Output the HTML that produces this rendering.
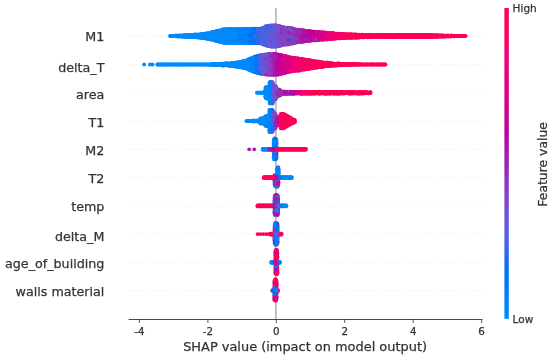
<!DOCTYPE html>
<html lang="en"><head><meta charset="utf-8"><title>SHAP summary plot</title>
<style>html,body{margin:0;padding:0;background:#fff}svg{display:block}text{font-family:"DejaVu Sans","Liberation Sans",sans-serif;fill:#333;stroke:#333;stroke-width:0.25px}.yl{font-size:12.7px;text-anchor:end}.xt{font-size:10.3px;text-anchor:middle}.xl{font-size:12.93px;text-anchor:middle}.cb{font-size:10.5px}.fv{font-size:12.4px;text-anchor:middle}
.k0{fill:#008bfb}
.k1{fill:#0087fa}
.k2{fill:#0083f8}
.k3{fill:#0080f7}
.k4{fill:#007cf5}
.k5{fill:#0078f3}
.k6{fill:#0074f0}
.k7{fill:#0070ed}
.k8{fill:#296bea}
.k9{fill:#3f67e6}
.k10{fill:#4e62e2}
.k11{fill:#5b5dde}
.k12{fill:#6658d9}
.k13{fill:#6f52d4}
.k14{fill:#784dcf}
.k15{fill:#8047c9}
.k16{fill:#8740c3}
.k17{fill:#8d39bd}
.k18{fill:#9331b7}
.k19{fill:#9828b0}
.k20{fill:#9f20ab}
.k21{fill:#a819a8}
.k22{fill:#b010a5}
.k23{fill:#b803a1}
.k24{fill:#bf009d}
.k25{fill:#c60099}
.k26{fill:#cd0095}
.k27{fill:#d30090}
.k28{fill:#d9008c}
.k29{fill:#de0087}
.k30{fill:#e30082}
.k31{fill:#e8007d}
.k32{fill:#ed0078}
.k33{fill:#f10072}
.k34{fill:#f5006d}
.k35{fill:#f80068}
.k36{fill:#fb0062}
.k37{fill:#fe005d}
.k38{fill:#ff0057}
.k39{fill:#ff0051}
</style></head><body>
<svg width="550" height="358" viewBox="0 0 550 358">
<rect width="550" height="358" fill="#fff"/>
<defs><linearGradient id="g" x1="0" y1="1" x2="0" y2="0">
<stop offset="0" stop-color="#008bfb"/>
<stop offset="0.05" stop-color="#0084f9"/>
<stop offset="0.1" stop-color="#007cf5"/>
<stop offset="0.15" stop-color="#0074f0"/>
<stop offset="0.2" stop-color="#236cea"/>
<stop offset="0.25" stop-color="#4b63e3"/>
<stop offset="0.3" stop-color="#6359da"/>
<stop offset="0.35" stop-color="#754fd1"/>
<stop offset="0.4" stop-color="#8443c6"/>
<stop offset="0.45" stop-color="#9135ba"/>
<stop offset="0.5" stop-color="#9b23ad"/>
<stop offset="0.55" stop-color="#ab15a7"/>
<stop offset="0.6" stop-color="#bb00a0"/>
<stop offset="0.65" stop-color="#c80098"/>
<stop offset="0.7" stop-color="#d5008f"/>
<stop offset="0.75" stop-color="#e00086"/>
<stop offset="0.8" stop-color="#e9007c"/>
<stop offset="0.85" stop-color="#f20072"/>
<stop offset="0.9" stop-color="#f90067"/>
<stop offset="0.95" stop-color="#fe005c"/>
<stop offset="1" stop-color="#ff0051"/>
</linearGradient></defs>
<line x1="275.9" y1="8" x2="275.9" y2="319.5" stroke="#999" stroke-width="1.2"/>
<line x1="128.6" y1="36.20" x2="482.4" y2="36.20" stroke="#ccc" stroke-width="0.6" stroke-dasharray="0.6 2.34"/>
<line x1="128.6" y1="64.47" x2="482.4" y2="64.47" stroke="#ccc" stroke-width="0.6" stroke-dasharray="0.6 2.34"/>
<line x1="128.6" y1="92.74" x2="482.4" y2="92.74" stroke="#ccc" stroke-width="0.6" stroke-dasharray="0.6 2.34"/>
<line x1="128.6" y1="121.01" x2="482.4" y2="121.01" stroke="#ccc" stroke-width="0.6" stroke-dasharray="0.6 2.34"/>
<line x1="128.6" y1="149.28" x2="482.4" y2="149.28" stroke="#ccc" stroke-width="0.6" stroke-dasharray="0.6 2.34"/>
<line x1="128.6" y1="177.55" x2="482.4" y2="177.55" stroke="#ccc" stroke-width="0.6" stroke-dasharray="0.6 2.34"/>
<line x1="128.6" y1="205.82" x2="482.4" y2="205.82" stroke="#ccc" stroke-width="0.6" stroke-dasharray="0.6 2.34"/>
<line x1="128.6" y1="234.09" x2="482.4" y2="234.09" stroke="#ccc" stroke-width="0.6" stroke-dasharray="0.6 2.34"/>
<line x1="128.6" y1="262.36" x2="482.4" y2="262.36" stroke="#ccc" stroke-width="0.6" stroke-dasharray="0.6 2.34"/>
<line x1="128.6" y1="290.63" x2="482.4" y2="290.63" stroke="#ccc" stroke-width="0.6" stroke-dasharray="0.6 2.34"/>
<g>
<circle class="k19" cx="293.9" cy="29.9" r="1.9"/>
<circle class="k1" cx="246.1" cy="37.6" r="1.9"/>
<circle class="k21" cx="304.8" cy="36.0" r="1.9"/>
<circle class="k5" cx="247.8" cy="30.2" r="1.9"/>
<circle class="k38" cx="423.1" cy="37.1" r="1.9"/>
<circle class="k6" cx="255.7" cy="42.2" r="1.9"/>
<circle class="k34" cx="331.8" cy="35.6" r="1.9"/>
<circle class="k0" cx="229.5" cy="40.7" r="1.9"/>
<circle class="k14" cx="283.9" cy="41.9" r="1.9"/>
<circle class="k11" cx="274.8" cy="42.0" r="1.9"/>
<circle class="k19" cx="296.3" cy="35.7" r="1.9"/>
<circle class="k5" cx="254.1" cy="33.0" r="1.9"/>
<circle class="k0" cx="216.7" cy="39.7" r="1.9"/>
<circle class="k26" cx="313.3" cy="39.3" r="1.9"/>
<circle class="k21" cx="304.7" cy="30.7" r="1.9"/>
<circle class="k39" cx="462.0" cy="36.0" r="1.9"/>
<circle class="k0" cx="225.0" cy="36.0" r="1.9"/>
<circle class="k31" cx="324.4" cy="32.7" r="1.9"/>
<circle class="k9" cx="270.3" cy="33.1" r="1.9"/>
<circle class="k39" cx="439.5" cy="35.6" r="1.9"/>
<circle class="k0" cx="218.6" cy="36.9" r="1.9"/>
<circle class="k11" cx="279.1" cy="42.4" r="1.9"/>
<circle class="k11" cx="258.9" cy="40.8" r="1.9"/>
<circle class="k0" cx="214.3" cy="40.1" r="1.9"/>
<circle class="k1" cx="212.4" cy="32.0" r="1.9"/>
<circle class="k21" cx="305.1" cy="30.9" r="1.9"/>
<circle class="k0" cx="198.6" cy="34.5" r="1.9"/>
<circle class="k26" cx="315.9" cy="35.3" r="1.9"/>
<circle class="k1" cx="237.4" cy="39.9" r="1.9"/>
<circle class="k0" cx="224.6" cy="39.2" r="1.9"/>
<circle class="k17" cx="292.3" cy="30.7" r="1.9"/>
<circle class="k0" cx="216.4" cy="34.1" r="1.9"/>
<circle class="k9" cx="258.3" cy="40.9" r="1.9"/>
<circle class="k0" cx="179.7" cy="36.5" r="1.9"/>
<circle class="k18" cx="291.4" cy="37.1" r="1.9"/>
<circle class="k12" cx="279.5" cy="35.9" r="1.9"/>
<circle class="k0" cx="219.0" cy="36.1" r="1.9"/>
<circle class="k12" cx="277.5" cy="45.1" r="1.9"/>
<circle class="k16" cx="290.0" cy="34.0" r="1.9"/>
<circle class="k15" cx="281.5" cy="27.0" r="1.9"/>
<circle class="k12" cx="276.3" cy="28.6" r="1.9"/>
<circle class="k3" cx="243.1" cy="36.7" r="1.9"/>
<circle class="k38" cx="366.9" cy="36.1" r="1.9"/>
<circle class="k17" cx="291.9" cy="33.7" r="1.9"/>
<circle class="k39" cx="441.4" cy="35.4" r="1.9"/>
<circle class="k9" cx="263.7" cy="27.8" r="1.9"/>
<circle class="k11" cx="259.5" cy="42.4" r="1.9"/>
<circle class="k16" cx="288.4" cy="36.3" r="1.9"/>
<circle class="k10" cx="271.5" cy="41.2" r="1.9"/>
<circle class="k3" cx="242.1" cy="29.9" r="1.9"/>
<circle class="k36" cx="351.7" cy="35.2" r="1.9"/>
<circle class="k0" cx="193.4" cy="37.3" r="1.9"/>
<circle class="k14" cx="282.7" cy="39.0" r="1.9"/>
<circle class="k27" cx="310.7" cy="37.1" r="1.9"/>
<circle class="k16" cx="286.3" cy="41.9" r="1.9"/>
<circle class="k27" cx="312.6" cy="33.8" r="1.9"/>
<circle class="k0" cx="207.7" cy="38.8" r="1.9"/>
<circle class="k16" cx="290.4" cy="37.4" r="1.9"/>
<circle class="k0" cx="225.4" cy="31.7" r="1.9"/>
<circle class="k37" cx="357.5" cy="36.4" r="1.9"/>
<circle class="k0" cx="227.4" cy="34.6" r="1.9"/>
<circle class="k36" cx="356.3" cy="34.7" r="1.9"/>
<circle class="k13" cx="274.1" cy="43.3" r="1.9"/>
<circle class="k5" cx="249.9" cy="39.9" r="1.9"/>
<circle class="k25" cx="310.3" cy="38.4" r="1.9"/>
<circle class="k0" cx="181.3" cy="36.4" r="1.9"/>
<circle class="k0" cx="221.6" cy="37.5" r="1.9"/>
<circle class="k0" cx="193.8" cy="35.0" r="1.9"/>
<circle class="k4" cx="252.4" cy="40.6" r="1.9"/>
<circle class="k7" cx="271.1" cy="34.1" r="1.9"/>
<circle class="k9" cx="256.8" cy="28.9" r="1.9"/>
<circle class="k0" cx="217.8" cy="36.8" r="1.9"/>
<circle class="k0" cx="214.1" cy="35.8" r="1.9"/>
<circle class="k0" cx="218.1" cy="39.0" r="1.9"/>
<circle class="k10" cx="274.4" cy="33.4" r="1.9"/>
<circle class="k38" cx="342.9" cy="38.2" r="1.9"/>
<circle class="k29" cx="323.6" cy="39.5" r="1.9"/>
<circle class="k22" cx="309.2" cy="39.4" r="1.9"/>
<circle class="k10" cx="269.9" cy="30.8" r="1.9"/>
<circle class="k0" cx="216.6" cy="38.8" r="1.9"/>
<circle class="k12" cx="266.9" cy="37.9" r="1.9"/>
<circle class="k22" cx="302.2" cy="41.4" r="1.9"/>
<circle class="k21" cx="296.6" cy="29.7" r="1.9"/>
<circle class="k11" cx="266.9" cy="35.1" r="1.9"/>
<circle class="k39" cx="388.6" cy="37.0" r="1.9"/>
<circle class="k11" cx="272.0" cy="37.4" r="1.9"/>
<circle class="k33" cx="331.7" cy="33.2" r="1.9"/>
<circle class="k23" cx="309.9" cy="37.0" r="1.9"/>
<circle class="k32" cx="330.8" cy="34.1" r="1.9"/>
<circle class="k1" cx="194.3" cy="37.2" r="1.9"/>
<circle class="k0" cx="210.8" cy="34.7" r="1.9"/>
<circle class="k37" cx="332.3" cy="33.1" r="1.9"/>
<circle class="k17" cx="292.0" cy="42.8" r="1.9"/>
<circle class="k13" cx="276.7" cy="46.4" r="1.9"/>
<circle class="k1" cx="228.5" cy="32.9" r="1.9"/>
<circle class="k8" cx="269.3" cy="39.9" r="1.9"/>
<circle class="k5" cx="251.6" cy="41.7" r="1.9"/>
<circle class="k12" cx="270.0" cy="44.6" r="1.9"/>
<circle class="k25" cx="309.4" cy="32.7" r="1.9"/>
<circle class="k1" cx="229.6" cy="32.8" r="1.9"/>
<circle class="k18" cx="296.4" cy="34.6" r="1.9"/>
<circle class="k13" cx="264.2" cy="31.8" r="1.9"/>
<circle class="k2" cx="234.2" cy="36.0" r="1.9"/>
<circle class="k0" cx="219.8" cy="30.5" r="1.9"/>
<circle class="k26" cx="314.8" cy="40.4" r="1.9"/>
<circle class="k25" cx="311.5" cy="35.0" r="1.9"/>
<circle class="k18" cx="293.2" cy="32.2" r="1.9"/>
<circle class="k17" cx="283.2" cy="37.0" r="1.9"/>
<circle class="k6" cx="256.4" cy="34.3" r="1.9"/>
<circle class="k5" cx="248.8" cy="30.4" r="1.9"/>
<circle class="k38" cx="402.7" cy="36.1" r="1.9"/>
<circle class="k0" cx="230.8" cy="30.5" r="1.9"/>
<circle class="k8" cx="265.4" cy="35.7" r="1.9"/>
<circle class="k6" cx="255.7" cy="36.2" r="1.9"/>
<circle class="k13" cx="269.1" cy="38.9" r="1.9"/>
<circle class="k8" cx="266.2" cy="40.9" r="1.9"/>
<circle class="k0" cx="231.8" cy="33.7" r="1.9"/>
<circle class="k19" cx="297.2" cy="37.5" r="1.9"/>
<circle class="k39" cx="451.1" cy="35.5" r="1.9"/>
<circle class="k15" cx="282.2" cy="39.6" r="1.9"/>
<circle class="k10" cx="258.1" cy="41.9" r="1.9"/>
<circle class="k39" cx="385.9" cy="35.2" r="1.9"/>
<circle class="k17" cx="292.7" cy="36.8" r="1.9"/>
<circle class="k36" cx="337.5" cy="33.9" r="1.9"/>
<circle class="k39" cx="421.0" cy="36.1" r="1.9"/>
<circle class="k0" cx="214.7" cy="36.8" r="1.9"/>
<circle class="k7" cx="263.6" cy="30.7" r="1.9"/>
<circle class="k37" cx="355.2" cy="36.8" r="1.9"/>
<circle class="k1" cx="230.7" cy="37.0" r="1.9"/>
<circle class="k0" cx="217.4" cy="31.8" r="1.9"/>
<circle class="k33" cx="335.7" cy="37.2" r="1.9"/>
<circle class="k5" cx="249.4" cy="39.6" r="1.9"/>
<circle class="k39" cx="382.4" cy="35.2" r="1.9"/>
<circle class="k39" cx="434.7" cy="36.6" r="1.9"/>
<circle class="k19" cx="328.6" cy="36.7" r="1.9"/>
<circle class="k38" cx="362.4" cy="36.0" r="1.9"/>
<circle class="k21" cx="299.8" cy="29.9" r="1.9"/>
<circle class="k0" cx="227.1" cy="29.3" r="1.9"/>
<circle class="k4" cx="241.1" cy="28.9" r="1.9"/>
<circle class="k13" cx="278.3" cy="41.4" r="1.9"/>
<circle class="k39" cx="375.6" cy="34.8" r="1.9"/>
<circle class="k10" cx="273.5" cy="35.4" r="1.9"/>
<circle class="k13" cx="277.8" cy="33.5" r="1.9"/>
<circle class="k17" cx="280.3" cy="37.9" r="1.9"/>
<circle class="k1" cx="239.8" cy="40.5" r="1.9"/>
<circle class="k32" cx="328.6" cy="39.2" r="1.9"/>
<circle class="k39" cx="371.4" cy="35.3" r="1.9"/>
<circle class="k11" cx="278.0" cy="45.0" r="1.9"/>
<circle class="k0" cx="232.8" cy="42.8" r="1.9"/>
<circle class="k39" cx="411.7" cy="36.8" r="1.9"/>
<circle class="k0" cx="207.6" cy="37.8" r="1.9"/>
<circle class="k23" cx="307.9" cy="34.5" r="1.9"/>
<circle class="k10" cx="270.3" cy="36.3" r="1.9"/>
<circle class="k27" cx="317.4" cy="39.0" r="1.9"/>
<circle class="k3" cx="244.3" cy="39.9" r="1.9"/>
<circle class="k5" cx="251.5" cy="38.8" r="1.9"/>
<circle class="k10" cx="266.0" cy="37.4" r="1.9"/>
<circle class="k13" cx="286.4" cy="39.6" r="1.9"/>
<circle class="k39" cx="346.8" cy="35.6" r="1.9"/>
<circle class="k0" cx="170.7" cy="36.0" r="1.9"/>
<circle class="k10" cx="275.0" cy="38.6" r="1.9"/>
<circle class="k23" cx="306.1" cy="36.8" r="1.9"/>
<circle class="k0" cx="215.0" cy="38.0" r="1.9"/>
<circle class="k13" cx="277.4" cy="36.5" r="1.9"/>
<circle class="k26" cx="312.7" cy="37.2" r="1.9"/>
<circle class="k11" cx="264.4" cy="35.8" r="1.9"/>
<circle class="k0" cx="225.0" cy="40.4" r="1.9"/>
<circle class="k13" cx="284.2" cy="36.3" r="1.9"/>
<circle class="k39" cx="359.1" cy="37.6" r="1.9"/>
<circle class="k38" cx="367.6" cy="36.0" r="1.9"/>
<circle class="k39" cx="429.9" cy="35.2" r="1.9"/>
<circle class="k39" cx="395.0" cy="37.0" r="1.9"/>
<circle class="k10" cx="261.3" cy="42.4" r="1.9"/>
<circle class="k0" cx="221.5" cy="36.4" r="1.9"/>
<circle class="k21" cx="301.6" cy="40.5" r="1.9"/>
<circle class="k0" cx="218.8" cy="38.3" r="1.9"/>
<circle class="k23" cx="303.9" cy="31.8" r="1.9"/>
<circle class="k39" cx="388.0" cy="35.0" r="1.9"/>
<circle class="k33" cx="334.0" cy="35.7" r="1.9"/>
<circle class="k1" cx="236.0" cy="32.4" r="1.9"/>
<circle class="k0" cx="220.7" cy="39.4" r="1.9"/>
<circle class="k13" cx="278.1" cy="39.5" r="1.9"/>
<circle class="k0" cx="192.5" cy="34.9" r="1.9"/>
<circle class="k13" cx="289.0" cy="28.9" r="1.9"/>
<circle class="k0" cx="221.6" cy="41.1" r="1.9"/>
<circle class="k39" cx="366.0" cy="36.0" r="1.9"/>
<circle class="k11" cx="275.5" cy="36.8" r="1.9"/>
<circle class="k39" cx="412.8" cy="35.2" r="1.9"/>
<circle class="k0" cx="219.2" cy="32.8" r="1.9"/>
<circle class="k8" cx="271.0" cy="27.8" r="1.9"/>
<circle class="k27" cx="314.8" cy="36.9" r="1.9"/>
<circle class="k38" cx="383.1" cy="35.1" r="1.9"/>
<circle class="k17" cx="286.3" cy="30.2" r="1.9"/>
<circle class="k15" cx="275.1" cy="35.2" r="1.9"/>
<circle class="k12" cx="266.1" cy="27.3" r="1.9"/>
<circle class="k0" cx="220.0" cy="35.7" r="1.9"/>
<circle class="k14" cx="270.2" cy="40.8" r="1.9"/>
<circle class="k1" cx="232.7" cy="33.5" r="1.9"/>
<circle class="k1" cx="234.1" cy="41.5" r="1.9"/>
<circle class="k16" cx="286.0" cy="32.2" r="1.9"/>
<circle class="k15" cx="284.6" cy="35.5" r="1.9"/>
<circle class="k0" cx="190.1" cy="37.0" r="1.9"/>
<circle class="k38" cx="357.0" cy="37.6" r="1.9"/>
<circle class="k24" cx="317.1" cy="33.4" r="1.9"/>
<circle class="k0" cx="225.9" cy="30.6" r="1.9"/>
<circle class="k0" cx="225.3" cy="32.4" r="1.9"/>
<circle class="k11" cx="280.2" cy="27.8" r="1.9"/>
<circle class="k1" cx="216.3" cy="36.6" r="1.9"/>
<circle class="k5" cx="248.2" cy="37.8" r="1.9"/>
<circle class="k19" cx="295.0" cy="32.5" r="1.9"/>
<circle class="k0" cx="227.4" cy="36.3" r="1.9"/>
<circle class="k3" cx="245.3" cy="35.5" r="1.9"/>
<circle class="k0" cx="184.7" cy="36.4" r="1.9"/>
<circle class="k23" cx="306.0" cy="41.0" r="1.9"/>
<circle class="k0" cx="229.4" cy="39.6" r="1.9"/>
<circle class="k2" cx="242.9" cy="40.9" r="1.9"/>
<circle class="k19" cx="298.4" cy="32.1" r="1.9"/>
<circle class="k0" cx="191.1" cy="35.1" r="1.9"/>
<circle class="k31" cx="334.8" cy="35.6" r="1.9"/>
<circle class="k20" cx="299.7" cy="38.6" r="1.9"/>
<circle class="k32" cx="334.9" cy="36.6" r="1.9"/>
<circle class="k15" cx="281.4" cy="31.3" r="1.9"/>
<circle class="k9" cx="262.1" cy="29.3" r="1.9"/>
<circle class="k0" cx="190.8" cy="37.0" r="1.9"/>
<circle class="k39" cx="451.7" cy="36.2" r="1.9"/>
<circle class="k37" cx="351.9" cy="36.4" r="1.9"/>
<circle class="k39" cx="408.7" cy="36.9" r="1.9"/>
<circle class="k19" cx="295.5" cy="34.0" r="1.9"/>
<circle class="k37" cx="344.6" cy="35.6" r="1.9"/>
<circle class="k4" cx="242.8" cy="30.3" r="1.9"/>
<circle class="k3" cx="244.5" cy="29.2" r="1.9"/>
<circle class="k7" cx="257.4" cy="34.2" r="1.9"/>
<circle class="k14" cx="284.7" cy="44.5" r="1.9"/>
<circle class="k12" cx="274.2" cy="31.0" r="1.9"/>
<circle class="k3" cx="239.1" cy="30.3" r="1.9"/>
<circle class="k21" cx="301.9" cy="40.3" r="1.9"/>
<circle class="k0" cx="215.7" cy="33.5" r="1.9"/>
<circle class="k29" cx="315.9" cy="34.2" r="1.9"/>
<circle class="k10" cx="269.0" cy="31.0" r="1.9"/>
<circle class="k5" cx="247.4" cy="41.6" r="1.9"/>
<circle class="k1" cx="239.8" cy="38.7" r="1.9"/>
<circle class="k11" cx="263.6" cy="44.3" r="1.9"/>
<circle class="k16" cx="291.0" cy="31.7" r="1.9"/>
<circle class="k39" cx="371.1" cy="35.1" r="1.9"/>
<circle class="k0" cx="242.0" cy="33.3" r="1.9"/>
<circle class="k5" cx="249.9" cy="34.4" r="1.9"/>
<circle class="k13" cx="272.8" cy="33.2" r="1.9"/>
<circle class="k39" cx="441.2" cy="36.3" r="1.9"/>
<circle class="k3" cx="242.3" cy="32.4" r="1.9"/>
<circle class="k10" cx="259.5" cy="35.2" r="1.9"/>
<circle class="k39" cx="400.6" cy="37.1" r="1.9"/>
<circle class="k7" cx="253.8" cy="42.1" r="1.9"/>
<circle class="k38" cx="383.7" cy="36.2" r="1.9"/>
<circle class="k22" cx="305.1" cy="37.9" r="1.9"/>
<circle class="k35" cx="351.1" cy="36.8" r="1.9"/>
<circle class="k0" cx="227.8" cy="40.4" r="1.9"/>
<circle class="k39" cx="385.1" cy="37.0" r="1.9"/>
<circle class="k32" cx="328.5" cy="37.6" r="1.9"/>
<circle class="k9" cx="264.7" cy="37.4" r="1.9"/>
<circle class="k7" cx="255.6" cy="40.9" r="1.9"/>
<circle class="k29" cx="322.7" cy="37.0" r="1.9"/>
<circle class="k0" cx="178.0" cy="35.9" r="1.9"/>
<circle class="k16" cx="288.5" cy="37.4" r="1.9"/>
<circle class="k1" cx="242.8" cy="33.2" r="1.9"/>
<circle class="k21" cx="301.9" cy="34.7" r="1.9"/>
<circle class="k28" cx="320.4" cy="32.4" r="1.9"/>
<circle class="k0" cx="213.9" cy="32.8" r="1.9"/>
<circle class="k0" cx="218.0" cy="40.9" r="1.9"/>
<circle class="k16" cx="287.0" cy="42.1" r="1.9"/>
<circle class="k12" cx="271.8" cy="33.5" r="1.9"/>
<circle class="k13" cx="270.1" cy="34.4" r="1.9"/>
<circle class="k9" cx="270.0" cy="40.1" r="1.9"/>
<circle class="k13" cx="283.4" cy="37.5" r="1.9"/>
<circle class="k39" cx="370.8" cy="37.2" r="1.9"/>
<circle class="k0" cx="220.0" cy="40.3" r="1.9"/>
<circle class="k0" cx="224.5" cy="41.6" r="1.9"/>
<circle class="k25" cx="316.6" cy="32.1" r="1.9"/>
<circle class="k4" cx="254.7" cy="32.4" r="1.9"/>
<circle class="k10" cx="259.0" cy="42.1" r="1.9"/>
<circle class="k1" cx="237.3" cy="36.3" r="1.9"/>
<circle class="k12" cx="275.8" cy="40.8" r="1.9"/>
<circle class="k0" cx="228.2" cy="42.6" r="1.9"/>
<circle class="k38" cx="443.6" cy="36.7" r="1.9"/>
<circle class="k0" cx="223.4" cy="39.2" r="1.9"/>
<circle class="k1" cx="222.7" cy="29.4" r="1.9"/>
<circle class="k7" cx="258.7" cy="39.7" r="1.9"/>
<circle class="k10" cx="266.9" cy="40.2" r="1.9"/>
<circle class="k3" cx="251.9" cy="35.7" r="1.9"/>
<circle class="k0" cx="188.8" cy="35.3" r="1.9"/>
<circle class="k26" cx="319.5" cy="37.7" r="1.9"/>
<circle class="k3" cx="247.1" cy="30.9" r="1.9"/>
<circle class="k10" cx="267.6" cy="42.5" r="1.9"/>
<circle class="k39" cx="393.3" cy="36.1" r="1.9"/>
<circle class="k0" cx="221.0" cy="35.2" r="1.9"/>
<circle class="k18" cx="287.5" cy="39.8" r="1.9"/>
<circle class="k15" cx="288.3" cy="40.9" r="1.9"/>
<circle class="k0" cx="222.7" cy="34.8" r="1.9"/>
<circle class="k25" cx="318.0" cy="40.1" r="1.9"/>
<circle class="k36" cx="347.8" cy="35.3" r="1.9"/>
<circle class="k0" cx="224.3" cy="29.2" r="1.9"/>
<circle class="k8" cx="265.0" cy="27.9" r="1.9"/>
<circle class="k0" cx="220.3" cy="31.5" r="1.9"/>
<circle class="k8" cx="256.2" cy="41.8" r="1.9"/>
<circle class="k16" cx="293.2" cy="29.9" r="1.9"/>
<circle class="k20" cx="303.0" cy="30.2" r="1.9"/>
<circle class="k39" cx="416.6" cy="34.9" r="1.9"/>
<circle class="k1" cx="219.5" cy="34.0" r="1.9"/>
<circle class="k15" cx="284.4" cy="42.9" r="1.9"/>
<circle class="k5" cx="246.3" cy="38.4" r="1.9"/>
<circle class="k12" cx="271.0" cy="37.9" r="1.9"/>
<circle class="k39" cx="368.6" cy="35.0" r="1.9"/>
<circle class="k5" cx="251.8" cy="31.5" r="1.9"/>
<circle class="k5" cx="252.6" cy="34.4" r="1.9"/>
<circle class="k17" cx="288.7" cy="29.8" r="1.9"/>
<circle class="k14" cx="275.7" cy="33.4" r="1.9"/>
<circle class="k12" cx="279.0" cy="36.2" r="1.9"/>
<circle class="k30" cx="321.1" cy="34.6" r="1.9"/>
<circle class="k28" cx="318.8" cy="37.6" r="1.9"/>
<circle class="k39" cx="410.2" cy="35.3" r="1.9"/>
<circle class="k23" cx="309.2" cy="34.9" r="1.9"/>
<circle class="k39" cx="440.3" cy="36.7" r="1.9"/>
<circle class="k4" cx="246.3" cy="32.1" r="1.9"/>
<circle class="k0" cx="222.7" cy="32.0" r="1.9"/>
<circle class="k12" cx="278.3" cy="28.3" r="1.9"/>
<circle class="k39" cx="428.3" cy="35.1" r="1.9"/>
<circle class="k27" cx="316.5" cy="36.5" r="1.9"/>
<circle class="k39" cx="369.5" cy="34.7" r="1.9"/>
<circle class="k21" cx="306.8" cy="35.2" r="1.9"/>
<circle class="k13" cx="274.3" cy="44.2" r="1.9"/>
<circle class="k39" cx="364.4" cy="36.9" r="1.9"/>
<circle class="k3" cx="235.2" cy="39.7" r="1.9"/>
<circle class="k9" cx="270.0" cy="42.0" r="1.9"/>
<circle class="k39" cx="450.9" cy="36.6" r="1.9"/>
<circle class="k12" cx="271.8" cy="27.6" r="1.9"/>
<circle class="k16" cx="286.2" cy="41.0" r="1.9"/>
<circle class="k0" cx="232.0" cy="35.9" r="1.9"/>
<circle class="k16" cx="285.9" cy="37.5" r="1.9"/>
<circle class="k13" cx="271.6" cy="43.3" r="1.9"/>
<circle class="k14" cx="298.1" cy="36.8" r="1.9"/>
<circle class="k15" cx="286.1" cy="30.8" r="1.9"/>
<circle class="k38" cx="424.3" cy="37.2" r="1.9"/>
<circle class="k0" cx="226.1" cy="37.2" r="1.9"/>
<circle class="k1" cx="243.8" cy="38.8" r="1.9"/>
<circle class="k0" cx="212.5" cy="36.3" r="1.9"/>
<circle class="k13" cx="277.1" cy="27.7" r="1.9"/>
<circle class="k17" cx="287.5" cy="41.8" r="1.9"/>
<circle class="k18" cx="301.3" cy="39.7" r="1.9"/>
<circle class="k15" cx="293.1" cy="39.1" r="1.9"/>
<circle class="k19" cx="295.8" cy="29.6" r="1.9"/>
<circle class="k1" cx="236.3" cy="41.9" r="1.9"/>
<circle class="k8" cx="258.1" cy="35.2" r="1.9"/>
<circle class="k29" cx="321.0" cy="35.7" r="1.9"/>
<circle class="k0" cx="229.9" cy="36.2" r="1.9"/>
<circle class="k13" cx="273.2" cy="34.3" r="1.9"/>
<circle class="k38" cx="351.1" cy="34.5" r="1.9"/>
<circle class="k18" cx="290.1" cy="31.4" r="1.9"/>
<circle class="k23" cx="303.5" cy="41.3" r="1.9"/>
<circle class="k9" cx="263.5" cy="37.8" r="1.9"/>
<circle class="k14" cx="279.7" cy="43.6" r="1.9"/>
<circle class="k39" cx="427.0" cy="36.8" r="1.9"/>
<circle class="k25" cx="312.3" cy="31.6" r="1.9"/>
<circle class="k0" cx="259.9" cy="39.8" r="1.9"/>
<circle class="k6" cx="246.8" cy="39.6" r="1.9"/>
<circle class="k39" cx="358.8" cy="35.9" r="1.9"/>
<circle class="k1" cx="215.0" cy="34.8" r="1.9"/>
<circle class="k34" cx="334.6" cy="34.7" r="1.9"/>
<circle class="k30" cx="326.3" cy="32.8" r="1.9"/>
<circle class="k33" cx="335.0" cy="37.3" r="1.9"/>
<circle class="k14" cx="279.1" cy="30.5" r="1.9"/>
<circle class="k39" cx="366.7" cy="35.1" r="1.9"/>
<circle class="k39" cx="413.2" cy="35.0" r="1.9"/>
<circle class="k32" cx="328.5" cy="32.8" r="1.9"/>
<circle class="k0" cx="237.4" cy="34.5" r="1.9"/>
<circle class="k30" cx="333.1" cy="38.8" r="1.9"/>
<circle class="k1" cx="220.0" cy="38.2" r="1.9"/>
<circle class="k39" cx="370.2" cy="35.9" r="1.9"/>
<circle class="k14" cx="279.5" cy="37.0" r="1.9"/>
<circle class="k39" cx="374.7" cy="35.1" r="1.9"/>
<circle class="k36" cx="346.1" cy="37.9" r="1.9"/>
<circle class="k0" cx="238.0" cy="29.2" r="1.9"/>
<circle class="k0" cx="213.1" cy="35.4" r="1.9"/>
<circle class="k4" cx="242.8" cy="32.3" r="1.9"/>
<circle class="k17" cx="294.0" cy="41.1" r="1.9"/>
<circle class="k15" cx="273.0" cy="42.2" r="1.9"/>
<circle class="k39" cx="442.3" cy="36.4" r="1.9"/>
<circle class="k21" cx="290.9" cy="32.8" r="1.9"/>
<circle class="k3" cx="249.2" cy="29.2" r="1.9"/>
<circle class="k19" cx="299.0" cy="30.9" r="1.9"/>
<circle class="k39" cx="452.8" cy="35.9" r="1.9"/>
<circle class="k8" cx="254.3" cy="29.1" r="1.9"/>
<circle class="k38" cx="345.8" cy="35.4" r="1.9"/>
<circle class="k0" cx="232.3" cy="31.1" r="1.9"/>
<circle class="k7" cx="253.2" cy="31.5" r="1.9"/>
<circle class="k1" cx="225.4" cy="37.1" r="1.9"/>
<circle class="k0" cx="225.8" cy="41.4" r="1.9"/>
<circle class="k2" cx="243.7" cy="29.2" r="1.9"/>
<circle class="k39" cx="436.8" cy="36.9" r="1.9"/>
<circle class="k39" cx="396.6" cy="36.7" r="1.9"/>
<circle class="k17" cx="287.2" cy="32.3" r="1.9"/>
<circle class="k7" cx="254.6" cy="33.4" r="1.9"/>
<circle class="k9" cx="265.6" cy="44.2" r="1.9"/>
<circle class="k0" cx="232.5" cy="39.6" r="1.9"/>
<circle class="k37" cx="346.2" cy="36.9" r="1.9"/>
<circle class="k34" cx="340.3" cy="34.9" r="1.9"/>
<circle class="k11" cx="274.8" cy="25.3" r="1.9"/>
<circle class="k0" cx="229.1" cy="41.9" r="1.9"/>
<circle class="k12" cx="274.9" cy="30.0" r="1.9"/>
<circle class="k0" cx="193.3" cy="35.1" r="1.9"/>
<circle class="k12" cx="266.7" cy="37.1" r="1.9"/>
<circle class="k19" cx="298.9" cy="32.0" r="1.9"/>
<circle class="k5" cx="243.7" cy="40.0" r="1.9"/>
<circle class="k0" cx="231.5" cy="32.4" r="1.9"/>
<circle class="k4" cx="244.6" cy="43.1" r="1.9"/>
<circle class="k12" cx="280.4" cy="41.0" r="1.9"/>
<circle class="k16" cx="283.4" cy="40.8" r="1.9"/>
<circle class="k33" cx="329.4" cy="33.1" r="1.9"/>
<circle class="k0" cx="227.6" cy="39.7" r="1.9"/>
<circle class="k3" cx="247.2" cy="30.1" r="1.9"/>
<circle class="k16" cx="291.1" cy="39.1" r="1.9"/>
<circle class="k30" cx="323.0" cy="32.5" r="1.9"/>
<circle class="k0" cx="231.6" cy="34.7" r="1.9"/>
<circle class="k3" cx="242.7" cy="31.0" r="1.9"/>
<circle class="k21" cx="299.2" cy="36.3" r="1.9"/>
<circle class="k39" cx="371.1" cy="36.3" r="1.9"/>
<circle class="k12" cx="266.1" cy="31.8" r="1.9"/>
<circle class="k11" cx="265.4" cy="43.0" r="1.9"/>
<circle class="k12" cx="267.7" cy="40.6" r="1.9"/>
<circle class="k39" cx="428.8" cy="35.8" r="1.9"/>
<circle class="k12" cx="270.3" cy="38.5" r="1.9"/>
<circle class="k8" cx="262.9" cy="40.6" r="1.9"/>
<circle class="k13" cx="275.6" cy="39.9" r="1.9"/>
<circle class="k39" cx="393.5" cy="36.8" r="1.9"/>
<circle class="k10" cx="271.6" cy="39.7" r="1.9"/>
<circle class="k21" cx="298.4" cy="37.7" r="1.9"/>
<circle class="k39" cx="387.5" cy="37.0" r="1.9"/>
<circle class="k10" cx="260.0" cy="34.4" r="1.9"/>
<circle class="k1" cx="213.9" cy="38.3" r="1.9"/>
<circle class="k23" cx="307.9" cy="39.8" r="1.9"/>
<circle class="k0" cx="196.7" cy="35.6" r="1.9"/>
<circle class="k12" cx="271.9" cy="41.8" r="1.9"/>
<circle class="k21" cx="302.0" cy="38.1" r="1.9"/>
<circle class="k0" cx="186.0" cy="36.9" r="1.9"/>
<circle class="k37" cx="340.0" cy="38.3" r="1.9"/>
<circle class="k0" cx="209.5" cy="33.3" r="1.9"/>
<circle class="k33" cx="337.8" cy="37.4" r="1.9"/>
<circle class="k39" cx="395.7" cy="36.7" r="1.9"/>
<circle class="k39" cx="425.0" cy="36.3" r="1.9"/>
<circle class="k28" cx="327.8" cy="39.1" r="1.9"/>
<circle class="k1" cx="230.9" cy="31.3" r="1.9"/>
<circle class="k5" cx="245.8" cy="36.5" r="1.9"/>
<circle class="k6" cx="249.2" cy="31.2" r="1.9"/>
<circle class="k9" cx="264.7" cy="38.4" r="1.9"/>
<circle class="k26" cx="311.0" cy="31.3" r="1.9"/>
<circle class="k11" cx="267.4" cy="29.2" r="1.9"/>
<circle class="k3" cx="239.9" cy="41.6" r="1.9"/>
<circle class="k25" cx="310.2" cy="34.8" r="1.9"/>
<circle class="k1" cx="188.0" cy="35.1" r="1.9"/>
<circle class="k14" cx="282.8" cy="38.4" r="1.9"/>
<circle class="k5" cx="250.3" cy="38.9" r="1.9"/>
<circle class="k18" cx="292.2" cy="29.3" r="1.9"/>
<circle class="k38" cx="351.1" cy="35.7" r="1.9"/>
<circle class="k12" cx="269.2" cy="45.3" r="1.9"/>
<circle class="k39" cx="445.8" cy="36.6" r="1.9"/>
<circle class="k0" cx="228.3" cy="37.3" r="1.9"/>
<circle class="k12" cx="271.8" cy="46.8" r="1.9"/>
<circle class="k14" cx="270.7" cy="40.9" r="1.9"/>
<circle class="k38" cx="357.9" cy="37.5" r="1.9"/>
<circle class="k16" cx="289.9" cy="27.9" r="1.9"/>
<circle class="k33" cx="330.1" cy="35.4" r="1.9"/>
<circle class="k18" cx="294.1" cy="32.4" r="1.9"/>
<circle class="k39" cx="445.9" cy="35.9" r="1.9"/>
<circle class="k15" cx="282.2" cy="27.2" r="1.9"/>
<circle class="k20" cx="300.4" cy="31.3" r="1.9"/>
<circle class="k13" cx="272.6" cy="29.8" r="1.9"/>
<circle class="k0" cx="216.5" cy="31.0" r="1.9"/>
<circle class="k12" cx="267.0" cy="33.0" r="1.9"/>
<circle class="k18" cx="292.7" cy="39.0" r="1.9"/>
<circle class="k18" cx="294.7" cy="29.3" r="1.9"/>
<circle class="k34" cx="336.4" cy="38.3" r="1.9"/>
<circle class="k0" cx="205.0" cy="33.9" r="1.9"/>
<circle class="k38" cx="386.3" cy="36.7" r="1.9"/>
<circle class="k1" cx="247.0" cy="40.9" r="1.9"/>
<circle class="k4" cx="251.2" cy="43.2" r="1.9"/>
<circle class="k13" cx="277.9" cy="38.1" r="1.9"/>
<circle class="k1" cx="170.0" cy="36.0" r="1.9"/>
<circle class="k39" cx="388.7" cy="36.2" r="1.9"/>
<circle class="k0" cx="215.8" cy="31.3" r="1.9"/>
<circle class="k0" cx="226.2" cy="29.2" r="1.9"/>
<circle class="k36" cx="353.0" cy="34.6" r="1.9"/>
<circle class="k0" cx="207.7" cy="34.4" r="1.9"/>
<circle class="k16" cx="287.5" cy="40.7" r="1.9"/>
<circle class="k16" cx="283.1" cy="44.7" r="1.9"/>
<circle class="k14" cx="282.4" cy="31.3" r="1.9"/>
<circle class="k5" cx="252.3" cy="29.8" r="1.9"/>
<circle class="k17" cx="286.8" cy="39.5" r="1.9"/>
<circle class="k0" cx="227.9" cy="33.9" r="1.9"/>
<circle class="k39" cx="419.2" cy="37.0" r="1.9"/>
<circle class="k12" cx="272.6" cy="27.8" r="1.9"/>
<circle class="k9" cx="269.4" cy="41.8" r="1.9"/>
<circle class="k32" cx="326.8" cy="37.9" r="1.9"/>
<circle class="k13" cx="276.3" cy="34.2" r="1.9"/>
<circle class="k0" cx="212.0" cy="33.8" r="1.9"/>
<circle class="k14" cx="274.1" cy="42.0" r="1.9"/>
<circle class="k1" cx="225.2" cy="38.4" r="1.9"/>
<circle class="k39" cx="405.3" cy="35.9" r="1.9"/>
<circle class="k8" cx="241.3" cy="40.8" r="1.9"/>
<circle class="k6" cx="251.6" cy="32.2" r="1.9"/>
<circle class="k14" cx="269.9" cy="43.3" r="1.9"/>
<circle class="k7" cx="254.0" cy="32.4" r="1.9"/>
<circle class="k0" cx="224.5" cy="33.5" r="1.9"/>
<circle class="k12" cx="277.4" cy="34.2" r="1.9"/>
<circle class="k38" cx="367.5" cy="37.3" r="1.9"/>
<circle class="k14" cx="282.3" cy="30.7" r="1.9"/>
<circle class="k1" cx="234.1" cy="30.4" r="1.9"/>
<circle class="k12" cx="266.8" cy="41.2" r="1.9"/>
<circle class="k11" cx="273.4" cy="38.7" r="1.9"/>
<circle class="k8" cx="260.2" cy="28.8" r="1.9"/>
<circle class="k10" cx="258.0" cy="42.9" r="1.9"/>
<circle class="k7" cx="258.4" cy="37.4" r="1.9"/>
<circle class="k2" cx="238.3" cy="35.2" r="1.9"/>
<circle class="k20" cx="297.3" cy="36.8" r="1.9"/>
<circle class="k39" cx="403.0" cy="37.0" r="1.9"/>
<circle class="k9" cx="266.0" cy="45.3" r="1.9"/>
<circle class="k15" cx="275.1" cy="33.2" r="1.9"/>
<circle class="k9" cx="258.8" cy="34.4" r="1.9"/>
<circle class="k9" cx="276.8" cy="36.5" r="1.9"/>
<circle class="k0" cx="230.3" cy="32.6" r="1.9"/>
<circle class="k2" cx="241.5" cy="37.3" r="1.9"/>
<circle class="k19" cx="295.6" cy="31.5" r="1.9"/>
<circle class="k1" cx="248.3" cy="35.2" r="1.9"/>
<circle class="k5" cx="247.0" cy="29.3" r="1.9"/>
<circle class="k29" cx="321.9" cy="38.6" r="1.9"/>
<circle class="k10" cx="259.5" cy="36.3" r="1.9"/>
<circle class="k8" cx="263.0" cy="44.3" r="1.9"/>
<circle class="k39" cx="431.1" cy="36.5" r="1.9"/>
<circle class="k39" cx="374.2" cy="35.2" r="1.9"/>
<circle class="k38" cx="353.9" cy="34.7" r="1.9"/>
<circle class="k35" cx="352.7" cy="34.3" r="1.9"/>
<circle class="k2" cx="244.3" cy="31.3" r="1.9"/>
<circle class="k21" cx="298.6" cy="29.9" r="1.9"/>
<circle class="k16" cx="281.3" cy="45.2" r="1.9"/>
<circle class="k24" cx="309.1" cy="38.1" r="1.9"/>
<circle class="k13" cx="274.2" cy="32.1" r="1.9"/>
<circle class="k0" cx="223.8" cy="30.7" r="1.9"/>
<circle class="k38" cx="422.8" cy="36.2" r="1.9"/>
<circle class="k0" cx="233.2" cy="30.5" r="1.9"/>
<circle class="k32" cx="343.6" cy="37.7" r="1.9"/>
<circle class="k2" cx="234.6" cy="32.6" r="1.9"/>
<circle class="k19" cx="308.4" cy="33.6" r="1.9"/>
<circle class="k39" cx="461.1" cy="36.0" r="1.9"/>
<circle class="k10" cx="269.5" cy="43.2" r="1.9"/>
<circle class="k7" cx="257.3" cy="42.2" r="1.9"/>
<circle class="k0" cx="229.2" cy="42.9" r="1.9"/>
<circle class="k12" cx="278.8" cy="29.1" r="1.9"/>
<circle class="k24" cx="311.7" cy="33.0" r="1.9"/>
<circle class="k11" cx="267.6" cy="28.5" r="1.9"/>
<circle class="k9" cx="269.4" cy="41.0" r="1.9"/>
<circle class="k5" cx="252.3" cy="31.4" r="1.9"/>
<circle class="k13" cx="280.6" cy="42.2" r="1.9"/>
<circle class="k29" cx="288.6" cy="38.7" r="1.9"/>
<circle class="k9" cx="267.7" cy="46.1" r="1.9"/>
<circle class="k15" cx="281.0" cy="37.6" r="1.9"/>
<circle class="k22" cx="306.8" cy="39.0" r="1.9"/>
<circle class="k3" cx="239.6" cy="31.5" r="1.9"/>
<circle class="k14" cx="283.8" cy="35.6" r="1.9"/>
<circle class="k10" cx="270.4" cy="26.4" r="1.9"/>
<circle class="k39" cx="456.8" cy="36.0" r="1.9"/>
<circle class="k27" cx="318.2" cy="37.7" r="1.9"/>
<circle class="k14" cx="275.7" cy="27.7" r="1.9"/>
<circle class="k20" cx="297.4" cy="41.4" r="1.9"/>
<circle class="k0" cx="174.0" cy="36.0" r="1.9"/>
<circle class="k1" cx="232.8" cy="38.0" r="1.9"/>
<circle class="k39" cx="446.9" cy="35.6" r="1.9"/>
<circle class="k1" cx="236.4" cy="32.6" r="1.9"/>
<circle class="k3" cx="242.0" cy="28.9" r="1.9"/>
<circle class="k8" cx="259.6" cy="43.3" r="1.9"/>
<circle class="k39" cx="367.8" cy="35.1" r="1.9"/>
<circle class="k38" cx="363.4" cy="37.3" r="1.9"/>
<circle class="k13" cx="285.1" cy="31.2" r="1.9"/>
<circle class="k15" cx="284.7" cy="39.8" r="1.9"/>
<circle class="k0" cx="215.7" cy="37.0" r="1.9"/>
<circle class="k2" cx="247.5" cy="35.2" r="1.9"/>
<circle class="k0" cx="225.3" cy="30.6" r="1.9"/>
<circle class="k39" cx="437.3" cy="36.8" r="1.9"/>
<circle class="k39" cx="459.7" cy="36.0" r="1.9"/>
<circle class="k1" cx="228.7" cy="29.4" r="1.9"/>
<circle class="k38" cx="352.7" cy="36.3" r="1.9"/>
<circle class="k38" cx="381.4" cy="36.9" r="1.9"/>
<circle class="k7" cx="253.1" cy="40.6" r="1.9"/>
<circle class="k16" cx="289.3" cy="29.9" r="1.9"/>
<circle class="k19" cx="292.5" cy="43.5" r="1.9"/>
<circle class="k0" cx="222.0" cy="41.1" r="1.9"/>
<circle class="k12" cx="273.1" cy="27.8" r="1.9"/>
<circle class="k1" cx="230.9" cy="29.4" r="1.9"/>
<circle class="k32" cx="326.8" cy="33.6" r="1.9"/>
<circle class="k2" cx="240.6" cy="34.3" r="1.9"/>
<circle class="k0" cx="206.9" cy="34.4" r="1.9"/>
<circle class="k38" cx="341.3" cy="38.2" r="1.9"/>
<circle class="k33" cx="333.9" cy="33.2" r="1.9"/>
<circle class="k0" cx="206.2" cy="34.3" r="1.9"/>
<circle class="k1" cx="190.3" cy="35.7" r="1.9"/>
<circle class="k1" cx="233.5" cy="40.3" r="1.9"/>
<circle class="k29" cx="319.7" cy="36.5" r="1.9"/>
<circle class="k28" cx="319.8" cy="39.5" r="1.9"/>
<circle class="k1" cx="204.3" cy="34.0" r="1.9"/>
<circle class="k7" cx="255.9" cy="32.0" r="1.9"/>
<circle class="k39" cx="392.2" cy="36.1" r="1.9"/>
<circle class="k11" cx="268.7" cy="38.2" r="1.9"/>
<circle class="k0" cx="189.3" cy="34.9" r="1.9"/>
<circle class="k23" cx="307.4" cy="31.9" r="1.9"/>
<circle class="k11" cx="275.1" cy="37.9" r="1.9"/>
<circle class="k29" cx="323.9" cy="37.0" r="1.9"/>
<circle class="k0" cx="200.2" cy="37.4" r="1.9"/>
<circle class="k0" cx="224.4" cy="38.3" r="1.9"/>
<circle class="k5" cx="250.1" cy="29.1" r="1.9"/>
<circle class="k8" cx="256.6" cy="29.9" r="1.9"/>
<circle class="k15" cx="278.1" cy="46.4" r="1.9"/>
<circle class="k3" cx="238.9" cy="39.6" r="1.9"/>
<circle class="k0" cx="233.3" cy="41.9" r="1.9"/>
<circle class="k0" cx="219.7" cy="32.6" r="1.9"/>
<circle class="k3" cx="241.3" cy="35.6" r="1.9"/>
<circle class="k17" cx="287.5" cy="27.6" r="1.9"/>
<circle class="k16" cx="279.5" cy="40.6" r="1.9"/>
<circle class="k39" cx="379.6" cy="36.8" r="1.9"/>
<circle class="k11" cx="269.1" cy="37.4" r="1.9"/>
<circle class="k39" cx="424.5" cy="35.2" r="1.9"/>
<circle class="k17" cx="289.4" cy="39.5" r="1.9"/>
<circle class="k0" cx="222.7" cy="35.8" r="1.9"/>
<circle class="k39" cx="372.7" cy="36.9" r="1.9"/>
<circle class="k1" cx="224.0" cy="40.6" r="1.9"/>
<circle class="k3" cx="244.4" cy="36.4" r="1.9"/>
<circle class="k27" cx="322.3" cy="37.3" r="1.9"/>
<circle class="k5" cx="255.9" cy="28.9" r="1.9"/>
<circle class="k12" cx="272.3" cy="35.6" r="1.9"/>
<circle class="k2" cx="245.4" cy="39.4" r="1.9"/>
<circle class="k13" cx="278.1" cy="34.9" r="1.9"/>
<circle class="k7" cx="250.9" cy="30.1" r="1.9"/>
<circle class="k6" cx="251.5" cy="42.8" r="1.9"/>
<circle class="k0" cx="213.2" cy="40.1" r="1.9"/>
<circle class="k13" cx="275.7" cy="32.4" r="1.9"/>
<circle class="k39" cx="339.0" cy="38.4" r="1.9"/>
<circle class="k11" cx="275.8" cy="44.3" r="1.9"/>
<circle class="k3" cx="263.1" cy="31.3" r="1.9"/>
<circle class="k11" cx="271.0" cy="39.6" r="1.9"/>
<circle class="k12" cx="271.8" cy="34.3" r="1.9"/>
<circle class="k0" cx="207.7" cy="33.1" r="1.9"/>
<circle class="k22" cx="303.8" cy="34.7" r="1.9"/>
<circle class="k38" cx="372.7" cy="36.0" r="1.9"/>
<circle class="k1" cx="228.4" cy="41.9" r="1.9"/>
<circle class="k0" cx="241.5" cy="42.8" r="1.9"/>
<circle class="k3" cx="249.5" cy="30.1" r="1.9"/>
<circle class="k7" cx="252.7" cy="35.5" r="1.9"/>
<circle class="k39" cx="399.1" cy="36.0" r="1.9"/>
<circle class="k31" cx="331.8" cy="37.4" r="1.9"/>
<circle class="k23" cx="307.7" cy="37.9" r="1.9"/>
<circle class="k11" cx="263.7" cy="33.1" r="1.9"/>
<circle class="k33" cx="334.4" cy="36.7" r="1.9"/>
<circle class="k14" cx="285.4" cy="36.8" r="1.9"/>
<circle class="k21" cx="306.2" cy="35.6" r="1.9"/>
<circle class="k38" cx="446.9" cy="36.4" r="1.9"/>
<circle class="k38" cx="344.7" cy="34.2" r="1.9"/>
<circle class="k12" cx="275.0" cy="40.7" r="1.9"/>
<circle class="k0" cx="213.1" cy="37.4" r="1.9"/>
<circle class="k0" cx="206.0" cy="33.3" r="1.9"/>
<circle class="k28" cx="320.5" cy="38.9" r="1.9"/>
<circle class="k39" cx="459.0" cy="36.0" r="1.9"/>
<circle class="k0" cx="223.5" cy="29.4" r="1.9"/>
<circle class="k18" cx="293.3" cy="41.1" r="1.9"/>
<circle class="k6" cx="253.6" cy="32.0" r="1.9"/>
<circle class="k27" cx="314.2" cy="32.0" r="1.9"/>
<circle class="k39" cx="449.9" cy="36.4" r="1.9"/>
<circle class="k18" cx="290.1" cy="29.5" r="1.9"/>
<circle class="k2" cx="237.1" cy="38.4" r="1.9"/>
<circle class="k26" cx="318.1" cy="33.5" r="1.9"/>
<circle class="k19" cx="292.8" cy="33.9" r="1.9"/>
<circle class="k2" cx="239.9" cy="37.6" r="1.9"/>
<circle class="k37" cx="344.7" cy="36.4" r="1.9"/>
<circle class="k17" cx="284.6" cy="40.8" r="1.9"/>
<circle class="k37" cx="355.6" cy="34.3" r="1.9"/>
<circle class="k35" cx="349.3" cy="37.5" r="1.9"/>
<circle class="k0" cx="220.7" cy="34.4" r="1.9"/>
<circle class="k39" cx="392.8" cy="35.3" r="1.9"/>
<circle class="k9" cx="266.1" cy="43.5" r="1.9"/>
<circle class="k1" cx="205.6" cy="36.0" r="1.9"/>
<circle class="k17" cx="281.9" cy="45.0" r="1.9"/>
<circle class="k1" cx="238.9" cy="32.1" r="1.9"/>
<circle class="k0" cx="177.8" cy="36.6" r="1.9"/>
<circle class="k37" cx="344.0" cy="34.3" r="1.9"/>
<circle class="k1" cx="271.8" cy="45.6" r="1.9"/>
<circle class="k15" cx="287.1" cy="40.7" r="1.9"/>
<circle class="k8" cx="263.5" cy="35.5" r="1.9"/>
<circle class="k0" cx="207.7" cy="36.4" r="1.9"/>
<circle class="k0" cx="213.5" cy="32.0" r="1.9"/>
<circle class="k18" cx="290.3" cy="41.9" r="1.9"/>
<circle class="k0" cx="231.7" cy="31.5" r="1.9"/>
<circle class="k19" cx="295.5" cy="36.3" r="1.9"/>
<circle class="k1" cx="247.9" cy="37.8" r="1.9"/>
<circle class="k14" cx="282.0" cy="28.2" r="1.9"/>
<circle class="k1" cx="225.4" cy="34.8" r="1.9"/>
<circle class="k39" cx="409.5" cy="36.7" r="1.9"/>
<circle class="k1" cx="239.4" cy="42.7" r="1.9"/>
<circle class="k13" cx="282.6" cy="42.7" r="1.9"/>
<circle class="k10" cx="262.7" cy="43.2" r="1.9"/>
<circle class="k0" cx="197.1" cy="37.3" r="1.9"/>
<circle class="k6" cx="256.3" cy="35.5" r="1.9"/>
<circle class="k0" cx="223.7" cy="38.2" r="1.9"/>
<circle class="k0" cx="214.1" cy="39.1" r="1.9"/>
<circle class="k4" cx="246.3" cy="30.2" r="1.9"/>
<circle class="k17" cx="283.5" cy="38.7" r="1.9"/>
<circle class="k16" cx="291.0" cy="33.6" r="1.9"/>
<circle class="k1" cx="218.6" cy="40.1" r="1.9"/>
<circle class="k27" cx="317.3" cy="39.9" r="1.9"/>
<circle class="k15" cx="280.3" cy="39.8" r="1.9"/>
<circle class="k16" cx="287.0" cy="28.8" r="1.9"/>
<circle class="k5" cx="250.8" cy="39.5" r="1.9"/>
<circle class="k17" cx="289.8" cy="35.1" r="1.9"/>
<circle class="k28" cx="314.2" cy="40.3" r="1.9"/>
<circle class="k5" cx="251.1" cy="37.6" r="1.9"/>
<circle class="k33" cx="329.1" cy="39.1" r="1.9"/>
<circle class="k3" cx="246.1" cy="33.5" r="1.9"/>
<circle class="k7" cx="257.5" cy="36.7" r="1.9"/>
<circle class="k32" cx="333.5" cy="33.1" r="1.9"/>
<circle class="k37" cx="354.9" cy="37.7" r="1.9"/>
<circle class="k0" cx="232.7" cy="30.3" r="1.9"/>
<circle class="k9" cx="260.7" cy="42.3" r="1.9"/>
<circle class="k37" cx="361.2" cy="37.1" r="1.9"/>
<circle class="k0" cx="230.7" cy="41.6" r="1.9"/>
<circle class="k39" cx="394.0" cy="35.7" r="1.9"/>
<circle class="k31" cx="319.8" cy="34.1" r="1.9"/>
<circle class="k17" cx="286.7" cy="42.9" r="1.9"/>
<circle class="k7" cx="261.6" cy="34.9" r="1.9"/>
<circle class="k19" cx="292.0" cy="41.2" r="1.9"/>
<circle class="k14" cx="283.9" cy="40.0" r="1.9"/>
<circle class="k0" cx="186.1" cy="35.5" r="1.9"/>
<circle class="k18" cx="296.0" cy="37.2" r="1.9"/>
<circle class="k1" cx="232.6" cy="34.8" r="1.9"/>
<circle class="k3" cx="251.1" cy="33.1" r="1.9"/>
<circle class="k30" cx="325.3" cy="33.6" r="1.9"/>
<circle class="k7" cx="252.3" cy="36.4" r="1.9"/>
<circle class="k16" cx="289.3" cy="34.7" r="1.9"/>
<circle class="k9" cx="260.3" cy="38.0" r="1.9"/>
<circle class="k11" cx="276.7" cy="38.6" r="1.9"/>
<circle class="k8" cx="263.6" cy="34.2" r="1.9"/>
<circle class="k1" cx="231.7" cy="28.9" r="1.9"/>
<circle class="k0" cx="222.0" cy="42.0" r="1.9"/>
<circle class="k7" cx="257.2" cy="35.6" r="1.9"/>
<circle class="k17" cx="290.6" cy="42.7" r="1.9"/>
<circle class="k11" cx="272.5" cy="34.5" r="1.9"/>
<circle class="k5" cx="256.6" cy="36.6" r="1.9"/>
<circle class="k10" cx="261.5" cy="41.3" r="1.9"/>
<circle class="k6" cx="256.0" cy="33.6" r="1.9"/>
<circle class="k5" cx="243.9" cy="31.3" r="1.9"/>
<circle class="k6" cx="253.1" cy="37.6" r="1.9"/>
<circle class="k0" cx="197.9" cy="35.2" r="1.9"/>
<circle class="k23" cx="307.8" cy="36.2" r="1.9"/>
<circle class="k13" cx="271.6" cy="30.7" r="1.9"/>
<circle class="k38" cx="401.4" cy="35.8" r="1.9"/>
<circle class="k39" cx="407.7" cy="35.9" r="1.9"/>
<circle class="k21" cx="296.5" cy="40.5" r="1.9"/>
<circle class="k21" cx="298.3" cy="34.5" r="1.9"/>
<circle class="k15" cx="277.6" cy="43.9" r="1.9"/>
<circle class="k23" cx="310.7" cy="38.3" r="1.9"/>
<circle class="k0" cx="237.2" cy="41.5" r="1.9"/>
<circle class="k20" cx="302.2" cy="36.3" r="1.9"/>
<circle class="k2" cx="236.7" cy="34.4" r="1.9"/>
<circle class="k0" cx="235.2" cy="41.5" r="1.9"/>
<circle class="k26" cx="308.0" cy="35.8" r="1.9"/>
<circle class="k11" cx="277.4" cy="28.7" r="1.9"/>
<circle class="k11" cx="267.6" cy="38.3" r="1.9"/>
<circle class="k39" cx="378.0" cy="36.3" r="1.9"/>
<circle class="k4" cx="249.4" cy="32.0" r="1.9"/>
<circle class="k31" cx="326.8" cy="34.8" r="1.9"/>
<circle class="k18" cx="292.3" cy="38.3" r="1.9"/>
<circle class="k8" cx="262.8" cy="37.4" r="1.9"/>
<circle class="k0" cx="228.6" cy="38.5" r="1.9"/>
<circle class="k34" cx="338.0" cy="38.0" r="1.9"/>
<circle class="k39" cx="427.6" cy="34.8" r="1.9"/>
<circle class="k31" cx="324.7" cy="37.0" r="1.9"/>
<circle class="k35" cx="341.1" cy="35.1" r="1.9"/>
<circle class="k38" cx="358.3" cy="36.0" r="1.9"/>
<circle class="k17" cx="288.5" cy="31.0" r="1.9"/>
<circle class="k9" cx="266.7" cy="26.1" r="1.9"/>
<circle class="k0" cx="196.3" cy="36.3" r="1.9"/>
<circle class="k31" cx="327.9" cy="37.0" r="1.9"/>
<circle class="k1" cx="229.5" cy="29.0" r="1.9"/>
<circle class="k9" cx="261.9" cy="42.5" r="1.9"/>
<circle class="k36" cx="351.8" cy="37.4" r="1.9"/>
<circle class="k39" cx="360.5" cy="35.0" r="1.9"/>
<circle class="k32" cx="336.0" cy="38.7" r="1.9"/>
<circle class="k24" cx="304.3" cy="32.8" r="1.9"/>
<circle class="k1" cx="234.7" cy="40.8" r="1.9"/>
<circle class="k9" cx="256.3" cy="33.1" r="1.9"/>
<circle class="k39" cx="375.6" cy="36.1" r="1.9"/>
<circle class="k24" cx="313.3" cy="34.8" r="1.9"/>
<circle class="k2" cx="243.1" cy="28.9" r="1.9"/>
<circle class="k2" cx="238.9" cy="31.4" r="1.9"/>
<circle class="k20" cx="306.7" cy="36.4" r="1.9"/>
<circle class="k39" cx="419.9" cy="36.9" r="1.9"/>
<circle class="k4" cx="250.7" cy="30.9" r="1.9"/>
<circle class="k4" cx="245.2" cy="36.8" r="1.9"/>
<circle class="k29" cx="325.8" cy="37.2" r="1.9"/>
<circle class="k19" cx="292.3" cy="41.4" r="1.9"/>
<circle class="k1" cx="236.3" cy="35.6" r="1.9"/>
<circle class="k10" cx="264.4" cy="33.6" r="1.9"/>
<circle class="k15" cx="283.4" cy="33.2" r="1.9"/>
<circle class="k7" cx="254.1" cy="38.5" r="1.9"/>
<circle class="k12" cx="279.2" cy="31.8" r="1.9"/>
<circle class="k39" cx="423.5" cy="35.7" r="1.9"/>
<circle class="k39" cx="428.3" cy="37.0" r="1.9"/>
<circle class="k15" cx="276.4" cy="25.6" r="1.9"/>
<circle class="k8" cx="253.9" cy="35.7" r="1.9"/>
<circle class="k1" cx="220.4" cy="37.4" r="1.9"/>
<circle class="k4" cx="249.2" cy="33.4" r="1.9"/>
<circle class="k0" cx="172.2" cy="36.0" r="1.9"/>
<circle class="k27" cx="317.9" cy="32.0" r="1.9"/>
<circle class="k18" cx="286.8" cy="34.3" r="1.9"/>
<circle class="k28" cx="320.0" cy="35.6" r="1.9"/>
<circle class="k0" cx="233.1" cy="33.7" r="1.9"/>
<circle class="k38" cx="371.6" cy="37.1" r="1.9"/>
<circle class="k37" cx="343.6" cy="36.1" r="1.9"/>
<circle class="k38" cx="409.5" cy="36.2" r="1.9"/>
<circle class="k1" cx="234.6" cy="29.2" r="1.9"/>
<circle class="k7" cx="258.9" cy="29.7" r="1.9"/>
<circle class="k3" cx="247.2" cy="38.8" r="1.9"/>
<circle class="k39" cx="378.8" cy="34.9" r="1.9"/>
<circle class="k12" cx="272.0" cy="38.6" r="1.9"/>
<circle class="k1" cx="211.1" cy="32.5" r="1.9"/>
<circle class="k0" cx="235.7" cy="40.7" r="1.9"/>
<circle class="k7" cx="256.3" cy="43.0" r="1.9"/>
<circle class="k5" cx="252.0" cy="30.0" r="1.9"/>
<circle class="k13" cx="271.6" cy="36.5" r="1.9"/>
<circle class="k2" cx="238.7" cy="33.2" r="1.9"/>
<circle class="k27" cx="322.9" cy="33.5" r="1.9"/>
<circle class="k3" cx="236.8" cy="30.3" r="1.9"/>
<circle class="k38" cx="414.8" cy="35.7" r="1.9"/>
<circle class="k39" cx="378.4" cy="36.7" r="1.9"/>
<circle class="k22" cx="268.3" cy="41.5" r="1.9"/>
<circle class="k0" cx="199.0" cy="36.4" r="1.9"/>
<circle class="k23" cx="314.0" cy="33.8" r="1.9"/>
<circle class="k39" cx="378.7" cy="36.0" r="1.9"/>
<circle class="k15" cx="293.8" cy="37.8" r="1.9"/>
<circle class="k8" cx="254.1" cy="43.0" r="1.9"/>
<circle class="k2" cx="242.7" cy="38.6" r="1.9"/>
<circle class="k12" cx="273.1" cy="31.0" r="1.9"/>
<circle class="k39" cx="373.0" cy="35.2" r="1.9"/>
<circle class="k39" cx="444.4" cy="36.3" r="1.9"/>
<circle class="k7" cx="253.8" cy="30.2" r="1.9"/>
<circle class="k28" cx="319.0" cy="39.9" r="1.9"/>
<circle class="k9" cx="268.2" cy="39.4" r="1.9"/>
<circle class="k18" cx="295.9" cy="38.1" r="1.9"/>
<circle class="k0" cx="220.5" cy="30.5" r="1.9"/>
<circle class="k4" cx="240.6" cy="32.4" r="1.9"/>
<circle class="k39" cx="375.0" cy="36.1" r="1.9"/>
<circle class="k3" cx="240.2" cy="41.0" r="1.9"/>
<circle class="k14" cx="279.5" cy="38.0" r="1.9"/>
<circle class="k5" cx="247.1" cy="34.2" r="1.9"/>
<circle class="k0" cx="217.8" cy="40.2" r="1.9"/>
<circle class="k3" cx="242.8" cy="39.9" r="1.9"/>
<circle class="k0" cx="226.3" cy="33.6" r="1.9"/>
<circle class="k19" cx="293.4" cy="31.2" r="1.9"/>
<circle class="k28" cx="318.1" cy="34.2" r="1.9"/>
<circle class="k0" cx="226.0" cy="43.0" r="1.9"/>
<circle class="k32" cx="326.8" cy="36.2" r="1.9"/>
<circle class="k0" cx="227.2" cy="30.6" r="1.9"/>
<circle class="k34" cx="331.5" cy="38.7" r="1.9"/>
<circle class="k1" cx="239.8" cy="34.5" r="1.9"/>
<circle class="k1" cx="226.8" cy="38.5" r="1.9"/>
<circle class="k30" cx="326.2" cy="34.8" r="1.9"/>
<circle class="k0" cx="195.5" cy="37.1" r="1.9"/>
<circle class="k0" cx="224.6" cy="31.6" r="1.9"/>
<circle class="k9" cx="264.5" cy="30.3" r="1.9"/>
<circle class="k4" cx="241.9" cy="34.6" r="1.9"/>
<circle class="k23" cx="305.5" cy="41.0" r="1.9"/>
<circle class="k22" cx="302.4" cy="37.1" r="1.9"/>
<circle class="k39" cx="379.1" cy="36.7" r="1.9"/>
<circle class="k0" cx="216.4" cy="41.1" r="1.9"/>
<circle class="k17" cx="292.5" cy="28.5" r="1.9"/>
<circle class="k15" cx="284.3" cy="42.4" r="1.9"/>
<circle class="k15" cx="276.3" cy="31.0" r="1.9"/>
<circle class="k11" cx="276.0" cy="38.9" r="1.9"/>
<circle class="k38" cx="439.1" cy="35.3" r="1.9"/>
<circle class="k22" cx="300.4" cy="41.8" r="1.9"/>
<circle class="k4" cx="245.2" cy="32.2" r="1.9"/>
<circle class="k2" cx="239.0" cy="41.1" r="1.9"/>
<circle class="k39" cx="437.6" cy="35.5" r="1.9"/>
<circle class="k18" cx="295.6" cy="41.8" r="1.9"/>
<circle class="k38" cx="448.6" cy="36.6" r="1.9"/>
<circle class="k14" cx="273.8" cy="25.5" r="1.9"/>
<circle class="k1" cx="197.1" cy="34.8" r="1.9"/>
<circle class="k10" cx="274.3" cy="26.7" r="1.9"/>
<circle class="k39" cx="373.0" cy="36.8" r="1.9"/>
<circle class="k6" cx="251.4" cy="36.7" r="1.9"/>
<circle class="k38" cx="463.9" cy="36.0" r="1.9"/>
<circle class="k0" cx="204.7" cy="36.3" r="1.9"/>
<circle class="k38" cx="361.6" cy="34.8" r="1.9"/>
<circle class="k39" cx="389.1" cy="36.2" r="1.9"/>
<circle class="k39" cx="364.8" cy="36.2" r="1.9"/>
<circle class="k39" cx="431.6" cy="35.0" r="1.9"/>
<circle class="k23" cx="313.3" cy="35.9" r="1.9"/>
<circle class="k38" cx="375.7" cy="36.8" r="1.9"/>
<circle class="k10" cx="268.5" cy="31.5" r="1.9"/>
<circle class="k0" cx="223.7" cy="34.1" r="1.9"/>
<circle class="k0" cx="226.4" cy="40.3" r="1.9"/>
<circle class="k14" cx="283.8" cy="44.7" r="1.9"/>
<circle class="k35" cx="356.5" cy="37.7" r="1.9"/>
<circle class="k21" cx="301.8" cy="32.4" r="1.9"/>
<circle class="k38" cx="359.8" cy="34.6" r="1.9"/>
<circle class="k33" cx="329.2" cy="37.8" r="1.9"/>
<circle class="k3" cx="249.9" cy="36.6" r="1.9"/>
<circle class="k1" cx="214.9" cy="31.7" r="1.9"/>
<circle class="k1" cx="210.8" cy="39.4" r="1.9"/>
<circle class="k0" cx="192.5" cy="37.1" r="1.9"/>
<circle class="k18" cx="289.4" cy="31.2" r="1.9"/>
<circle class="k18" cx="293.5" cy="35.3" r="1.9"/>
<circle class="k16" cx="285.2" cy="27.6" r="1.9"/>
<circle class="k8" cx="266.3" cy="44.2" r="1.9"/>
<circle class="k25" cx="314.2" cy="35.1" r="1.9"/>
<circle class="k39" cx="404.6" cy="35.0" r="1.9"/>
<circle class="k39" cx="397.9" cy="35.3" r="1.9"/>
<circle class="k22" cx="308.8" cy="38.7" r="1.9"/>
<circle class="k17" cx="290.2" cy="39.4" r="1.9"/>
<circle class="k27" cx="310.1" cy="31.4" r="1.9"/>
<circle class="k2" cx="242.7" cy="41.9" r="1.9"/>
<circle class="k9" cx="248.2" cy="33.4" r="1.9"/>
<circle class="k6" cx="256.0" cy="37.8" r="1.9"/>
<circle class="k39" cx="438.8" cy="36.6" r="1.9"/>
<circle class="k39" cx="455.7" cy="36.0" r="1.9"/>
<circle class="k37" cx="339.7" cy="34.1" r="1.9"/>
<circle class="k39" cx="435.6" cy="36.9" r="1.9"/>
<circle class="k28" cx="324.6" cy="36.1" r="1.9"/>
<circle class="k7" cx="254.7" cy="41.0" r="1.9"/>
<circle class="k20" cx="298.4" cy="35.3" r="1.9"/>
<circle class="k0" cx="211.9" cy="39.7" r="1.9"/>
<circle class="k11" cx="277.9" cy="40.6" r="1.9"/>
<circle class="k2" cx="245.0" cy="33.5" r="1.9"/>
<circle class="k13" cx="273.9" cy="28.5" r="1.9"/>
<circle class="k0" cx="237.2" cy="33.2" r="1.9"/>
<circle class="k13" cx="278.2" cy="27.1" r="1.9"/>
<circle class="k0" cx="233.0" cy="43.1" r="1.9"/>
<circle class="k0" cx="220.5" cy="32.5" r="1.9"/>
<circle class="k39" cx="384.8" cy="36.8" r="1.9"/>
<circle class="k39" cx="373.1" cy="36.0" r="1.9"/>
<circle class="k17" cx="292.6" cy="40.3" r="1.9"/>
<circle class="k31" cx="324.4" cy="35.1" r="1.9"/>
<circle class="k0" cx="221.3" cy="34.2" r="1.9"/>
<circle class="k38" cx="402.7" cy="34.9" r="1.9"/>
<circle class="k15" cx="282.2" cy="41.3" r="1.9"/>
<circle class="k29" cx="327.7" cy="36.0" r="1.9"/>
<circle class="k16" cx="295.9" cy="42.4" r="1.9"/>
<circle class="k8" cx="258.8" cy="29.1" r="1.9"/>
<circle class="k3" cx="239.0" cy="35.6" r="1.9"/>
<circle class="k10" cx="262.9" cy="39.0" r="1.9"/>
<circle class="k18" cx="291.9" cy="31.7" r="1.9"/>
<circle class="k5" cx="250.8" cy="34.4" r="1.9"/>
<circle class="k12" cx="273.6" cy="37.8" r="1.9"/>
<circle class="k39" cx="382.7" cy="36.3" r="1.9"/>
<circle class="k1" cx="187.8" cy="35.7" r="1.9"/>
<circle class="k0" cx="230.4" cy="34.9" r="1.9"/>
<circle class="k3" cx="237.2" cy="32.1" r="1.9"/>
<circle class="k15" cx="289.9" cy="40.6" r="1.9"/>
<circle class="k39" cx="410.9" cy="37.2" r="1.9"/>
<circle class="k39" cx="353.9" cy="36.4" r="1.9"/>
<circle class="k20" cx="300.8" cy="40.9" r="1.9"/>
<circle class="k32" cx="329.0" cy="34.2" r="1.9"/>
<circle class="k12" cx="267.9" cy="41.6" r="1.9"/>
<circle class="k25" cx="309.5" cy="37.0" r="1.9"/>
<circle class="k34" cx="337.1" cy="35.9" r="1.9"/>
<circle class="k12" cx="272.5" cy="44.5" r="1.9"/>
<circle class="k17" cx="298.1" cy="42.1" r="1.9"/>
<circle class="k3" cx="241.1" cy="41.8" r="1.9"/>
<circle class="k10" cx="268.6" cy="44.1" r="1.9"/>
<circle class="k37" cx="345.3" cy="35.3" r="1.9"/>
<circle class="k38" cx="464.4" cy="36.0" r="1.9"/>
<circle class="k2" cx="242.1" cy="36.5" r="1.9"/>
<circle class="k39" cx="384.6" cy="34.9" r="1.9"/>
<circle class="k33" cx="330.4" cy="32.8" r="1.9"/>
<circle class="k0" cx="238.2" cy="39.9" r="1.9"/>
<circle class="k2" cx="222.8" cy="42.7" r="1.9"/>
<circle class="k13" cx="280.4" cy="29.0" r="1.9"/>
<circle class="k0" cx="237.9" cy="37.4" r="1.9"/>
<circle class="k5" cx="253.5" cy="33.1" r="1.9"/>
<circle class="k17" cx="288.4" cy="33.5" r="1.9"/>
<circle class="k3" cx="241.6" cy="33.3" r="1.9"/>
<circle class="k39" cx="391.1" cy="35.9" r="1.9"/>
<circle class="k28" cx="321.0" cy="39.4" r="1.9"/>
<circle class="k0" cx="236.2" cy="36.7" r="1.9"/>
<circle class="k24" cx="308.3" cy="39.8" r="1.9"/>
<circle class="k0" cx="204.6" cy="37.0" r="1.9"/>
<circle class="k38" cx="433.1" cy="35.4" r="1.9"/>
<circle class="k4" cx="241.0" cy="31.1" r="1.9"/>
<circle class="k8" cx="254.8" cy="37.4" r="1.9"/>
<circle class="k0" cx="218.3" cy="33.1" r="1.9"/>
<circle class="k25" cx="304.3" cy="40.3" r="1.9"/>
<circle class="k12" cx="276.0" cy="30.1" r="1.9"/>
<circle class="k37" cx="357.1" cy="35.8" r="1.9"/>
<circle class="k19" cx="298.1" cy="38.6" r="1.9"/>
<circle class="k39" cx="368.4" cy="36.8" r="1.9"/>
<circle class="k2" cx="245.1" cy="30.3" r="1.9"/>
<circle class="k39" cx="370.2" cy="36.9" r="1.9"/>
<circle class="k0" cx="224.6" cy="30.6" r="1.9"/>
<circle class="k38" cx="390.4" cy="36.9" r="1.9"/>
<circle class="k9" cx="259.7" cy="37.9" r="1.9"/>
<circle class="k0" cx="220.7" cy="40.9" r="1.9"/>
<circle class="k19" cx="300.3" cy="36.3" r="1.9"/>
<circle class="k13" cx="272.6" cy="28.8" r="1.9"/>
<circle class="k14" cx="282.7" cy="33.9" r="1.9"/>
<circle class="k15" cx="280.3" cy="29.6" r="1.9"/>
<circle class="k14" cx="275.6" cy="30.9" r="1.9"/>
<circle class="k9" cx="255.9" cy="39.5" r="1.9"/>
<circle class="k13" cx="273.3" cy="33.1" r="1.9"/>
<circle class="k0" cx="210.4" cy="36.9" r="1.9"/>
<circle class="k21" cx="315.6" cy="40.2" r="1.9"/>
<circle class="k0" cx="215.7" cy="34.7" r="1.9"/>
<circle class="k19" cx="287.0" cy="27.9" r="1.9"/>
<circle class="k31" cx="326.6" cy="32.7" r="1.9"/>
<circle class="k22" cx="306.1" cy="33.4" r="1.9"/>
<circle class="k17" cx="291.4" cy="29.6" r="1.9"/>
<circle class="k11" cx="267.4" cy="35.8" r="1.9"/>
<circle class="k11" cx="261.9" cy="34.8" r="1.9"/>
<circle class="k17" cx="281.0" cy="44.3" r="1.9"/>
<circle class="k0" cx="237.9" cy="34.1" r="1.9"/>
<circle class="k19" cx="289.8" cy="35.9" r="1.9"/>
<circle class="k16" cx="287.9" cy="33.2" r="1.9"/>
<circle class="k36" cx="357.6" cy="34.6" r="1.9"/>
<circle class="k10" cx="268.2" cy="30.6" r="1.9"/>
<circle class="k22" cx="304.7" cy="38.1" r="1.9"/>
<circle class="k32" cx="326.7" cy="36.9" r="1.9"/>
<circle class="k15" cx="281.4" cy="33.6" r="1.9"/>
<circle class="k8" cx="261.3" cy="31.9" r="1.9"/>
<circle class="k23" cx="306.4" cy="32.2" r="1.9"/>
<circle class="k16" cx="317.9" cy="35.2" r="1.9"/>
<circle class="k18" cx="293.3" cy="39.8" r="1.9"/>
<circle class="k39" cx="406.6" cy="37.2" r="1.9"/>
<circle class="k34" cx="332.3" cy="35.7" r="1.9"/>
<circle class="k17" cx="278.6" cy="32.8" r="1.9"/>
<circle class="k4" cx="251.9" cy="40.6" r="1.9"/>
<circle class="k10" cx="263.5" cy="42.4" r="1.9"/>
<circle class="k3" cx="241.1" cy="38.4" r="1.9"/>
<circle class="k7" cx="254.8" cy="31.4" r="1.9"/>
<circle class="k7" cx="258.8" cy="31.1" r="1.9"/>
<circle class="k39" cx="362.7" cy="34.7" r="1.9"/>
<circle class="k5" cx="245.0" cy="37.8" r="1.9"/>
<circle class="k0" cx="229.9" cy="31.2" r="1.9"/>
<circle class="k14" cx="277.1" cy="46.1" r="1.9"/>
<circle class="k10" cx="261.1" cy="29.6" r="1.9"/>
<circle class="k1" cx="222.2" cy="34.2" r="1.9"/>
<circle class="k7" cx="262.2" cy="36.1" r="1.9"/>
<circle class="k26" cx="316.4" cy="40.0" r="1.9"/>
<circle class="k15" cx="282.8" cy="27.0" r="1.9"/>
<circle class="k3" cx="248.3" cy="36.7" r="1.9"/>
<circle class="k15" cx="286.6" cy="37.8" r="1.9"/>
<circle class="k15" cx="271.1" cy="25.4" r="1.9"/>
<circle class="k10" cx="275.5" cy="46.6" r="1.9"/>
<circle class="k39" cx="386.7" cy="35.2" r="1.9"/>
<circle class="k19" cx="300.6" cy="34.5" r="1.9"/>
<circle class="k7" cx="284.6" cy="38.5" r="1.9"/>
<circle class="k19" cx="301.4" cy="41.9" r="1.9"/>
<circle class="k8" cx="258.0" cy="32.4" r="1.9"/>
<circle class="k20" cx="298.9" cy="37.4" r="1.9"/>
<circle class="k15" cx="279.0" cy="34.8" r="1.9"/>
<circle class="k31" cx="325.3" cy="37.1" r="1.9"/>
<circle class="k0" cx="227.7" cy="29.1" r="1.9"/>
<circle class="k39" cx="431.8" cy="37.0" r="1.9"/>
<circle class="k8" cx="255.1" cy="35.6" r="1.9"/>
<circle class="k0" cx="217.1" cy="31.1" r="1.9"/>
<circle class="k39" cx="460.7" cy="36.0" r="1.9"/>
<circle class="k16" cx="286.1" cy="34.4" r="1.9"/>
<circle class="k0" cx="191.9" cy="35.2" r="1.9"/>
<circle class="k39" cx="342.1" cy="35.9" r="1.9"/>
<circle class="k5" cx="250.0" cy="32.5" r="1.9"/>
<circle class="k10" cx="269.1" cy="26.8" r="1.9"/>
<circle class="k39" cx="404.3" cy="36.9" r="1.9"/>
<circle class="k32" cx="321.0" cy="32.6" r="1.9"/>
<circle class="k35" cx="333.3" cy="36.4" r="1.9"/>
<circle class="k31" cx="325.1" cy="36.0" r="1.9"/>
<circle class="k31" cx="331.1" cy="33.1" r="1.9"/>
<circle class="k39" cx="350.3" cy="35.3" r="1.9"/>
<circle class="k37" cx="353.4" cy="35.2" r="1.9"/>
<circle class="k39" cx="359.7" cy="37.4" r="1.9"/>
<circle class="k0" cx="183.9" cy="35.5" r="1.9"/>
<circle class="k7" cx="270.3" cy="35.4" r="1.9"/>
<circle class="k10" cx="268.4" cy="26.9" r="1.9"/>
<circle class="k6" cx="256.4" cy="39.6" r="1.9"/>
<circle class="k12" cx="273.9" cy="34.2" r="1.9"/>
<circle class="k6" cx="252.3" cy="33.6" r="1.9"/>
<circle class="k7" cx="259.2" cy="43.2" r="1.9"/>
<circle class="k11" cx="262.6" cy="32.4" r="1.9"/>
<circle class="k1" cx="185.3" cy="35.0" r="1.9"/>
<circle class="k10" cx="266.7" cy="39.4" r="1.9"/>
<circle class="k14" cx="289.2" cy="38.6" r="1.9"/>
<circle class="k12" cx="275.9" cy="28.5" r="1.9"/>
<circle class="k26" cx="314.3" cy="38.2" r="1.9"/>
<circle class="k0" cx="206.3" cy="38.5" r="1.9"/>
<circle class="k18" cx="295.2" cy="36.3" r="1.9"/>
<circle class="k0" cx="236.6" cy="39.6" r="1.9"/>
<circle class="k18" cx="295.6" cy="39.5" r="1.9"/>
<circle class="k12" cx="278.3" cy="37.2" r="1.9"/>
<circle class="k25" cx="317.5" cy="31.8" r="1.9"/>
<circle class="k7" cx="252.6" cy="37.6" r="1.9"/>
<circle class="k0" cx="200.0" cy="37.8" r="1.9"/>
<circle class="k23" cx="310.7" cy="40.4" r="1.9"/>
<circle class="k2" cx="240.8" cy="38.4" r="1.9"/>
<circle class="k6" cx="255.6" cy="43.0" r="1.9"/>
<circle class="k10" cx="268.5" cy="28.0" r="1.9"/>
<circle class="k13" cx="273.3" cy="44.6" r="1.9"/>
<circle class="k6" cx="251.8" cy="37.9" r="1.9"/>
<circle class="k0" cx="225.1" cy="43.0" r="1.9"/>
<circle class="k39" cx="419.1" cy="35.0" r="1.9"/>
<circle class="k1" cx="199.9" cy="35.4" r="1.9"/>
<circle class="k1" cx="231.5" cy="30.2" r="1.9"/>
<circle class="k33" cx="329.4" cy="36.5" r="1.9"/>
<circle class="k25" cx="315.0" cy="38.3" r="1.9"/>
<circle class="k15" cx="284.2" cy="29.0" r="1.9"/>
<circle class="k19" cx="295.7" cy="40.3" r="1.9"/>
<circle class="k22" cx="305.9" cy="34.6" r="1.9"/>
<circle class="k0" cx="211.6" cy="35.7" r="1.9"/>
<circle class="k14" cx="272.5" cy="41.9" r="1.9"/>
<circle class="k1" cx="230.7" cy="33.8" r="1.9"/>
<circle class="k0" cx="199.9" cy="34.4" r="1.9"/>
<circle class="k13" cx="281.9" cy="32.6" r="1.9"/>
<circle class="k32" cx="328.7" cy="35.7" r="1.9"/>
<circle class="k0" cx="182.9" cy="36.6" r="1.9"/>
<circle class="k1" cx="226.4" cy="34.9" r="1.9"/>
<circle class="k39" cx="457.0" cy="36.0" r="1.9"/>
<circle class="k39" cx="382.1" cy="36.0" r="1.9"/>
<circle class="k27" cx="320.4" cy="34.5" r="1.9"/>
<circle class="k19" cx="297.5" cy="31.0" r="1.9"/>
<circle class="k14" cx="287.7" cy="44.4" r="1.9"/>
<circle class="k0" cx="189.1" cy="35.7" r="1.9"/>
<circle class="k13" cx="279.1" cy="38.3" r="1.9"/>
<circle class="k0" cx="187.0" cy="35.2" r="1.9"/>
<circle class="k9" cx="264.4" cy="40.4" r="1.9"/>
<circle class="k0" cx="224.7" cy="32.6" r="1.9"/>
<circle class="k19" cx="298.8" cy="41.1" r="1.9"/>
<circle class="k0" cx="195.4" cy="35.7" r="1.9"/>
<circle class="k14" cx="279.5" cy="31.7" r="1.9"/>
<circle class="k33" cx="333.2" cy="37.4" r="1.9"/>
<circle class="k11" cx="268.6" cy="45.9" r="1.9"/>
<circle class="k39" cx="376.7" cy="35.8" r="1.9"/>
<circle class="k17" cx="286.4" cy="35.4" r="1.9"/>
<circle class="k0" cx="228.0" cy="30.1" r="1.9"/>
<circle class="k23" cx="310.1" cy="36.3" r="1.9"/>
<circle class="k0" cx="200.6" cy="35.3" r="1.9"/>
<circle class="k33" cx="334.2" cy="38.4" r="1.9"/>
<circle class="k6" cx="251.8" cy="29.0" r="1.9"/>
<circle class="k13" cx="275.6" cy="35.7" r="1.9"/>
<circle class="k10" cx="268.3" cy="42.7" r="1.9"/>
<circle class="k26" cx="315.1" cy="36.1" r="1.9"/>
<circle class="k16" cx="285.5" cy="29.7" r="1.9"/>
<circle class="k0" cx="197.3" cy="36.2" r="1.9"/>
<circle class="k24" cx="313.6" cy="31.6" r="1.9"/>
<circle class="k15" cx="289.6" cy="35.5" r="1.9"/>
<circle class="k4" cx="243.6" cy="33.4" r="1.9"/>
<circle class="k13" cx="283.7" cy="31.8" r="1.9"/>
<circle class="k14" cx="279.6" cy="39.5" r="1.9"/>
<circle class="k0" cx="217.5" cy="35.2" r="1.9"/>
<circle class="k39" cx="428.0" cy="35.7" r="1.9"/>
<circle class="k11" cx="263.5" cy="39.8" r="1.9"/>
<circle class="k16" cx="281.1" cy="39.6" r="1.9"/>
<circle class="k39" cx="352.4" cy="37.8" r="1.9"/>
<circle class="k16" cx="282.7" cy="34.8" r="1.9"/>
<circle class="k0" cx="195.0" cy="35.7" r="1.9"/>
<circle class="k20" cx="306.4" cy="37.5" r="1.9"/>
<circle class="k17" cx="290.9" cy="43.7" r="1.9"/>
<circle class="k35" cx="334.4" cy="37.4" r="1.9"/>
<circle class="k0" cx="201.9" cy="35.2" r="1.9"/>
<circle class="k37" cx="351.0" cy="37.7" r="1.9"/>
<circle class="k15" cx="285.2" cy="44.1" r="1.9"/>
<circle class="k9" cx="265.3" cy="37.5" r="1.9"/>
<circle class="k0" cx="226.7" cy="40.5" r="1.9"/>
<circle class="k6" cx="250.1" cy="37.4" r="1.9"/>
<circle class="k0" cx="229.3" cy="38.3" r="1.9"/>
<circle class="k9" cx="266.0" cy="42.0" r="1.9"/>
<circle class="k10" cx="263.1" cy="34.2" r="1.9"/>
<circle class="k18" cx="287.2" cy="36.5" r="1.9"/>
<circle class="k0" cx="210.6" cy="37.1" r="1.9"/>
<circle class="k0" cx="204.5" cy="38.1" r="1.9"/>
<circle class="k19" cx="296.3" cy="42.5" r="1.9"/>
<circle class="k14" cx="281.1" cy="32.0" r="1.9"/>
<circle class="k23" cx="307.2" cy="34.3" r="1.9"/>
<circle class="k39" cx="403.8" cy="37.0" r="1.9"/>
<circle class="k13" cx="278.4" cy="42.7" r="1.9"/>
<circle class="k0" cx="198.8" cy="37.3" r="1.9"/>
<circle class="k26" cx="312.5" cy="32.9" r="1.9"/>
<circle class="k14" cx="278.3" cy="32.3" r="1.9"/>
<circle class="k0" cx="240.7" cy="36.3" r="1.9"/>
<circle class="k12" cx="271.1" cy="29.8" r="1.9"/>
<circle class="k17" cx="288.4" cy="35.3" r="1.9"/>
<circle class="k35" cx="339.5" cy="36.1" r="1.9"/>
<circle class="k0" cx="218.8" cy="33.8" r="1.9"/>
<circle class="k0" cx="229.3" cy="36.1" r="1.9"/>
<circle class="k1" cx="238.2" cy="38.7" r="1.9"/>
<circle class="k22" cx="307.5" cy="33.3" r="1.9"/>
<circle class="k14" cx="268.6" cy="35.7" r="1.9"/>
<circle class="k39" cx="419.6" cy="35.8" r="1.9"/>
<circle class="k13" cx="278.3" cy="43.9" r="1.9"/>
<circle class="k36" cx="342.0" cy="37.2" r="1.9"/>
<circle class="k0" cx="221.2" cy="32.5" r="1.9"/>
<circle class="k11" cx="257.1" cy="33.1" r="1.9"/>
<circle class="k1" cx="243.0" cy="34.2" r="1.9"/>
<circle class="k15" cx="287.5" cy="38.4" r="1.9"/>
<circle class="k3" cx="240.0" cy="35.5" r="1.9"/>
<circle class="k39" cx="417.5" cy="34.8" r="1.9"/>
<circle class="k0" cx="227.8" cy="41.6" r="1.9"/>
<circle class="k22" cx="299.5" cy="30.9" r="1.9"/>
<circle class="k20" cx="292.3" cy="35.0" r="1.9"/>
<circle class="k18" cx="288.4" cy="44.4" r="1.9"/>
<circle class="k1" cx="224.2" cy="40.5" r="1.9"/>
<circle class="k9" cx="259.9" cy="31.0" r="1.9"/>
<circle class="k4" cx="250.2" cy="33.6" r="1.9"/>
<circle class="k0" cx="233.9" cy="29.2" r="1.9"/>
<circle class="k39" cx="412.4" cy="37.0" r="1.9"/>
<circle class="k0" cx="207.1" cy="37.4" r="1.9"/>
<circle class="k39" cx="374.2" cy="37.1" r="1.9"/>
<circle class="k22" cx="307.4" cy="40.7" r="1.9"/>
<circle class="k0" cx="188.6" cy="36.6" r="1.9"/>
<circle class="k39" cx="447.7" cy="35.4" r="1.9"/>
<circle class="k8" cx="265.1" cy="38.6" r="1.9"/>
<circle class="k5" cx="249.4" cy="42.1" r="1.9"/>
<circle class="k0" cx="242.1" cy="42.7" r="1.9"/>
<circle class="k21" cx="294.1" cy="38.5" r="1.9"/>
<circle class="k1" cx="207.2" cy="33.4" r="1.9"/>
<circle class="k29" cx="320.6" cy="39.4" r="1.9"/>
<circle class="k0" cx="212.7" cy="39.5" r="1.9"/>
<circle class="k0" cx="209.1" cy="38.7" r="1.9"/>
<circle class="k14" cx="291.7" cy="28.2" r="1.9"/>
<circle class="k23" cx="307.1" cy="32.0" r="1.9"/>
<circle class="k19" cx="289.4" cy="41.8" r="1.9"/>
<circle class="k12" cx="274.8" cy="26.7" r="1.9"/>
<circle class="k0" cx="213.1" cy="38.7" r="1.9"/>
<circle class="k8" cx="258.2" cy="28.9" r="1.9"/>
<circle class="k11" cx="268.5" cy="25.8" r="1.9"/>
<circle class="k16" cx="283.8" cy="34.4" r="1.9"/>
<circle class="k31" cx="322.3" cy="35.9" r="1.9"/>
<circle class="k39" cx="371.4" cy="36.0" r="1.9"/>
<circle class="k0" cx="211.5" cy="38.3" r="1.9"/>
<circle class="k3" cx="235.5" cy="31.4" r="1.9"/>
<circle class="k15" cx="276.2" cy="39.8" r="1.9"/>
<circle class="k31" cx="327.4" cy="33.1" r="1.9"/>
<circle class="k12" cx="274.7" cy="45.6" r="1.9"/>
<circle class="k39" cx="463.0" cy="36.0" r="1.9"/>
<circle class="k0" cx="234.8" cy="34.0" r="1.9"/>
<circle class="k0" cx="233.1" cy="35.8" r="1.9"/>
<circle class="k1" cx="233.5" cy="35.1" r="1.9"/>
<circle class="k13" cx="280.0" cy="45.8" r="1.9"/>
<circle class="k0" cx="226.8" cy="35.8" r="1.9"/>
<circle class="k0" cx="226.6" cy="37.0" r="1.9"/>
<circle class="k2" cx="246.9" cy="37.5" r="1.9"/>
<circle class="k25" cx="313.3" cy="37.1" r="1.9"/>
<circle class="k11" cx="262.3" cy="40.6" r="1.9"/>
<circle class="k0" cx="217.4" cy="34.5" r="1.9"/>
<circle class="k0" cx="240.3" cy="39.5" r="1.9"/>
<circle class="k39" cx="400.5" cy="36.2" r="1.9"/>
<circle class="k13" cx="275.8" cy="25.2" r="1.9"/>
<circle class="k8" cx="256.5" cy="32.3" r="1.9"/>
<circle class="k6" cx="247.8" cy="33.2" r="1.9"/>
<circle class="k15" cx="279.1" cy="25.8" r="1.9"/>
<circle class="k15" cx="283.6" cy="28.5" r="1.9"/>
<circle class="k10" cx="259.6" cy="33.3" r="1.9"/>
<circle class="k39" cx="406.8" cy="35.8" r="1.9"/>
<circle class="k2" cx="240.2" cy="31.3" r="1.9"/>
<circle class="k2" cx="244.6" cy="40.8" r="1.9"/>
<circle class="k17" cx="287.8" cy="36.5" r="1.9"/>
<circle class="k29" cx="329.4" cy="35.3" r="1.9"/>
<circle class="k1" cx="238.8" cy="37.6" r="1.9"/>
<circle class="k31" cx="327.6" cy="38.3" r="1.9"/>
<circle class="k7" cx="266.7" cy="44.7" r="1.9"/>
<circle class="k10" cx="267.9" cy="30.5" r="1.9"/>
<circle class="k29" cx="317.4" cy="34.2" r="1.9"/>
<circle class="k20" cx="299.7" cy="34.6" r="1.9"/>
<circle class="k31" cx="328.7" cy="33.9" r="1.9"/>
<circle class="k18" cx="292.4" cy="31.9" r="1.9"/>
<circle class="k16" cx="294.9" cy="38.9" r="1.9"/>
<circle class="k2" cx="248.8" cy="40.7" r="1.9"/>
<circle class="k5" cx="247.0" cy="32.2" r="1.9"/>
<circle class="k16" cx="282.4" cy="40.7" r="1.9"/>
<circle class="k7" cx="246.8" cy="33.3" r="1.9"/>
<circle class="k39" cx="395.5" cy="35.0" r="1.9"/>
<circle class="k39" cx="408.4" cy="36.1" r="1.9"/>
<circle class="k10" cx="268.5" cy="37.4" r="1.9"/>
<circle class="k29" cx="321.5" cy="37.4" r="1.9"/>
<circle class="k39" cx="414.0" cy="36.1" r="1.9"/>
<circle class="k39" cx="418.0" cy="37.1" r="1.9"/>
<circle class="k0" cx="206.3" cy="36.4" r="1.9"/>
<circle class="k0" cx="239.1" cy="36.7" r="1.9"/>
<circle class="k20" cx="302.6" cy="37.3" r="1.9"/>
<circle class="k4" cx="253.2" cy="34.7" r="1.9"/>
<circle class="k1" cx="244.4" cy="33.1" r="1.9"/>
<circle class="k6" cx="254.7" cy="38.7" r="1.9"/>
<circle class="k39" cx="412.3" cy="35.8" r="1.9"/>
<circle class="k37" cx="341.1" cy="35.8" r="1.9"/>
<circle class="k0" cx="216.5" cy="37.8" r="1.9"/>
<circle class="k8" cx="255.9" cy="31.4" r="1.9"/>
<circle class="k8" cx="264.2" cy="35.1" r="1.9"/>
<circle class="k0" cx="236.4" cy="37.7" r="1.9"/>
<circle class="k19" cx="295.0" cy="40.7" r="1.9"/>
<circle class="k39" cx="410.2" cy="36.0" r="1.9"/>
<circle class="k0" cx="200.5" cy="36.5" r="1.9"/>
<circle class="k39" cx="376.6" cy="34.8" r="1.9"/>
<circle class="k6" cx="254.2" cy="30.9" r="1.9"/>
<circle class="k0" cx="205.5" cy="37.4" r="1.9"/>
<circle class="k36" cx="352.4" cy="35.6" r="1.9"/>
<circle class="k7" cx="256.5" cy="38.8" r="1.9"/>
<circle class="k4" cx="253.4" cy="41.9" r="1.9"/>
<circle class="k0" cx="212.8" cy="33.4" r="1.9"/>
<circle class="k9" cx="264.7" cy="43.9" r="1.9"/>
<circle class="k11" cx="267.2" cy="36.1" r="1.9"/>
<circle class="k27" cx="315.1" cy="39.1" r="1.9"/>
<circle class="k0" cx="230.0" cy="29.3" r="1.9"/>
<circle class="k24" cx="308.7" cy="31.0" r="1.9"/>
<circle class="k11" cx="262.3" cy="34.0" r="1.9"/>
<circle class="k10" cx="266.9" cy="27.5" r="1.9"/>
<circle class="k2" cx="239.0" cy="28.8" r="1.9"/>
<circle class="k12" cx="269.5" cy="25.6" r="1.9"/>
<circle class="k19" cx="296.4" cy="39.3" r="1.9"/>
<circle class="k19" cx="289.3" cy="43.1" r="1.9"/>
<circle class="k39" cx="424.6" cy="36.0" r="1.9"/>
<circle class="k12" cx="274.8" cy="46.3" r="1.9"/>
<circle class="k31" cx="325.5" cy="34.8" r="1.9"/>
<circle class="k13" cx="267.2" cy="43.3" r="1.9"/>
<circle class="k14" cx="285.5" cy="35.6" r="1.9"/>
<circle class="k2" cx="248.6" cy="43.1" r="1.9"/>
<circle class="k19" cx="302.9" cy="37.9" r="1.9"/>
<circle class="k3" cx="247.7" cy="43.2" r="1.9"/>
<circle class="k36" cx="350.1" cy="34.1" r="1.9"/>
<circle class="k11" cx="270.6" cy="38.6" r="1.9"/>
<circle class="k19" cx="299.1" cy="33.1" r="1.9"/>
<circle class="k13" cx="286.9" cy="35.6" r="1.9"/>
<circle class="k8" cx="260.7" cy="31.6" r="1.9"/>
<circle class="k14" cx="278.4" cy="29.4" r="1.9"/>
<circle class="k12" cx="279.0" cy="44.9" r="1.9"/>
<circle class="k12" cx="284.7" cy="30.8" r="1.9"/>
<circle class="k11" cx="267.4" cy="34.9" r="1.9"/>
<circle class="k30" cx="324.0" cy="36.0" r="1.9"/>
<circle class="k39" cx="444.7" cy="35.6" r="1.9"/>
<circle class="k0" cx="229.0" cy="30.0" r="1.9"/>
<circle class="k11" cx="262.2" cy="39.1" r="1.9"/>
<circle class="k34" cx="333.4" cy="34.5" r="1.9"/>
<circle class="k30" cx="323.6" cy="33.9" r="1.9"/>
<circle class="k3" cx="245.5" cy="42.8" r="1.9"/>
<circle class="k18" cx="297.3" cy="29.7" r="1.9"/>
<circle class="k11" cx="269.4" cy="36.4" r="1.9"/>
<circle class="k14" cx="274.8" cy="43.3" r="1.9"/>
<circle class="k16" cx="294.4" cy="35.7" r="1.9"/>
<circle class="k24" cx="315.9" cy="36.5" r="1.9"/>
<circle class="k32" cx="330.1" cy="36.5" r="1.9"/>
<circle class="k22" cx="300.8" cy="30.1" r="1.9"/>
<circle class="k39" cx="430.9" cy="34.9" r="1.9"/>
<circle class="k39" cx="354.3" cy="35.5" r="1.9"/>
<circle class="k16" cx="294.1" cy="28.8" r="1.9"/>
<circle class="k0" cx="223.9" cy="35.1" r="1.9"/>
<circle class="k10" cx="265.9" cy="30.7" r="1.9"/>
<circle class="k10" cx="265.6" cy="41.2" r="1.9"/>
<circle class="k9" cx="269.5" cy="44.5" r="1.9"/>
<circle class="k3" cx="243.5" cy="30.3" r="1.9"/>
<circle class="k21" cx="301.4" cy="38.5" r="1.9"/>
<circle class="k14" cx="283.8" cy="31.0" r="1.9"/>
<circle class="k12" cx="275.7" cy="34.1" r="1.9"/>
<circle class="k12" cx="270.7" cy="35.2" r="1.9"/>
<circle class="k39" cx="435.7" cy="35.4" r="1.9"/>
<circle class="k1" cx="183.6" cy="36.9" r="1.9"/>
<circle class="k19" cx="299.6" cy="39.6" r="1.9"/>
<circle class="k16" cx="288.8" cy="43.2" r="1.9"/>
<circle class="k20" cx="292.4" cy="32.8" r="1.9"/>
<circle class="k0" cx="227.4" cy="32.5" r="1.9"/>
<circle class="k20" cx="303.0" cy="40.4" r="1.9"/>
<circle class="k12" cx="283.2" cy="31.9" r="1.9"/>
<circle class="k15" cx="279.5" cy="32.9" r="1.9"/>
<circle class="k10" cx="271.0" cy="45.2" r="1.9"/>
<circle class="k12" cx="277.5" cy="35.6" r="1.9"/>
<circle class="k14" cx="276.4" cy="41.2" r="1.9"/>
<circle class="k11" cx="269.0" cy="34.6" r="1.9"/>
<circle class="k39" cx="364.6" cy="34.8" r="1.9"/>
<circle class="k0" cx="230.0" cy="41.5" r="1.9"/>
<circle class="k15" cx="285.2" cy="39.8" r="1.9"/>
<circle class="k30" cx="324.5" cy="33.5" r="1.9"/>
<circle class="k18" cx="291.6" cy="37.9" r="1.9"/>
<circle class="k39" cx="398.9" cy="37.2" r="1.9"/>
<circle class="k31" cx="332.0" cy="36.3" r="1.9"/>
<circle class="k17" cx="297.9" cy="33.4" r="1.9"/>
<circle class="k1" cx="241.9" cy="41.8" r="1.9"/>
<circle class="k6" cx="255.8" cy="38.9" r="1.9"/>
<circle class="k5" cx="251.4" cy="34.2" r="1.9"/>
<circle class="k1" cx="231.1" cy="32.8" r="1.9"/>
<circle class="k16" cx="285.8" cy="43.2" r="1.9"/>
<circle class="k0" cx="208.7" cy="33.4" r="1.9"/>
<circle class="k0" cx="235.1" cy="31.4" r="1.9"/>
<circle class="k12" cx="272.3" cy="45.5" r="1.9"/>
<circle class="k19" cx="294.8" cy="37.4" r="1.9"/>
<circle class="k2" cx="238.0" cy="41.6" r="1.9"/>
<circle class="k4" cx="248.6" cy="39.9" r="1.9"/>
<circle class="k2" cx="233.9" cy="40.4" r="1.9"/>
<circle class="k15" cx="286.6" cy="29.7" r="1.9"/>
<circle class="k0" cx="219.0" cy="35.1" r="1.9"/>
<circle class="k39" cx="409.2" cy="34.9" r="1.9"/>
<circle class="k22" cx="307.1" cy="31.1" r="1.9"/>
<circle class="k0" cx="210.2" cy="33.0" r="1.9"/>
<circle class="k0" cx="240.8" cy="29.0" r="1.9"/>
<circle class="k21" cx="299.8" cy="41.9" r="1.9"/>
<circle class="k38" cx="415.7" cy="36.8" r="1.9"/>
<circle class="k0" cx="216.0" cy="38.2" r="1.9"/>
<circle class="k39" cx="391.7" cy="34.8" r="1.9"/>
<circle class="k11" cx="265.5" cy="41.7" r="1.9"/>
<circle class="k13" cx="273.1" cy="30.0" r="1.9"/>
<circle class="k3" cx="238.3" cy="43.1" r="1.9"/>
<circle class="k39" cx="438.0" cy="36.4" r="1.9"/>
<circle class="k39" cx="377.3" cy="34.9" r="1.9"/>
<circle class="k0" cx="189.9" cy="34.9" r="1.9"/>
<circle class="k3" cx="246.3" cy="34.4" r="1.9"/>
<circle class="k0" cx="206.1" cy="35.3" r="1.9"/>
<circle class="k15" cx="278.6" cy="27.0" r="1.9"/>
<circle class="k14" cx="281.5" cy="38.4" r="1.9"/>
<circle class="k1" cx="236.5" cy="33.3" r="1.9"/>
<circle class="k14" cx="278.9" cy="28.4" r="1.9"/>
<circle class="k24" cx="311.7" cy="38.0" r="1.9"/>
<circle class="k0" cx="206.1" cy="37.6" r="1.9"/>
<circle class="k12" cx="267.7" cy="26.9" r="1.9"/>
<circle class="k0" cx="222.0" cy="37.6" r="1.9"/>
<circle class="k14" cx="279.6" cy="42.3" r="1.9"/>
<circle class="k0" cx="209.6" cy="35.6" r="1.9"/>
<circle class="k26" cx="314.7" cy="34.9" r="1.9"/>
<circle class="k1" cx="203.9" cy="35.2" r="1.9"/>
<circle class="k0" cx="208.5" cy="35.4" r="1.9"/>
<circle class="k7" cx="259.1" cy="32.4" r="1.9"/>
<circle class="k11" cx="265.2" cy="33.4" r="1.9"/>
<circle class="k17" cx="288.2" cy="27.7" r="1.9"/>
<circle class="k6" cx="257.5" cy="31.1" r="1.9"/>
<circle class="k27" cx="317.0" cy="37.6" r="1.9"/>
<circle class="k24" cx="311.7" cy="31.4" r="1.9"/>
<circle class="k15" cx="279.9" cy="41.5" r="1.9"/>
<circle class="k11" cx="270.1" cy="45.2" r="1.9"/>
<circle class="k0" cx="210.4" cy="38.0" r="1.9"/>
<circle class="k12" cx="269.2" cy="30.1" r="1.9"/>
<circle class="k3" cx="248.8" cy="34.1" r="1.9"/>
<circle class="k15" cx="281.9" cy="34.8" r="1.9"/>
<circle class="k32" cx="339.0" cy="33.9" r="1.9"/>
<circle class="k1" cx="182.2" cy="35.5" r="1.9"/>
<circle class="k3" cx="235.9" cy="39.2" r="1.9"/>
<circle class="k2" cx="232.0" cy="39.3" r="1.9"/>
<circle class="k12" cx="286.2" cy="36.8" r="1.9"/>
<circle class="k0" cx="240.7" cy="37.8" r="1.9"/>
<circle class="k39" cx="422.8" cy="34.9" r="1.9"/>
<circle class="k15" cx="277.5" cy="33.5" r="1.9"/>
<circle class="k30" cx="322.3" cy="35.1" r="1.9"/>
<circle class="k15" cx="282.2" cy="33.7" r="1.9"/>
<circle class="k20" cx="277.6" cy="26.7" r="1.9"/>
<circle class="k18" cx="297.4" cy="32.9" r="1.9"/>
<circle class="k9" cx="257.3" cy="38.9" r="1.9"/>
<circle class="k39" cx="368.6" cy="35.8" r="1.9"/>
<circle class="k2" cx="233.9" cy="39.4" r="1.9"/>
<circle class="k16" cx="291.1" cy="34.7" r="1.9"/>
<circle class="k0" cx="223.8" cy="37.3" r="1.9"/>
<circle class="k4" cx="249.2" cy="36.3" r="1.9"/>
<circle class="k36" cx="340.8" cy="36.1" r="1.9"/>
<circle class="k0" cx="209.2" cy="34.2" r="1.9"/>
<circle class="k17" cx="289.1" cy="43.8" r="1.9"/>
<circle class="k17" cx="290.7" cy="41.5" r="1.9"/>
<circle class="k0" cx="198.4" cy="36.5" r="1.9"/>
<circle class="k0" cx="250.6" cy="35.8" r="1.9"/>
<circle class="k39" cx="432.3" cy="35.1" r="1.9"/>
<circle class="k15" cx="278.9" cy="39.5" r="1.9"/>
<circle class="k0" cx="189.5" cy="36.7" r="1.9"/>
<circle class="k12" cx="277.6" cy="37.7" r="1.9"/>
<circle class="k13" cx="268.3" cy="45.2" r="1.9"/>
<circle class="k6" cx="251.1" cy="38.9" r="1.9"/>
<circle class="k27" cx="318.7" cy="34.6" r="1.9"/>
<circle class="k17" cx="285.4" cy="42.3" r="1.9"/>
<circle class="k8" cx="260.3" cy="35.9" r="1.9"/>
<circle class="k14" cx="282.1" cy="36.9" r="1.9"/>
<circle class="k39" cx="402.0" cy="36.2" r="1.9"/>
<circle class="k10" cx="269.8" cy="37.7" r="1.9"/>
<circle class="k39" cx="406.2" cy="36.9" r="1.9"/>
<circle class="k39" cx="405.9" cy="35.7" r="1.9"/>
<circle class="k1" cx="242.3" cy="40.9" r="1.9"/>
<circle class="k13" cx="278.0" cy="31.6" r="1.9"/>
<circle class="k0" cx="219.7" cy="37.3" r="1.9"/>
<circle class="k8" cx="261.1" cy="32.7" r="1.9"/>
<circle class="k10" cx="280.5" cy="43.1" r="1.9"/>
<circle class="k37" cx="349.0" cy="35.3" r="1.9"/>
<circle class="k0" cx="226.8" cy="34.8" r="1.9"/>
<circle class="k11" cx="271.6" cy="28.5" r="1.9"/>
<circle class="k7" cx="266.3" cy="38.9" r="1.9"/>
<circle class="k38" cx="423.5" cy="36.8" r="1.9"/>
<circle class="k13" cx="278.0" cy="35.8" r="1.9"/>
<circle class="k8" cx="261.8" cy="41.3" r="1.9"/>
<circle class="k8" cx="256.8" cy="31.2" r="1.9"/>
<circle class="k11" cx="274.1" cy="46.5" r="1.9"/>
<circle class="k16" cx="281.2" cy="40.8" r="1.9"/>
<circle class="k0" cx="202.0" cy="33.9" r="1.9"/>
<circle class="k29" cx="322.2" cy="39.8" r="1.9"/>
<circle class="k39" cx="388.0" cy="36.2" r="1.9"/>
<circle class="k9" cx="262.6" cy="33.1" r="1.9"/>
<circle class="k21" cx="304.3" cy="34.0" r="1.9"/>
<circle class="k0" cx="212.6" cy="34.1" r="1.9"/>
<circle class="k39" cx="396.0" cy="35.7" r="1.9"/>
<circle class="k1" cx="241.8" cy="31.4" r="1.9"/>
<circle class="k20" cx="300.7" cy="39.6" r="1.9"/>
<circle class="k34" cx="337.8" cy="34.8" r="1.9"/>
<circle class="k0" cx="205.1" cy="38.2" r="1.9"/>
<circle class="k35" cx="347.5" cy="37.8" r="1.9"/>
<circle class="k2" cx="238.2" cy="31.1" r="1.9"/>
<circle class="k39" cx="432.7" cy="36.9" r="1.9"/>
<circle class="k5" cx="250.2" cy="42.8" r="1.9"/>
<circle class="k11" cx="277.5" cy="42.1" r="1.9"/>
<circle class="k7" cx="248.7" cy="38.8" r="1.9"/>
<circle class="k9" cx="263.0" cy="28.8" r="1.9"/>
<circle class="k4" cx="240.7" cy="41.9" r="1.9"/>
<circle class="k0" cx="223.4" cy="35.7" r="1.9"/>
<circle class="k32" cx="331.7" cy="34.6" r="1.9"/>
<circle class="k0" cx="232.4" cy="37.2" r="1.9"/>
<circle class="k15" cx="285.8" cy="27.6" r="1.9"/>
<circle class="k13" cx="282.8" cy="28.6" r="1.9"/>
<circle class="k2" cx="241.9" cy="35.3" r="1.9"/>
<circle class="k5" cx="254.9" cy="42.9" r="1.9"/>
<circle class="k27" cx="316.5" cy="38.6" r="1.9"/>
<circle class="k12" cx="269.9" cy="27.4" r="1.9"/>
<circle class="k17" cx="291.8" cy="33.0" r="1.9"/>
<circle class="k0" cx="231.7" cy="37.1" r="1.9"/>
<circle class="k16" cx="281.9" cy="36.1" r="1.9"/>
<circle class="k2" cx="241.4" cy="32.2" r="1.9"/>
<circle class="k39" cx="380.4" cy="37.0" r="1.9"/>
<circle class="k29" cx="314.8" cy="31.6" r="1.9"/>
<circle class="k1" cx="244.7" cy="32.0" r="1.9"/>
<circle class="k9" cx="268.0" cy="39.6" r="1.9"/>
<circle class="k27" cx="313.9" cy="33.1" r="1.9"/>
<circle class="k0" cx="222.1" cy="31.1" r="1.9"/>
<circle class="k12" cx="284.8" cy="27.6" r="1.9"/>
<circle class="k39" cx="414.4" cy="35.3" r="1.9"/>
<circle class="k0" cx="225.3" cy="41.8" r="1.9"/>
<circle class="k16" cx="281.1" cy="42.2" r="1.9"/>
<circle class="k5" cx="243.8" cy="35.3" r="1.9"/>
<circle class="k0" cx="211.7" cy="32.2" r="1.9"/>
<circle class="k10" cx="263.7" cy="28.5" r="1.9"/>
<circle class="k4" cx="248.4" cy="31.0" r="1.9"/>
<circle class="k17" cx="296.7" cy="33.0" r="1.9"/>
<circle class="k12" cx="267.6" cy="45.0" r="1.9"/>
<circle class="k12" cx="270.9" cy="46.3" r="1.9"/>
<circle class="k1" cx="210.2" cy="35.1" r="1.9"/>
<circle class="k16" cx="287.1" cy="38.9" r="1.9"/>
<circle class="k39" cx="380.3" cy="35.0" r="1.9"/>
<circle class="k20" cx="299.7" cy="33.3" r="1.9"/>
<circle class="k19" cx="296.4" cy="33.7" r="1.9"/>
<circle class="k13" cx="277.1" cy="38.9" r="1.9"/>
<circle class="k39" cx="426.0" cy="36.2" r="1.9"/>
<circle class="k12" cx="281.9" cy="38.1" r="1.9"/>
<circle class="k24" cx="314.0" cy="36.9" r="1.9"/>
<circle class="k28" cx="321.2" cy="38.3" r="1.9"/>
<circle class="k2" cx="245.3" cy="28.9" r="1.9"/>
<circle class="k14" cx="286.0" cy="44.5" r="1.9"/>
<circle class="k0" cx="227.2" cy="32.7" r="1.9"/>
<circle class="k3" cx="244.5" cy="35.6" r="1.9"/>
<circle class="k11" cx="270.7" cy="33.5" r="1.9"/>
<circle class="k39" cx="355.0" cy="35.5" r="1.9"/>
<circle class="k0" cx="215.6" cy="40.6" r="1.9"/>
<circle class="k5" cx="257.3" cy="43.2" r="1.9"/>
<circle class="k13" cx="274.3" cy="40.1" r="1.9"/>
<circle class="k11" cx="269.6" cy="35.2" r="1.9"/>
<circle class="k0" cx="206.6" cy="35.4" r="1.9"/>
<circle class="k19" cx="299.5" cy="35.5" r="1.9"/>
<circle class="k0" cx="178.8" cy="35.4" r="1.9"/>
<circle class="k3" cx="248.2" cy="29.0" r="1.9"/>
<circle class="k17" cx="281.5" cy="43.3" r="1.9"/>
<circle class="k10" cx="271.1" cy="43.0" r="1.9"/>
<circle class="k39" cx="351.7" cy="34.3" r="1.9"/>
<circle class="k0" cx="221.8" cy="32.2" r="1.9"/>
<circle class="k12" cx="278.8" cy="37.4" r="1.9"/>
<circle class="k4" cx="245.9" cy="35.3" r="1.9"/>
<circle class="k35" cx="349.1" cy="36.4" r="1.9"/>
<circle class="k38" cx="363.7" cy="35.7" r="1.9"/>
<circle class="k2" cx="237.5" cy="40.7" r="1.9"/>
<circle class="k0" cx="212.7" cy="38.4" r="1.9"/>
<circle class="k39" cx="434.0" cy="36.5" r="1.9"/>
<circle class="k39" cx="429.4" cy="35.1" r="1.9"/>
<circle class="k0" cx="227.6" cy="42.5" r="1.9"/>
<circle class="k39" cx="358.0" cy="34.8" r="1.9"/>
<circle class="k11" cx="268.3" cy="29.1" r="1.9"/>
<circle class="k39" cx="436.3" cy="35.2" r="1.9"/>
<circle class="k21" cx="302.2" cy="31.8" r="1.9"/>
<circle class="k20" cx="300.4" cy="33.6" r="1.9"/>
<circle class="k4" cx="246.2" cy="42.7" r="1.9"/>
<circle class="k0" cx="200.7" cy="34.5" r="1.9"/>
<circle class="k39" cx="390.2" cy="35.0" r="1.9"/>
<circle class="k14" cx="273.2" cy="25.4" r="1.9"/>
<circle class="k16" cx="290.8" cy="28.1" r="1.9"/>
<circle class="k35" cx="335.0" cy="33.7" r="1.9"/>
<circle class="k8" cx="259.1" cy="37.8" r="1.9"/>
<circle class="k6" cx="250.9" cy="36.6" r="1.9"/>
<circle class="k29" cx="318.7" cy="35.5" r="1.9"/>
<circle class="k1" cx="199.5" cy="36.7" r="1.9"/>
<circle class="k10" cx="264.5" cy="29.1" r="1.9"/>
<circle class="k10" cx="274.1" cy="45.2" r="1.9"/>
<circle class="k20" cx="303.2" cy="41.8" r="1.9"/>
<circle class="k0" cx="215.5" cy="32.4" r="1.9"/>
<circle class="k14" cx="272.6" cy="36.8" r="1.9"/>
<circle class="k15" cx="294.9" cy="42.6" r="1.9"/>
<circle class="k14" cx="281.5" cy="35.4" r="1.9"/>
<circle class="k3" cx="250.3" cy="29.8" r="1.9"/>
<circle class="k39" cx="442.3" cy="35.5" r="1.9"/>
<circle class="k36" cx="336.3" cy="35.0" r="1.9"/>
<circle class="k0" cx="212.8" cy="37.7" r="1.9"/>
<circle class="k29" cx="291.5" cy="40.2" r="1.9"/>
<circle class="k15" cx="287.6" cy="30.2" r="1.9"/>
<circle class="k0" cx="234.8" cy="43.0" r="1.9"/>
<circle class="k5" cx="248.0" cy="40.5" r="1.9"/>
<circle class="k9" cx="261.1" cy="43.4" r="1.9"/>
<circle class="k39" cx="443.0" cy="36.7" r="1.9"/>
<circle class="k25" cx="309.9" cy="39.1" r="1.9"/>
<circle class="k0" cx="187.8" cy="36.9" r="1.9"/>
<circle class="k11" cx="275.1" cy="30.7" r="1.9"/>
<circle class="k21" cx="301.0" cy="37.0" r="1.9"/>
<circle class="k0" cx="228.4" cy="40.4" r="1.9"/>
<circle class="k3" cx="247.8" cy="32.4" r="1.9"/>
<circle class="k20" cx="295.0" cy="35.2" r="1.9"/>
<circle class="k0" cx="173.3" cy="36.0" r="1.9"/>
<circle class="k5" cx="252.6" cy="28.7" r="1.9"/>
<circle class="k39" cx="420.3" cy="36.9" r="1.9"/>
<circle class="k36" cx="330.0" cy="37.7" r="1.9"/>
<circle class="k10" cx="260.8" cy="33.9" r="1.9"/>
<circle class="k18" cx="290.7" cy="40.3" r="1.9"/>
<circle class="k2" cx="238.9" cy="38.8" r="1.9"/>
<circle class="k27" cx="322.8" cy="35.0" r="1.9"/>
<circle class="k19" cx="297.4" cy="35.4" r="1.9"/>
<circle class="k0" cx="186.9" cy="37.0" r="1.9"/>
<circle class="k28" cx="315.5" cy="31.8" r="1.9"/>
<circle class="k19" cx="297.5" cy="38.7" r="1.9"/>
<circle class="k10" cx="281.4" cy="36.3" r="1.9"/>
<circle class="k12" cx="269.2" cy="29.1" r="1.9"/>
<circle class="k36" cx="341.8" cy="35.0" r="1.9"/>
<circle class="k20" cx="299.5" cy="36.3" r="1.9"/>
<circle class="k39" cx="442.8" cy="35.5" r="1.9"/>
<circle class="k12" cx="276.5" cy="37.8" r="1.9"/>
<circle class="k38" cx="400.2" cy="35.3" r="1.9"/>
<circle class="k2" cx="241.5" cy="40.0" r="1.9"/>
<circle class="k0" cx="194.8" cy="34.5" r="1.9"/>
<circle class="k25" cx="308.6" cy="37.9" r="1.9"/>
<circle class="k24" cx="316.4" cy="37.8" r="1.9"/>
<circle class="k1" cx="230.8" cy="40.7" r="1.9"/>
<circle class="k0" cx="218.2" cy="34.3" r="1.9"/>
<circle class="k0" cx="216.0" cy="36.3" r="1.9"/>
<circle class="k22" cx="305.3" cy="32.9" r="1.9"/>
<circle class="k11" cx="271.8" cy="32.1" r="1.9"/>
<circle class="k23" cx="308.8" cy="35.2" r="1.9"/>
<circle class="k39" cx="366.2" cy="35.0" r="1.9"/>
<circle class="k0" cx="213.2" cy="33.2" r="1.9"/>
<circle class="k34" cx="331.2" cy="39.1" r="1.9"/>
<circle class="k1" cx="232.8" cy="40.4" r="1.9"/>
<circle class="k7" cx="248.6" cy="41.6" r="1.9"/>
<circle class="k5" cx="249.9" cy="40.9" r="1.9"/>
<circle class="k36" cx="347.0" cy="34.5" r="1.9"/>
<circle class="k2" cx="241.1" cy="30.0" r="1.9"/>
<circle class="k38" cx="356.5" cy="36.3" r="1.9"/>
<circle class="k0" cx="236.5" cy="42.9" r="1.9"/>
<circle class="k10" cx="258.1" cy="30.2" r="1.9"/>
<circle class="k39" cx="452.6" cy="36.2" r="1.9"/>
<circle class="k9" cx="245.6" cy="40.9" r="1.9"/>
<circle class="k30" cx="332.2" cy="37.8" r="1.9"/>
<circle class="k35" cx="347.1" cy="37.6" r="1.9"/>
<circle class="k0" cx="191.5" cy="35.8" r="1.9"/>
<circle class="k1" cx="191.1" cy="35.9" r="1.9"/>
<circle class="k14" cx="275.0" cy="27.6" r="1.9"/>
<circle class="k39" cx="393.9" cy="37.2" r="1.9"/>
<circle class="k13" cx="271.7" cy="35.7" r="1.9"/>
<circle class="k27" cx="319.0" cy="33.3" r="1.9"/>
<circle class="k3" cx="242.0" cy="39.6" r="1.9"/>
<circle class="k1" cx="235.2" cy="38.3" r="1.9"/>
<circle class="k3" cx="249.5" cy="40.7" r="1.9"/>
<circle class="k15" cx="279.9" cy="27.4" r="1.9"/>
<circle class="k1" cx="241.4" cy="36.6" r="1.9"/>
<circle class="k0" cx="220.3" cy="42.0" r="1.9"/>
<circle class="k1" cx="236.0" cy="37.3" r="1.9"/>
<circle class="k1" cx="244.7" cy="38.6" r="1.9"/>
<circle class="k2" cx="247.9" cy="36.6" r="1.9"/>
<circle class="k0" cx="234.2" cy="33.7" r="1.9"/>
<circle class="k12" cx="264.3" cy="28.4" r="1.9"/>
<circle class="k17" cx="292.6" cy="42.3" r="1.9"/>
<circle class="k39" cx="419.2" cy="35.9" r="1.9"/>
<circle class="k39" cx="403.7" cy="36.3" r="1.9"/>
<circle class="k20" cx="303.9" cy="39.3" r="1.9"/>
<circle class="k13" cx="266.9" cy="42.6" r="1.9"/>
<circle class="k1" cx="193.4" cy="36.0" r="1.9"/>
<circle class="k9" cx="265.5" cy="32.4" r="1.9"/>
<circle class="k36" cx="342.6" cy="36.7" r="1.9"/>
<circle class="k38" cx="355.9" cy="35.3" r="1.9"/>
<circle class="k0" cx="217.5" cy="40.0" r="1.9"/>
<circle class="k18" cx="296.6" cy="36.9" r="1.9"/>
<circle class="k1" cx="214.0" cy="31.8" r="1.9"/>
<circle class="k13" cx="275.1" cy="44.2" r="1.9"/>
<circle class="k10" cx="260.3" cy="40.3" r="1.9"/>
<circle class="k29" cx="321.9" cy="32.2" r="1.9"/>
<circle class="k10" cx="263.5" cy="43.3" r="1.9"/>
<circle class="k20" cx="300.0" cy="37.6" r="1.9"/>
<circle class="k10" cx="267.1" cy="45.5" r="1.9"/>
<circle class="k34" cx="338.0" cy="33.6" r="1.9"/>
<circle class="k1" cx="236.8" cy="38.7" r="1.9"/>
<circle class="k8" cx="265.1" cy="26.6" r="1.9"/>
<circle class="k0" cx="188.4" cy="35.9" r="1.9"/>
<circle class="k26" cx="322.7" cy="36.1" r="1.9"/>
<circle class="k15" cx="282.2" cy="43.7" r="1.9"/>
<circle class="k39" cx="391.9" cy="36.1" r="1.9"/>
<circle class="k39" cx="383.6" cy="36.9" r="1.9"/>
<circle class="k22" cx="308.4" cy="36.3" r="1.9"/>
<circle class="k0" cx="243.7" cy="36.6" r="1.9"/>
<circle class="k29" cx="317.9" cy="38.8" r="1.9"/>
<circle class="k21" cx="301.2" cy="31.3" r="1.9"/>
<circle class="k18" cx="297.9" cy="29.9" r="1.9"/>
<circle class="k6" cx="255.7" cy="34.5" r="1.9"/>
<circle class="k32" cx="330.9" cy="36.7" r="1.9"/>
<circle class="k26" cx="311.9" cy="35.9" r="1.9"/>
<circle class="k4" cx="250.8" cy="32.0" r="1.9"/>
<circle class="k10" cx="270.7" cy="36.5" r="1.9"/>
<circle class="k39" cx="412.0" cy="35.1" r="1.9"/>
<circle class="k7" cx="257.2" cy="29.3" r="1.9"/>
<circle class="k16" cx="279.1" cy="45.8" r="1.9"/>
<circle class="k24" cx="313.6" cy="34.0" r="1.9"/>
<circle class="k0" cx="205.4" cy="34.8" r="1.9"/>
<circle class="k8" cx="259.1" cy="36.6" r="1.9"/>
<circle class="k12" cx="270.4" cy="31.9" r="1.9"/>
<circle class="k0" cx="208.6" cy="36.5" r="1.9"/>
<circle class="k0" cx="234.0" cy="31.4" r="1.9"/>
<circle class="k11" cx="270.7" cy="44.3" r="1.9"/>
<circle class="k34" cx="336.8" cy="36.2" r="1.9"/>
<circle class="k9" cx="262.0" cy="28.4" r="1.9"/>
<circle class="k5" cx="247.6" cy="38.6" r="1.9"/>
<circle class="k7" cx="252.4" cy="42.1" r="1.9"/>
<circle class="k11" cx="268.3" cy="32.4" r="1.9"/>
<circle class="k25" cx="312.4" cy="39.4" r="1.9"/>
<circle class="k31" cx="326.2" cy="35.9" r="1.9"/>
<circle class="k15" cx="284.3" cy="32.3" r="1.9"/>
<circle class="k0" cx="235.6" cy="30.5" r="1.9"/>
<circle class="k3" cx="239.6" cy="39.5" r="1.9"/>
<circle class="k0" cx="216.4" cy="33.1" r="1.9"/>
<circle class="k21" cx="303.5" cy="38.3" r="1.9"/>
<circle class="k1" cx="210.8" cy="36.1" r="1.9"/>
<circle class="k0" cx="202.3" cy="38.1" r="1.9"/>
<circle class="k13" cx="277.2" cy="31.4" r="1.9"/>
<circle class="k0" cx="226.0" cy="39.2" r="1.9"/>
<circle class="k32" cx="325.1" cy="32.5" r="1.9"/>
<circle class="k0" cx="215.1" cy="40.6" r="1.9"/>
<circle class="k0" cx="217.5" cy="38.8" r="1.9"/>
<circle class="k34" cx="325.9" cy="34.0" r="1.9"/>
<circle class="k7" cx="266.0" cy="28.7" r="1.9"/>
<circle class="k39" cx="422.0" cy="34.9" r="1.9"/>
<circle class="k17" cx="288.7" cy="32.0" r="1.9"/>
<circle class="k4" cx="255.6" cy="30.0" r="1.9"/>
<circle class="k10" cx="274.1" cy="29.6" r="1.9"/>
<circle class="k0" cx="228.4" cy="34.8" r="1.9"/>
<circle class="k13" cx="273.3" cy="36.8" r="1.9"/>
<circle class="k19" cx="305.1" cy="32.1" r="1.9"/>
<circle class="k36" cx="325.6" cy="39.1" r="1.9"/>
<circle class="k39" cx="430.2" cy="37.1" r="1.9"/>
<circle class="k13" cx="273.3" cy="41.2" r="1.9"/>
<circle class="k11" cx="269.1" cy="46.0" r="1.9"/>
<circle class="k1" cx="234.1" cy="32.5" r="1.9"/>
<circle class="k2" cx="245.5" cy="38.4" r="1.9"/>
<circle class="k16" cx="290.9" cy="29.4" r="1.9"/>
<circle class="k1" cx="213.8" cy="35.1" r="1.9"/>
<circle class="k0" cx="217.5" cy="33.5" r="1.9"/>
<circle class="k0" cx="230.2" cy="37.4" r="1.9"/>
<circle class="k1" cx="237.0" cy="30.9" r="1.9"/>
<circle class="k24" cx="311.8" cy="39.3" r="1.9"/>
<circle class="k36" cx="343.7" cy="34.7" r="1.9"/>
<circle class="k34" cx="330.9" cy="35.7" r="1.9"/>
<circle class="k1" cx="210.1" cy="39.4" r="1.9"/>
<circle class="k1" cx="180.2" cy="36.2" r="1.9"/>
<circle class="k32" cx="337.1" cy="37.3" r="1.9"/>
<circle class="k26" cx="315.0" cy="34.2" r="1.9"/>
<circle class="k22" cx="298.3" cy="39.9" r="1.9"/>
<circle class="k13" cx="287.5" cy="42.8" r="1.9"/>
<circle class="k10" cx="274.7" cy="32.4" r="1.9"/>
<circle class="k0" cx="220.5" cy="36.5" r="1.9"/>
<circle class="k39" cx="427.2" cy="36.1" r="1.9"/>
<circle class="k0" cx="176.3" cy="35.7" r="1.9"/>
<circle class="k0" cx="219.6" cy="39.2" r="1.9"/>
<circle class="k13" cx="280.8" cy="35.6" r="1.9"/>
<circle class="k2" cx="231.0" cy="38.4" r="1.9"/>
<circle class="k0" cx="231.0" cy="34.7" r="1.9"/>
<circle class="k39" cx="451.8" cy="35.6" r="1.9"/>
<circle class="k8" cx="263.0" cy="40.0" r="1.9"/>
<circle class="k13" cx="272.4" cy="41.2" r="1.9"/>
<circle class="k0" cx="234.1" cy="42.9" r="1.9"/>
<circle class="k9" cx="261.2" cy="37.3" r="1.9"/>
<circle class="k19" cx="294.2" cy="34.2" r="1.9"/>
<circle class="k5" cx="287.9" cy="28.7" r="1.9"/>
<circle class="k18" cx="291.9" cy="36.1" r="1.9"/>
<circle class="k15" cx="290.1" cy="43.7" r="1.9"/>
<circle class="k14" cx="274.7" cy="36.3" r="1.9"/>
<circle class="k0" cx="218.8" cy="39.3" r="1.9"/>
<circle class="k2" cx="247.9" cy="31.3" r="1.9"/>
<circle class="k20" cx="298.7" cy="41.8" r="1.9"/>
<circle class="k5" cx="245.5" cy="31.1" r="1.9"/>
<circle class="k1" cx="201.3" cy="36.9" r="1.9"/>
<circle class="k34" cx="332.8" cy="38.6" r="1.9"/>
<circle class="k15" cx="309.0" cy="36.0" r="1.9"/>
<circle class="k11" cx="272.5" cy="31.9" r="1.9"/>
<circle class="k39" cx="448.3" cy="35.7" r="1.9"/>
<circle class="k26" cx="318.8" cy="38.7" r="1.9"/>
<circle class="k0" cx="203.9" cy="33.7" r="1.9"/>
<circle class="k2" cx="245.1" cy="41.6" r="1.9"/>
<circle class="k23" cx="309.8" cy="33.6" r="1.9"/>
<circle class="k5" cx="253.4" cy="28.9" r="1.9"/>
<circle class="k39" cx="401.3" cy="37.0" r="1.9"/>
<circle class="k21" cx="303.6" cy="30.5" r="1.9"/>
<circle class="k39" cx="381.3" cy="34.9" r="1.9"/>
<circle class="k23" cx="301.9" cy="30.6" r="1.9"/>
<circle class="k23" cx="312.4" cy="35.2" r="1.9"/>
<circle class="k0" cx="213.8" cy="33.8" r="1.9"/>
<circle class="k38" cx="339.9" cy="37.1" r="1.9"/>
<circle class="k28" cx="319.6" cy="32.1" r="1.9"/>
<circle class="k39" cx="396.8" cy="34.8" r="1.9"/>
<circle class="k39" cx="423.9" cy="35.1" r="1.9"/>
<circle class="k12" cx="270.6" cy="42.4" r="1.9"/>
<circle class="k9" cx="261.1" cy="39.5" r="1.9"/>
<circle class="k39" cx="455.1" cy="36.0" r="1.9"/>
<circle class="k9" cx="265.3" cy="29.2" r="1.9"/>
<circle class="k11" cx="267.6" cy="37.0" r="1.9"/>
<circle class="k0" cx="218.8" cy="41.5" r="1.9"/>
<circle class="k39" cx="422.0" cy="36.8" r="1.9"/>
<circle class="k19" cx="293.4" cy="42.2" r="1.9"/>
<circle class="k1" cx="196.4" cy="34.3" r="1.9"/>
<circle class="k13" cx="281.5" cy="27.9" r="1.9"/>
<circle class="k16" cx="282.9" cy="32.9" r="1.9"/>
<circle class="k0" cx="215.1" cy="33.9" r="1.9"/>
<circle class="k4" cx="247.7" cy="34.6" r="1.9"/>
<circle class="k12" cx="266.1" cy="36.6" r="1.9"/>
<circle class="k22" cx="306.9" cy="37.9" r="1.9"/>
<circle class="k36" cx="353.4" cy="36.7" r="1.9"/>
<circle class="k1" cx="209.9" cy="36.2" r="1.9"/>
<circle class="k13" cx="277.1" cy="29.9" r="1.9"/>
<circle class="k39" cx="433.5" cy="36.7" r="1.9"/>
<circle class="k3" cx="243.7" cy="40.6" r="1.9"/>
<circle class="k0" cx="201.6" cy="38.1" r="1.9"/>
<circle class="k1" cx="233.2" cy="38.1" r="1.9"/>
<circle class="k1" cx="232.5" cy="35.8" r="1.9"/>
<circle class="k23" cx="305.1" cy="40.3" r="1.9"/>
<circle class="k18" cx="301.3" cy="32.4" r="1.9"/>
<circle class="k15" cx="285.4" cy="33.3" r="1.9"/>
<circle class="k38" cx="363.7" cy="34.9" r="1.9"/>
<circle class="k35" cx="338.7" cy="37.3" r="1.9"/>
<circle class="k6" cx="255.7" cy="35.2" r="1.9"/>
<circle class="k0" cx="211.9" cy="37.0" r="1.9"/>
<circle class="k15" cx="285.8" cy="38.6" r="1.9"/>
<circle class="k0" cx="206.9" cy="38.8" r="1.9"/>
<circle class="k0" cx="214.1" cy="37.3" r="1.9"/>
<circle class="k39" cx="404.7" cy="36.0" r="1.9"/>
<circle class="k13" cx="273.4" cy="46.7" r="1.9"/>
<circle class="k17" cx="288.6" cy="34.1" r="1.9"/>
<circle class="k0" cx="182.0" cy="36.7" r="1.9"/>
<circle class="k6" cx="253.5" cy="35.4" r="1.9"/>
<circle class="k2" cx="238.6" cy="34.3" r="1.9"/>
<circle class="k0" cx="222.8" cy="39.1" r="1.9"/>
<circle class="k0" cx="226.9" cy="42.5" r="1.9"/>
<circle class="k0" cx="226.8" cy="31.3" r="1.9"/>
<circle class="k15" cx="289.9" cy="30.2" r="1.9"/>
<circle class="k6" cx="250.3" cy="41.9" r="1.9"/>
<circle class="k39" cx="421.3" cy="36.7" r="1.9"/>
<circle class="k2" cx="244.0" cy="41.9" r="1.9"/>
<circle class="k10" cx="259.5" cy="32.1" r="1.9"/>
<circle class="k2" cx="242.7" cy="35.4" r="1.9"/>
<circle class="k0" cx="215.6" cy="39.1" r="1.9"/>
<circle class="k0" cx="224.3" cy="42.8" r="1.9"/>
<circle class="k8" cx="258.7" cy="35.3" r="1.9"/>
<circle class="k39" cx="356.0" cy="36.5" r="1.9"/>
<circle class="k39" cx="453.5" cy="36.2" r="1.9"/>
<circle class="k0" cx="230.7" cy="39.1" r="1.9"/>
<circle class="k39" cx="377.5" cy="36.3" r="1.9"/>
<circle class="k38" cx="350.3" cy="37.9" r="1.9"/>
<circle class="k0" cx="221.4" cy="33.2" r="1.9"/>
<circle class="k1" cx="217.5" cy="37.8" r="1.9"/>
<circle class="k22" cx="305.5" cy="34.0" r="1.9"/>
<circle class="k39" cx="382.0" cy="36.7" r="1.9"/>
<circle class="k16" cx="285.1" cy="40.9" r="1.9"/>
<circle class="k10" cx="289.6" cy="33.2" r="1.9"/>
<circle class="k38" cx="389.1" cy="35.3" r="1.9"/>
<circle class="k39" cx="411.5" cy="36.1" r="1.9"/>
<circle class="k8" cx="258.9" cy="33.3" r="1.9"/>
<circle class="k0" cx="235.9" cy="38.1" r="1.9"/>
<circle class="k5" cx="252.0" cy="33.6" r="1.9"/>
<circle class="k1" cx="232.3" cy="42.0" r="1.9"/>
<circle class="k0" cx="208.5" cy="34.3" r="1.9"/>
<circle class="k11" cx="260.7" cy="32.7" r="1.9"/>
<circle class="k4" cx="243.0" cy="43.2" r="1.9"/>
<circle class="k0" cx="203.1" cy="37.2" r="1.9"/>
<circle class="k20" cx="294.9" cy="42.0" r="1.9"/>
<circle class="k3" cx="239.6" cy="32.1" r="1.9"/>
<circle class="k2" cx="242.3" cy="38.8" r="1.9"/>
<circle class="k5" cx="246.4" cy="41.6" r="1.9"/>
<circle class="k10" cx="267.7" cy="32.6" r="1.9"/>
<circle class="k16" cx="290.2" cy="32.8" r="1.9"/>
<circle class="k13" cx="283.1" cy="36.1" r="1.9"/>
<circle class="k0" cx="229.9" cy="38.3" r="1.9"/>
<circle class="k0" cx="221.2" cy="38.7" r="1.9"/>
<circle class="k0" cx="180.4" cy="35.6" r="1.9"/>
<circle class="k10" cx="261.2" cy="30.8" r="1.9"/>
<circle class="k0" cx="220.2" cy="35.2" r="1.9"/>
<circle class="k39" cx="434.7" cy="35.2" r="1.9"/>
<circle class="k12" cx="271.5" cy="26.9" r="1.9"/>
<circle class="k37" cx="348.8" cy="37.5" r="1.9"/>
<circle class="k10" cx="265.1" cy="36.4" r="1.9"/>
<circle class="k12" cx="273.8" cy="35.7" r="1.9"/>
<circle class="k0" cx="221.4" cy="30.3" r="1.9"/>
<circle class="k12" cx="276.3" cy="33.2" r="1.9"/>
<circle class="k2" cx="234.1" cy="34.6" r="1.9"/>
<circle class="k24" cx="306.1" cy="38.8" r="1.9"/>
<circle class="k0" cx="224.4" cy="36.9" r="1.9"/>
<circle class="k15" cx="275.8" cy="38.0" r="1.9"/>
<circle class="k19" cx="300.6" cy="32.6" r="1.9"/>
<circle class="k36" cx="349.2" cy="34.3" r="1.9"/>
<circle class="k0" cx="203.1" cy="34.7" r="1.9"/>
<circle class="k20" cx="297.2" cy="42.2" r="1.9"/>
<circle class="k27" cx="319.7" cy="33.5" r="1.9"/>
<circle class="k2" cx="240.3" cy="29.9" r="1.9"/>
<circle class="k0" cx="216.5" cy="32.0" r="1.9"/>
<circle class="k20" cx="299.0" cy="34.5" r="1.9"/>
<circle class="k39" cx="426.7" cy="35.3" r="1.9"/>
<circle class="k12" cx="273.3" cy="43.4" r="1.9"/>
<circle class="k20" cx="297.2" cy="31.9" r="1.9"/>
<circle class="k39" cx="416.4" cy="36.9" r="1.9"/>
<circle class="k32" cx="337.5" cy="38.2" r="1.9"/>
<circle class="k15" cx="283.5" cy="29.7" r="1.9"/>
<circle class="k14" cx="283.5" cy="36.8" r="1.9"/>
<circle class="k24" cx="307.7" cy="38.4" r="1.9"/>
<circle class="k18" cx="283.5" cy="27.4" r="1.9"/>
<circle class="k1" cx="237.5" cy="28.9" r="1.9"/>
<circle class="k5" cx="252.7" cy="38.5" r="1.9"/>
<circle class="k0" cx="216.2" cy="35.3" r="1.9"/>
<circle class="k0" cx="177.6" cy="36.4" r="1.9"/>
<circle class="k10" cx="260.3" cy="43.3" r="1.9"/>
<circle class="k2" cx="237.1" cy="35.5" r="1.9"/>
<circle class="k9" cx="262.0" cy="37.2" r="1.9"/>
<circle class="k25" cx="313.3" cy="40.1" r="1.9"/>
<circle class="k12" cx="312.2" cy="40.2" r="1.9"/>
<circle class="k8" cx="273.1" cy="26.6" r="1.9"/>
<circle class="k38" cx="399.5" cy="34.8" r="1.9"/>
<circle class="k9" cx="263.5" cy="40.8" r="1.9"/>
<circle class="k13" cx="270.9" cy="29.0" r="1.9"/>
<circle class="k0" cx="229.6" cy="33.6" r="1.9"/>
<circle class="k18" cx="300.5" cy="38.6" r="1.9"/>
<circle class="k39" cx="391.1" cy="35.0" r="1.9"/>
<circle class="k0" cx="224.7" cy="34.7" r="1.9"/>
<circle class="k18" cx="294.8" cy="34.4" r="1.9"/>
<circle class="k0" cx="202.9" cy="34.1" r="1.9"/>
<circle class="k39" cx="425.2" cy="37.2" r="1.9"/>
<circle class="k10" cx="263.7" cy="39.0" r="1.9"/>
<circle class="k21" cx="305.9" cy="39.9" r="1.9"/>
<circle class="k39" cx="449.0" cy="36.1" r="1.9"/>
<circle class="k19" cx="297.6" cy="39.9" r="1.9"/>
<circle class="k0" cx="236.4" cy="31.4" r="1.9"/>
<circle class="k39" cx="354.8" cy="34.4" r="1.9"/>
<circle class="k12" cx="261.9" cy="31.3" r="1.9"/>
<circle class="k39" cx="369.5" cy="37.1" r="1.9"/>
<circle class="k39" cx="419.8" cy="35.0" r="1.9"/>
<circle class="k0" cx="210.9" cy="33.8" r="1.9"/>
<circle class="k9" cx="261.2" cy="34.1" r="1.9"/>
<circle class="k1" cx="231.9" cy="42.8" r="1.9"/>
<circle class="k19" cx="293.0" cy="28.8" r="1.9"/>
<circle class="k11" cx="263.6" cy="29.7" r="1.9"/>
<circle class="k39" cx="411.0" cy="34.8" r="1.9"/>
<circle class="k0" cx="214.7" cy="39.0" r="1.9"/>
<circle class="k23" cx="302.7" cy="35.9" r="1.9"/>
<circle class="k17" cx="287.4" cy="37.7" r="1.9"/>
<circle class="k38" cx="415.5" cy="34.9" r="1.9"/>
<circle class="k0" cx="208.8" cy="39.0" r="1.9"/>
<circle class="k18" cx="291.0" cy="30.5" r="1.9"/>
<circle class="k0" cx="235.6" cy="42.0" r="1.9"/>
<circle class="k39" cx="369.3" cy="36.2" r="1.9"/>
<circle class="k25" cx="318.8" cy="36.4" r="1.9"/>
<circle class="k39" cx="356.8" cy="35.6" r="1.9"/>
<circle class="k10" cx="264.4" cy="41.8" r="1.9"/>
<circle class="k7" cx="254.7" cy="29.9" r="1.9"/>
<circle class="k0" cx="210.3" cy="33.7" r="1.9"/>
<circle class="k18" cx="299.6" cy="32.2" r="1.9"/>
<circle class="k17" cx="291.2" cy="35.8" r="1.9"/>
<circle class="k39" cx="385.2" cy="35.8" r="1.9"/>
<circle class="k31" cx="330.0" cy="34.1" r="1.9"/>
<circle class="k26" cx="312.2" cy="35.8" r="1.9"/>
<circle class="k1" cx="217.8" cy="30.6" r="1.9"/>
<circle class="k11" cx="268.8" cy="34.8" r="1.9"/>
<circle class="k14" cx="285.3" cy="38.9" r="1.9"/>
<circle class="k11" cx="263.0" cy="35.2" r="1.9"/>
<circle class="k0" cx="226.4" cy="38.1" r="1.9"/>
<circle class="k0" cx="238.1" cy="30.4" r="1.9"/>
<circle class="k8" cx="263.0" cy="29.9" r="1.9"/>
<circle class="k38" cx="430.1" cy="36.0" r="1.9"/>
<circle class="k1" cx="233.1" cy="32.7" r="1.9"/>
<circle class="k23" cx="303.9" cy="33.1" r="1.9"/>
<circle class="k11" cx="265.8" cy="26.2" r="1.9"/>
<circle class="k5" cx="237.9" cy="40.7" r="1.9"/>
<circle class="k0" cx="229.1" cy="34.6" r="1.9"/>
<circle class="k29" cx="325.9" cy="39.4" r="1.9"/>
<circle class="k8" cx="264.4" cy="39.1" r="1.9"/>
<circle class="k21" cx="308.0" cy="31.0" r="1.9"/>
<circle class="k39" cx="376.3" cy="36.8" r="1.9"/>
<circle class="k1" cx="238.6" cy="42.7" r="1.9"/>
<circle class="k9" cx="262.9" cy="42.0" r="1.9"/>
<circle class="k15" cx="276.3" cy="29.9" r="1.9"/>
<circle class="k6" cx="254.9" cy="34.5" r="1.9"/>
<circle class="k3" cx="250.3" cy="31.4" r="1.9"/>
<circle class="k4" cx="241.9" cy="37.6" r="1.9"/>
<circle class="k39" cx="384.6" cy="36.0" r="1.9"/>
<circle class="k19" cx="304.4" cy="35.2" r="1.9"/>
<circle class="k0" cx="207.9" cy="35.2" r="1.9"/>
<circle class="k12" cx="269.9" cy="30.2" r="1.9"/>
<circle class="k12" cx="271.7" cy="25.7" r="1.9"/>
<circle class="k39" cx="366.8" cy="37.2" r="1.9"/>
<circle class="k39" cx="378.2" cy="35.1" r="1.9"/>
<circle class="k25" cx="313.9" cy="39.3" r="1.9"/>
<circle class="k16" cx="283.1" cy="41.6" r="1.9"/>
<circle class="k32" cx="330.4" cy="38.8" r="1.9"/>
<circle class="k14" cx="280.7" cy="31.1" r="1.9"/>
<circle class="k0" cx="245.1" cy="34.3" r="1.9"/>
<circle class="k39" cx="408.7" cy="34.9" r="1.9"/>
<circle class="k19" cx="294.8" cy="30.0" r="1.9"/>
<circle class="k18" cx="295.6" cy="32.6" r="1.9"/>
<circle class="k33" cx="336.8" cy="33.6" r="1.9"/>
<circle class="k13" cx="272.6" cy="26.5" r="1.9"/>
<circle class="k11" cx="276.7" cy="27.9" r="1.9"/>
<circle class="k0" cx="199.2" cy="35.7" r="1.9"/>
<circle class="k36" cx="345.5" cy="34.4" r="1.9"/>
<circle class="k10" cx="266.0" cy="32.9" r="1.9"/>
<circle class="k39" cx="453.4" cy="35.7" r="1.9"/>
<circle class="k12" cx="271.7" cy="29.8" r="1.9"/>
<circle class="k9" cx="257.5" cy="39.5" r="1.9"/>
<circle class="k12" cx="269.8" cy="28.8" r="1.9"/>
<circle class="k24" cx="315.8" cy="37.6" r="1.9"/>
<circle class="k39" cx="406.9" cy="35.1" r="1.9"/>
<circle class="k39" cx="374.2" cy="36.0" r="1.9"/>
<circle class="k37" cx="358.7" cy="35.0" r="1.9"/>
<circle class="k3" cx="252.8" cy="42.7" r="1.9"/>
<circle class="k39" cx="427.8" cy="36.8" r="1.9"/>
<circle class="k39" cx="391.7" cy="37.2" r="1.9"/>
<circle class="k24" cx="305.3" cy="35.6" r="1.9"/>
<circle class="k0" cx="229.9" cy="30.2" r="1.9"/>
<circle class="k14" cx="315.6" cy="38.8" r="1.9"/>
<circle class="k1" cx="220.6" cy="33.2" r="1.9"/>
<circle class="k0" cx="223.1" cy="30.7" r="1.9"/>
<circle class="k36" cx="341.9" cy="34.3" r="1.9"/>
<circle class="k18" cx="293.1" cy="43.1" r="1.9"/>
<circle class="k14" cx="291.2" cy="37.3" r="1.9"/>
<circle class="k37" cx="345.3" cy="38.1" r="1.9"/>
<circle class="k11" cx="263.8" cy="31.9" r="1.9"/>
<circle class="k6" cx="254.2" cy="40.8" r="1.9"/>
<circle class="k15" cx="285.5" cy="37.5" r="1.9"/>
<circle class="k34" cx="343.2" cy="35.8" r="1.9"/>
<circle class="k39" cx="385.4" cy="34.8" r="1.9"/>
<circle class="k38" cx="362.1" cy="34.7" r="1.9"/>
<circle class="k39" cx="426.0" cy="36.7" r="1.9"/>
<circle class="k30" cx="324.5" cy="39.5" r="1.9"/>
<circle class="k11" cx="270.2" cy="25.7" r="1.9"/>
<circle class="k14" cx="284.5" cy="34.5" r="1.9"/>
<circle class="k0" cx="225.6" cy="39.2" r="1.9"/>
<circle class="k39" cx="399.5" cy="36.9" r="1.9"/>
<circle class="k39" cx="413.9" cy="36.9" r="1.9"/>
<circle class="k1" cx="237.6" cy="37.4" r="1.9"/>
<circle class="k15" cx="289.1" cy="28.0" r="1.9"/>
<circle class="k39" cx="413.4" cy="36.8" r="1.9"/>
<circle class="k13" cx="269.4" cy="28.1" r="1.9"/>
<circle class="k32" cx="322.8" cy="38.3" r="1.9"/>
<circle class="k24" cx="314.2" cy="35.8" r="1.9"/>
<circle class="k12" cx="280.7" cy="44.6" r="1.9"/>
<circle class="k26" cx="303.1" cy="31.6" r="1.9"/>
<circle class="k38" cx="406.0" cy="35.3" r="1.9"/>
<circle class="k32" cx="335.8" cy="36.1" r="1.9"/>
<circle class="k0" cx="221.1" cy="39.7" r="1.9"/>
<circle class="k39" cx="397.3" cy="35.8" r="1.9"/>
<circle class="k29" cx="316.4" cy="34.1" r="1.9"/>
<circle class="k31" cx="327.1" cy="39.5" r="1.9"/>
<circle class="k1" cx="230.3" cy="40.3" r="1.9"/>
<circle class="k12" cx="272.7" cy="37.4" r="1.9"/>
<circle class="k14" cx="274.0" cy="36.4" r="1.9"/>
<circle class="k3" cx="244.4" cy="34.1" r="1.9"/>
<circle class="k24" cx="310.8" cy="39.2" r="1.9"/>
<circle class="k1" cx="202.9" cy="37.8" r="1.9"/>
<circle class="k39" cx="372.4" cy="34.9" r="1.9"/>
<circle class="k14" cx="282.9" cy="29.2" r="1.9"/>
<circle class="k31" cx="322.0" cy="33.9" r="1.9"/>
<circle class="k20" cx="303.6" cy="34.0" r="1.9"/>
<circle class="k1" cx="212.2" cy="35.6" r="1.9"/>
<circle class="k29" cx="321.4" cy="33.3" r="1.9"/>
<circle class="k39" cx="420.5" cy="35.8" r="1.9"/>
<circle class="k20" cx="300.7" cy="37.3" r="1.9"/>
<circle class="k35" cx="344.6" cy="37.8" r="1.9"/>
<circle class="k12" cx="267.5" cy="31.5" r="1.9"/>
<circle class="k17" cx="293.9" cy="40.1" r="1.9"/>
<circle class="k18" cx="298.2" cy="30.8" r="1.9"/>
<circle class="k26" cx="319.1" cy="32.1" r="1.9"/>
<circle class="k1" cx="222.1" cy="33.3" r="1.9"/>
<circle class="k9" cx="258.0" cy="31.2" r="1.9"/>
<circle class="k24" cx="310.7" cy="36.2" r="1.9"/>
<circle class="k39" cx="449.9" cy="35.8" r="1.9"/>
<circle class="k9" cx="260.3" cy="30.4" r="1.9"/>
<circle class="k20" cx="301.5" cy="35.8" r="1.9"/>
<circle class="k14" cx="291.0" cy="38.1" r="1.9"/>
<circle class="k3" cx="244.8" cy="37.6" r="1.9"/>
<circle class="k6" cx="256.5" cy="40.8" r="1.9"/>
<circle class="k6" cx="254.1" cy="34.6" r="1.9"/>
<circle class="k14" cx="272.3" cy="39.7" r="1.9"/>
<circle class="k1" cx="213.6" cy="34.2" r="1.9"/>
<circle class="k39" cx="393.8" cy="35.3" r="1.9"/>
<circle class="k39" cx="386.8" cy="36.9" r="1.9"/>
<circle class="k37" cx="360.4" cy="35.9" r="1.9"/>
<circle class="k15" cx="286.1" cy="33.5" r="1.9"/>
<circle class="k15" cx="280.0" cy="28.5" r="1.9"/>
<circle class="k38" cx="370.0" cy="34.9" r="1.9"/>
<circle class="k39" cx="389.4" cy="36.8" r="1.9"/>
<circle class="k17" cx="285.3" cy="32.1" r="1.9"/>
<circle class="k39" cx="390.3" cy="35.7" r="1.9"/>
<circle class="k0" cx="223.5" cy="42.3" r="1.9"/>
<circle class="k0" cx="227.6" cy="31.7" r="1.9"/>
<circle class="k0" cx="203.6" cy="35.9" r="1.9"/>
<circle class="k38" cx="365.1" cy="35.7" r="1.9"/>
<circle class="k0" cx="219.5" cy="35.2" r="1.9"/>
<circle class="k7" cx="257.4" cy="37.8" r="1.9"/>
<circle class="k0" cx="225.9" cy="32.4" r="1.9"/>
<circle class="k13" cx="275.6" cy="41.9" r="1.9"/>
<circle class="k15" cx="281.2" cy="34.5" r="1.9"/>
<circle class="k24" cx="311.0" cy="33.8" r="1.9"/>
<circle class="k0" cx="222.8" cy="41.1" r="1.9"/>
<circle class="k15" cx="289.3" cy="37.4" r="1.9"/>
<circle class="k39" cx="361.3" cy="36.0" r="1.9"/>
<circle class="k5" cx="249.4" cy="37.8" r="1.9"/>
<circle class="k9" cx="262.7" cy="28.1" r="1.9"/>
<circle class="k6" cx="254.9" cy="28.7" r="1.9"/>
<circle class="k2" cx="246.3" cy="29.2" r="1.9"/>
<circle class="k39" cx="465.6" cy="36.0" r="1.9"/>
<circle class="k8" cx="254.8" cy="41.9" r="1.9"/>
<circle class="k1" cx="239.5" cy="29.2" r="1.9"/>
<circle class="k1" cx="241.4" cy="34.1" r="1.9"/>
<circle class="k11" cx="269.4" cy="32.1" r="1.9"/>
<circle class="k0" cx="238.1" cy="33.3" r="1.9"/>
<circle class="k3" cx="244.5" cy="30.1" r="1.9"/>
<circle class="k35" cx="337.1" cy="34.6" r="1.9"/>
<circle class="k20" cx="297.0" cy="34.3" r="1.9"/>
<circle class="k1" cx="229.3" cy="31.3" r="1.9"/>
<circle class="k17" cx="294.2" cy="31.2" r="1.9"/>
<circle class="k21" cx="287.7" cy="32.0" r="1.9"/>
<circle class="k8" cx="264.2" cy="42.7" r="1.9"/>
<circle class="k10" cx="260.4" cy="41.1" r="1.9"/>
<circle class="k39" cx="417.1" cy="36.8" r="1.9"/>
<circle class="k34" cx="335.0" cy="38.6" r="1.9"/>
<circle class="k17" cx="292.6" cy="35.8" r="1.9"/>
<circle class="k10" cx="265.9" cy="35.5" r="1.9"/>
<circle class="k6" cx="252.7" cy="32.0" r="1.9"/>
<circle class="k11" cx="269.4" cy="33.1" r="1.9"/>
<circle class="k17" cx="287.9" cy="31.0" r="1.9"/>
<circle class="k6" cx="253.2" cy="30.0" r="1.9"/>
<circle class="k1" cx="233.4" cy="31.6" r="1.9"/>
<circle class="k39" cx="418.0" cy="35.2" r="1.9"/>
<circle class="k20" cx="303.1" cy="32.8" r="1.9"/>
<circle class="k4" cx="246.1" cy="39.8" r="1.9"/>
<circle class="k1" cx="233.0" cy="29.4" r="1.9"/>
<circle class="k0" cx="222.8" cy="37.1" r="1.9"/>
<circle class="k13" cx="272.5" cy="31.1" r="1.9"/>
<circle class="k5" cx="251.8" cy="39.6" r="1.9"/>
<circle class="k39" cx="416.7" cy="35.8" r="1.9"/>
<circle class="k0" cx="221.2" cy="31.0" r="1.9"/>
<circle class="k17" cx="287.1" cy="33.1" r="1.9"/>
<circle class="k4" cx="250.7" cy="29.2" r="1.9"/>
<circle class="k4" cx="249.3" cy="34.3" r="1.9"/>
<circle class="k14" cx="275.5" cy="43.3" r="1.9"/>
<circle class="k39" cx="401.5" cy="34.9" r="1.9"/>
<circle class="k1" cx="233.2" cy="37.2" r="1.9"/>
<circle class="k19" cx="305.1" cy="38.9" r="1.9"/>
<circle class="k29" cx="323.6" cy="34.9" r="1.9"/>
<circle class="k3" cx="234.6" cy="30.4" r="1.9"/>
<circle class="k2" cx="238.3" cy="32.0" r="1.9"/>
<circle class="k26" cx="316.7" cy="35.3" r="1.9"/>
<circle class="k4" cx="253.8" cy="37.6" r="1.9"/>
<circle class="k37" cx="347.1" cy="36.3" r="1.9"/>
<circle class="k27" cx="311.9" cy="37.1" r="1.9"/>
<circle class="k0" cx="223.9" cy="41.8" r="1.9"/>
<circle class="k10" cx="260.8" cy="39.1" r="1.9"/>
<circle class="k39" cx="403.9" cy="35.1" r="1.9"/>
<circle class="k28" cx="319.6" cy="38.8" r="1.9"/>
<circle class="k14" cx="274.1" cy="38.5" r="1.9"/>
<circle class="k31" cx="325.3" cy="38.4" r="1.9"/>
<circle class="k0" cx="198.0" cy="34.7" r="1.9"/>
<circle class="k0" cx="240.7" cy="35.7" r="1.9"/>
<circle class="k39" cx="392.6" cy="37.0" r="1.9"/>
<circle class="k14" cx="277.5" cy="32.2" r="1.9"/>
<circle class="k15" cx="283.0" cy="40.3" r="1.9"/>
<circle class="k10" cx="267.1" cy="29.3" r="1.9"/>
<circle class="k19" cx="295.2" cy="31.0" r="1.9"/>
<circle class="k1" cx="237.4" cy="42.9" r="1.9"/>
<circle class="k38" cx="397.9" cy="36.9" r="1.9"/>
<circle class="k8" cx="262.8" cy="36.7" r="1.9"/>
<circle class="k9" cx="266.0" cy="34.3" r="1.9"/>
<circle class="k0" cx="176.7" cy="36.1" r="1.9"/>
<circle class="k28" cx="316.2" cy="33.2" r="1.9"/>
<circle class="k9" cx="253.9" cy="36.5" r="1.9"/>
<circle class="k16" cx="287.9" cy="34.2" r="1.9"/>
<circle class="k16" cx="284.8" cy="30.1" r="1.9"/>
<circle class="k12" cx="266.1" cy="29.8" r="1.9"/>
<circle class="k39" cx="429.1" cy="36.7" r="1.9"/>
<circle class="k2" cx="243.7" cy="34.6" r="1.9"/>
<circle class="k27" cx="320.3" cy="36.5" r="1.9"/>
<circle class="k1" cx="243.8" cy="37.9" r="1.9"/>
<circle class="k39" cx="365.9" cy="36.9" r="1.9"/>
<circle class="k3" cx="236.2" cy="40.5" r="1.9"/>
<circle class="k6" cx="258.0" cy="36.7" r="1.9"/>
<circle class="k0" cx="231.5" cy="41.4" r="1.9"/>
<circle class="k0" cx="222.0" cy="40.0" r="1.9"/>
<circle class="k0" cx="235.5" cy="35.8" r="1.9"/>
<circle class="k0" cx="171.8" cy="36.0" r="1.9"/>
<circle class="k15" cx="284.7" cy="32.9" r="1.9"/>
<circle class="k15" cx="273.2" cy="28.6" r="1.9"/>
<circle class="k28" cx="315.9" cy="33.0" r="1.9"/>
<circle class="k39" cx="425.5" cy="35.0" r="1.9"/>
<circle class="k6" cx="257.2" cy="32.2" r="1.9"/>
<circle class="k12" cx="273.4" cy="32.0" r="1.9"/>
<circle class="k1" cx="218.2" cy="37.7" r="1.9"/>
<circle class="k23" cx="310.2" cy="32.4" r="1.9"/>
<circle class="k30" cx="328.0" cy="33.9" r="1.9"/>
<circle class="k12" cx="266.6" cy="33.9" r="1.9"/>
<circle class="k22" cx="304.0" cy="40.1" r="1.9"/>
<circle class="k3" cx="246.3" cy="40.7" r="1.9"/>
<circle class="k22" cx="307.2" cy="33.0" r="1.9"/>
<circle class="k16" cx="279.7" cy="26.5" r="1.9"/>
<circle class="k1" cx="240.7" cy="43.0" r="1.9"/>
<circle class="k18" cx="280.7" cy="31.8" r="1.9"/>
<circle class="k39" cx="361.9" cy="37.0" r="1.9"/>
<circle class="k11" cx="262.0" cy="32.6" r="1.9"/>
<circle class="k18" cx="290.1" cy="38.5" r="1.9"/>
<circle class="k17" cx="296.2" cy="30.9" r="1.9"/>
<circle class="k7" cx="259.6" cy="28.9" r="1.9"/>
<circle class="k38" cx="415.0" cy="35.1" r="1.9"/>
<circle class="k0" cx="235.5" cy="29.4" r="1.9"/>
<circle class="k0" cx="209.3" cy="37.5" r="1.9"/>
<circle class="k34" cx="353.3" cy="37.2" r="1.9"/>
<circle class="k0" cx="206.7" cy="36.2" r="1.9"/>
<circle class="k0" cx="226.0" cy="31.7" r="1.9"/>
<circle class="k0" cx="215.2" cy="32.6" r="1.9"/>
<circle class="k25" cx="317.5" cy="35.6" r="1.9"/>
<circle class="k2" cx="235.2" cy="36.1" r="1.9"/>
<circle class="k35" cx="347.5" cy="34.4" r="1.9"/>
<circle class="k10" cx="274.9" cy="29.0" r="1.9"/>
<circle class="k39" cx="398.1" cy="35.9" r="1.9"/>
<circle class="k0" cx="228.2" cy="31.3" r="1.9"/>
<circle class="k39" cx="454.3" cy="35.8" r="1.9"/>
<circle class="k0" cx="222.9" cy="40.2" r="1.9"/>
<circle class="k14" cx="288.5" cy="29.2" r="1.9"/>
<circle class="k19" cx="293.1" cy="33.0" r="1.9"/>
<circle class="k38" cx="397.4" cy="35.0" r="1.9"/>
<circle class="k17" cx="288.6" cy="41.7" r="1.9"/>
<circle class="k15" cx="278.9" cy="43.5" r="1.9"/>
<circle class="k0" cx="212.0" cy="34.6" r="1.9"/>
<circle class="k14" cx="274.0" cy="40.8" r="1.9"/>
<circle class="k10" cx="260.3" cy="34.9" r="1.9"/>
<circle class="k21" cx="304.7" cy="37.2" r="1.9"/>
<circle class="k9" cx="254.3" cy="40.0" r="1.9"/>
<circle class="k39" cx="449.4" cy="35.9" r="1.9"/>
<circle class="k13" cx="279.2" cy="33.7" r="1.9"/>
<circle class="k6" cx="253.1" cy="39.9" r="1.9"/>
<circle class="k0" cx="184.3" cy="35.3" r="1.9"/>
<circle class="k33" cx="333.2" cy="35.5" r="1.9"/>
<circle class="k12" cx="273.5" cy="39.8" r="1.9"/>
<circle class="k39" cx="407.4" cy="37.2" r="1.9"/>
<circle class="k39" cx="386.9" cy="36.3" r="1.9"/>
<circle class="k29" cx="322.6" cy="39.6" r="1.9"/>
<circle class="k39" cx="402.3" cy="37.2" r="1.9"/>
<circle class="k39" cx="395.0" cy="34.9" r="1.9"/>
<circle class="k12" cx="280.6" cy="34.5" r="1.9"/>
<circle class="k0" cx="218.7" cy="31.8" r="1.9"/>
<circle class="k39" cx="383.1" cy="36.7" r="1.9"/>
<circle class="k14" cx="279.6" cy="35.2" r="1.9"/>
<circle class="k14" cx="276.3" cy="44.3" r="1.9"/>
<circle class="k5" cx="246.9" cy="35.5" r="1.9"/>
<circle class="k8" cx="259.2" cy="39.0" r="1.9"/>
<circle class="k38" cx="458.3" cy="36.0" r="1.9"/>
<circle class="k4" cx="247.4" cy="28.9" r="1.9"/>
<circle class="k0" cx="224.8" cy="36.1" r="1.9"/>
<circle class="k0" cx="185.4" cy="36.9" r="1.9"/>
<circle class="k35" cx="338.8" cy="36.3" r="1.9"/>
<circle class="k3" cx="244.3" cy="42.1" r="1.9"/>
<circle class="k18" cx="294.9" cy="33.6" r="1.9"/>
<circle class="k33" cx="332.4" cy="36.4" r="1.9"/>
<circle class="k0" cx="175.7" cy="35.5" r="1.9"/>
<circle class="k15" cx="276.2" cy="45.5" r="1.9"/>
<circle class="k0" cx="233.9" cy="37.3" r="1.9"/>
<circle class="k38" cx="445.2" cy="36.2" r="1.9"/>
<circle class="k16" cx="289.9" cy="42.5" r="1.9"/>
<circle class="k7" cx="261.0" cy="28.5" r="1.9"/>
<circle class="k29" cx="330.7" cy="37.7" r="1.9"/>
<circle class="k36" cx="340.4" cy="34.2" r="1.9"/>
<circle class="k1" cx="227.1" cy="41.9" r="1.9"/>
<circle class="k38" cx="439.9" cy="36.7" r="1.9"/>
<circle class="k0" cx="191.5" cy="36.9" r="1.9"/>
<circle class="k12" cx="267.4" cy="33.8" r="1.9"/>
<circle class="k0" cx="234.3" cy="38.3" r="1.9"/>
<circle class="k1" cx="226.6" cy="33.8" r="1.9"/>
<circle class="k26" cx="314.6" cy="33.2" r="1.9"/>
<circle class="k0" cx="231.5" cy="40.7" r="1.9"/>
<circle class="k19" cx="295.6" cy="30.7" r="1.9"/>
<circle class="k32" cx="335.7" cy="34.7" r="1.9"/>
<circle class="k0" cx="179.9" cy="35.4" r="1.9"/>
<circle class="k20" cx="302.2" cy="33.8" r="1.9"/>
<circle class="k0" cx="221.8" cy="35.7" r="1.9"/>
<circle class="k0" cx="220.4" cy="38.5" r="1.9"/>
<circle class="k1" cx="196.4" cy="37.3" r="1.9"/>
<circle class="k15" cx="281.1" cy="29.1" r="1.9"/>
<circle class="k17" cx="279.9" cy="30.7" r="1.9"/>
<circle class="k9" cx="271.1" cy="30.8" r="1.9"/>
<circle class="k0" cx="197.9" cy="37.5" r="1.9"/>
<circle class="k24" cx="310.3" cy="40.6" r="1.9"/>
<circle class="k32" cx="340.8" cy="37.2" r="1.9"/>
<circle class="k6" cx="267.9" cy="26.1" r="1.9"/>
<circle class="k13" cx="275.0" cy="34.2" r="1.9"/>
<circle class="k23" cx="309.3" cy="33.7" r="1.9"/>
<circle class="k39" cx="393.0" cy="35.3" r="1.9"/>
<circle class="k0" cx="208.5" cy="37.7" r="1.9"/>
<circle class="k0" cx="238.7" cy="42.1" r="1.9"/>
<circle class="k25" cx="304.8" cy="41.3" r="1.9"/>
<circle class="k0" cx="195.5" cy="34.6" r="1.9"/>
<circle class="k14" cx="281.8" cy="42.9" r="1.9"/>
<circle class="k20" cx="301.5" cy="30.1" r="1.9"/>
<circle class="k19" cx="296.5" cy="31.6" r="1.9"/>
<circle class="k33" cx="335.5" cy="33.8" r="1.9"/>
<circle class="k16" cx="289.5" cy="36.4" r="1.9"/>
<circle class="k39" cx="408.0" cy="34.9" r="1.9"/>
<circle class="k1" cx="230.7" cy="43.0" r="1.9"/>
<circle class="k0" cx="192.4" cy="35.7" r="1.9"/>
<circle class="k10" cx="272.7" cy="39.0" r="1.9"/>
<circle class="k39" cx="377.2" cy="37.1" r="1.9"/>
<circle class="k0" cx="218.0" cy="31.7" r="1.9"/>
<circle class="k28" cx="323.9" cy="32.5" r="1.9"/>
<circle class="k12" cx="276.3" cy="26.9" r="1.9"/>
<circle class="k12" cx="264.2" cy="27.4" r="1.9"/>
<circle class="k0" cx="178.7" cy="36.3" r="1.9"/>
<circle class="k6" cx="253.0" cy="36.7" r="1.9"/>
<circle class="k10" cx="267.1" cy="28.4" r="1.9"/>
<circle class="k34" cx="348.0" cy="36.8" r="1.9"/>
<circle class="k5" cx="250.9" cy="42.1" r="1.9"/>
<circle class="k15" cx="282.7" cy="30.7" r="1.9"/>
<circle class="k39" cx="397.3" cy="37.1" r="1.9"/>
<circle class="k13" cx="277.3" cy="25.9" r="1.9"/>
<circle class="k17" cx="294.1" cy="43.3" r="1.9"/>
<circle class="k16" cx="280.6" cy="26.3" r="1.9"/>
<circle class="k5" cx="253.1" cy="38.7" r="1.9"/>
<circle class="k0" cx="235.6" cy="34.6" r="1.9"/>
<circle class="k33" cx="336.4" cy="37.4" r="1.9"/>
<circle class="k0" cx="204.0" cy="37.2" r="1.9"/>
<circle class="k5" cx="249.9" cy="35.6" r="1.9"/>
<circle class="k18" cx="298.9" cy="39.9" r="1.9"/>
<circle class="k34" cx="334.1" cy="34.6" r="1.9"/>
<circle class="k0" cx="209.1" cy="36.4" r="1.9"/>
<circle class="k39" cx="413.5" cy="35.8" r="1.9"/>
<circle class="k18" cx="291.6" cy="43.6" r="1.9"/>
<circle class="k0" cx="174.6" cy="36.0" r="1.9"/>
<circle class="k24" cx="310.8" cy="32.4" r="1.9"/>
<circle class="k23" cx="308.6" cy="34.2" r="1.9"/>
<circle class="k5" cx="248.3" cy="32.1" r="1.9"/>
<circle class="k26" cx="313.2" cy="38.1" r="1.9"/>
<circle class="k1" cx="233.1" cy="39.6" r="1.9"/>
<circle class="k12" cx="273.9" cy="27.4" r="1.9"/>
<circle class="k0" cx="221.5" cy="42.1" r="1.9"/>
<circle class="k0" cx="219.7" cy="41.4" r="1.9"/>
<circle class="k39" cx="422.3" cy="36.0" r="1.9"/>
<circle class="k39" cx="448.0" cy="36.2" r="1.9"/>
<circle class="k8" cx="259.8" cy="29.5" r="1.9"/>
<circle class="k6" cx="253.1" cy="43.0" r="1.9"/>
<circle class="k2" cx="239.9" cy="33.4" r="1.9"/>
<circle class="k39" cx="454.1" cy="36.3" r="1.9"/>
<circle class="k22" cx="300.8" cy="35.5" r="1.9"/>
<circle class="k27" cx="320.5" cy="37.7" r="1.9"/>
<circle class="k30" cx="324.7" cy="38.3" r="1.9"/>
<circle class="k17" cx="289.1" cy="41.0" r="1.9"/>
<circle class="k19" cx="302.8" cy="39.4" r="1.9"/>
<circle class="k10" cx="263.9" cy="36.6" r="1.9"/>
<circle class="k39" cx="414.7" cy="37.0" r="1.9"/>
<circle class="k8" cx="258.3" cy="38.4" r="1.9"/>
<circle class="k16" cx="285.5" cy="43.4" r="1.9"/>
<circle class="k14" cx="277.5" cy="39.9" r="1.9"/>
<circle class="k3" cx="243.8" cy="32.4" r="1.9"/>
<circle class="k36" cx="360.5" cy="37.1" r="1.9"/>
<circle class="k0" cx="227.9" cy="38.2" r="1.9"/>
<circle class="k37" cx="354.0" cy="37.6" r="1.9"/>
<circle class="k13" cx="271.2" cy="32.0" r="1.9"/>
<circle class="k22" cx="308.4" cy="41.0" r="1.9"/>
<circle class="k38" cx="433.9" cy="35.4" r="1.9"/>
<circle class="k30" cx="321.5" cy="36.6" r="1.9"/>
<circle class="k19" cx="296.4" cy="41.6" r="1.9"/>
<circle class="k3" cx="238.1" cy="36.8" r="1.9"/>
<circle class="k18" cx="286.7" cy="30.9" r="1.9"/>
<circle class="k38" cx="415.8" cy="36.2" r="1.9"/>
<circle class="k23" cx="311.4" cy="40.5" r="1.9"/>
<circle class="k17" cx="294.1" cy="36.6" r="1.9"/>
<circle class="k0" cx="225.0" cy="29.1" r="1.9"/>
<circle class="k3" cx="236.7" cy="28.9" r="1.9"/>
<circle class="k16" cx="285.4" cy="34.5" r="1.9"/>
<circle class="k39" cx="445.5" cy="35.7" r="1.9"/>
<circle class="k0" cx="222.2" cy="39.1" r="1.9"/>
<circle class="k0" cx="230.3" cy="39.6" r="1.9"/>
<circle class="k24" cx="320.6" cy="35.6" r="1.9"/>
<circle class="k39" cx="440.7" cy="35.3" r="1.9"/>
<circle class="k23" cx="305.2" cy="36.8" r="1.9"/>
<circle class="k0" cx="228.6" cy="30.6" r="1.9"/>
<circle class="k1" cx="229.3" cy="37.0" r="1.9"/>
<circle class="k36" cx="342.9" cy="34.9" r="1.9"/>
<circle class="k7" cx="249.6" cy="35.6" r="1.9"/>
<circle class="k23" cx="303.4" cy="37.3" r="1.9"/>
<circle class="k16" cx="286.8" cy="44.3" r="1.9"/>
<circle class="k14" cx="276.5" cy="41.9" r="1.9"/>
<circle class="k3" cx="242.7" cy="37.7" r="1.9"/>
<circle class="k38" cx="438.1" cy="35.2" r="1.9"/>
<circle class="k6" cx="291.5" cy="39.4" r="1.9"/>
<circle class="k1" cx="243.7" cy="42.9" r="1.9"/>
<circle class="k24" cx="313.5" cy="33.0" r="1.9"/>
<circle class="k13" cx="275.5" cy="26.5" r="1.9"/>
<circle class="k21" cx="299.7" cy="40.6" r="1.9"/>
<circle class="k14" cx="276.7" cy="43.3" r="1.9"/>
<circle class="k0" cx="232.5" cy="32.7" r="1.9"/>
<circle class="k39" cx="390.9" cy="36.7" r="1.9"/>
<circle class="k19" cx="301.5" cy="33.5" r="1.9"/>
<circle class="k0" cx="228.7" cy="39.5" r="1.9"/>
<circle class="k8" cx="258.1" cy="39.8" r="1.9"/>
<circle class="k8" cx="259.6" cy="40.9" r="1.9"/>
<circle class="k0" cx="230.8" cy="35.8" r="1.9"/>
<circle class="k9" cx="259.9" cy="38.5" r="1.9"/>
<circle class="k39" cx="421.4" cy="35.1" r="1.9"/>
<circle class="k7" cx="254.7" cy="39.8" r="1.9"/>
<circle class="k19" cx="304.5" cy="39.0" r="1.9"/>
<circle class="k1" cx="229.9" cy="43.1" r="1.9"/>
<circle class="k39" cx="394.7" cy="36.2" r="1.9"/>
<circle class="k10" cx="261.8" cy="43.6" r="1.9"/>
<circle class="k10" cx="261.3" cy="40.4" r="1.9"/>
<circle class="k8" cx="266.8" cy="30.7" r="1.9"/>
<circle class="k19" cx="299.1" cy="38.9" r="1.9"/>
<circle class="k1" cx="218.8" cy="30.7" r="1.9"/>
<circle class="k39" cx="418.0" cy="36.0" r="1.9"/>
<circle class="k13" cx="275.7" cy="45.2" r="1.9"/>
<circle class="k15" cx="283.5" cy="43.5" r="1.9"/>
<circle class="k0" cx="203.5" cy="37.9" r="1.9"/>
<circle class="k0" cx="181.1" cy="35.6" r="1.9"/>
<circle class="k3" cx="246.8" cy="36.7" r="1.9"/>
<circle class="k39" cx="399.6" cy="35.9" r="1.9"/>
<circle class="k22" cx="302.4" cy="39.5" r="1.9"/>
<circle class="k11" cx="265.3" cy="34.3" r="1.9"/>
<circle class="k1" cx="235.7" cy="42.9" r="1.9"/>
<circle class="k1" cx="237.1" cy="30.3" r="1.9"/>
<circle class="k37" cx="350.3" cy="36.4" r="1.9"/>
<circle class="k0" cx="226.7" cy="39.7" r="1.9"/>
<circle class="k0" cx="177.1" cy="35.7" r="1.9"/>
<circle class="k4" cx="250.7" cy="40.6" r="1.9"/>
<circle class="k20" cx="298.0" cy="40.9" r="1.9"/>
<circle class="k12" cx="272.6" cy="25.6" r="1.9"/>
<circle class="k39" cx="399.0" cy="35.1" r="1.9"/>
<circle class="k17" cx="294.2" cy="33.0" r="1.9"/>
<circle class="k17" cx="293.5" cy="34.4" r="1.9"/>
<circle class="k5" cx="249.4" cy="39.0" r="1.9"/>
<circle class="k17" cx="279.9" cy="44.5" r="1.9"/>
<circle class="k19" cx="301.0" cy="34.7" r="1.9"/>
<circle class="k1" cx="240.6" cy="33.1" r="1.9"/>
<circle class="k1" cx="217.4" cy="40.8" r="1.9"/>
<circle class="k38" cx="380.3" cy="35.8" r="1.9"/>
<circle class="k38" cx="343.7" cy="36.9" r="1.9"/>
<circle class="k34" cx="348.5" cy="35.6" r="1.9"/>
<circle class="k39" cx="417.1" cy="35.8" r="1.9"/>
<circle class="k0" cx="225.1" cy="34.0" r="1.9"/>
<circle class="k5" cx="252.3" cy="39.6" r="1.9"/>
<circle class="k38" cx="379.4" cy="36.2" r="1.9"/>
<circle class="k38" cx="362.7" cy="37.4" r="1.9"/>
<circle class="k19" cx="293.4" cy="36.3" r="1.9"/>
<circle class="k11" cx="264.6" cy="32.9" r="1.9"/>
<circle class="k28" cx="312.7" cy="38.3" r="1.9"/>
<circle class="k12" cx="279.6" cy="29.3" r="1.9"/>
<circle class="k33" cx="332.3" cy="34.2" r="1.9"/>
<circle class="k12" cx="268.4" cy="40.4" r="1.9"/>
<circle class="k32" cx="341.1" cy="34.0" r="1.9"/>
<circle class="k3" cx="247.6" cy="39.7" r="1.9"/>
<circle class="k9" cx="261.3" cy="35.8" r="1.9"/>
<circle class="k24" cx="304.4" cy="31.9" r="1.9"/>
<circle class="k22" cx="306.8" cy="41.0" r="1.9"/>
<circle class="k0" cx="223.5" cy="31.5" r="1.9"/>
<circle class="k4" cx="239.9" cy="36.6" r="1.9"/>
<circle class="k0" cx="228.5" cy="36.3" r="1.9"/>
<circle class="k15" cx="280.6" cy="45.7" r="1.9"/>
<circle class="k11" cx="265.4" cy="30.8" r="1.9"/>
<circle class="k35" cx="340.5" cy="38.2" r="1.9"/>
<circle class="k1" cx="222.3" cy="30.1" r="1.9"/>
<circle class="k14" cx="278.8" cy="41.3" r="1.9"/>
<circle class="k39" cx="402.3" cy="34.9" r="1.9"/>
<circle class="k0" cx="227.6" cy="37.3" r="1.9"/>
<circle class="k20" cx="306.9" cy="40.1" r="1.9"/>
<circle class="k32" cx="338.7" cy="34.8" r="1.9"/>
<circle class="k36" cx="355.9" cy="37.7" r="1.9"/>
<circle class="k8" cx="261.2" cy="38.0" r="1.9"/>
<circle class="k0" cx="218.2" cy="35.4" r="1.9"/>
<circle class="k38" cx="429.1" cy="36.2" r="1.9"/>
<circle class="k0" cx="214.8" cy="35.7" r="1.9"/>
<circle class="k16" cx="284.4" cy="37.6" r="1.9"/>
<circle class="k0" cx="194.6" cy="37.1" r="1.9"/>
<circle class="k8" cx="265.0" cy="30.0" r="1.9"/>
<circle class="k13" cx="271.6" cy="44.6" r="1.9"/>
<circle class="k0" cx="201.9" cy="36.7" r="1.9"/>
<circle class="k19" cx="295.1" cy="39.6" r="1.9"/>
<circle class="k14" cx="280.4" cy="36.7" r="1.9"/>
<circle class="k0" cx="197.6" cy="35.5" r="1.9"/>
<circle class="k10" cx="265.6" cy="40.1" r="1.9"/>
<circle class="k38" cx="381.3" cy="36.2" r="1.9"/>
<circle class="k16" cx="287.5" cy="35.4" r="1.9"/>
<circle class="k37" cx="359.5" cy="35.7" r="1.9"/>
<circle class="k39" cx="383.8" cy="34.9" r="1.9"/>
<circle class="k1" cx="221.9" cy="36.5" r="1.9"/>
<circle class="k16" cx="282.6" cy="43.5" r="1.9"/>
<circle class="k39" cx="365.3" cy="35.0" r="1.9"/>
<circle class="k10" cx="267.1" cy="31.4" r="1.9"/>
<circle class="k35" cx="341.2" cy="37.3" r="1.9"/>
<circle class="k1" cx="223.2" cy="32.8" r="1.9"/>
<circle class="k0" cx="203.0" cy="36.2" r="1.9"/>
<circle class="k38" cx="342.9" cy="34.0" r="1.9"/>
<circle class="k10" cx="264.8" cy="44.9" r="1.9"/>
<circle class="k12" cx="277.9" cy="30.5" r="1.9"/>
<circle class="k9" cx="265.2" cy="45.2" r="1.9"/>
<circle class="k37" cx="342.2" cy="37.9" r="1.9"/>
<circle class="k14" cx="293.1" cy="37.4" r="1.9"/>
<circle class="k8" cx="256.3" cy="37.7" r="1.9"/>
<circle class="k17" cx="286.4" cy="28.8" r="1.9"/>
<circle class="k1" cx="175.7" cy="36.0" r="1.9"/>
<circle class="k0" cx="230.0" cy="33.7" r="1.9"/>
<circle class="k28" cx="323.6" cy="38.5" r="1.9"/>
<circle class="k8" cx="257.0" cy="41.0" r="1.9"/>
<circle class="k15" cx="275.0" cy="39.7" r="1.9"/>
<circle class="k35" cx="348.2" cy="36.4" r="1.9"/>
<circle class="k25" cx="308.4" cy="32.5" r="1.9"/>
<circle class="k0" cx="219.6" cy="31.5" r="1.9"/>
<circle class="k38" cx="396.8" cy="36.2" r="1.9"/>
<circle class="k0" cx="201.2" cy="34.1" r="1.9"/>
<circle class="k1" cx="246.9" cy="42.7" r="1.9"/>
<circle class="k4" cx="240.0" cy="30.3" r="1.9"/>
<circle class="k11" cx="273.3" cy="45.5" r="1.9"/>
<circle class="k12" cx="277.2" cy="43.3" r="1.9"/>
<circle class="k14" cx="277.9" cy="25.9" r="1.9"/>
<circle class="k14" cx="279.0" cy="40.6" r="1.9"/>
<circle class="k1" cx="232.7" cy="29.1" r="1.9"/>
<circle class="k39" cx="405.2" cy="36.9" r="1.9"/>
<circle class="k20" cx="288.5" cy="39.9" r="1.9"/>
<circle class="k17" cx="281.4" cy="29.9" r="1.9"/>
<circle class="k18" cx="281.9" cy="29.5" r="1.9"/>
<circle class="k39" cx="388.8" cy="34.8" r="1.9"/>
<circle class="k0" cx="183.0" cy="35.3" r="1.9"/>
<circle class="k13" cx="277.5" cy="40.9" r="1.9"/>
<circle class="k1" cx="231.6" cy="38.5" r="1.9"/>
<circle class="k39" cx="409.9" cy="36.7" r="1.9"/>
<circle class="k39" cx="420.6" cy="35.0" r="1.9"/>
<circle class="k15" cx="285.1" cy="28.9" r="1.9"/>
<circle class="k12" cx="267.9" cy="44.0" r="1.9"/>
<circle class="k10" cx="260.8" cy="29.6" r="1.9"/>
<circle class="k3" cx="246.6" cy="42.0" r="1.9"/>
<circle class="k29" cx="318.1" cy="36.6" r="1.9"/>
<circle class="k0" cx="204.7" cy="34.7" r="1.9"/>
<circle class="k28" cx="325.9" cy="38.2" r="1.9"/>
<circle class="k7" cx="249.2" cy="42.7" r="1.9"/>
<circle class="k15" cx="276.5" cy="35.7" r="1.9"/>
<circle class="k39" cx="425.9" cy="35.1" r="1.9"/>
<circle class="k22" cx="309.1" cy="40.8" r="1.9"/>
<circle class="k1" cx="228.8" cy="33.7" r="1.9"/>
<circle class="k0" cx="210.9" cy="37.9" r="1.9"/>
<circle class="k39" cx="443.6" cy="35.6" r="1.9"/>
<circle class="k12" cx="270.3" cy="46.4" r="1.9"/>
<circle class="k23" cx="309.1" cy="31.1" r="1.9"/>
<circle class="k22" cx="305.9" cy="31.2" r="1.9"/>
<circle class="k26" cx="311.5" cy="33.8" r="1.9"/>
<circle class="k1" cx="246.2" cy="31.4" r="1.9"/>
<circle class="k39" cx="379.9" cy="34.9" r="1.9"/>
<circle class="k12" cx="272.8" cy="43.3" r="1.9"/>
<circle class="k39" cx="405.3" cy="35.0" r="1.9"/>
<circle class="k20" cx="289.2" cy="32.4" r="1.9"/>
<circle class="k39" cx="365.3" cy="36.8" r="1.9"/>
<circle class="k11" cx="272.5" cy="46.4" r="1.9"/>
<circle class="k20" cx="295.8" cy="35.1" r="1.9"/>
<circle class="k32" cx="337.8" cy="36.2" r="1.9"/>
<circle class="k0" cx="194.3" cy="36.2" r="1.9"/>
<circle class="k0" cx="217.3" cy="36.6" r="1.9"/>
<circle class="k13" cx="270.9" cy="26.8" r="1.9"/>
<circle class="k11" cx="268.4" cy="33.9" r="1.9"/>
<circle class="k18" cx="291.9" cy="35.0" r="1.9"/>
<circle class="k0" cx="201.4" cy="35.7" r="1.9"/>
<circle class="k13" cx="279.6" cy="33.6" r="1.9"/>
<circle class="k7" cx="258.0" cy="34.2" r="1.9"/>
<circle class="k9" cx="261.9" cy="38.4" r="1.9"/>
<circle class="k9" cx="258.1" cy="33.3" r="1.9"/>
<circle class="k10" cx="262.0" cy="30.2" r="1.9"/>
<circle class="k9" cx="254.7" cy="36.5" r="1.9"/>
<circle class="k17" cx="296.4" cy="38.3" r="1.9"/>
<circle class="k37" cx="348.4" cy="34.4" r="1.9"/>
<circle class="k0" cx="235.6" cy="33.7" r="1.9"/>
<circle class="k18" cx="280.6" cy="33.5" r="1.9"/>
<circle class="k33" cx="327.4" cy="35.2" r="1.9"/>
<circle class="k0" cx="235.1" cy="37.0" r="1.9"/>
<circle class="k17" cx="293.9" cy="41.7" r="1.9"/>
<circle class="k0" cx="222.7" cy="33.7" r="1.9"/>
<circle class="k20" cx="299.0" cy="35.3" r="1.9"/>
<circle class="k9" cx="257.5" cy="29.9" r="1.9"/>
<circle class="k25" cx="317.5" cy="36.6" r="1.9"/>
<circle class="k16" cx="280.5" cy="38.9" r="1.9"/>
<circle class="k36" cx="346.3" cy="34.2" r="1.9"/>
<circle class="k39" cx="411.1" cy="36.1" r="1.9"/>
<circle class="k36" cx="339.7" cy="34.8" r="1.9"/>
<circle class="k11" cx="274.3" cy="37.7" r="1.9"/>
<circle class="k38" cx="385.9" cy="36.1" r="1.9"/>
<circle class="k20" cx="302.8" cy="34.1" r="1.9"/>
<circle class="k38" cx="363.1" cy="36.2" r="1.9"/>
<circle class="k34" cx="345.5" cy="36.7" r="1.9"/>
<circle class="k22" cx="303.1" cy="34.9" r="1.9"/>
<circle class="k0" cx="223.5" cy="32.7" r="1.9"/>
<circle class="k23" cx="303.7" cy="35.9" r="1.9"/>
<circle class="k11" cx="266.3" cy="39.7" r="1.9"/>
<circle class="k9" cx="260.5" cy="37.2" r="1.9"/>
<circle class="k15" cx="276.5" cy="32.1" r="1.9"/>
<circle class="k15" cx="291.6" cy="30.8" r="1.9"/>
<circle class="k39" cx="374.7" cy="36.8" r="1.9"/>
<circle class="k0" cx="225.9" cy="35.8" r="1.9"/>
<circle class="k1" cx="223.1" cy="38.3" r="1.9"/>
<circle class="k24" cx="311.0" cy="34.8" r="1.9"/>
<circle class="k0" cx="234.7" cy="35.1" r="1.9"/>
<circle class="k0" cx="213.1" cy="36.3" r="1.9"/>
<circle class="k28" cx="320.5" cy="33.4" r="1.9"/>
<circle class="k0" cx="144.1" cy="64.5" r="1.9"/>
<circle class="k0" cx="150.0" cy="64.5" r="1.9"/>
<circle class="k0" cx="152.5" cy="64.5" r="1.9"/>
<circle class="k17" cx="269.7" cy="71.6" r="1.9"/>
<circle class="k0" cx="172.8" cy="64.5" r="1.9"/>
<circle class="k22" cx="278.4" cy="57.0" r="1.9"/>
<circle class="k20" cx="273.8" cy="61.6" r="1.9"/>
<circle class="k38" cx="326.3" cy="62.9" r="1.9"/>
<circle class="k24" cx="281.5" cy="57.7" r="1.9"/>
<circle class="k14" cx="268.2" cy="58.8" r="1.9"/>
<circle class="k39" cx="359.0" cy="64.6" r="1.9"/>
<circle class="k13" cx="261.6" cy="59.2" r="1.9"/>
<circle class="k19" cx="275.6" cy="67.6" r="1.9"/>
<circle class="k28" cx="286.5" cy="59.0" r="1.9"/>
<circle class="k10" cx="263.4" cy="64.9" r="1.9"/>
<circle class="k23" cx="274.3" cy="71.3" r="1.9"/>
<circle class="k30" cx="292.8" cy="60.3" r="1.9"/>
<circle class="k0" cx="196.1" cy="64.5" r="1.9"/>
<circle class="k16" cx="266.8" cy="73.3" r="1.9"/>
<circle class="k31" cx="298.2" cy="66.1" r="1.9"/>
<circle class="k23" cx="278.7" cy="69.2" r="1.9"/>
<circle class="k4" cx="255.4" cy="63.6" r="1.9"/>
<circle class="k14" cx="268.4" cy="54.0" r="1.9"/>
<circle class="k35" cx="305.7" cy="69.0" r="1.9"/>
<circle class="k13" cx="261.8" cy="57.3" r="1.9"/>
<circle class="k9" cx="258.4" cy="69.0" r="1.9"/>
<circle class="k0" cx="248.1" cy="60.5" r="1.9"/>
<circle class="k30" cx="291.1" cy="58.7" r="1.9"/>
<circle class="k32" cx="299.9" cy="68.9" r="1.9"/>
<circle class="k19" cx="271.4" cy="56.3" r="1.9"/>
<circle class="k29" cx="282.4" cy="72.1" r="1.9"/>
<circle class="k37" cx="307.2" cy="68.0" r="1.9"/>
<circle class="k23" cx="283.1" cy="57.7" r="1.9"/>
<circle class="k36" cx="314.7" cy="66.8" r="1.9"/>
<circle class="k35" cx="300.2" cy="65.3" r="1.9"/>
<circle class="k0" cx="165.8" cy="64.5" r="1.9"/>
<circle class="k0" cx="187.6" cy="64.5" r="1.9"/>
<circle class="k14" cx="267.4" cy="57.9" r="1.9"/>
<circle class="k32" cx="291.2" cy="61.8" r="1.9"/>
<circle class="k31" cx="296.1" cy="69.4" r="1.9"/>
<circle class="k21" cx="273.8" cy="54.0" r="1.9"/>
<circle class="k39" cx="381.0" cy="64.5" r="1.9"/>
<circle class="k23" cx="276.4" cy="68.0" r="1.9"/>
<circle class="k0" cx="241.9" cy="63.8" r="1.9"/>
<circle class="k17" cx="273.1" cy="54.4" r="1.9"/>
<circle class="k17" cx="269.9" cy="69.2" r="1.9"/>
<circle class="k16" cx="269.7" cy="65.0" r="1.9"/>
<circle class="k26" cx="284.1" cy="73.2" r="1.9"/>
<circle class="k16" cx="271.3" cy="59.5" r="1.9"/>
<circle class="k4" cx="253.8" cy="59.8" r="1.9"/>
<circle class="k30" cx="287.0" cy="56.7" r="1.9"/>
<circle class="k38" cx="308.6" cy="61.4" r="1.9"/>
<circle class="k32" cx="288.9" cy="69.4" r="1.9"/>
<circle class="k13" cx="260.7" cy="71.4" r="1.9"/>
<circle class="k22" cx="274.2" cy="61.6" r="1.9"/>
<circle class="k0" cx="218.2" cy="63.8" r="1.9"/>
<circle class="k26" cx="281.9" cy="64.9" r="1.9"/>
<circle class="k0" cx="250.4" cy="63.7" r="1.9"/>
<circle class="k28" cx="287.5" cy="70.1" r="1.9"/>
<circle class="k20" cx="272.9" cy="64.7" r="1.9"/>
<circle class="k36" cx="310.4" cy="65.3" r="1.9"/>
<circle class="k38" cx="328.8" cy="65.9" r="1.9"/>
<circle class="k30" cx="290.7" cy="61.6" r="1.9"/>
<circle class="k0" cx="243.9" cy="66.7" r="1.9"/>
<circle class="k39" cx="299.3" cy="63.2" r="1.9"/>
<circle class="k24" cx="277.1" cy="74.7" r="1.9"/>
<circle class="k36" cx="314.3" cy="65.8" r="1.9"/>
<circle class="k39" cx="328.8" cy="62.8" r="1.9"/>
<circle class="k28" cx="287.4" cy="67.0" r="1.9"/>
<circle class="k0" cx="251.6" cy="67.2" r="1.9"/>
<circle class="k27" cx="286.7" cy="72.1" r="1.9"/>
<circle class="k38" cx="349.5" cy="65.1" r="1.9"/>
<circle class="k0" cx="205.7" cy="64.5" r="1.9"/>
<circle class="k14" cx="266.4" cy="62.1" r="1.9"/>
<circle class="k18" cx="272.0" cy="61.6" r="1.9"/>
<circle class="k14" cx="265.6" cy="70.2" r="1.9"/>
<circle class="k16" cx="268.0" cy="60.5" r="1.9"/>
<circle class="k39" cx="379.5" cy="64.5" r="1.9"/>
<circle class="k0" cx="225.5" cy="65.3" r="1.9"/>
<circle class="k36" cx="299.6" cy="67.7" r="1.9"/>
<circle class="k14" cx="265.2" cy="67.7" r="1.9"/>
<circle class="k0" cx="218.0" cy="63.9" r="1.9"/>
<circle class="k22" cx="277.6" cy="54.5" r="1.9"/>
<circle class="k31" cx="291.5" cy="59.5" r="1.9"/>
<circle class="k36" cx="299.4" cy="65.6" r="1.9"/>
<circle class="k9" cx="258.0" cy="70.3" r="1.9"/>
<circle class="k19" cx="271.4" cy="74.6" r="1.9"/>
<circle class="k4" cx="254.4" cy="68.6" r="1.9"/>
<circle class="k19" cx="277.0" cy="55.7" r="1.9"/>
<circle class="k0" cx="159.1" cy="64.5" r="1.9"/>
<circle class="k35" cx="314.3" cy="61.2" r="1.9"/>
<circle class="k19" cx="269.9" cy="54.4" r="1.9"/>
<circle class="k24" cx="277.5" cy="72.5" r="1.9"/>
<circle class="k12" cx="264.3" cy="60.1" r="1.9"/>
<circle class="k18" cx="270.7" cy="55.4" r="1.9"/>
<circle class="k31" cx="289.6" cy="71.4" r="1.9"/>
<circle class="k0" cx="249.9" cy="59.0" r="1.9"/>
<circle class="k39" cx="373.8" cy="64.5" r="1.9"/>
<circle class="k4" cx="252.2" cy="61.3" r="1.9"/>
<circle class="k36" cx="313.5" cy="66.5" r="1.9"/>
<circle class="k32" cx="293.8" cy="71.1" r="1.9"/>
<circle class="k34" cx="308.3" cy="68.9" r="1.9"/>
<circle class="k33" cx="292.9" cy="71.0" r="1.9"/>
<circle class="k32" cx="289.6" cy="61.9" r="1.9"/>
<circle class="k38" cx="314.3" cy="63.6" r="1.9"/>
<circle class="k12" cx="259.4" cy="55.6" r="1.9"/>
<circle class="k39" cx="317.0" cy="61.5" r="1.9"/>
<circle class="k34" cx="302.3" cy="59.0" r="1.9"/>
<circle class="k39" cx="369.1" cy="64.5" r="1.9"/>
<circle class="k1" cx="249.1" cy="66.3" r="1.9"/>
<circle class="k33" cx="293.4" cy="65.3" r="1.9"/>
<circle class="k38" cx="336.8" cy="63.7" r="1.9"/>
<circle class="k16" cx="270.7" cy="71.5" r="1.9"/>
<circle class="k0" cx="237.1" cy="63.3" r="1.9"/>
<circle class="k36" cx="304.8" cy="59.5" r="1.9"/>
<circle class="k39" cx="348.3" cy="64.3" r="1.9"/>
<circle class="k32" cx="291.9" cy="71.3" r="1.9"/>
<circle class="k19" cx="272.7" cy="70.1" r="1.9"/>
<circle class="k0" cx="218.5" cy="64.9" r="1.9"/>
<circle class="k33" cx="304.2" cy="64.8" r="1.9"/>
<circle class="k11" cx="262.3" cy="74.1" r="1.9"/>
<circle class="k0" cx="206.3" cy="64.5" r="1.9"/>
<circle class="k18" cx="269.9" cy="68.4" r="1.9"/>
<circle class="k33" cx="296.6" cy="69.5" r="1.9"/>
<circle class="k39" cx="377.8" cy="64.5" r="1.9"/>
<circle class="k18" cx="270.4" cy="66.0" r="1.9"/>
<circle class="k1" cx="230.8" cy="65.7" r="1.9"/>
<circle class="k39" cx="357.6" cy="64.5" r="1.9"/>
<circle class="k26" cx="279.4" cy="56.0" r="1.9"/>
<circle class="k0" cx="245.0" cy="66.8" r="1.9"/>
<circle class="k36" cx="313.6" cy="62.2" r="1.9"/>
<circle class="k33" cx="296.2" cy="59.4" r="1.9"/>
<circle class="k27" cx="285.0" cy="59.5" r="1.9"/>
<circle class="k2" cx="253.1" cy="62.3" r="1.9"/>
<circle class="k35" cx="304.1" cy="62.0" r="1.9"/>
<circle class="k20" cx="271.5" cy="73.6" r="1.9"/>
<circle class="k11" cx="263.4" cy="55.8" r="1.9"/>
<circle class="k22" cx="280.4" cy="72.9" r="1.9"/>
<circle class="k16" cx="268.8" cy="56.4" r="1.9"/>
<circle class="k17" cx="267.9" cy="57.2" r="1.9"/>
<circle class="k35" cx="303.0" cy="63.9" r="1.9"/>
<circle class="k10" cx="260.0" cy="72.6" r="1.9"/>
<circle class="k5" cx="254.7" cy="60.4" r="1.9"/>
<circle class="k19" cx="271.2" cy="62.6" r="1.9"/>
<circle class="k1" cx="225.0" cy="63.3" r="1.9"/>
<circle class="k38" cx="332.3" cy="65.7" r="1.9"/>
<circle class="k38" cx="328.6" cy="63.8" r="1.9"/>
<circle class="k32" cx="292.8" cy="58.7" r="1.9"/>
<circle class="k8" cx="259.1" cy="68.6" r="1.9"/>
<circle class="k12" cx="263.2" cy="67.2" r="1.9"/>
<circle class="k23" cx="280.3" cy="60.3" r="1.9"/>
<circle class="k0" cx="223.2" cy="63.8" r="1.9"/>
<circle class="k34" cx="308.7" cy="63.5" r="1.9"/>
<circle class="k35" cx="302.7" cy="66.7" r="1.9"/>
<circle class="k0" cx="211.6" cy="64.3" r="1.9"/>
<circle class="k0" cx="249.9" cy="63.1" r="1.9"/>
<circle class="k10" cx="259.4" cy="58.9" r="1.9"/>
<circle class="k15" cx="263.9" cy="72.2" r="1.9"/>
<circle class="k37" cx="319.3" cy="65.1" r="1.9"/>
<circle class="k23" cx="277.6" cy="69.8" r="1.9"/>
<circle class="k10" cx="260.7" cy="56.1" r="1.9"/>
<circle class="k25" cx="280.9" cy="73.8" r="1.9"/>
<circle class="k29" cx="286.2" cy="68.2" r="1.9"/>
<circle class="k36" cx="308.8" cy="67.4" r="1.9"/>
<circle class="k19" cx="273.4" cy="60.9" r="1.9"/>
<circle class="k33" cx="291.3" cy="69.1" r="1.9"/>
<circle class="k16" cx="267.6" cy="63.4" r="1.9"/>
<circle class="k37" cx="310.2" cy="67.5" r="1.9"/>
<circle class="k26" cx="283.9" cy="65.8" r="1.9"/>
<circle class="k34" cx="302.5" cy="62.2" r="1.9"/>
<circle class="k1" cx="251.2" cy="66.0" r="1.9"/>
<circle class="k13" cx="265.5" cy="65.5" r="1.9"/>
<circle class="k16" cx="265.6" cy="59.9" r="1.9"/>
<circle class="k0" cx="229.0" cy="63.6" r="1.9"/>
<circle class="k35" cx="305.9" cy="61.6" r="1.9"/>
<circle class="k27" cx="283.8" cy="63.1" r="1.9"/>
<circle class="k39" cx="369.9" cy="64.5" r="1.9"/>
<circle class="k18" cx="269.1" cy="60.6" r="1.9"/>
<circle class="k27" cx="281.7" cy="67.3" r="1.9"/>
<circle class="k0" cx="226.3" cy="63.4" r="1.9"/>
<circle class="k1" cx="213.9" cy="63.8" r="1.9"/>
<circle class="k0" cx="249.4" cy="66.4" r="1.9"/>
<circle class="k35" cx="297.2" cy="58.5" r="1.9"/>
<circle class="k37" cx="308.2" cy="66.8" r="1.9"/>
<circle class="k39" cx="337.8" cy="63.5" r="1.9"/>
<circle class="k12" cx="262.4" cy="68.4" r="1.9"/>
<circle class="k37" cx="327.3" cy="65.9" r="1.9"/>
<circle class="k19" cx="271.1" cy="57.3" r="1.9"/>
<circle class="k0" cx="246.4" cy="60.5" r="1.9"/>
<circle class="k6" cx="256.9" cy="60.4" r="1.9"/>
<circle class="k38" cx="383.1" cy="64.5" r="1.9"/>
<circle class="k32" cx="298.7" cy="67.4" r="1.9"/>
<circle class="k0" cx="239.1" cy="63.1" r="1.9"/>
<circle class="k22" cx="277.5" cy="61.0" r="1.9"/>
<circle class="k0" cx="241.1" cy="62.7" r="1.9"/>
<circle class="k0" cx="178.5" cy="64.5" r="1.9"/>
<circle class="k34" cx="299.0" cy="59.7" r="1.9"/>
<circle class="k13" cx="268.0" cy="63.9" r="1.9"/>
<circle class="k39" cx="357.0" cy="63.9" r="1.9"/>
<circle class="k28" cx="285.0" cy="69.7" r="1.9"/>
<circle class="k36" cx="306.0" cy="62.7" r="1.9"/>
<circle class="k7" cx="258.8" cy="69.9" r="1.9"/>
<circle class="k10" cx="261.2" cy="67.3" r="1.9"/>
<circle class="k37" cx="311.1" cy="64.0" r="1.9"/>
<circle class="k8" cx="259.5" cy="60.2" r="1.9"/>
<circle class="k38" cx="316.2" cy="66.4" r="1.9"/>
<circle class="k5" cx="256.8" cy="71.6" r="1.9"/>
<circle class="k16" cx="268.8" cy="63.1" r="1.9"/>
<circle class="k0" cx="234.0" cy="63.9" r="1.9"/>
<circle class="k15" cx="269.7" cy="64.1" r="1.9"/>
<circle class="k27" cx="291.4" cy="70.3" r="1.9"/>
<circle class="k37" cx="308.4" cy="62.3" r="1.9"/>
<circle class="k12" cx="265.5" cy="72.1" r="1.9"/>
<circle class="k1" cx="251.9" cy="63.1" r="1.9"/>
<circle class="k33" cx="291.5" cy="57.6" r="1.9"/>
<circle class="k33" cx="294.6" cy="59.1" r="1.9"/>
<circle class="k32" cx="295.0" cy="63.5" r="1.9"/>
<circle class="k29" cx="287.1" cy="63.4" r="1.9"/>
<circle class="k0" cx="238.3" cy="63.3" r="1.9"/>
<circle class="k24" cx="280.7" cy="66.0" r="1.9"/>
<circle class="k4" cx="253.7" cy="68.4" r="1.9"/>
<circle class="k17" cx="270.5" cy="68.2" r="1.9"/>
<circle class="k28" cx="285.9" cy="67.3" r="1.9"/>
<circle class="k2" cx="252.6" cy="71.1" r="1.9"/>
<circle class="k38" cx="332.8" cy="65.4" r="1.9"/>
<circle class="k26" cx="284.0" cy="55.8" r="1.9"/>
<circle class="k20" cx="273.8" cy="68.0" r="1.9"/>
<circle class="k0" cx="248.3" cy="59.6" r="1.9"/>
<circle class="k36" cx="301.1" cy="69.8" r="1.9"/>
<circle class="k24" cx="275.9" cy="57.9" r="1.9"/>
<circle class="k0" cx="247.1" cy="66.7" r="1.9"/>
<circle class="k28" cx="286.7" cy="63.1" r="1.9"/>
<circle class="k37" cx="309.7" cy="67.4" r="1.9"/>
<circle class="k39" cx="355.5" cy="64.5" r="1.9"/>
<circle class="k7" cx="256.7" cy="65.0" r="1.9"/>
<circle class="k0" cx="241.8" cy="67.4" r="1.9"/>
<circle class="k25" cx="282.5" cy="71.5" r="1.9"/>
<circle class="k27" cx="287.4" cy="60.3" r="1.9"/>
<circle class="k13" cx="260.8" cy="73.7" r="1.9"/>
<circle class="k0" cx="236.8" cy="64.4" r="1.9"/>
<circle class="k18" cx="270.5" cy="57.6" r="1.9"/>
<circle class="k38" cx="327.9" cy="64.0" r="1.9"/>
<circle class="k39" cx="343.6" cy="64.0" r="1.9"/>
<circle class="k35" cx="314.7" cy="67.7" r="1.9"/>
<circle class="k33" cx="306.7" cy="60.8" r="1.9"/>
<circle class="k12" cx="265.0" cy="56.7" r="1.9"/>
<circle class="k39" cx="376.9" cy="64.5" r="1.9"/>
<circle class="k0" cx="241.6" cy="62.8" r="1.9"/>
<circle class="k39" cx="322.6" cy="65.7" r="1.9"/>
<circle class="k4" cx="254.5" cy="56.7" r="1.9"/>
<circle class="k18" cx="267.1" cy="66.5" r="1.9"/>
<circle class="k29" cx="290.3" cy="60.6" r="1.9"/>
<circle class="k24" cx="280.1" cy="54.8" r="1.9"/>
<circle class="k25" cx="281.5" cy="55.4" r="1.9"/>
<circle class="k24" cx="280.3" cy="69.5" r="1.9"/>
<circle class="k1" cx="251.0" cy="69.7" r="1.9"/>
<circle class="k17" cx="268.2" cy="65.1" r="1.9"/>
<circle class="k29" cx="285.6" cy="58.7" r="1.9"/>
<circle class="k0" cx="215.5" cy="64.9" r="1.9"/>
<circle class="k0" cx="223.0" cy="65.5" r="1.9"/>
<circle class="k0" cx="243.8" cy="61.1" r="1.9"/>
<circle class="k17" cx="270.7" cy="54.2" r="1.9"/>
<circle class="k25" cx="281.9" cy="70.4" r="1.9"/>
<circle class="k35" cx="322.8" cy="66.7" r="1.9"/>
<circle class="k19" cx="274.4" cy="64.8" r="1.9"/>
<circle class="k35" cx="325.7" cy="62.8" r="1.9"/>
<circle class="k23" cx="277.1" cy="66.7" r="1.9"/>
<circle class="k0" cx="219.3" cy="64.9" r="1.9"/>
<circle class="k39" cx="345.8" cy="64.8" r="1.9"/>
<circle class="k20" cx="276.0" cy="73.6" r="1.9"/>
<circle class="k0" cx="183.8" cy="64.5" r="1.9"/>
<circle class="k37" cx="309.6" cy="60.6" r="1.9"/>
<circle class="k39" cx="320.9" cy="62.2" r="1.9"/>
<circle class="k0" cx="244.3" cy="64.4" r="1.9"/>
<circle class="k2" cx="256.2" cy="68.1" r="1.9"/>
<circle class="k29" cx="290.3" cy="58.3" r="1.9"/>
<circle class="k20" cx="271.1" cy="68.2" r="1.9"/>
<circle class="k32" cx="287.1" cy="71.3" r="1.9"/>
<circle class="k33" cx="296.2" cy="58.5" r="1.9"/>
<circle class="k29" cx="284.4" cy="62.5" r="1.9"/>
<circle class="k31" cx="296.2" cy="66.2" r="1.9"/>
<circle class="k14" cx="264.7" cy="74.3" r="1.9"/>
<circle class="k32" cx="297.2" cy="61.7" r="1.9"/>
<circle class="k35" cx="296.7" cy="70.7" r="1.9"/>
<circle class="k0" cx="224.8" cy="65.3" r="1.9"/>
<circle class="k36" cx="310.4" cy="63.8" r="1.9"/>
<circle class="k0" cx="245.9" cy="68.2" r="1.9"/>
<circle class="k26" cx="280.0" cy="59.2" r="1.9"/>
<circle class="k0" cx="165.0" cy="64.5" r="1.9"/>
<circle class="k36" cx="305.1" cy="68.3" r="1.9"/>
<circle class="k0" cx="210.5" cy="64.2" r="1.9"/>
<circle class="k22" cx="275.1" cy="73.4" r="1.9"/>
<circle class="k27" cx="282.4" cy="55.5" r="1.9"/>
<circle class="k15" cx="270.6" cy="69.6" r="1.9"/>
<circle class="k39" cx="347.3" cy="64.8" r="1.9"/>
<circle class="k39" cx="345.9" cy="64.0" r="1.9"/>
<circle class="k21" cx="276.1" cy="70.3" r="1.9"/>
<circle class="k0" cx="248.2" cy="61.8" r="1.9"/>
<circle class="k13" cx="262.5" cy="60.6" r="1.9"/>
<circle class="k3" cx="252.9" cy="64.2" r="1.9"/>
<circle class="k0" cx="221.7" cy="63.8" r="1.9"/>
<circle class="k3" cx="252.8" cy="66.7" r="1.9"/>
<circle class="k0" cx="236.1" cy="62.5" r="1.9"/>
<circle class="k1" cx="244.7" cy="63.7" r="1.9"/>
<circle class="k10" cx="259.0" cy="69.9" r="1.9"/>
<circle class="k25" cx="281.1" cy="60.7" r="1.9"/>
<circle class="k38" cx="321.4" cy="63.3" r="1.9"/>
<circle class="k31" cx="292.8" cy="70.3" r="1.9"/>
<circle class="k19" cx="272.3" cy="62.7" r="1.9"/>
<circle class="k37" cx="304.2" cy="60.6" r="1.9"/>
<circle class="k24" cx="281.6" cy="73.6" r="1.9"/>
<circle class="k24" cx="280.7" cy="72.8" r="1.9"/>
<circle class="k33" cx="295.9" cy="68.3" r="1.9"/>
<circle class="k12" cx="262.3" cy="72.9" r="1.9"/>
<circle class="k35" cx="304.2" cy="67.2" r="1.9"/>
<circle class="k35" cx="297.9" cy="63.8" r="1.9"/>
<circle class="k24" cx="278.3" cy="68.0" r="1.9"/>
<circle class="k35" cx="313.1" cy="64.4" r="1.9"/>
<circle class="k19" cx="274.5" cy="68.5" r="1.9"/>
<circle class="k38" cx="326.3" cy="63.8" r="1.9"/>
<circle class="k13" cx="264.9" cy="58.7" r="1.9"/>
<circle class="k7" cx="258.6" cy="55.8" r="1.9"/>
<circle class="k18" cx="272.1" cy="72.4" r="1.9"/>
<circle class="k39" cx="344.2" cy="65.0" r="1.9"/>
<circle class="k16" cx="270.4" cy="73.8" r="1.9"/>
<circle class="k0" cx="192.3" cy="64.5" r="1.9"/>
<circle class="k39" cx="376.3" cy="64.5" r="1.9"/>
<circle class="k32" cx="297.6" cy="68.5" r="1.9"/>
<circle class="k37" cx="316.2" cy="67.5" r="1.9"/>
<circle class="k13" cx="265.1" cy="64.5" r="1.9"/>
<circle class="k0" cx="247.5" cy="64.6" r="1.9"/>
<circle class="k32" cx="304.8" cy="65.2" r="1.9"/>
<circle class="k1" cx="269.5" cy="72.7" r="1.9"/>
<circle class="k6" cx="255.8" cy="69.2" r="1.9"/>
<circle class="k23" cx="277.4" cy="58.7" r="1.9"/>
<circle class="k7" cx="255.4" cy="62.5" r="1.9"/>
<circle class="k27" cx="285.1" cy="67.2" r="1.9"/>
<circle class="k34" cx="299.3" cy="70.5" r="1.9"/>
<circle class="k13" cx="264.0" cy="58.9" r="1.9"/>
<circle class="k35" cx="304.4" cy="59.7" r="1.9"/>
<circle class="k2" cx="251.0" cy="70.8" r="1.9"/>
<circle class="k28" cx="285.7" cy="64.0" r="1.9"/>
<circle class="k33" cx="299.6" cy="67.0" r="1.9"/>
<circle class="k30" cx="289.9" cy="58.2" r="1.9"/>
<circle class="k0" cx="243.2" cy="66.9" r="1.9"/>
<circle class="k0" cx="249.8" cy="65.4" r="1.9"/>
<circle class="k36" cx="306.3" cy="59.8" r="1.9"/>
<circle class="k36" cx="315.4" cy="63.5" r="1.9"/>
<circle class="k31" cx="293.2" cy="66.7" r="1.9"/>
<circle class="k21" cx="276.0" cy="64.2" r="1.9"/>
<circle class="k21" cx="275.9" cy="68.8" r="1.9"/>
<circle class="k0" cx="215.2" cy="64.1" r="1.9"/>
<circle class="k21" cx="281.8" cy="62.8" r="1.9"/>
<circle class="k28" cx="285.1" cy="58.6" r="1.9"/>
<circle class="k22" cx="278.2" cy="60.3" r="1.9"/>
<circle class="k27" cx="279.4" cy="63.6" r="1.9"/>
<circle class="k32" cx="292.3" cy="66.6" r="1.9"/>
<circle class="k39" cx="384.1" cy="64.5" r="1.9"/>
<circle class="k21" cx="273.7" cy="56.3" r="1.9"/>
<circle class="k26" cx="282.2" cy="67.6" r="1.9"/>
<circle class="k8" cx="259.5" cy="58.0" r="1.9"/>
<circle class="k37" cx="320.2" cy="65.8" r="1.9"/>
<circle class="k39" cx="331.2" cy="65.8" r="1.9"/>
<circle class="k0" cx="203.1" cy="64.5" r="1.9"/>
<circle class="k14" cx="265.6" cy="66.9" r="1.9"/>
<circle class="k0" cx="163.4" cy="64.5" r="1.9"/>
<circle class="k1" cx="176.9" cy="64.5" r="1.9"/>
<circle class="k39" cx="336.2" cy="63.8" r="1.9"/>
<circle class="k0" cx="237.1" cy="62.6" r="1.9"/>
<circle class="k6" cx="254.5" cy="71.1" r="1.9"/>
<circle class="k7" cx="255.9" cy="58.9" r="1.9"/>
<circle class="k0" cx="249.5" cy="67.8" r="1.9"/>
<circle class="k24" cx="283.1" cy="55.8" r="1.9"/>
<circle class="k7" cx="256.9" cy="70.7" r="1.9"/>
<circle class="k3" cx="251.8" cy="68.9" r="1.9"/>
<circle class="k36" cx="301.8" cy="68.6" r="1.9"/>
<circle class="k38" cx="332.9" cy="64.5" r="1.9"/>
<circle class="k37" cx="315.5" cy="66.7" r="1.9"/>
<circle class="k23" cx="277.9" cy="59.8" r="1.9"/>
<circle class="k31" cx="288.0" cy="58.9" r="1.9"/>
<circle class="k28" cx="285.1" cy="61.8" r="1.9"/>
<circle class="k32" cx="295.4" cy="66.6" r="1.9"/>
<circle class="k0" cx="249.0" cy="69.3" r="1.9"/>
<circle class="k38" cx="314.6" cy="62.0" r="1.9"/>
<circle class="k17" cx="271.9" cy="68.4" r="1.9"/>
<circle class="k1" cx="250.7" cy="70.2" r="1.9"/>
<circle class="k26" cx="283.2" cy="66.6" r="1.9"/>
<circle class="k37" cx="300.1" cy="64.8" r="1.9"/>
<circle class="k30" cx="295.3" cy="57.8" r="1.9"/>
<circle class="k0" cx="240.1" cy="61.9" r="1.9"/>
<circle class="k19" cx="272.3" cy="65.9" r="1.9"/>
<circle class="k0" cx="250.5" cy="61.6" r="1.9"/>
<circle class="k37" cx="303.5" cy="64.9" r="1.9"/>
<circle class="k6" cx="256.8" cy="69.2" r="1.9"/>
<circle class="k1" cx="245.4" cy="61.5" r="1.9"/>
<circle class="k26" cx="283.1" cy="57.1" r="1.9"/>
<circle class="k9" cx="257.7" cy="67.1" r="1.9"/>
<circle class="k37" cx="312.0" cy="60.9" r="1.9"/>
<circle class="k31" cx="284.7" cy="60.5" r="1.9"/>
<circle class="k11" cx="261.7" cy="61.9" r="1.9"/>
<circle class="k20" cx="274.7" cy="62.7" r="1.9"/>
<circle class="k0" cx="216.1" cy="63.9" r="1.9"/>
<circle class="k19" cx="271.3" cy="66.0" r="1.9"/>
<circle class="k25" cx="283.4" cy="72.3" r="1.9"/>
<circle class="k29" cx="290.4" cy="65.0" r="1.9"/>
<circle class="k25" cx="280.9" cy="71.8" r="1.9"/>
<circle class="k28" cx="282.0" cy="71.3" r="1.9"/>
<circle class="k16" cx="266.0" cy="69.0" r="1.9"/>
<circle class="k6" cx="256.8" cy="66.2" r="1.9"/>
<circle class="k31" cx="294.5" cy="70.1" r="1.9"/>
<circle class="k32" cx="296.0" cy="64.1" r="1.9"/>
<circle class="k29" cx="286.6" cy="66.9" r="1.9"/>
<circle class="k38" cx="328.0" cy="64.8" r="1.9"/>
<circle class="k16" cx="269.2" cy="58.6" r="1.9"/>
<circle class="k0" cx="249.4" cy="70.0" r="1.9"/>
<circle class="k36" cx="307.1" cy="63.2" r="1.9"/>
<circle class="k38" cx="333.5" cy="65.5" r="1.9"/>
<circle class="k11" cx="262.6" cy="70.6" r="1.9"/>
<circle class="k18" cx="272.2" cy="60.6" r="1.9"/>
<circle class="k10" cx="259.8" cy="66.8" r="1.9"/>
<circle class="k29" cx="291.4" cy="67.2" r="1.9"/>
<circle class="k38" cx="319.0" cy="66.1" r="1.9"/>
<circle class="k13" cx="265.0" cy="61.3" r="1.9"/>
<circle class="k33" cx="300.8" cy="59.0" r="1.9"/>
<circle class="k21" cx="275.3" cy="56.7" r="1.9"/>
<circle class="k13" cx="264.0" cy="73.9" r="1.9"/>
<circle class="k28" cx="285.4" cy="63.0" r="1.9"/>
<circle class="k24" cx="277.9" cy="63.1" r="1.9"/>
<circle class="k35" cx="315.0" cy="64.3" r="1.9"/>
<circle class="k23" cx="278.6" cy="72.1" r="1.9"/>
<circle class="k0" cx="226.0" cy="64.8" r="1.9"/>
<circle class="k21" cx="275.1" cy="59.0" r="1.9"/>
<circle class="k29" cx="288.1" cy="70.8" r="1.9"/>
<circle class="k24" cx="279.4" cy="57.8" r="1.9"/>
<circle class="k16" cx="268.0" cy="59.9" r="1.9"/>
<circle class="k26" cx="285.6" cy="71.8" r="1.9"/>
<circle class="k0" cx="191.1" cy="64.5" r="1.9"/>
<circle class="k0" cx="240.8" cy="65.0" r="1.9"/>
<circle class="k36" cx="317.6" cy="62.6" r="1.9"/>
<circle class="k30" cx="289.0" cy="70.8" r="1.9"/>
<circle class="k33" cx="300.1" cy="59.9" r="1.9"/>
<circle class="k35" cx="298.3" cy="60.5" r="1.9"/>
<circle class="k1" cx="253.0" cy="69.9" r="1.9"/>
<circle class="k30" cx="287.3" cy="67.9" r="1.9"/>
<circle class="k19" cx="271.5" cy="70.3" r="1.9"/>
<circle class="k39" cx="372.2" cy="64.5" r="1.9"/>
<circle class="k16" cx="267.3" cy="60.9" r="1.9"/>
<circle class="k0" cx="233.6" cy="64.7" r="1.9"/>
<circle class="k7" cx="257.1" cy="63.7" r="1.9"/>
<circle class="k0" cx="232.4" cy="63.1" r="1.9"/>
<circle class="k34" cx="302.5" cy="64.4" r="1.9"/>
<circle class="k13" cx="264.7" cy="73.5" r="1.9"/>
<circle class="k32" cx="295.3" cy="70.7" r="1.9"/>
<circle class="k28" cx="288.8" cy="72.1" r="1.9"/>
<circle class="k25" cx="279.9" cy="67.1" r="1.9"/>
<circle class="k38" cx="329.9" cy="63.1" r="1.9"/>
<circle class="k0" cx="249.1" cy="61.6" r="1.9"/>
<circle class="k3" cx="251.3" cy="58.5" r="1.9"/>
<circle class="k0" cx="240.1" cy="65.1" r="1.9"/>
<circle class="k30" cx="295.9" cy="70.5" r="1.9"/>
<circle class="k22" cx="280.7" cy="61.4" r="1.9"/>
<circle class="k11" cx="265.4" cy="55.7" r="1.9"/>
<circle class="k31" cx="289.8" cy="62.6" r="1.9"/>
<circle class="k18" cx="271.4" cy="69.2" r="1.9"/>
<circle class="k16" cx="269.6" cy="55.3" r="1.9"/>
<circle class="k36" cx="316.4" cy="65.4" r="1.9"/>
<circle class="k11" cx="261.7" cy="68.5" r="1.9"/>
<circle class="k39" cx="323.4" cy="62.3" r="1.9"/>
<circle class="k22" cx="277.5" cy="69.2" r="1.9"/>
<circle class="k0" cx="226.7" cy="65.2" r="1.9"/>
<circle class="k25" cx="285.7" cy="66.0" r="1.9"/>
<circle class="k35" cx="313.7" cy="65.8" r="1.9"/>
<circle class="k38" cx="330.3" cy="65.6" r="1.9"/>
<circle class="k17" cx="270.0" cy="57.7" r="1.9"/>
<circle class="k35" cx="300.6" cy="62.5" r="1.9"/>
<circle class="k35" cx="305.5" cy="65.2" r="1.9"/>
<circle class="k33" cx="296.3" cy="65.0" r="1.9"/>
<circle class="k0" cx="236.1" cy="63.6" r="1.9"/>
<circle class="k34" cx="284.7" cy="62.6" r="1.9"/>
<circle class="k39" cx="328.9" cy="65.1" r="1.9"/>
<circle class="k28" cx="285.7" cy="57.4" r="1.9"/>
<circle class="k12" cx="261.6" cy="70.4" r="1.9"/>
<circle class="k2" cx="253.1" cy="68.0" r="1.9"/>
<circle class="k34" cx="299.3" cy="69.0" r="1.9"/>
<circle class="k13" cx="264.0" cy="66.9" r="1.9"/>
<circle class="k15" cx="266.8" cy="58.9" r="1.9"/>
<circle class="k29" cx="288.2" cy="61.2" r="1.9"/>
<circle class="k18" cx="277.0" cy="57.9" r="1.9"/>
<circle class="k36" cx="298.8" cy="59.4" r="1.9"/>
<circle class="k25" cx="281.8" cy="68.5" r="1.9"/>
<circle class="k8" cx="259.4" cy="65.8" r="1.9"/>
<circle class="k28" cx="290.6" cy="59.5" r="1.9"/>
<circle class="k7" cx="257.6" cy="57.1" r="1.9"/>
<circle class="k16" cx="268.6" cy="55.2" r="1.9"/>
<circle class="k33" cx="294.0" cy="70.0" r="1.9"/>
<circle class="k38" cx="320.1" cy="64.2" r="1.9"/>
<circle class="k26" cx="283.6" cy="58.8" r="1.9"/>
<circle class="k34" cx="309.0" cy="60.0" r="1.9"/>
<circle class="k27" cx="284.4" cy="71.0" r="1.9"/>
<circle class="k1" cx="213.2" cy="64.2" r="1.9"/>
<circle class="k32" cx="295.1" cy="59.1" r="1.9"/>
<circle class="k38" cx="328.3" cy="65.8" r="1.9"/>
<circle class="k3" cx="253.5" cy="57.4" r="1.9"/>
<circle class="k7" cx="259.2" cy="64.5" r="1.9"/>
<circle class="k4" cx="253.4" cy="71.6" r="1.9"/>
<circle class="k34" cx="293.7" cy="61.0" r="1.9"/>
<circle class="k34" cx="298.5" cy="70.6" r="1.9"/>
<circle class="k0" cx="181.1" cy="64.5" r="1.9"/>
<circle class="k31" cx="291.0" cy="68.2" r="1.9"/>
<circle class="k27" cx="285.9" cy="60.4" r="1.9"/>
<circle class="k1" cx="235.5" cy="65.1" r="1.9"/>
<circle class="k32" cx="295.3" cy="61.0" r="1.9"/>
<circle class="k37" cx="322.2" cy="62.3" r="1.9"/>
<circle class="k12" cx="264.3" cy="56.0" r="1.9"/>
<circle class="k0" cx="246.3" cy="68.6" r="1.9"/>
<circle class="k37" cx="298.0" cy="61.7" r="1.9"/>
<circle class="k23" cx="276.7" cy="61.2" r="1.9"/>
<circle class="k34" cx="307.4" cy="62.0" r="1.9"/>
<circle class="k13" cx="265.9" cy="64.7" r="1.9"/>
<circle class="k29" cx="289.6" cy="64.2" r="1.9"/>
<circle class="k27" cx="281.5" cy="60.8" r="1.9"/>
<circle class="k18" cx="272.6" cy="62.9" r="1.9"/>
<circle class="k32" cx="295.2" cy="69.8" r="1.9"/>
<circle class="k39" cx="278.3" cy="66.4" r="1.9"/>
<circle class="k31" cx="292.1" cy="61.0" r="1.9"/>
<circle class="k4" cx="255.5" cy="66.6" r="1.9"/>
<circle class="k30" cx="294.5" cy="58.3" r="1.9"/>
<circle class="k19" cx="271.3" cy="64.2" r="1.9"/>
<circle class="k28" cx="287.8" cy="68.8" r="1.9"/>
<circle class="k30" cx="294.3" cy="63.6" r="1.9"/>
<circle class="k7" cx="256.4" cy="62.4" r="1.9"/>
<circle class="k24" cx="285.6" cy="65.1" r="1.9"/>
<circle class="k11" cx="263.3" cy="72.9" r="1.9"/>
<circle class="k0" cx="210.7" cy="64.8" r="1.9"/>
<circle class="k10" cx="259.4" cy="72.4" r="1.9"/>
<circle class="k0" cx="244.0" cy="65.4" r="1.9"/>
<circle class="k38" cx="357.5" cy="64.5" r="1.9"/>
<circle class="k23" cx="277.7" cy="58.0" r="1.9"/>
<circle class="k39" cx="353.5" cy="64.1" r="1.9"/>
<circle class="k0" cx="244.1" cy="68.2" r="1.9"/>
<circle class="k37" cx="308.9" cy="64.7" r="1.9"/>
<circle class="k23" cx="277.5" cy="62.3" r="1.9"/>
<circle class="k25" cx="280.0" cy="58.3" r="1.9"/>
<circle class="k0" cx="219.6" cy="63.9" r="1.9"/>
<circle class="k9" cx="260.3" cy="69.9" r="1.9"/>
<circle class="k37" cx="325.9" cy="63.8" r="1.9"/>
<circle class="k23" cx="278.7" cy="61.0" r="1.9"/>
<circle class="k0" cx="167.8" cy="64.5" r="1.9"/>
<circle class="k11" cx="261.1" cy="55.1" r="1.9"/>
<circle class="k39" cx="348.1" cy="64.8" r="1.9"/>
<circle class="k19" cx="272.1" cy="70.7" r="1.9"/>
<circle class="k27" cx="285.0" cy="65.1" r="1.9"/>
<circle class="k11" cx="261.7" cy="72.8" r="1.9"/>
<circle class="k12" cx="262.5" cy="62.6" r="1.9"/>
<circle class="k0" cx="162.0" cy="64.5" r="1.9"/>
<circle class="k7" cx="260.3" cy="58.9" r="1.9"/>
<circle class="k5" cx="255.4" cy="58.9" r="1.9"/>
<circle class="k26" cx="283.9" cy="57.2" r="1.9"/>
<circle class="k38" cx="321.6" cy="65.4" r="1.9"/>
<circle class="k36" cx="321.0" cy="66.5" r="1.9"/>
<circle class="k20" cx="274.6" cy="65.9" r="1.9"/>
<circle class="k19" cx="272.6" cy="72.4" r="1.9"/>
<circle class="k0" cx="244.8" cy="61.9" r="1.9"/>
<circle class="k0" cx="242.2" cy="62.3" r="1.9"/>
<circle class="k16" cx="270.4" cy="70.3" r="1.9"/>
<circle class="k11" cx="263.1" cy="61.5" r="1.9"/>
<circle class="k26" cx="284.1" cy="64.7" r="1.9"/>
<circle class="k37" cx="322.5" cy="63.5" r="1.9"/>
<circle class="k0" cx="242.4" cy="65.7" r="1.9"/>
<circle class="k22" cx="274.2" cy="74.9" r="1.9"/>
<circle class="k1" cx="244.0" cy="62.2" r="1.9"/>
<circle class="k21" cx="273.2" cy="65.9" r="1.9"/>
<circle class="k3" cx="253.8" cy="61.5" r="1.9"/>
<circle class="k0" cx="246.7" cy="64.9" r="1.9"/>
<circle class="k0" cx="214.6" cy="65.1" r="1.9"/>
<circle class="k7" cx="255.0" cy="56.9" r="1.9"/>
<circle class="k34" cx="297.2" cy="66.2" r="1.9"/>
<circle class="k11" cx="265.8" cy="63.1" r="1.9"/>
<circle class="k23" cx="278.4" cy="57.8" r="1.9"/>
<circle class="k35" cx="301.9" cy="60.0" r="1.9"/>
<circle class="k1" cx="250.2" cy="59.5" r="1.9"/>
<circle class="k30" cx="286.3" cy="70.1" r="1.9"/>
<circle class="k36" cx="302.0" cy="63.2" r="1.9"/>
<circle class="k34" cx="297.5" cy="65.2" r="1.9"/>
<circle class="k17" cx="268.0" cy="66.2" r="1.9"/>
<circle class="k16" cx="269.0" cy="70.2" r="1.9"/>
<circle class="k31" cx="289.2" cy="62.5" r="1.9"/>
<circle class="k24" cx="277.9" cy="55.6" r="1.9"/>
<circle class="k0" cx="248.9" cy="68.5" r="1.9"/>
<circle class="k39" cx="361.4" cy="64.5" r="1.9"/>
<circle class="k35" cx="303.2" cy="59.5" r="1.9"/>
<circle class="k0" cx="232.8" cy="63.9" r="1.9"/>
<circle class="k39" cx="339.1" cy="63.7" r="1.9"/>
<circle class="k26" cx="282.0" cy="59.6" r="1.9"/>
<circle class="k21" cx="278.4" cy="73.3" r="1.9"/>
<circle class="k0" cx="241.7" cy="61.6" r="1.9"/>
<circle class="k11" cx="263.9" cy="65.4" r="1.9"/>
<circle class="k7" cx="258.6" cy="67.5" r="1.9"/>
<circle class="k35" cx="306.6" cy="66.6" r="1.9"/>
<circle class="k37" cx="317.1" cy="66.4" r="1.9"/>
<circle class="k28" cx="284.9" cy="56.2" r="1.9"/>
<circle class="k39" cx="351.5" cy="64.0" r="1.9"/>
<circle class="k36" cx="299.5" cy="62.0" r="1.9"/>
<circle class="k10" cx="260.9" cy="69.4" r="1.9"/>
<circle class="k26" cx="283.1" cy="59.9" r="1.9"/>
<circle class="k1" cx="237.0" cy="65.2" r="1.9"/>
<circle class="k37" cx="312.7" cy="62.0" r="1.9"/>
<circle class="k0" cx="188.2" cy="64.5" r="1.9"/>
<circle class="k9" cx="257.9" cy="63.9" r="1.9"/>
<circle class="k39" cx="320.1" cy="67.1" r="1.9"/>
<circle class="k35" cx="315.0" cy="61.4" r="1.9"/>
<circle class="k0" cx="243.6" cy="65.6" r="1.9"/>
<circle class="k0" cx="169.0" cy="64.5" r="1.9"/>
<circle class="k37" cx="318.0" cy="61.5" r="1.9"/>
<circle class="k16" cx="265.0" cy="56.0" r="1.9"/>
<circle class="k39" cx="341.7" cy="64.9" r="1.9"/>
<circle class="k36" cx="303.8" cy="69.6" r="1.9"/>
<circle class="k11" cx="262.6" cy="66.3" r="1.9"/>
<circle class="k24" cx="277.1" cy="62.2" r="1.9"/>
<circle class="k22" cx="276.8" cy="63.1" r="1.9"/>
<circle class="k19" cx="268.1" cy="74.4" r="1.9"/>
<circle class="k39" cx="354.3" cy="64.5" r="1.9"/>
<circle class="k32" cx="295.9" cy="67.0" r="1.9"/>
<circle class="k20" cx="273.5" cy="73.9" r="1.9"/>
<circle class="k11" cx="263.2" cy="68.5" r="1.9"/>
<circle class="k25" cx="280.6" cy="68.6" r="1.9"/>
<circle class="k27" cx="286.4" cy="59.8" r="1.9"/>
<circle class="k37" cx="324.8" cy="62.7" r="1.9"/>
<circle class="k14" cx="268.2" cy="69.4" r="1.9"/>
<circle class="k4" cx="253.8" cy="67.0" r="1.9"/>
<circle class="k1" cx="250.3" cy="68.3" r="1.9"/>
<circle class="k39" cx="323.2" cy="63.4" r="1.9"/>
<circle class="k39" cx="351.9" cy="64.5" r="1.9"/>
<circle class="k12" cx="264.3" cy="68.7" r="1.9"/>
<circle class="k35" cx="303.4" cy="68.3" r="1.9"/>
<circle class="k0" cx="181.6" cy="64.5" r="1.9"/>
<circle class="k39" cx="355.8" cy="64.6" r="1.9"/>
<circle class="k39" cx="329.5" cy="66.1" r="1.9"/>
<circle class="k33" cx="297.6" cy="59.3" r="1.9"/>
<circle class="k33" cx="293.2" cy="67.6" r="1.9"/>
<circle class="k0" cx="233.7" cy="66.0" r="1.9"/>
<circle class="k17" cx="268.8" cy="73.7" r="1.9"/>
<circle class="k27" cx="282.7" cy="70.1" r="1.9"/>
<circle class="k17" cx="269.8" cy="67.0" r="1.9"/>
<circle class="k1" cx="222.6" cy="63.6" r="1.9"/>
<circle class="k1" cx="224.8" cy="64.7" r="1.9"/>
<circle class="k12" cx="262.4" cy="57.2" r="1.9"/>
<circle class="k39" cx="362.3" cy="64.5" r="1.9"/>
<circle class="k0" cx="252.2" cy="62.5" r="1.9"/>
<circle class="k39" cx="330.4" cy="63.1" r="1.9"/>
<circle class="k36" cx="309.9" cy="61.6" r="1.9"/>
<circle class="k39" cx="316.9" cy="65.0" r="1.9"/>
<circle class="k0" cx="179.2" cy="64.5" r="1.9"/>
<circle class="k0" cx="221.8" cy="65.0" r="1.9"/>
<circle class="k27" cx="288.2" cy="63.3" r="1.9"/>
<circle class="k34" cx="293.2" cy="57.6" r="1.9"/>
<circle class="k22" cx="274.7" cy="54.0" r="1.9"/>
<circle class="k38" cx="302.3" cy="69.7" r="1.9"/>
<circle class="k25" cx="281.8" cy="56.5" r="1.9"/>
<circle class="k32" cx="294.6" cy="68.8" r="1.9"/>
<circle class="k14" cx="261.6" cy="71.4" r="1.9"/>
<circle class="k35" cx="306.6" cy="64.2" r="1.9"/>
<circle class="k39" cx="311.2" cy="60.5" r="1.9"/>
<circle class="k39" cx="333.5" cy="63.7" r="1.9"/>
<circle class="k13" cx="265.6" cy="56.7" r="1.9"/>
<circle class="k24" cx="278.3" cy="69.9" r="1.9"/>
<circle class="k0" cx="233.9" cy="63.1" r="1.9"/>
<circle class="k0" cx="195.3" cy="64.5" r="1.9"/>
<circle class="k14" cx="265.6" cy="59.2" r="1.9"/>
<circle class="k17" cx="272.1" cy="63.7" r="1.9"/>
<circle class="k25" cx="289.5" cy="57.4" r="1.9"/>
<circle class="k11" cx="263.2" cy="69.8" r="1.9"/>
<circle class="k0" cx="238.5" cy="64.4" r="1.9"/>
<circle class="k30" cx="290.8" cy="69.5" r="1.9"/>
<circle class="k29" cx="283.1" cy="70.0" r="1.9"/>
<circle class="k29" cx="284.8" cy="66.1" r="1.9"/>
<circle class="k34" cx="298.6" cy="63.7" r="1.9"/>
<circle class="k17" cx="269.6" cy="60.8" r="1.9"/>
<circle class="k0" cx="248.8" cy="63.9" r="1.9"/>
<circle class="k13" cx="264.1" cy="56.7" r="1.9"/>
<circle class="k27" cx="282.5" cy="56.9" r="1.9"/>
<circle class="k27" cx="280.6" cy="62.7" r="1.9"/>
<circle class="k36" cx="308.8" cy="68.6" r="1.9"/>
<circle class="k36" cx="325.0" cy="65.1" r="1.9"/>
<circle class="k19" cx="271.0" cy="71.3" r="1.9"/>
<circle class="k13" cx="263.5" cy="70.9" r="1.9"/>
<circle class="k5" cx="252.7" cy="58.9" r="1.9"/>
<circle class="k11" cx="261.9" cy="63.9" r="1.9"/>
<circle class="k31" cx="296.8" cy="65.2" r="1.9"/>
<circle class="k37" cx="309.6" cy="68.8" r="1.9"/>
<circle class="k35" cx="302.0" cy="65.7" r="1.9"/>
<circle class="k13" cx="262.0" cy="66.0" r="1.9"/>
<circle class="k39" cx="323.9" cy="66.4" r="1.9"/>
<circle class="k36" cx="308.3" cy="65.6" r="1.9"/>
<circle class="k24" cx="279.3" cy="56.6" r="1.9"/>
<circle class="k13" cx="263.8" cy="69.9" r="1.9"/>
<circle class="k0" cx="182.6" cy="64.5" r="1.9"/>
<circle class="k37" cx="314.4" cy="64.2" r="1.9"/>
<circle class="k16" cx="264.1" cy="72.9" r="1.9"/>
<circle class="k19" cx="272.9" cy="58.8" r="1.9"/>
<circle class="k0" cx="229.4" cy="64.5" r="1.9"/>
<circle class="k32" cx="289.6" cy="65.3" r="1.9"/>
<circle class="k5" cx="259.5" cy="63.1" r="1.9"/>
<circle class="k35" cx="307.1" cy="61.3" r="1.9"/>
<circle class="k0" cx="189.9" cy="64.5" r="1.9"/>
<circle class="k38" cx="320.6" cy="63.2" r="1.9"/>
<circle class="k12" cx="263.6" cy="54.9" r="1.9"/>
<circle class="k10" cx="263.5" cy="58.4" r="1.9"/>
<circle class="k18" cx="268.8" cy="59.4" r="1.9"/>
<circle class="k15" cx="268.1" cy="63.1" r="1.9"/>
<circle class="k31" cx="290.5" cy="71.2" r="1.9"/>
<circle class="k33" cx="291.1" cy="71.5" r="1.9"/>
<circle class="k38" cx="325.1" cy="66.1" r="1.9"/>
<circle class="k36" cx="300.6" cy="67.9" r="1.9"/>
<circle class="k27" cx="286.0" cy="61.8" r="1.9"/>
<circle class="k33" cx="306.6" cy="65.9" r="1.9"/>
<circle class="k29" cx="289.0" cy="57.9" r="1.9"/>
<circle class="k37" cx="301.1" cy="68.9" r="1.9"/>
<circle class="k15" cx="267.2" cy="59.8" r="1.9"/>
<circle class="k39" cx="344.7" cy="64.6" r="1.9"/>
<circle class="k29" cx="288.8" cy="63.9" r="1.9"/>
<circle class="k12" cx="264.2" cy="57.9" r="1.9"/>
<circle class="k0" cx="228.2" cy="63.7" r="1.9"/>
<circle class="k5" cx="254.4" cy="72.0" r="1.9"/>
<circle class="k35" cx="298.3" cy="62.0" r="1.9"/>
<circle class="k17" cx="272.8" cy="68.3" r="1.9"/>
<circle class="k39" cx="372.6" cy="64.5" r="1.9"/>
<circle class="k8" cx="256.9" cy="61.6" r="1.9"/>
<circle class="k30" cx="287.3" cy="65.4" r="1.9"/>
<circle class="k29" cx="291.3" cy="60.7" r="1.9"/>
<circle class="k31" cx="294.6" cy="67.6" r="1.9"/>
<circle class="k38" cx="332.9" cy="63.5" r="1.9"/>
<circle class="k8" cx="259.3" cy="56.7" r="1.9"/>
<circle class="k25" cx="279.5" cy="67.6" r="1.9"/>
<circle class="k1" cx="227.0" cy="63.2" r="1.9"/>
<circle class="k39" cx="371.1" cy="64.5" r="1.9"/>
<circle class="k4" cx="253.2" cy="63.6" r="1.9"/>
<circle class="k35" cx="299.5" cy="64.5" r="1.9"/>
<circle class="k20" cx="272.6" cy="57.4" r="1.9"/>
<circle class="k24" cx="277.8" cy="67.0" r="1.9"/>
<circle class="k37" cx="317.0" cy="62.8" r="1.9"/>
<circle class="k9" cx="258.6" cy="61.0" r="1.9"/>
<circle class="k31" cx="290.6" cy="70.3" r="1.9"/>
<circle class="k1" cx="167.1" cy="64.5" r="1.9"/>
<circle class="k28" cx="284.3" cy="58.2" r="1.9"/>
<circle class="k23" cx="276.2" cy="54.1" r="1.9"/>
<circle class="k39" cx="375.5" cy="64.5" r="1.9"/>
<circle class="k0" cx="236.3" cy="65.4" r="1.9"/>
<circle class="k7" cx="257.6" cy="71.6" r="1.9"/>
<circle class="k25" cx="279.9" cy="70.9" r="1.9"/>
<circle class="k28" cx="287.2" cy="58.1" r="1.9"/>
<circle class="k0" cx="248.1" cy="69.4" r="1.9"/>
<circle class="k25" cx="279.5" cy="68.6" r="1.9"/>
<circle class="k9" cx="260.2" cy="65.6" r="1.9"/>
<circle class="k5" cx="255.0" cy="71.1" r="1.9"/>
<circle class="k5" cx="253.7" cy="60.8" r="1.9"/>
<circle class="k17" cx="269.8" cy="58.8" r="1.9"/>
<circle class="k39" cx="350.0" cy="64.2" r="1.9"/>
<circle class="k0" cx="250.5" cy="67.3" r="1.9"/>
<circle class="k28" cx="287.5" cy="61.0" r="1.9"/>
<circle class="k0" cx="199.4" cy="64.5" r="1.9"/>
<circle class="k22" cx="275.4" cy="69.9" r="1.9"/>
<circle class="k0" cx="202.2" cy="64.5" r="1.9"/>
<circle class="k33" cx="301.0" cy="60.2" r="1.9"/>
<circle class="k39" cx="357.2" cy="64.6" r="1.9"/>
<circle class="k22" cx="277.1" cy="68.1" r="1.9"/>
<circle class="k0" cx="252.4" cy="60.1" r="1.9"/>
<circle class="k36" cx="301.5" cy="61.5" r="1.9"/>
<circle class="k24" cx="278.7" cy="59.1" r="1.9"/>
<circle class="k3" cx="254.3" cy="65.8" r="1.9"/>
<circle class="k29" cx="285.6" cy="56.1" r="1.9"/>
<circle class="k8" cx="258.4" cy="63.4" r="1.9"/>
<circle class="k26" cx="285.1" cy="63.8" r="1.9"/>
<circle class="k27" cx="282.7" cy="61.1" r="1.9"/>
<circle class="k39" cx="353.7" cy="64.6" r="1.9"/>
<circle class="k0" cx="249.1" cy="67.2" r="1.9"/>
<circle class="k35" cx="311.3" cy="68.0" r="1.9"/>
<circle class="k15" cx="266.7" cy="55.6" r="1.9"/>
<circle class="k31" cx="291.3" cy="66.1" r="1.9"/>
<circle class="k24" cx="280.7" cy="59.5" r="1.9"/>
<circle class="k12" cx="261.2" cy="61.9" r="1.9"/>
<circle class="k36" cx="305.8" cy="64.2" r="1.9"/>
<circle class="k38" cx="302.5" cy="65.3" r="1.9"/>
<circle class="k15" cx="270.8" cy="56.1" r="1.9"/>
<circle class="k6" cx="254.0" cy="65.9" r="1.9"/>
<circle class="k18" cx="267.9" cy="61.9" r="1.9"/>
<circle class="k35" cx="307.6" cy="65.6" r="1.9"/>
<circle class="k14" cx="265.1" cy="66.9" r="1.9"/>
<circle class="k4" cx="255.1" cy="69.7" r="1.9"/>
<circle class="k23" cx="276.0" cy="71.0" r="1.9"/>
<circle class="k7" cx="257.7" cy="68.2" r="1.9"/>
<circle class="k29" cx="284.7" cy="70.5" r="1.9"/>
<circle class="k10" cx="259.3" cy="60.9" r="1.9"/>
<circle class="k7" cx="255.8" cy="71.2" r="1.9"/>
<circle class="k33" cx="295.4" cy="68.8" r="1.9"/>
<circle class="k34" cx="300.2" cy="70.4" r="1.9"/>
<circle class="k39" cx="374.3" cy="64.5" r="1.9"/>
<circle class="k0" cx="234.2" cy="63.0" r="1.9"/>
<circle class="k32" cx="293.0" cy="64.3" r="1.9"/>
<circle class="k9" cx="260.6" cy="64.0" r="1.9"/>
<circle class="k21" cx="272.7" cy="71.2" r="1.9"/>
<circle class="k18" cx="267.2" cy="62.1" r="1.9"/>
<circle class="k0" cx="235.1" cy="64.0" r="1.9"/>
<circle class="k17" cx="269.7" cy="73.7" r="1.9"/>
<circle class="k38" cx="318.3" cy="64.8" r="1.9"/>
<circle class="k16" cx="264.9" cy="54.5" r="1.9"/>
<circle class="k29" cx="288.1" cy="65.8" r="1.9"/>
<circle class="k17" cx="266.4" cy="60.9" r="1.9"/>
<circle class="k12" cx="264.4" cy="67.5" r="1.9"/>
<circle class="k35" cx="302.7" cy="60.4" r="1.9"/>
<circle class="k6" cx="256.2" cy="65.5" r="1.9"/>
<circle class="k9" cx="258.6" cy="59.9" r="1.9"/>
<circle class="k19" cx="273.8" cy="69.5" r="1.9"/>
<circle class="k34" cx="300.7" cy="65.7" r="1.9"/>
<circle class="k0" cx="185.9" cy="64.5" r="1.9"/>
<circle class="k0" cx="245.2" cy="68.2" r="1.9"/>
<circle class="k18" cx="273.4" cy="63.7" r="1.9"/>
<circle class="k0" cx="247.1" cy="62.1" r="1.9"/>
<circle class="k34" cx="302.8" cy="61.1" r="1.9"/>
<circle class="k0" cx="249.5" cy="60.3" r="1.9"/>
<circle class="k0" cx="245.9" cy="64.1" r="1.9"/>
<circle class="k38" cx="339.3" cy="65.3" r="1.9"/>
<circle class="k31" cx="287.4" cy="59.0" r="1.9"/>
<circle class="k38" cx="335.4" cy="63.9" r="1.9"/>
<circle class="k39" cx="352.3" cy="64.2" r="1.9"/>
<circle class="k0" cx="193.6" cy="64.5" r="1.9"/>
<circle class="k10" cx="260.7" cy="72.8" r="1.9"/>
<circle class="k2" cx="252.4" cy="65.7" r="1.9"/>
<circle class="k35" cx="302.6" cy="68.9" r="1.9"/>
<circle class="k33" cx="302.0" cy="67.9" r="1.9"/>
<circle class="k24" cx="277.1" cy="71.4" r="1.9"/>
<circle class="k39" cx="323.3" cy="66.8" r="1.9"/>
<circle class="k3" cx="254.5" cy="58.9" r="1.9"/>
<circle class="k0" cx="235.4" cy="62.6" r="1.9"/>
<circle class="k7" cx="256.2" cy="56.3" r="1.9"/>
<circle class="k2" cx="253.8" cy="62.7" r="1.9"/>
<circle class="k0" cx="245.8" cy="65.1" r="1.9"/>
<circle class="k37" cx="313.6" cy="64.6" r="1.9"/>
<circle class="k21" cx="276.2" cy="59.0" r="1.9"/>
<circle class="k38" cx="354.3" cy="64.2" r="1.9"/>
<circle class="k0" cx="171.3" cy="64.5" r="1.9"/>
<circle class="k4" cx="254.2" cy="64.3" r="1.9"/>
<circle class="k10" cx="259.9" cy="69.3" r="1.9"/>
<circle class="k28" cx="281.9" cy="66.2" r="1.9"/>
<circle class="k27" cx="284.0" cy="69.7" r="1.9"/>
<circle class="k12" cx="263.9" cy="62.3" r="1.9"/>
<circle class="k1" cx="252.4" cy="59.1" r="1.9"/>
<circle class="k1" cx="201.9" cy="64.5" r="1.9"/>
<circle class="k32" cx="296.4" cy="62.9" r="1.9"/>
<circle class="k35" cx="295.3" cy="62.3" r="1.9"/>
<circle class="k0" cx="227.3" cy="65.4" r="1.9"/>
<circle class="k36" cx="307.3" cy="69.0" r="1.9"/>
<circle class="k17" cx="268.1" cy="73.4" r="1.9"/>
<circle class="k0" cx="240.3" cy="66.3" r="1.9"/>
<circle class="k0" cx="246.5" cy="67.6" r="1.9"/>
<circle class="k35" cx="308.9" cy="62.4" r="1.9"/>
<circle class="k24" cx="279.1" cy="60.2" r="1.9"/>
<circle class="k4" cx="252.0" cy="58.2" r="1.9"/>
<circle class="k7" cx="257.8" cy="69.5" r="1.9"/>
<circle class="k33" cx="297.1" cy="63.7" r="1.9"/>
<circle class="k39" cx="355.1" cy="64.5" r="1.9"/>
<circle class="k25" cx="279.0" cy="72.9" r="1.9"/>
<circle class="k0" cx="243.5" cy="64.2" r="1.9"/>
<circle class="k28" cx="285.8" cy="59.5" r="1.9"/>
<circle class="k39" cx="344.2" cy="64.0" r="1.9"/>
<circle class="k39" cx="312.4" cy="63.1" r="1.9"/>
<circle class="k25" cx="279.1" cy="69.6" r="1.9"/>
<circle class="k6" cx="256.9" cy="62.8" r="1.9"/>
<circle class="k36" cx="324.7" cy="63.7" r="1.9"/>
<circle class="k34" cx="309.0" cy="65.3" r="1.9"/>
<circle class="k12" cx="263.0" cy="71.6" r="1.9"/>
<circle class="k29" cx="288.0" cy="66.6" r="1.9"/>
<circle class="k16" cx="269.9" cy="63.1" r="1.9"/>
<circle class="k32" cx="296.8" cy="67.1" r="1.9"/>
<circle class="k19" cx="272.1" cy="55.1" r="1.9"/>
<circle class="k11" cx="261.8" cy="69.5" r="1.9"/>
<circle class="k4" cx="253.5" cy="70.4" r="1.9"/>
<circle class="k0" cx="230.7" cy="63.2" r="1.9"/>
<circle class="k39" cx="353.0" cy="63.9" r="1.9"/>
<circle class="k38" cx="327.2" cy="62.5" r="1.9"/>
<circle class="k34" cx="296.8" cy="68.2" r="1.9"/>
<circle class="k16" cx="266.4" cy="71.3" r="1.9"/>
<circle class="k16" cx="271.3" cy="58.7" r="1.9"/>
<circle class="k0" cx="249.7" cy="61.3" r="1.9"/>
<circle class="k31" cx="292.7" cy="61.0" r="1.9"/>
<circle class="k26" cx="284.2" cy="60.4" r="1.9"/>
<circle class="k23" cx="278.6" cy="64.6" r="1.9"/>
<circle class="k14" cx="266.4" cy="64.2" r="1.9"/>
<circle class="k12" cx="262.8" cy="62.0" r="1.9"/>
<circle class="k18" cx="271.5" cy="72.3" r="1.9"/>
<circle class="k27" cx="282.5" cy="68.7" r="1.9"/>
<circle class="k25" cx="279.1" cy="70.7" r="1.9"/>
<circle class="k11" cx="262.2" cy="55.2" r="1.9"/>
<circle class="k32" cx="288.7" cy="65.0" r="1.9"/>
<circle class="k24" cx="280.0" cy="63.9" r="1.9"/>
<circle class="k4" cx="254.7" cy="69.9" r="1.9"/>
<circle class="k0" cx="251.0" cy="60.4" r="1.9"/>
<circle class="k39" cx="367.0" cy="64.5" r="1.9"/>
<circle class="k34" cx="298.0" cy="70.5" r="1.9"/>
<circle class="k2" cx="197.4" cy="64.5" r="1.9"/>
<circle class="k12" cx="261.5" cy="55.9" r="1.9"/>
<circle class="k23" cx="276.3" cy="65.6" r="1.9"/>
<circle class="k0" cx="196.8" cy="64.5" r="1.9"/>
<circle class="k19" cx="272.1" cy="65.3" r="1.9"/>
<circle class="k0" cx="204.9" cy="64.5" r="1.9"/>
<circle class="k36" cx="303.4" cy="60.5" r="1.9"/>
<circle class="k2" cx="252.9" cy="69.3" r="1.9"/>
<circle class="k0" cx="244.9" cy="65.1" r="1.9"/>
<circle class="k27" cx="283.3" cy="65.8" r="1.9"/>
<circle class="k37" cx="312.1" cy="64.0" r="1.9"/>
<circle class="k29" cx="287.1" cy="72.0" r="1.9"/>
<circle class="k0" cx="247.8" cy="66.3" r="1.9"/>
<circle class="k1" cx="231.2" cy="63.1" r="1.9"/>
<circle class="k12" cx="263.9" cy="54.9" r="1.9"/>
<circle class="k24" cx="280.8" cy="57.1" r="1.9"/>
<circle class="k23" cx="279.5" cy="62.4" r="1.9"/>
<circle class="k0" cx="249.7" cy="68.8" r="1.9"/>
<circle class="k21" cx="273.8" cy="70.1" r="1.9"/>
<circle class="k4" cx="255.5" cy="64.4" r="1.9"/>
<circle class="k23" cx="280.4" cy="62.9" r="1.9"/>
<circle class="k34" cx="310.7" cy="65.9" r="1.9"/>
<circle class="k14" cx="266.8" cy="69.1" r="1.9"/>
<circle class="k29" cx="284.1" cy="61.5" r="1.9"/>
<circle class="k36" cx="320.1" cy="62.0" r="1.9"/>
<circle class="k23" cx="281.5" cy="64.1" r="1.9"/>
<circle class="k26" cx="282.4" cy="65.8" r="1.9"/>
<circle class="k22" cx="273.5" cy="55.4" r="1.9"/>
<circle class="k32" cx="293.6" cy="60.2" r="1.9"/>
<circle class="k18" cx="269.6" cy="74.5" r="1.9"/>
<circle class="k0" cx="242.4" cy="66.7" r="1.9"/>
<circle class="k16" cx="264.3" cy="61.0" r="1.9"/>
<circle class="k34" cx="304.8" cy="65.9" r="1.9"/>
<circle class="k25" cx="281.2" cy="64.9" r="1.9"/>
<circle class="k36" cx="296.0" cy="61.7" r="1.9"/>
<circle class="k16" cx="269.5" cy="66.0" r="1.9"/>
<circle class="k0" cx="212.3" cy="64.0" r="1.9"/>
<circle class="k32" cx="298.4" cy="62.7" r="1.9"/>
<circle class="k36" cx="301.7" cy="64.7" r="1.9"/>
<circle class="k36" cx="304.9" cy="61.9" r="1.9"/>
<circle class="k28" cx="286.3" cy="64.2" r="1.9"/>
<circle class="k0" cx="239.6" cy="62.2" r="1.9"/>
<circle class="k38" cx="358.4" cy="64.8" r="1.9"/>
<circle class="k24" cx="278.0" cy="73.3" r="1.9"/>
<circle class="k6" cx="255.8" cy="72.1" r="1.9"/>
<circle class="k0" cx="213.7" cy="64.9" r="1.9"/>
<circle class="k33" cx="309.7" cy="62.9" r="1.9"/>
<circle class="k21" cx="274.6" cy="67.1" r="1.9"/>
<circle class="k12" cx="261.9" cy="60.5" r="1.9"/>
<circle class="k38" cx="318.7" cy="67.0" r="1.9"/>
<circle class="k27" cx="283.1" cy="62.1" r="1.9"/>
<circle class="k1" cx="246.8" cy="61.4" r="1.9"/>
<circle class="k0" cx="225.7" cy="63.4" r="1.9"/>
<circle class="k31" cx="290.5" cy="57.4" r="1.9"/>
<circle class="k15" cx="267.6" cy="56.7" r="1.9"/>
<circle class="k31" cx="291.3" cy="64.9" r="1.9"/>
<circle class="k12" cx="261.9" cy="55.3" r="1.9"/>
<circle class="k6" cx="256.8" cy="57.4" r="1.9"/>
<circle class="k28" cx="287.9" cy="62.2" r="1.9"/>
<circle class="k31" cx="292.2" cy="70.2" r="1.9"/>
<circle class="k1" cx="220.2" cy="65.0" r="1.9"/>
<circle class="k32" cx="293.6" cy="67.9" r="1.9"/>
<circle class="k22" cx="272.6" cy="69.2" r="1.9"/>
<circle class="k39" cx="370.7" cy="64.5" r="1.9"/>
<circle class="k1" cx="251.1" cy="61.9" r="1.9"/>
<circle class="k10" cx="261.4" cy="73.7" r="1.9"/>
<circle class="k11" cx="261.1" cy="70.3" r="1.9"/>
<circle class="k35" cx="306.8" cy="62.2" r="1.9"/>
<circle class="k31" cx="292.2" cy="69.0" r="1.9"/>
<circle class="k14" cx="265.7" cy="74.2" r="1.9"/>
<circle class="k1" cx="250.4" cy="58.4" r="1.9"/>
<circle class="k1" cx="251.6" cy="68.2" r="1.9"/>
<circle class="k33" cx="305.7" cy="59.8" r="1.9"/>
<circle class="k32" cx="291.3" cy="63.8" r="1.9"/>
<circle class="k0" cx="244.3" cy="63.1" r="1.9"/>
<circle class="k22" cx="277.4" cy="71.1" r="1.9"/>
<circle class="k4" cx="254.7" cy="58.1" r="1.9"/>
<circle class="k28" cx="283.3" cy="71.2" r="1.9"/>
<circle class="k0" cx="247.2" cy="63.6" r="1.9"/>
<circle class="k35" cx="304.8" cy="69.6" r="1.9"/>
<circle class="k29" cx="286.5" cy="61.3" r="1.9"/>
<circle class="k0" cx="244.7" cy="60.7" r="1.9"/>
<circle class="k7" cx="257.7" cy="61.4" r="1.9"/>
<circle class="k1" cx="250.7" cy="69.5" r="1.9"/>
<circle class="k38" cx="311.6" cy="61.9" r="1.9"/>
<circle class="k12" cx="266.8" cy="69.9" r="1.9"/>
<circle class="k38" cx="342.3" cy="65.3" r="1.9"/>
<circle class="k36" cx="304.7" cy="62.7" r="1.9"/>
<circle class="k31" cx="292.2" cy="65.5" r="1.9"/>
<circle class="k38" cx="327.5" cy="63.8" r="1.9"/>
<circle class="k39" cx="360.3" cy="64.5" r="1.9"/>
<circle class="k35" cx="312.2" cy="67.4" r="1.9"/>
<circle class="k0" cx="248.0" cy="65.1" r="1.9"/>
<circle class="k6" cx="266.5" cy="65.3" r="1.9"/>
<circle class="k17" cx="267.6" cy="74.3" r="1.9"/>
<circle class="k23" cx="282.8" cy="58.0" r="1.9"/>
<circle class="k39" cx="344.8" cy="64.1" r="1.9"/>
<circle class="k26" cx="283.9" cy="66.5" r="1.9"/>
<circle class="k8" cx="258.8" cy="65.4" r="1.9"/>
<circle class="k0" cx="236.2" cy="64.4" r="1.9"/>
<circle class="k35" cx="301.8" cy="69.6" r="1.9"/>
<circle class="k11" cx="260.1" cy="73.6" r="1.9"/>
<circle class="k37" cx="307.9" cy="64.5" r="1.9"/>
<circle class="k38" cx="324.1" cy="64.6" r="1.9"/>
<circle class="k35" cx="313.8" cy="67.7" r="1.9"/>
<circle class="k18" cx="269.0" cy="69.6" r="1.9"/>
<circle class="k34" cx="299.9" cy="60.9" r="1.9"/>
<circle class="k0" cx="241.7" cy="64.9" r="1.9"/>
<circle class="k15" cx="265.1" cy="63.6" r="1.9"/>
<circle class="k39" cx="348.8" cy="64.9" r="1.9"/>
<circle class="k29" cx="290.6" cy="62.7" r="1.9"/>
<circle class="k13" cx="270.7" cy="62.9" r="1.9"/>
<circle class="k17" cx="272.2" cy="57.5" r="1.9"/>
<circle class="k24" cx="280.3" cy="61.7" r="1.9"/>
<circle class="k38" cx="331.5" cy="63.5" r="1.9"/>
<circle class="k0" cx="231.5" cy="64.8" r="1.9"/>
<circle class="k0" cx="233.1" cy="66.1" r="1.9"/>
<circle class="k29" cx="288.1" cy="64.3" r="1.9"/>
<circle class="k35" cx="304.4" cy="68.6" r="1.9"/>
<circle class="k39" cx="342.7" cy="64.2" r="1.9"/>
<circle class="k16" cx="268.0" cy="70.4" r="1.9"/>
<circle class="k34" cx="299.5" cy="61.2" r="1.9"/>
<circle class="k13" cx="263.1" cy="74.2" r="1.9"/>
<circle class="k39" cx="359.6" cy="64.2" r="1.9"/>
<circle class="k14" cx="265.6" cy="71.2" r="1.9"/>
<circle class="k8" cx="260.3" cy="57.4" r="1.9"/>
<circle class="k0" cx="228.7" cy="65.8" r="1.9"/>
<circle class="k32" cx="293.4" cy="64.8" r="1.9"/>
<circle class="k36" cx="303.2" cy="67.2" r="1.9"/>
<circle class="k12" cx="260.6" cy="60.8" r="1.9"/>
<circle class="k5" cx="255.5" cy="68.7" r="1.9"/>
<circle class="k5" cx="255.2" cy="72.3" r="1.9"/>
<circle class="k18" cx="269.6" cy="56.6" r="1.9"/>
<circle class="k0" cx="242.5" cy="63.2" r="1.9"/>
<circle class="k0" cx="160.6" cy="64.5" r="1.9"/>
<circle class="k0" cx="245.7" cy="66.2" r="1.9"/>
<circle class="k9" cx="258.5" cy="57.2" r="1.9"/>
<circle class="k1" cx="241.6" cy="66.5" r="1.9"/>
<circle class="k33" cx="294.0" cy="63.2" r="1.9"/>
<circle class="k6" cx="255.8" cy="57.5" r="1.9"/>
<circle class="k23" cx="276.6" cy="64.4" r="1.9"/>
<circle class="k0" cx="200.2" cy="64.5" r="1.9"/>
<circle class="k39" cx="317.9" cy="64.7" r="1.9"/>
<circle class="k24" cx="279.2" cy="74.2" r="1.9"/>
<circle class="k34" cx="307.9" cy="63.1" r="1.9"/>
<circle class="k15" cx="267.9" cy="72.5" r="1.9"/>
<circle class="k34" cx="312.6" cy="60.9" r="1.9"/>
<circle class="k25" cx="277.8" cy="74.7" r="1.9"/>
<circle class="k20" cx="270.4" cy="61.9" r="1.9"/>
<circle class="k27" cx="282.7" cy="59.9" r="1.9"/>
<circle class="k9" cx="261.1" cy="62.8" r="1.9"/>
<circle class="k37" cx="307.4" cy="66.8" r="1.9"/>
<circle class="k36" cx="316.7" cy="63.8" r="1.9"/>
<circle class="k39" cx="380.2" cy="64.5" r="1.9"/>
<circle class="k37" cx="321.9" cy="64.6" r="1.9"/>
<circle class="k31" cx="290.4" cy="67.4" r="1.9"/>
<circle class="k24" cx="282.3" cy="62.3" r="1.9"/>
<circle class="k26" cx="283.1" cy="73.0" r="1.9"/>
<circle class="k24" cx="279.9" cy="56.1" r="1.9"/>
<circle class="k17" cx="268.6" cy="57.2" r="1.9"/>
<circle class="k1" cx="186.4" cy="64.5" r="1.9"/>
<circle class="k0" cx="246.3" cy="63.8" r="1.9"/>
<circle class="k0" cx="220.9" cy="63.6" r="1.9"/>
<circle class="k0" cx="158.4" cy="64.5" r="1.9"/>
<circle class="k20" cx="272.8" cy="56.6" r="1.9"/>
<circle class="k1" cx="211.5" cy="64.6" r="1.9"/>
<circle class="k32" cx="292.4" cy="59.1" r="1.9"/>
<circle class="k30" cx="289.1" cy="61.8" r="1.9"/>
<circle class="k37" cx="322.3" cy="64.7" r="1.9"/>
<circle class="k22" cx="276.2" cy="60.8" r="1.9"/>
<circle class="k38" cx="327.2" cy="64.9" r="1.9"/>
<circle class="k10" cx="259.1" cy="66.4" r="1.9"/>
<circle class="k33" cx="300.1" cy="63.1" r="1.9"/>
<circle class="k2" cx="251.9" cy="66.6" r="1.9"/>
<circle class="k26" cx="282.6" cy="63.6" r="1.9"/>
<circle class="k30" cx="293.5" cy="62.5" r="1.9"/>
<circle class="k4" cx="252.9" cy="61.3" r="1.9"/>
<circle class="k39" cx="335.4" cy="65.5" r="1.9"/>
<circle class="k38" cx="358.5" cy="64.1" r="1.9"/>
<circle class="k24" cx="278.3" cy="54.7" r="1.9"/>
<circle class="k0" cx="239.2" cy="64.0" r="1.9"/>
<circle class="k0" cx="238.8" cy="66.9" r="1.9"/>
<circle class="k9" cx="258.4" cy="64.7" r="1.9"/>
<circle class="k36" cx="301.8" cy="62.3" r="1.9"/>
<circle class="k31" cx="286.2" cy="68.8" r="1.9"/>
<circle class="k5" cx="254.5" cy="62.5" r="1.9"/>
<circle class="k0" cx="240.9" cy="63.8" r="1.9"/>
<circle class="k39" cx="341.0" cy="64.1" r="1.9"/>
<circle class="k38" cx="320.8" cy="64.4" r="1.9"/>
<circle class="k35" cx="308.2" cy="61.1" r="1.9"/>
<circle class="k26" cx="279.2" cy="66.5" r="1.9"/>
<circle class="k0" cx="249.6" cy="64.3" r="1.9"/>
<circle class="k39" cx="366.6" cy="64.5" r="1.9"/>
<circle class="k35" cx="304.1" cy="62.6" r="1.9"/>
<circle class="k18" cx="270.4" cy="60.9" r="1.9"/>
<circle class="k14" cx="261.5" cy="62.8" r="1.9"/>
<circle class="k28" cx="283.9" cy="72.0" r="1.9"/>
<circle class="k38" cx="329.9" cy="65.2" r="1.9"/>
<circle class="k27" cx="281.1" cy="56.1" r="1.9"/>
<circle class="k20" cx="271.4" cy="54.3" r="1.9"/>
<circle class="k37" cx="302.7" cy="63.6" r="1.9"/>
<circle class="k12" cx="267.2" cy="73.3" r="1.9"/>
<circle class="k34" cx="291.9" cy="64.7" r="1.9"/>
<circle class="k5" cx="257.8" cy="58.5" r="1.9"/>
<circle class="k30" cx="288.0" cy="57.0" r="1.9"/>
<circle class="k39" cx="316.0" cy="62.2" r="1.9"/>
<circle class="k30" cx="289.5" cy="68.4" r="1.9"/>
<circle class="k0" cx="243.5" cy="67.8" r="1.9"/>
<circle class="k3" cx="256.0" cy="66.9" r="1.9"/>
<circle class="k27" cx="283.9" cy="59.3" r="1.9"/>
<circle class="k0" cx="243.4" cy="63.4" r="1.9"/>
<circle class="k35" cx="312.1" cy="68.4" r="1.9"/>
<circle class="k21" cx="272.2" cy="54.2" r="1.9"/>
<circle class="k36" cx="309.5" cy="63.7" r="1.9"/>
<circle class="k33" cx="296.7" cy="59.8" r="1.9"/>
<circle class="k39" cx="317.9" cy="67.0" r="1.9"/>
<circle class="k21" cx="274.8" cy="70.1" r="1.9"/>
<circle class="k26" cx="284.4" cy="67.6" r="1.9"/>
<circle class="k21" cx="278.5" cy="55.4" r="1.9"/>
<circle class="k12" cx="260.0" cy="56.7" r="1.9"/>
<circle class="k0" cx="177.7" cy="64.5" r="1.9"/>
<circle class="k35" cx="299.9" cy="67.8" r="1.9"/>
<circle class="k14" cx="263.6" cy="60.8" r="1.9"/>
<circle class="k0" cx="240.4" cy="62.8" r="1.9"/>
<circle class="k39" cx="378.8" cy="64.5" r="1.9"/>
<circle class="k37" cx="323.2" cy="65.7" r="1.9"/>
<circle class="k36" cx="299.9" cy="66.8" r="1.9"/>
<circle class="k39" cx="331.2" cy="64.7" r="1.9"/>
<circle class="k13" cx="266.2" cy="56.5" r="1.9"/>
<circle class="k0" cx="157.9" cy="64.5" r="1.9"/>
<circle class="k14" cx="263.9" cy="70.8" r="1.9"/>
<circle class="k0" cx="183.1" cy="64.5" r="1.9"/>
<circle class="k0" cx="228.2" cy="65.3" r="1.9"/>
<circle class="k7" cx="261.0" cy="58.6" r="1.9"/>
<circle class="k0" cx="169.7" cy="64.5" r="1.9"/>
<circle class="k33" cx="312.9" cy="63.3" r="1.9"/>
<circle class="k23" cx="275.5" cy="65.8" r="1.9"/>
<circle class="k17" cx="268.8" cy="61.9" r="1.9"/>
<circle class="k2" cx="253.7" cy="63.7" r="1.9"/>
<circle class="k0" cx="245.6" cy="63.1" r="1.9"/>
<circle class="k7" cx="256.8" cy="58.4" r="1.9"/>
<circle class="k9" cx="258.5" cy="71.1" r="1.9"/>
<circle class="k34" cx="300.8" cy="60.9" r="1.9"/>
<circle class="k15" cx="267.3" cy="54.4" r="1.9"/>
<circle class="k17" cx="270.3" cy="58.6" r="1.9"/>
<circle class="k11" cx="260.7" cy="57.4" r="1.9"/>
<circle class="k39" cx="340.4" cy="63.7" r="1.9"/>
<circle class="k11" cx="261.2" cy="68.2" r="1.9"/>
<circle class="k39" cx="365.8" cy="64.5" r="1.9"/>
<circle class="k23" cx="275.9" cy="62.2" r="1.9"/>
<circle class="k34" cx="303.0" cy="69.3" r="1.9"/>
<circle class="k0" cx="207.8" cy="64.5" r="1.9"/>
<circle class="k13" cx="262.8" cy="56.3" r="1.9"/>
<circle class="k19" cx="271.1" cy="67.2" r="1.9"/>
<circle class="k14" cx="268.3" cy="71.5" r="1.9"/>
<circle class="k37" cx="315.8" cy="64.6" r="1.9"/>
<circle class="k38" cx="332.1" cy="64.5" r="1.9"/>
<circle class="k0" cx="228.4" cy="64.4" r="1.9"/>
<circle class="k4" cx="253.0" cy="65.4" r="1.9"/>
<circle class="k0" cx="248.0" cy="67.9" r="1.9"/>
<circle class="k11" cx="259.9" cy="55.2" r="1.9"/>
<circle class="k27" cx="285.8" cy="69.2" r="1.9"/>
<circle class="k24" cx="277.0" cy="56.3" r="1.9"/>
<circle class="k35" cx="311.1" cy="65.9" r="1.9"/>
<circle class="k39" cx="319.1" cy="66.7" r="1.9"/>
<circle class="k31" cx="293.5" cy="59.0" r="1.9"/>
<circle class="k11" cx="262.5" cy="58.4" r="1.9"/>
<circle class="k9" cx="258.7" cy="62.2" r="1.9"/>
<circle class="k10" cx="261.9" cy="64.9" r="1.9"/>
<circle class="k27" cx="283.1" cy="68.7" r="1.9"/>
<circle class="k4" cx="255.4" cy="67.9" r="1.9"/>
<circle class="k17" cx="267.2" cy="55.6" r="1.9"/>
<circle class="k1" cx="242.6" cy="61.1" r="1.9"/>
<circle class="k19" cx="273.7" cy="71.2" r="1.9"/>
<circle class="k35" cx="320.0" cy="63.5" r="1.9"/>
<circle class="k32" cx="294.5" cy="70.6" r="1.9"/>
<circle class="k8" cx="259.3" cy="70.9" r="1.9"/>
<circle class="k19" cx="268.6" cy="68.3" r="1.9"/>
<circle class="k35" cx="303.9" cy="66.2" r="1.9"/>
<circle class="k24" cx="280.0" cy="71.9" r="1.9"/>
<circle class="k32" cx="293.4" cy="57.9" r="1.9"/>
<circle class="k20" cx="270.2" cy="72.6" r="1.9"/>
<circle class="k1" cx="239.8" cy="64.2" r="1.9"/>
<circle class="k34" cx="300.3" cy="59.1" r="1.9"/>
<circle class="k39" cx="335.2" cy="64.5" r="1.9"/>
<circle class="k0" cx="174.6" cy="64.5" r="1.9"/>
<circle class="k25" cx="282.2" cy="66.7" r="1.9"/>
<circle class="k22" cx="275.8" cy="55.2" r="1.9"/>
<circle class="k35" cx="314.0" cy="60.9" r="1.9"/>
<circle class="k1" cx="237.8" cy="64.6" r="1.9"/>
<circle class="k6" cx="255.3" cy="58.1" r="1.9"/>
<circle class="k20" cx="271.9" cy="59.3" r="1.9"/>
<circle class="k30" cx="290.3" cy="68.4" r="1.9"/>
<circle class="k0" cx="229.8" cy="63.5" r="1.9"/>
<circle class="k27" cx="282.7" cy="64.4" r="1.9"/>
<circle class="k0" cx="249.0" cy="60.5" r="1.9"/>
<circle class="k12" cx="264.3" cy="64.4" r="1.9"/>
<circle class="k30" cx="292.1" cy="59.8" r="1.9"/>
<circle class="k23" cx="275.5" cy="62.3" r="1.9"/>
<circle class="k34" cx="297.6" cy="66.2" r="1.9"/>
<circle class="k17" cx="272.9" cy="67.4" r="1.9"/>
<circle class="k28" cx="288.9" cy="68.7" r="1.9"/>
<circle class="k26" cx="280.3" cy="65.1" r="1.9"/>
<circle class="k35" cx="320.9" cy="65.4" r="1.9"/>
<circle class="k35" cx="297.5" cy="60.4" r="1.9"/>
<circle class="k24" cx="279.8" cy="57.0" r="1.9"/>
<circle class="k7" cx="258.3" cy="73.2" r="1.9"/>
<circle class="k34" cx="302.3" cy="67.8" r="1.9"/>
<circle class="k5" cx="256.8" cy="66.9" r="1.9"/>
<circle class="k16" cx="271.2" cy="65.3" r="1.9"/>
<circle class="k0" cx="237.5" cy="66.9" r="1.9"/>
<circle class="k1" cx="248.7" cy="59.1" r="1.9"/>
<circle class="k0" cx="232.1" cy="64.4" r="1.9"/>
<circle class="k0" cx="247.1" cy="60.1" r="1.9"/>
<circle class="k20" cx="274.5" cy="63.8" r="1.9"/>
<circle class="k39" cx="349.0" cy="63.9" r="1.9"/>
<circle class="k15" cx="264.7" cy="72.1" r="1.9"/>
<circle class="k17" cx="270.5" cy="65.1" r="1.9"/>
<circle class="k11" cx="260.2" cy="63.1" r="1.9"/>
<circle class="k36" cx="303.3" cy="61.8" r="1.9"/>
<circle class="k14" cx="265.8" cy="62.2" r="1.9"/>
<circle class="k32" cx="295.5" cy="60.0" r="1.9"/>
<circle class="k33" cx="303.5" cy="62.8" r="1.9"/>
<circle class="k24" cx="278.7" cy="74.2" r="1.9"/>
<circle class="k7" cx="256.9" cy="72.8" r="1.9"/>
<circle class="k24" cx="279.4" cy="64.5" r="1.9"/>
<circle class="k26" cx="281.0" cy="64.0" r="1.9"/>
<circle class="k21" cx="273.6" cy="59.6" r="1.9"/>
<circle class="k8" cx="257.1" cy="68.3" r="1.9"/>
<circle class="k34" cx="295.2" cy="67.7" r="1.9"/>
<circle class="k38" cx="310.5" cy="61.6" r="1.9"/>
<circle class="k31" cx="289.0" cy="59.6" r="1.9"/>
<circle class="k39" cx="317.8" cy="66.0" r="1.9"/>
<circle class="k0" cx="223.1" cy="64.6" r="1.9"/>
<circle class="k35" cx="298.5" cy="69.3" r="1.9"/>
<circle class="k33" cx="298.5" cy="68.3" r="1.9"/>
<circle class="k15" cx="268.4" cy="56.3" r="1.9"/>
<circle class="k11" cx="260.2" cy="67.9" r="1.9"/>
<circle class="k0" cx="166.6" cy="64.5" r="1.9"/>
<circle class="k0" cx="207.3" cy="64.5" r="1.9"/>
<circle class="k37" cx="311.6" cy="67.0" r="1.9"/>
<circle class="k0" cx="234.4" cy="64.1" r="1.9"/>
<circle class="k0" cx="192.9" cy="64.5" r="1.9"/>
<circle class="k35" cx="305.7" cy="67.1" r="1.9"/>
<circle class="k21" cx="272.8" cy="74.7" r="1.9"/>
<circle class="k30" cx="292.6" cy="65.4" r="1.9"/>
<circle class="k35" cx="303.4" cy="65.9" r="1.9"/>
<circle class="k23" cx="278.6" cy="63.2" r="1.9"/>
<circle class="k39" cx="347.2" cy="64.0" r="1.9"/>
<circle class="k13" cx="264.9" cy="57.8" r="1.9"/>
<circle class="k21" cx="273.1" cy="59.9" r="1.9"/>
<circle class="k0" cx="198.6" cy="64.5" r="1.9"/>
<circle class="k1" cx="160.4" cy="64.5" r="1.9"/>
<circle class="k34" cx="307.2" cy="64.4" r="1.9"/>
<circle class="k28" cx="287.6" cy="68.8" r="1.9"/>
<circle class="k20" cx="273.4" cy="66.3" r="1.9"/>
<circle class="k0" cx="247.4" cy="61.0" r="1.9"/>
<circle class="k14" cx="267.3" cy="68.7" r="1.9"/>
<circle class="k13" cx="262.6" cy="59.4" r="1.9"/>
<circle class="k20" cx="272.7" cy="63.8" r="1.9"/>
<circle class="k25" cx="279.1" cy="65.3" r="1.9"/>
<circle class="k39" cx="318.5" cy="63.7" r="1.9"/>
<circle class="k37" cx="312.6" cy="67.9" r="1.9"/>
<circle class="k36" cx="308.6" cy="66.4" r="1.9"/>
<circle class="k23" cx="277.0" cy="54.6" r="1.9"/>
<circle class="k1" cx="217.0" cy="64.8" r="1.9"/>
<circle class="k23" cx="275.1" cy="74.6" r="1.9"/>
<circle class="k21" cx="273.5" cy="72.6" r="1.9"/>
<circle class="k1" cx="229.1" cy="64.3" r="1.9"/>
<circle class="k0" cx="157.2" cy="64.5" r="1.9"/>
<circle class="k32" cx="292.6" cy="69.0" r="1.9"/>
<circle class="k0" cx="242.6" cy="67.5" r="1.9"/>
<circle class="k0" cx="236.9" cy="66.8" r="1.9"/>
<circle class="k22" cx="275.3" cy="55.4" r="1.9"/>
<circle class="k7" cx="257.4" cy="66.4" r="1.9"/>
<circle class="k0" cx="245.5" cy="60.6" r="1.9"/>
<circle class="k32" cx="295.1" cy="64.5" r="1.9"/>
<circle class="k38" cx="306.2" cy="67.6" r="1.9"/>
<circle class="k33" cx="297.9" cy="62.6" r="1.9"/>
<circle class="k0" cx="214.6" cy="63.9" r="1.9"/>
<circle class="k7" cx="257.4" cy="65.0" r="1.9"/>
<circle class="k0" cx="248.2" cy="63.8" r="1.9"/>
<circle class="k30" cx="292.9" cy="62.3" r="1.9"/>
<circle class="k22" cx="273.7" cy="62.7" r="1.9"/>
<circle class="k18" cx="267.3" cy="65.6" r="1.9"/>
<circle class="k14" cx="263.8" cy="63.6" r="1.9"/>
<circle class="k0" cx="251.6" cy="64.0" r="1.9"/>
<circle class="k0" cx="235.3" cy="66.5" r="1.9"/>
<circle class="k15" cx="270.6" cy="64.2" r="1.9"/>
<circle class="k7" cx="256.4" cy="61.4" r="1.9"/>
<circle class="k31" cx="291.9" cy="63.2" r="1.9"/>
<circle class="k26" cx="284.7" cy="71.7" r="1.9"/>
<circle class="k0" cx="243.3" cy="62.3" r="1.9"/>
<circle class="k25" cx="282.2" cy="58.6" r="1.9"/>
<circle class="k33" cx="298.3" cy="58.4" r="1.9"/>
<circle class="k33" cx="294.7" cy="64.3" r="1.9"/>
<circle class="k35" cx="307.0" cy="59.9" r="1.9"/>
<circle class="k36" cx="312.0" cy="61.9" r="1.9"/>
<circle class="k23" cx="277.1" cy="72.2" r="1.9"/>
<circle class="k9" cx="257.9" cy="72.6" r="1.9"/>
<circle class="k23" cx="279.1" cy="59.0" r="1.9"/>
<circle class="k0" cx="216.3" cy="64.9" r="1.9"/>
<circle class="k25" cx="281.5" cy="61.7" r="1.9"/>
<circle class="k5" cx="254.7" cy="63.7" r="1.9"/>
<circle class="k28" cx="290.8" cy="64.2" r="1.9"/>
<circle class="k21" cx="276.3" cy="66.8" r="1.9"/>
<circle class="k35" cx="315.4" cy="65.8" r="1.9"/>
<circle class="k30" cx="288.9" cy="67.1" r="1.9"/>
<circle class="k39" cx="360.9" cy="64.5" r="1.9"/>
<circle class="k20" cx="274.4" cy="69.3" r="1.9"/>
<circle class="k25" cx="280.7" cy="70.6" r="1.9"/>
<circle class="k39" cx="337.1" cy="65.4" r="1.9"/>
<circle class="k16" cx="272.3" cy="74.6" r="1.9"/>
<circle class="k39" cx="319.5" cy="63.7" r="1.9"/>
<circle class="k28" cx="288.1" cy="58.0" r="1.9"/>
<circle class="k39" cx="356.1" cy="64.1" r="1.9"/>
<circle class="k0" cx="249.8" cy="62.4" r="1.9"/>
<circle class="k0" cx="237.4" cy="62.5" r="1.9"/>
<circle class="k27" cx="278.3" cy="65.8" r="1.9"/>
<circle class="k0" cx="241.2" cy="67.4" r="1.9"/>
<circle class="k37" cx="324.2" cy="62.6" r="1.9"/>
<circle class="k26" cx="284.3" cy="68.9" r="1.9"/>
<circle class="k35" cx="296.6" cy="62.9" r="1.9"/>
<circle class="k1" cx="251.2" cy="62.7" r="1.9"/>
<circle class="k25" cx="277.1" cy="59.7" r="1.9"/>
<circle class="k23" cx="274.4" cy="73.8" r="1.9"/>
<circle class="k39" cx="364.0" cy="64.5" r="1.9"/>
<circle class="k33" cx="313.0" cy="65.6" r="1.9"/>
<circle class="k8" cx="260.3" cy="64.2" r="1.9"/>
<circle class="k1" cx="252.2" cy="70.1" r="1.9"/>
<circle class="k0" cx="247.2" cy="68.7" r="1.9"/>
<circle class="k23" cx="279.1" cy="54.9" r="1.9"/>
<circle class="k35" cx="300.7" cy="66.7" r="1.9"/>
<circle class="k30" cx="287.3" cy="64.8" r="1.9"/>
<circle class="k8" cx="260.1" cy="60.2" r="1.9"/>
<circle class="k0" cx="216.8" cy="63.8" r="1.9"/>
<circle class="k0" cx="239.3" cy="65.1" r="1.9"/>
<circle class="k24" cx="280.1" cy="66.4" r="1.9"/>
<circle class="k19" cx="276.1" cy="59.9" r="1.9"/>
<circle class="k35" cx="307.9" cy="67.7" r="1.9"/>
<circle class="k17" cx="267.2" cy="64.5" r="1.9"/>
<circle class="k17" cx="273.0" cy="73.5" r="1.9"/>
<circle class="k12" cx="268.9" cy="71.5" r="1.9"/>
<circle class="k2" cx="252.3" cy="68.0" r="1.9"/>
<circle class="k6" cx="254.4" cy="61.0" r="1.9"/>
<circle class="k1" cx="231.2" cy="65.5" r="1.9"/>
<circle class="k30" cx="291.8" cy="57.8" r="1.9"/>
<circle class="k1" cx="176.3" cy="64.5" r="1.9"/>
<circle class="k21" cx="274.8" cy="57.6" r="1.9"/>
<circle class="k38" cx="334.7" cy="65.7" r="1.9"/>
<circle class="k26" cx="276.1" cy="56.4" r="1.9"/>
<circle class="k26" cx="281.5" cy="72.4" r="1.9"/>
<circle class="k23" cx="278.4" cy="71.4" r="1.9"/>
<circle class="k28" cx="285.6" cy="70.7" r="1.9"/>
<circle class="k15" cx="265.7" cy="73.5" r="1.9"/>
<circle class="k7" cx="255.3" cy="65.8" r="1.9"/>
<circle class="k0" cx="246.5" cy="62.6" r="1.9"/>
<circle class="k10" cx="258.7" cy="72.0" r="1.9"/>
<circle class="k35" cx="306.6" cy="63.2" r="1.9"/>
<circle class="k36" cx="313.9" cy="63.1" r="1.9"/>
<circle class="k36" cx="310.4" cy="60.6" r="1.9"/>
<circle class="k1" cx="251.2" cy="59.3" r="1.9"/>
<circle class="k0" cx="251.9" cy="64.7" r="1.9"/>
<circle class="k1" cx="239.2" cy="66.1" r="1.9"/>
<circle class="k25" cx="279.5" cy="72.3" r="1.9"/>
<circle class="k38" cx="318.4" cy="62.0" r="1.9"/>
<circle class="k0" cx="248.2" cy="67.1" r="1.9"/>
<circle class="k15" cx="269.0" cy="64.8" r="1.9"/>
<circle class="k1" cx="224.1" cy="64.4" r="1.9"/>
<circle class="k18" cx="273.2" cy="55.6" r="1.9"/>
<circle class="k12" cx="262.3" cy="69.3" r="1.9"/>
<circle class="k35" cx="305.4" cy="66.3" r="1.9"/>
<circle class="k35" cx="297.6" cy="69.5" r="1.9"/>
<circle class="k33" cx="308.3" cy="60.0" r="1.9"/>
<circle class="k1" cx="170.3" cy="64.5" r="1.9"/>
<circle class="k39" cx="325.7" cy="65.0" r="1.9"/>
<circle class="k27" cx="283.1" cy="63.1" r="1.9"/>
<circle class="k28" cx="286.4" cy="57.5" r="1.9"/>
<circle class="k39" cx="382.6" cy="64.5" r="1.9"/>
<circle class="k15" cx="268.4" cy="67.2" r="1.9"/>
<circle class="k9" cx="259.9" cy="62.3" r="1.9"/>
<circle class="k0" cx="212.4" cy="65.0" r="1.9"/>
<circle class="k2" cx="253.7" cy="69.6" r="1.9"/>
<circle class="k13" cx="265.0" cy="62.5" r="1.9"/>
<circle class="k30" cx="289.0" cy="56.9" r="1.9"/>
<circle class="k0" cx="250.8" cy="64.7" r="1.9"/>
<circle class="k0" cx="194.4" cy="64.5" r="1.9"/>
<circle class="k0" cx="247.6" cy="67.6" r="1.9"/>
<circle class="k25" cx="284.9" cy="68.2" r="1.9"/>
<circle class="k0" cx="172.0" cy="64.5" r="1.9"/>
<circle class="k8" cx="257.8" cy="56.0" r="1.9"/>
<circle class="k39" cx="336.0" cy="64.6" r="1.9"/>
<circle class="k28" cx="286.8" cy="62.0" r="1.9"/>
<circle class="k0" cx="237.9" cy="65.5" r="1.9"/>
<circle class="k18" cx="267.3" cy="70.2" r="1.9"/>
<circle class="k15" cx="268.1" cy="55.5" r="1.9"/>
<circle class="k17" cx="269.6" cy="61.6" r="1.9"/>
<circle class="k20" cx="271.4" cy="60.6" r="1.9"/>
<circle class="k30" cx="290.7" cy="66.3" r="1.9"/>
<circle class="k34" cx="301.6" cy="58.8" r="1.9"/>
<circle class="k21" cx="270.6" cy="74.8" r="1.9"/>
<circle class="k1" cx="248.3" cy="63.0" r="1.9"/>
<circle class="k36" cx="326.6" cy="66.1" r="1.9"/>
<circle class="k31" cx="289.1" cy="60.6" r="1.9"/>
<circle class="k36" cx="309.4" cy="64.9" r="1.9"/>
<circle class="k14" cx="264.7" cy="69.6" r="1.9"/>
<circle class="k1" cx="250.4" cy="60.6" r="1.9"/>
<circle class="k0" cx="244.8" cy="63.0" r="1.9"/>
<circle class="k18" cx="272.3" cy="66.9" r="1.9"/>
<circle class="k0" cx="250.6" cy="63.1" r="1.9"/>
<circle class="k0" cx="164.4" cy="64.5" r="1.9"/>
<circle class="k36" cx="325.4" cy="66.0" r="1.9"/>
<circle class="k4" cx="253.2" cy="59.8" r="1.9"/>
<circle class="k39" cx="326.5" cy="65.2" r="1.9"/>
<circle class="k21" cx="274.2" cy="61.0" r="1.9"/>
<circle class="k39" cx="351.5" cy="64.9" r="1.9"/>
<circle class="k18" cx="270.6" cy="59.5" r="1.9"/>
<circle class="k0" cx="209.4" cy="64.8" r="1.9"/>
<circle class="k17" cx="269.0" cy="54.0" r="1.9"/>
<circle class="k35" cx="318.4" cy="65.8" r="1.9"/>
<circle class="k38" cx="333.8" cy="64.2" r="1.9"/>
<circle class="k0" cx="190.7" cy="64.5" r="1.9"/>
<circle class="k0" cx="180.3" cy="64.5" r="1.9"/>
<circle class="k38" cx="330.2" cy="64.3" r="1.9"/>
<circle class="k20" cx="273.7" cy="58.6" r="1.9"/>
<circle class="k2" cx="253.5" cy="58.6" r="1.9"/>
<circle class="k21" cx="275.5" cy="59.9" r="1.9"/>
<circle class="k29" cx="286.2" cy="56.2" r="1.9"/>
<circle class="k26" cx="285.9" cy="72.6" r="1.9"/>
<circle class="k20" cx="275.6" cy="57.7" r="1.9"/>
<circle class="k18" cx="271.3" cy="55.2" r="1.9"/>
<circle class="k1" cx="252.2" cy="71.2" r="1.9"/>
<circle class="k21" cx="279.9" cy="68.7" r="1.9"/>
<circle class="k0" cx="175.4" cy="64.5" r="1.9"/>
<circle class="k1" cx="185.0" cy="64.5" r="1.9"/>
<circle class="k39" cx="363.1" cy="64.5" r="1.9"/>
<circle class="k39" cx="338.6" cy="63.5" r="1.9"/>
<circle class="k0" cx="222.7" cy="65.5" r="1.9"/>
<circle class="k39" cx="381.6" cy="64.5" r="1.9"/>
<circle class="k25" cx="281.6" cy="69.6" r="1.9"/>
<circle class="k28" cx="286.6" cy="65.9" r="1.9"/>
<circle class="k32" cx="293.7" cy="68.8" r="1.9"/>
<circle class="k8" cx="259.3" cy="67.7" r="1.9"/>
<circle class="k33" cx="294.5" cy="65.4" r="1.9"/>
<circle class="k1" cx="236.2" cy="66.4" r="1.9"/>
<circle class="k7" cx="257.1" cy="56.5" r="1.9"/>
<circle class="k35" cx="316.1" cy="61.6" r="1.9"/>
<circle class="k25" cx="281.1" cy="58.5" r="1.9"/>
<circle class="k0" cx="249.0" cy="65.0" r="1.9"/>
<circle class="k28" cx="266.4" cy="74.7" r="1.9"/>
<circle class="k12" cx="262.6" cy="71.7" r="1.9"/>
<circle class="k37" cx="324.0" cy="63.8" r="1.9"/>
<circle class="k38" cx="350.7" cy="64.0" r="1.9"/>
<circle class="k24" cx="281.1" cy="69.3" r="1.9"/>
<circle class="k39" cx="350.4" cy="64.5" r="1.9"/>
<circle class="k0" cx="208.6" cy="64.5" r="1.9"/>
<circle class="k0" cx="240.0" cy="67.4" r="1.9"/>
<circle class="k7" cx="257.8" cy="62.8" r="1.9"/>
<circle class="k14" cx="263.4" cy="57.0" r="1.9"/>
<circle class="k13" cx="264.7" cy="65.5" r="1.9"/>
<circle class="k39" cx="312.2" cy="64.9" r="1.9"/>
<circle class="k38" cx="367.9" cy="64.5" r="1.9"/>
<circle class="k18" cx="272.7" cy="61.8" r="1.9"/>
<circle class="k0" cx="246.5" cy="66.1" r="1.9"/>
<circle class="k24" cx="275.0" cy="63.5" r="1.9"/>
<circle class="k21" cx="276.6" cy="65.4" r="1.9"/>
<circle class="k38" cx="346.3" cy="64.9" r="1.9"/>
<circle class="k12" cx="266.7" cy="54.3" r="1.9"/>
<circle class="k0" cx="232.2" cy="66.1" r="1.9"/>
<circle class="k4" cx="254.5" cy="67.7" r="1.9"/>
<circle class="k15" cx="268.6" cy="72.8" r="1.9"/>
<circle class="k21" cx="276.9" cy="69.0" r="1.9"/>
<circle class="k14" cx="265.8" cy="54.8" r="1.9"/>
<circle class="k7" cx="257.6" cy="59.2" r="1.9"/>
<circle class="k0" cx="239.2" cy="67.1" r="1.9"/>
<circle class="k14" cx="267.5" cy="71.3" r="1.9"/>
<circle class="k30" cx="284.9" cy="57.2" r="1.9"/>
<circle class="k10" cx="258.5" cy="57.8" r="1.9"/>
<circle class="k23" cx="275.3" cy="71.0" r="1.9"/>
<circle class="k30" cx="292.2" cy="68.1" r="1.9"/>
<circle class="k32" cx="293.0" cy="63.3" r="1.9"/>
<circle class="k23" cx="276.2" cy="74.3" r="1.9"/>
<circle class="k20" cx="275.4" cy="66.5" r="1.9"/>
<circle class="k13" cx="267.3" cy="72.2" r="1.9"/>
<circle class="k36" cx="305.7" cy="67.9" r="1.9"/>
<circle class="k20" cx="274.5" cy="72.8" r="1.9"/>
<circle class="k10" cx="259.5" cy="62.3" r="1.9"/>
<circle class="k11" cx="258.4" cy="66.8" r="1.9"/>
<circle class="k24" cx="281.7" cy="58.4" r="1.9"/>
<circle class="k34" cx="295.5" cy="65.6" r="1.9"/>
<circle class="k12" cx="263.6" cy="59.6" r="1.9"/>
<circle class="k34" cx="294.6" cy="66.8" r="1.9"/>
<circle class="k33" cx="296.7" cy="60.8" r="1.9"/>
<circle class="k0" cx="200.8" cy="64.5" r="1.9"/>
<circle class="k24" cx="278.6" cy="62.0" r="1.9"/>
<circle class="k35" cx="305.0" cy="64.0" r="1.9"/>
<circle class="k34" cx="301.5" cy="66.9" r="1.9"/>
<circle class="k28" cx="288.0" cy="72.0" r="1.9"/>
<circle class="k34" cx="310.5" cy="68.4" r="1.9"/>
<circle class="k5" cx="256.3" cy="70.0" r="1.9"/>
<circle class="k0" cx="210.0" cy="64.4" r="1.9"/>
<circle class="k18" cx="272.2" cy="58.5" r="1.9"/>
<circle class="k25" cx="275.3" cy="72.3" r="1.9"/>
<circle class="k0" cx="237.7" cy="63.6" r="1.9"/>
<circle class="k23" cx="276.1" cy="63.4" r="1.9"/>
<circle class="k12" cx="265.6" cy="58.0" r="1.9"/>
<circle class="k38" cx="339.9" cy="65.3" r="1.9"/>
<circle class="k36" cx="298.3" cy="64.9" r="1.9"/>
<circle class="k0" cx="226.4" cy="64.6" r="1.9"/>
<circle class="k39" cx="352.9" cy="64.9" r="1.9"/>
<circle class="k38" cx="319.3" cy="62.7" r="1.9"/>
<circle class="k0" cx="162.8" cy="64.5" r="1.9"/>
<circle class="k29" cx="285.9" cy="68.6" r="1.9"/>
<circle class="k0" cx="212.8" cy="64.9" r="1.9"/>
<circle class="k0" cx="243.0" cy="61.4" r="1.9"/>
<circle class="k15" cx="266.5" cy="67.6" r="1.9"/>
<circle class="k0" cx="241.1" cy="65.9" r="1.9"/>
<circle class="k16" cx="268.7" cy="74.8" r="1.9"/>
<circle class="k24" cx="277.8" cy="56.6" r="1.9"/>
<circle class="k35" cx="323.5" cy="64.5" r="1.9"/>
<circle class="k31" cx="289.8" cy="60.8" r="1.9"/>
<circle class="k16" cx="272.0" cy="73.5" r="1.9"/>
<circle class="k20" cx="275.9" cy="72.4" r="1.9"/>
<circle class="k36" cx="315.6" cy="62.5" r="1.9"/>
<circle class="k22" cx="274.3" cy="55.4" r="1.9"/>
<circle class="k14" cx="263.1" cy="65.9" r="1.9"/>
<circle class="k37" cx="318.7" cy="63.1" r="1.9"/>
<circle class="k39" cx="341.6" cy="63.8" r="1.9"/>
<circle class="k39" cx="343.5" cy="65.2" r="1.9"/>
<circle class="k22" cx="276.7" cy="58.8" r="1.9"/>
<circle class="k11" cx="263.0" cy="64.0" r="1.9"/>
<circle class="k11" cx="262.8" cy="63.8" r="1.9"/>
<circle class="k39" cx="310.7" cy="62.6" r="1.9"/>
<circle class="k36" cx="319.5" cy="61.7" r="1.9"/>
<circle class="k0" cx="247.2" cy="65.6" r="1.9"/>
<circle class="k15" cx="270.0" cy="59.8" r="1.9"/>
<circle class="k0" cx="264.9" cy="68.9" r="1.9"/>
<circle class="k37" cx="305.5" cy="60.6" r="1.9"/>
<circle class="k29" cx="287.8" cy="69.7" r="1.9"/>
<circle class="k32" cx="291.2" cy="62.9" r="1.9"/>
<circle class="k16" cx="264.8" cy="59.9" r="1.9"/>
<circle class="k14" cx="265.8" cy="61.1" r="1.9"/>
<circle class="k31" cx="287.4" cy="62.5" r="1.9"/>
<circle class="k0" cx="188.8" cy="64.5" r="1.9"/>
<circle class="k13" cx="262.0" cy="58.5" r="1.9"/>
<circle class="k21" cx="275.1" cy="68.8" r="1.9"/>
<circle class="k18" cx="269.2" cy="67.2" r="1.9"/>
<circle class="k39" cx="321.9" cy="66.9" r="1.9"/>
<circle class="k10" cx="261.2" cy="66.0" r="1.9"/>
<circle class="k21" cx="274.0" cy="67.1" r="1.9"/>
<circle class="k33" cx="294.3" cy="61.0" r="1.9"/>
<circle class="k23" cx="277.4" cy="68.0" r="1.9"/>
<circle class="k38" cx="312.2" cy="66.3" r="1.9"/>
<circle class="k11" cx="260.7" cy="59.3" r="1.9"/>
<circle class="k15" cx="267.2" cy="67.6" r="1.9"/>
<circle class="k29" cx="289.5" cy="69.7" r="1.9"/>
<circle class="k0" cx="234.2" cy="65.0" r="1.9"/>
<circle class="k1" cx="242.5" cy="64.4" r="1.9"/>
<circle class="k0" cx="234.7" cy="66.3" r="1.9"/>
<circle class="k11" cx="262.4" cy="65.2" r="1.9"/>
<circle class="k19" cx="273.4" cy="64.9" r="1.9"/>
<circle class="k39" cx="334.7" cy="64.2" r="1.9"/>
<circle class="k39" cx="385.5" cy="64.5" r="1.9"/>
<circle class="k23" cx="289.7" cy="67.0" r="1.9"/>
<circle class="k31" cx="289.7" cy="59.5" r="1.9"/>
<circle class="k21" cx="277.6" cy="64.7" r="1.9"/>
<circle class="k4" cx="253.5" cy="65.2" r="1.9"/>
<circle class="k17" cx="268.6" cy="63.8" r="1.9"/>
<circle class="k0" cx="227.2" cy="64.3" r="1.9"/>
<circle class="k34" cx="304.1" cy="64.1" r="1.9"/>
<circle class="k33" cx="296.2" cy="60.5" r="1.9"/>
<circle class="k39" cx="341.0" cy="64.8" r="1.9"/>
<circle class="k20" cx="273.8" cy="74.7" r="1.9"/>
<circle class="k11" cx="260.0" cy="61.1" r="1.9"/>
<circle class="k35" cx="301.1" cy="63.2" r="1.9"/>
<circle class="k14" cx="268.8" cy="66.1" r="1.9"/>
<circle class="k0" cx="230.2" cy="64.6" r="1.9"/>
<circle class="k8" cx="257.6" cy="60.7" r="1.9"/>
<circle class="k21" cx="271.9" cy="69.5" r="1.9"/>
<circle class="k39" cx="324.0" cy="65.5" r="1.9"/>
<circle class="k14" cx="266.4" cy="63.2" r="1.9"/>
<circle class="k36" cx="309.8" cy="66.2" r="1.9"/>
<circle class="k0" cx="223.9" cy="65.5" r="1.9"/>
<circle class="k0" cx="217.8" cy="65.0" r="1.9"/>
<circle class="k0" cx="219.9" cy="63.7" r="1.9"/>
<circle class="k10" cx="260.0" cy="71.3" r="1.9"/>
<circle class="k0" cx="250.6" cy="66.2" r="1.9"/>
<circle class="k38" cx="334.5" cy="63.8" r="1.9"/>
<circle class="k3" cx="256.0" cy="63.4" r="1.9"/>
<circle class="k32" cx="293.6" cy="66.9" r="1.9"/>
<circle class="k0" cx="244.7" cy="65.8" r="1.9"/>
<circle class="k27" cx="285.1" cy="72.9" r="1.9"/>
<circle class="k22" cx="275.6" cy="54.1" r="1.9"/>
<circle class="k35" cx="299.4" cy="58.9" r="1.9"/>
<circle class="k35" cx="316.1" cy="63.2" r="1.9"/>
<circle class="k16" cx="266.3" cy="72.2" r="1.9"/>
<circle class="k38" cx="336.2" cy="65.6" r="1.9"/>
<circle class="k39" cx="346.6" cy="64.0" r="1.9"/>
<circle class="k20" cx="274.4" cy="58.7" r="1.9"/>
<circle class="k0" cx="203.8" cy="64.5" r="1.9"/>
<circle class="k11" cx="263.1" cy="62.6" r="1.9"/>
<circle class="k32" cx="294.8" cy="62.4" r="1.9"/>
<circle class="k12" cx="261.8" cy="67.1" r="1.9"/>
<circle class="k32" cx="297.5" cy="67.1" r="1.9"/>
<circle class="k32" cx="289.8" cy="66.2" r="1.9"/>
<circle class="k22" cx="275.1" cy="64.4" r="1.9"/>
<circle class="k28" cx="283.2" cy="67.5" r="1.9"/>
<circle class="k27" cx="283.0" cy="64.6" r="1.9"/>
<circle class="k3" cx="254.2" cy="66.9" r="1.9"/>
<circle class="k0" cx="173.9" cy="64.5" r="1.9"/>
<circle class="k0" cx="229.4" cy="65.8" r="1.9"/>
<circle class="k17" cx="270.7" cy="67.5" r="1.9"/>
<circle class="k0" cx="245.7" cy="67.1" r="1.9"/>
<circle class="k39" cx="384.7" cy="64.5" r="1.9"/>
<circle class="k1" cx="238.7" cy="62.2" r="1.9"/>
<circle class="k19" cx="273.9" cy="57.7" r="1.9"/>
<circle class="k36" cx="311.4" cy="63.0" r="1.9"/>
<circle class="k24" cx="279.0" cy="61.0" r="1.9"/>
<circle class="k39" cx="331.9" cy="63.5" r="1.9"/>
<circle class="k36" cx="306.7" cy="68.8" r="1.9"/>
<circle class="k37" cx="317.0" cy="67.7" r="1.9"/>
<circle class="k39" cx="329.7" cy="63.8" r="1.9"/>
<circle class="k34" cx="297.8" cy="58.3" r="1.9"/>
<circle class="k20" cx="274.6" cy="59.5" r="1.9"/>
<circle class="k32" cx="289.8" cy="70.4" r="1.9"/>
<circle class="k0" cx="233.1" cy="65.3" r="1.9"/>
<circle class="k39" cx="364.8" cy="64.5" r="1.9"/>
<circle class="k25" cx="277.8" cy="65.3" r="1.9"/>
<circle class="k26" cx="281.2" cy="67.3" r="1.9"/>
<circle class="k39" cx="337.5" cy="65.1" r="1.9"/>
<circle class="k7" cx="259.2" cy="73.0" r="1.9"/>
<circle class="k35" cx="301.0" cy="64.7" r="1.9"/>
<circle class="k13" cx="261.0" cy="65.0" r="1.9"/>
<circle class="k15" cx="267.4" cy="58.8" r="1.9"/>
<circle class="k28" cx="288.4" cy="67.5" r="1.9"/>
<circle class="k37" cx="321.6" cy="62.3" r="1.9"/>
<circle class="k5" cx="256.7" cy="59.6" r="1.9"/>
<circle class="k22" cx="275.5" cy="60.9" r="1.9"/>
<circle class="k5" cx="255.4" cy="60.0" r="1.9"/>
<circle class="k14" cx="266.7" cy="60.2" r="1.9"/>
<circle class="k20" cx="272.0" cy="56.2" r="1.9"/>
<circle class="k25" cx="280.9" cy="55.0" r="1.9"/>
<circle class="k36" cx="315.2" cy="67.7" r="1.9"/>
<circle class="k1" cx="249.2" cy="63.0" r="1.9"/>
<circle class="k0" cx="220.9" cy="65.3" r="1.9"/>
<circle class="k0" cx="232.9" cy="63.2" r="1.9"/>
<circle class="k38" cx="317.6" cy="63.9" r="1.9"/>
<circle class="k17" cx="271.9" cy="71.6" r="1.9"/>
<circle class="k17" cx="271.1" cy="61.6" r="1.9"/>
<circle class="k25" cx="280.3" cy="74.0" r="1.9"/>
<circle class="k10" cx="262.7" cy="67.3" r="1.9"/>
<circle class="k0" cx="224.1" cy="63.6" r="1.9"/>
<circle class="k33" cx="300.3" cy="62.5" r="1.9"/>
<circle class="k35" cx="311.3" cy="65.0" r="1.9"/>
<circle class="k0" cx="240.8" cy="61.8" r="1.9"/>
<circle class="k16" cx="268.2" cy="68.2" r="1.9"/>
<circle class="k0" cx="238.5" cy="65.6" r="1.9"/>
<circle class="k3" cx="251.3" cy="64.8" r="1.9"/>
<circle class="k1" cx="253.2" cy="57.7" r="1.9"/>
<circle class="k16" cx="266.8" cy="58.1" r="1.9"/>
<circle class="k3" cx="255.5" cy="61.3" r="1.9"/>
<circle class="k32" cx="292.2" cy="62.3" r="1.9"/>
<circle class="k11" cx="264.7" cy="71.2" r="1.9"/>
<circle class="k6" cx="255.9" cy="64.7" r="1.9"/>
<circle class="k19" cx="274.8" cy="56.3" r="1.9"/>
<circle class="k15" cx="266.2" cy="66.7" r="1.9"/>
<circle class="k20" cx="273.1" cy="60.4" r="1.9"/>
<circle class="k36" cx="312.8" cy="66.6" r="1.9"/>
<circle class="k39" cx="328.0" cy="62.6" r="1.9"/>
<circle class="k26" cx="288.6" cy="66.4" r="1.9"/>
<circle class="k5" cx="256.2" cy="60.2" r="1.9"/>
<circle class="k28" cx="286.3" cy="71.3" r="1.9"/>
<circle class="k26" cx="282.7" cy="73.5" r="1.9"/>
<circle class="k39" cx="338.6" cy="64.9" r="1.9"/>
<circle class="k23" cx="288.0" cy="60.3" r="1.9"/>
<circle class="k30" cx="283.3" cy="61.0" r="1.9"/>
<circle class="k15" cx="265.9" cy="67.5" r="1.9"/>
<circle class="k34" cx="294.2" cy="60.0" r="1.9"/>
<circle class="k17" cx="269.9" cy="70.6" r="1.9"/>
<circle class="k9" cx="258.7" cy="59.1" r="1.9"/>
<circle class="k22" cx="276.9" cy="73.8" r="1.9"/>
<circle class="k23" cx="277.0" cy="70.4" r="1.9"/>
<circle class="k34" cx="304.7" cy="60.8" r="1.9"/>
<circle class="k35" cx="305.1" cy="67.4" r="1.9"/>
<circle class="k13" cx="272.3" cy="95.6" r="1.9"/>
<circle class="k39" cx="322.9" cy="93.2" r="1.9"/>
<circle class="k1" cx="269.8" cy="88.7" r="1.9"/>
<circle class="k1" cx="270.5" cy="95.8" r="1.9"/>
<circle class="k39" cx="368.1" cy="92.7" r="1.9"/>
<circle class="k21" cx="285.9" cy="93.6" r="1.9"/>
<circle class="k15" cx="275.5" cy="86.6" r="1.9"/>
<circle class="k16" cx="276.6" cy="92.7" r="1.9"/>
<circle class="k38" cx="353.2" cy="93.7" r="1.9"/>
<circle class="k20" cx="290.8" cy="91.7" r="1.9"/>
<circle class="k39" cx="323.1" cy="92.3" r="1.9"/>
<circle class="k0" cx="268.6" cy="91.1" r="1.9"/>
<circle class="k1" cx="256.9" cy="92.7" r="1.9"/>
<circle class="k39" cx="313.0" cy="91.8" r="1.9"/>
<circle class="k0" cx="270.7" cy="102.3" r="1.9"/>
<circle class="k1" cx="267.0" cy="96.1" r="1.9"/>
<circle class="k1" cx="266.7" cy="92.6" r="1.9"/>
<circle class="k39" cx="339.2" cy="92.3" r="1.9"/>
<circle class="k12" cx="273.3" cy="86.9" r="1.9"/>
<circle class="k18" cx="275.3" cy="96.8" r="1.9"/>
<circle class="k1" cx="268.9" cy="88.8" r="1.9"/>
<circle class="k35" cx="302.4" cy="92.0" r="1.9"/>
<circle class="k0" cx="267.6" cy="97.6" r="1.9"/>
<circle class="k21" cx="286.3" cy="93.9" r="1.9"/>
<circle class="k1" cx="267.6" cy="89.5" r="1.9"/>
<circle class="k22" cx="287.3" cy="92.9" r="1.9"/>
<circle class="k13" cx="273.3" cy="84.4" r="1.9"/>
<circle class="k1" cx="258.9" cy="92.7" r="1.9"/>
<circle class="k39" cx="349.7" cy="92.1" r="1.9"/>
<circle class="k39" cx="370.0" cy="92.5" r="1.9"/>
<circle class="k1" cx="265.4" cy="90.3" r="1.9"/>
<circle class="k35" cx="308.6" cy="92.1" r="1.9"/>
<circle class="k1" cx="263.5" cy="92.8" r="1.9"/>
<circle class="k26" cx="291.8" cy="92.1" r="1.9"/>
<circle class="k17" cx="280.5" cy="94.2" r="1.9"/>
<circle class="k36" cx="308.3" cy="93.6" r="1.9"/>
<circle class="k15" cx="275.5" cy="96.1" r="1.9"/>
<circle class="k1" cx="268.2" cy="92.3" r="1.9"/>
<circle class="k39" cx="346.6" cy="93.3" r="1.9"/>
<circle class="k10" cx="271.9" cy="83.2" r="1.9"/>
<circle class="k16" cx="276.7" cy="94.8" r="1.9"/>
<circle class="k38" cx="307.4" cy="92.0" r="1.9"/>
<circle class="k39" cx="368.9" cy="93.3" r="1.9"/>
<circle class="k0" cx="265.3" cy="91.4" r="1.9"/>
<circle class="k38" cx="320.0" cy="92.3" r="1.9"/>
<circle class="k39" cx="336.5" cy="91.8" r="1.9"/>
<circle class="k39" cx="356.2" cy="92.3" r="1.9"/>
<circle class="k34" cx="301.7" cy="92.1" r="1.9"/>
<circle class="k1" cx="265.8" cy="98.0" r="1.9"/>
<circle class="k1" cx="269.9" cy="94.7" r="1.9"/>
<circle class="k14" cx="276.1" cy="95.7" r="1.9"/>
<circle class="k38" cx="357.8" cy="93.5" r="1.9"/>
<circle class="k1" cx="266.4" cy="96.1" r="1.9"/>
<circle class="k20" cx="286.1" cy="92.5" r="1.9"/>
<circle class="k0" cx="262.2" cy="92.7" r="1.9"/>
<circle class="k39" cx="349.1" cy="93.5" r="1.9"/>
<circle class="k18" cx="279.4" cy="95.5" r="1.9"/>
<circle class="k39" cx="326.3" cy="93.6" r="1.9"/>
<circle class="k37" cx="309.2" cy="93.4" r="1.9"/>
<circle class="k39" cx="334.3" cy="91.8" r="1.9"/>
<circle class="k14" cx="273.7" cy="97.2" r="1.9"/>
<circle class="k39" cx="362.8" cy="93.4" r="1.9"/>
<circle class="k1" cx="270.4" cy="91.0" r="1.9"/>
<circle class="k0" cx="259.7" cy="92.7" r="1.9"/>
<circle class="k1" cx="270.1" cy="82.4" r="1.9"/>
<circle class="k10" cx="272.5" cy="97.7" r="1.9"/>
<circle class="k19" cx="277.4" cy="91.8" r="1.9"/>
<circle class="k39" cx="323.5" cy="91.8" r="1.9"/>
<circle class="k1" cx="270.4" cy="84.3" r="1.9"/>
<circle class="k39" cx="336.4" cy="93.5" r="1.9"/>
<circle class="k18" cx="275.9" cy="94.3" r="1.9"/>
<circle class="k0" cx="269.6" cy="96.9" r="1.9"/>
<circle class="k18" cx="278.0" cy="89.5" r="1.9"/>
<circle class="k1" cx="268.2" cy="93.1" r="1.9"/>
<circle class="k0" cx="258.4" cy="92.7" r="1.9"/>
<circle class="k18" cx="280.0" cy="93.0" r="1.9"/>
<circle class="k4" cx="270.8" cy="99.0" r="1.9"/>
<circle class="k39" cx="329.9" cy="93.5" r="1.9"/>
<circle class="k38" cx="311.6" cy="92.0" r="1.9"/>
<circle class="k16" cx="273.8" cy="92.9" r="1.9"/>
<circle class="k19" cx="279.1" cy="92.8" r="1.9"/>
<circle class="k39" cx="347.9" cy="93.2" r="1.9"/>
<circle class="k39" cx="320.2" cy="93.5" r="1.9"/>
<circle class="k15" cx="277.0" cy="90.4" r="1.9"/>
<circle class="k39" cx="352.3" cy="93.1" r="1.9"/>
<circle class="k28" cx="298.6" cy="93.4" r="1.9"/>
<circle class="k15" cx="283.3" cy="91.5" r="1.9"/>
<circle class="k39" cx="341.6" cy="93.2" r="1.9"/>
<circle class="k28" cx="294.7" cy="92.1" r="1.9"/>
<circle class="k39" cx="361.4" cy="91.9" r="1.9"/>
<circle class="k39" cx="332.9" cy="93.4" r="1.9"/>
<circle class="k39" cx="339.6" cy="93.2" r="1.9"/>
<circle class="k13" cx="275.2" cy="87.4" r="1.9"/>
<circle class="k39" cx="323.8" cy="93.6" r="1.9"/>
<circle class="k19" cx="279.7" cy="94.4" r="1.9"/>
<circle class="k1" cx="269.4" cy="100.9" r="1.9"/>
<circle class="k39" cx="331.9" cy="92.1" r="1.9"/>
<circle class="k18" cx="282.7" cy="93.6" r="1.9"/>
<circle class="k25" cx="289.7" cy="93.8" r="1.9"/>
<circle class="k18" cx="280.4" cy="90.5" r="1.9"/>
<circle class="k1" cx="269.5" cy="83.2" r="1.9"/>
<circle class="k1" cx="272.0" cy="101.3" r="1.9"/>
<circle class="k3" cx="271.0" cy="82.0" r="1.9"/>
<circle class="k39" cx="360.8" cy="92.1" r="1.9"/>
<circle class="k15" cx="274.5" cy="93.9" r="1.9"/>
<circle class="k13" cx="274.0" cy="89.7" r="1.9"/>
<circle class="k39" cx="358.6" cy="92.2" r="1.9"/>
<circle class="k0" cx="266.2" cy="92.6" r="1.9"/>
<circle class="k15" cx="274.6" cy="91.4" r="1.9"/>
<circle class="k2" cx="269.9" cy="82.0" r="1.9"/>
<circle class="k25" cx="293.9" cy="93.8" r="1.9"/>
<circle class="k14" cx="276.2" cy="87.6" r="1.9"/>
<circle class="k1" cx="268.9" cy="90.8" r="1.9"/>
<circle class="k15" cx="274.6" cy="89.4" r="1.9"/>
<circle class="k0" cx="270.4" cy="92.4" r="1.9"/>
<circle class="k17" cx="275.2" cy="90.5" r="1.9"/>
<circle class="k0" cx="257.9" cy="92.7" r="1.9"/>
<circle class="k1" cx="268.6" cy="89.9" r="1.9"/>
<circle class="k4" cx="271.3" cy="103.3" r="1.9"/>
<circle class="k12" cx="272.4" cy="102.1" r="1.9"/>
<circle class="k39" cx="366.6" cy="92.1" r="1.9"/>
<circle class="k18" cx="278.5" cy="89.7" r="1.9"/>
<circle class="k7" cx="271.2" cy="99.8" r="1.9"/>
<circle class="k1" cx="270.5" cy="101.3" r="1.9"/>
<circle class="k39" cx="334.6" cy="93.7" r="1.9"/>
<circle class="k0" cx="266.4" cy="89.6" r="1.9"/>
<circle class="k6" cx="271.1" cy="91.0" r="1.9"/>
<circle class="k15" cx="274.0" cy="86.0" r="1.9"/>
<circle class="k16" cx="276.2" cy="91.2" r="1.9"/>
<circle class="k39" cx="310.4" cy="93.7" r="1.9"/>
<circle class="k39" cx="318.0" cy="92.0" r="1.9"/>
<circle class="k38" cx="315.8" cy="92.1" r="1.9"/>
<circle class="k7" cx="271.3" cy="98.1" r="1.9"/>
<circle class="k1" cx="268.2" cy="86.9" r="1.9"/>
<circle class="k39" cx="350.7" cy="93.6" r="1.9"/>
<circle class="k23" cx="293.5" cy="91.9" r="1.9"/>
<circle class="k39" cx="369.5" cy="92.9" r="1.9"/>
<circle class="k0" cx="269.0" cy="98.6" r="1.9"/>
<circle class="k6" cx="271.1" cy="86.5" r="1.9"/>
<circle class="k38" cx="364.2" cy="93.4" r="1.9"/>
<circle class="k34" cx="304.0" cy="92.2" r="1.9"/>
<circle class="k39" cx="339.3" cy="93.7" r="1.9"/>
<circle class="k22" cx="287.7" cy="92.8" r="1.9"/>
<circle class="k23" cx="295.7" cy="91.9" r="1.9"/>
<circle class="k1" cx="270.2" cy="93.4" r="1.9"/>
<circle class="k15" cx="272.9" cy="92.0" r="1.9"/>
<circle class="k0" cx="268.8" cy="95.5" r="1.9"/>
<circle class="k1" cx="270.4" cy="85.6" r="1.9"/>
<circle class="k16" cx="285.2" cy="92.6" r="1.9"/>
<circle class="k21" cx="288.7" cy="93.3" r="1.9"/>
<circle class="k39" cx="365.8" cy="92.2" r="1.9"/>
<circle class="k39" cx="370.5" cy="92.2" r="1.9"/>
<circle class="k33" cx="306.8" cy="93.5" r="1.9"/>
<circle class="k39" cx="363.4" cy="92.1" r="1.9"/>
<circle class="k13" cx="272.7" cy="93.1" r="1.9"/>
<circle class="k13" cx="272.7" cy="90.0" r="1.9"/>
<circle class="k17" cx="279.0" cy="91.0" r="1.9"/>
<circle class="k39" cx="319.6" cy="93.6" r="1.9"/>
<circle class="k1" cx="266.7" cy="90.5" r="1.9"/>
<circle class="k31" cx="300.7" cy="93.6" r="1.9"/>
<circle class="k0" cx="266.0" cy="87.1" r="1.9"/>
<circle class="k39" cx="354.6" cy="92.2" r="1.9"/>
<circle class="k39" cx="353.3" cy="91.9" r="1.9"/>
<circle class="k39" cx="317.6" cy="93.3" r="1.9"/>
<circle class="k15" cx="275.3" cy="88.3" r="1.9"/>
<circle class="k2" cx="268.5" cy="96.6" r="1.9"/>
<circle class="k1" cx="268.3" cy="88.3" r="1.9"/>
<circle class="k39" cx="324.8" cy="92.0" r="1.9"/>
<circle class="k14" cx="274.0" cy="91.9" r="1.9"/>
<circle class="k38" cx="321.4" cy="92.2" r="1.9"/>
<circle class="k15" cx="273.1" cy="94.5" r="1.9"/>
<circle class="k1" cx="270.4" cy="94.7" r="1.9"/>
<circle class="k39" cx="312.9" cy="93.5" r="1.9"/>
<circle class="k38" cx="326.3" cy="91.9" r="1.9"/>
<circle class="k1" cx="268.6" cy="94.1" r="1.9"/>
<circle class="k11" cx="271.9" cy="82.0" r="1.9"/>
<circle class="k39" cx="346.3" cy="92.3" r="1.9"/>
<circle class="k19" cx="283.7" cy="93.5" r="1.9"/>
<circle class="k30" cx="297.3" cy="92.2" r="1.9"/>
<circle class="k22" cx="289.6" cy="93.5" r="1.9"/>
<circle class="k14" cx="272.3" cy="94.1" r="1.9"/>
<circle class="k32" cx="302.7" cy="93.6" r="1.9"/>
<circle class="k25" cx="292.6" cy="92.1" r="1.9"/>
<circle class="k38" cx="319.0" cy="93.6" r="1.9"/>
<circle class="k0" cx="266.3" cy="90.5" r="1.9"/>
<circle class="k2" cx="267.7" cy="96.0" r="1.9"/>
<circle class="k19" cx="277.2" cy="89.6" r="1.9"/>
<circle class="k37" cx="299.1" cy="93.3" r="1.9"/>
<circle class="k19" cx="277.9" cy="92.8" r="1.9"/>
<circle class="k39" cx="325.1" cy="93.4" r="1.9"/>
<circle class="k27" cx="300.5" cy="91.8" r="1.9"/>
<circle class="k38" cx="349.7" cy="93.4" r="1.9"/>
<circle class="k18" cx="275.8" cy="98.8" r="1.9"/>
<circle class="k9" cx="271.9" cy="87.5" r="1.9"/>
<circle class="k0" cx="269.6" cy="91.3" r="1.9"/>
<circle class="k5" cx="271.3" cy="88.8" r="1.9"/>
<circle class="k17" cx="275.3" cy="99.3" r="1.9"/>
<circle class="k37" cx="324.5" cy="93.7" r="1.9"/>
<circle class="k1" cx="262.8" cy="92.7" r="1.9"/>
<circle class="k39" cx="325.7" cy="92.0" r="1.9"/>
<circle class="k39" cx="344.1" cy="93.4" r="1.9"/>
<circle class="k39" cx="364.2" cy="92.0" r="1.9"/>
<circle class="k39" cx="332.8" cy="92.2" r="1.9"/>
<circle class="k35" cx="307.8" cy="93.4" r="1.9"/>
<circle class="k39" cx="355.8" cy="92.1" r="1.9"/>
<circle class="k17" cx="275.7" cy="97.5" r="1.9"/>
<circle class="k39" cx="370.5" cy="93.0" r="1.9"/>
<circle class="k29" cx="295.4" cy="93.3" r="1.9"/>
<circle class="k37" cx="305.6" cy="92.1" r="1.9"/>
<circle class="k5" cx="271.2" cy="84.6" r="1.9"/>
<circle class="k38" cx="353.7" cy="92.3" r="1.9"/>
<circle class="k6" cx="271.1" cy="83.2" r="1.9"/>
<circle class="k38" cx="318.8" cy="91.8" r="1.9"/>
<circle class="k1" cx="270.0" cy="95.8" r="1.9"/>
<circle class="k14" cx="272.2" cy="85.7" r="1.9"/>
<circle class="k2" cx="269.9" cy="84.5" r="1.9"/>
<circle class="k1" cx="265.5" cy="92.5" r="1.9"/>
<circle class="k0" cx="267.4" cy="93.8" r="1.9"/>
<circle class="k0" cx="266.6" cy="97.2" r="1.9"/>
<circle class="k0" cx="269.9" cy="102.4" r="1.9"/>
<circle class="k39" cx="342.9" cy="92.2" r="1.9"/>
<circle class="k32" cx="301.1" cy="91.8" r="1.9"/>
<circle class="k32" cx="301.0" cy="93.8" r="1.9"/>
<circle class="k20" cx="278.7" cy="93.7" r="1.9"/>
<circle class="k20" cx="281.8" cy="91.9" r="1.9"/>
<circle class="k18" cx="278.8" cy="95.7" r="1.9"/>
<circle class="k13" cx="273.0" cy="89.9" r="1.9"/>
<circle class="k15" cx="273.8" cy="90.3" r="1.9"/>
<circle class="k17" cx="276.8" cy="91.7" r="1.9"/>
<circle class="k39" cx="321.4" cy="93.2" r="1.9"/>
<circle class="k19" cx="284.3" cy="92.6" r="1.9"/>
<circle class="k15" cx="275.7" cy="89.8" r="1.9"/>
<circle class="k39" cx="359.8" cy="91.9" r="1.9"/>
<circle class="k39" cx="353.4" cy="93.2" r="1.9"/>
<circle class="k13" cx="272.7" cy="84.5" r="1.9"/>
<circle class="k1" cx="265.6" cy="87.3" r="1.9"/>
<circle class="k0" cx="266.6" cy="91.6" r="1.9"/>
<circle class="k35" cx="309.4" cy="92.3" r="1.9"/>
<circle class="k38" cx="338.5" cy="92.1" r="1.9"/>
<circle class="k39" cx="344.6" cy="93.3" r="1.9"/>
<circle class="k2" cx="269.2" cy="97.5" r="1.9"/>
<circle class="k39" cx="359.3" cy="92.0" r="1.9"/>
<circle class="k38" cx="366.2" cy="93.0" r="1.9"/>
<circle class="k39" cx="312.1" cy="91.9" r="1.9"/>
<circle class="k13" cx="275.4" cy="94.7" r="1.9"/>
<circle class="k16" cx="274.5" cy="90.8" r="1.9"/>
<circle class="k39" cx="352.1" cy="92.2" r="1.9"/>
<circle class="k24" cx="293.7" cy="93.4" r="1.9"/>
<circle class="k14" cx="272.3" cy="89.1" r="1.9"/>
<circle class="k13" cx="274.7" cy="92.5" r="1.9"/>
<circle class="k20" cx="287.9" cy="92.1" r="1.9"/>
<circle class="k38" cx="326.9" cy="93.7" r="1.9"/>
<circle class="k17" cx="276.1" cy="96.6" r="1.9"/>
<circle class="k39" cx="354.2" cy="93.2" r="1.9"/>
<circle class="k0" cx="269.2" cy="94.3" r="1.9"/>
<circle class="k30" cx="298.9" cy="91.9" r="1.9"/>
<circle class="k12" cx="273.1" cy="100.7" r="1.9"/>
<circle class="k20" cx="287.5" cy="93.4" r="1.9"/>
<circle class="k20" cx="279.0" cy="91.5" r="1.9"/>
<circle class="k8" cx="272.0" cy="89.0" r="1.9"/>
<circle class="k20" cx="284.1" cy="91.7" r="1.9"/>
<circle class="k10" cx="271.5" cy="94.6" r="1.9"/>
<circle class="k1" cx="269.1" cy="90.1" r="1.9"/>
<circle class="k15" cx="276.1" cy="92.2" r="1.9"/>
<circle class="k39" cx="318.1" cy="93.5" r="1.9"/>
<circle class="k35" cx="305.2" cy="93.5" r="1.9"/>
<circle class="k39" cx="340.5" cy="91.8" r="1.9"/>
<circle class="k11" cx="273.5" cy="85.8" r="1.9"/>
<circle class="k20" cx="283.7" cy="91.9" r="1.9"/>
<circle class="k0" cx="267.6" cy="90.5" r="1.9"/>
<circle class="k22" cx="279.5" cy="89.6" r="1.9"/>
<circle class="k20" cx="281.2" cy="93.8" r="1.9"/>
<circle class="k23" cx="285.1" cy="93.9" r="1.9"/>
<circle class="k12" cx="272.9" cy="96.5" r="1.9"/>
<circle class="k8" cx="271.8" cy="97.9" r="1.9"/>
<circle class="k11" cx="272.0" cy="85.7" r="1.9"/>
<circle class="k39" cx="347.9" cy="91.8" r="1.9"/>
<circle class="k1" cx="270.3" cy="87.6" r="1.9"/>
<circle class="k12" cx="271.6" cy="100.2" r="1.9"/>
<circle class="k1" cx="267.4" cy="95.2" r="1.9"/>
<circle class="k5" cx="271.0" cy="90.2" r="1.9"/>
<circle class="k39" cx="314.1" cy="93.6" r="1.9"/>
<circle class="k39" cx="338.4" cy="93.5" r="1.9"/>
<circle class="k1" cx="267.0" cy="98.6" r="1.9"/>
<circle class="k11" cx="273.3" cy="95.5" r="1.9"/>
<circle class="k17" cx="280.0" cy="91.8" r="1.9"/>
<circle class="k0" cx="270.2" cy="86.8" r="1.9"/>
<circle class="k39" cx="347.1" cy="93.1" r="1.9"/>
<circle class="k6" cx="271.8" cy="95.5" r="1.9"/>
<circle class="k11" cx="273.2" cy="93.0" r="1.9"/>
<circle class="k1" cx="265.4" cy="96.2" r="1.9"/>
<circle class="k0" cx="267.6" cy="88.1" r="1.9"/>
<circle class="k35" cx="303.8" cy="93.3" r="1.9"/>
<circle class="k0" cx="270.5" cy="100.1" r="1.9"/>
<circle class="k39" cx="324.2" cy="92.1" r="1.9"/>
<circle class="k18" cx="278.2" cy="90.6" r="1.9"/>
<circle class="k13" cx="272.8" cy="100.0" r="1.9"/>
<circle class="k16" cx="275.2" cy="89.5" r="1.9"/>
<circle class="k6" cx="271.4" cy="85.3" r="1.9"/>
<circle class="k39" cx="357.3" cy="93.5" r="1.9"/>
<circle class="k17" cx="277.5" cy="90.7" r="1.9"/>
<circle class="k39" cx="364.7" cy="92.3" r="1.9"/>
<circle class="k12" cx="272.3" cy="92.4" r="1.9"/>
<circle class="k12" cx="271.6" cy="91.0" r="1.9"/>
<circle class="k22" cx="291.4" cy="93.8" r="1.9"/>
<circle class="k36" cx="306.0" cy="92.1" r="1.9"/>
<circle class="k39" cx="357.8" cy="92.3" r="1.9"/>
<circle class="k20" cx="279.5" cy="90.9" r="1.9"/>
<circle class="k38" cx="335.3" cy="91.9" r="1.9"/>
<circle class="k1" cx="269.7" cy="103.4" r="1.9"/>
<circle class="k17" cx="278.8" cy="95.1" r="1.9"/>
<circle class="k13" cx="271.7" cy="84.1" r="1.9"/>
<circle class="k19" cx="289.2" cy="92.0" r="1.9"/>
<circle class="k18" cx="281.8" cy="93.6" r="1.9"/>
<circle class="k39" cx="347.2" cy="92.0" r="1.9"/>
<circle class="k16" cx="275.6" cy="92.8" r="1.9"/>
<circle class="k38" cx="340.6" cy="93.7" r="1.9"/>
<circle class="k2" cx="269.1" cy="88.1" r="1.9"/>
<circle class="k39" cx="367.0" cy="93.2" r="1.9"/>
<circle class="k38" cx="358.8" cy="93.2" r="1.9"/>
<circle class="k39" cx="330.2" cy="92.3" r="1.9"/>
<circle class="k22" cx="290.0" cy="91.8" r="1.9"/>
<circle class="k1" cx="265.3" cy="89.4" r="1.9"/>
<circle class="k1" cx="267.1" cy="87.0" r="1.9"/>
<circle class="k21" cx="283.5" cy="92.7" r="1.9"/>
<circle class="k1" cx="268.8" cy="93.3" r="1.9"/>
<circle class="k28" cx="298.7" cy="92.2" r="1.9"/>
<circle class="k14" cx="274.3" cy="96.1" r="1.9"/>
<circle class="k39" cx="367.8" cy="93.0" r="1.9"/>
<circle class="k37" cx="346.8" cy="92.1" r="1.9"/>
<circle class="k1" cx="266.2" cy="91.6" r="1.9"/>
<circle class="k2" cx="270.3" cy="96.6" r="1.9"/>
<circle class="k19" cx="276.5" cy="89.5" r="1.9"/>
<circle class="k39" cx="320.5" cy="92.0" r="1.9"/>
<circle class="k0" cx="269.9" cy="98.9" r="1.9"/>
<circle class="k11" cx="272.0" cy="102.5" r="1.9"/>
<circle class="k39" cx="330.7" cy="92.2" r="1.9"/>
<circle class="k38" cx="367.0" cy="92.5" r="1.9"/>
<circle class="k38" cx="360.7" cy="93.2" r="1.9"/>
<circle class="k17" cx="276.1" cy="88.8" r="1.9"/>
<circle class="k7" cx="270.9" cy="101.3" r="1.9"/>
<circle class="k0" cx="265.2" cy="97.1" r="1.9"/>
<circle class="k2" cx="269.2" cy="86.7" r="1.9"/>
<circle class="k39" cx="355.7" cy="93.4" r="1.9"/>
<circle class="k38" cx="331.2" cy="93.4" r="1.9"/>
<circle class="k0" cx="264.8" cy="92.7" r="1.9"/>
<circle class="k24" cx="294.1" cy="91.8" r="1.9"/>
<circle class="k20" cx="286.7" cy="91.8" r="1.9"/>
<circle class="k39" cx="350.0" cy="93.5" r="1.9"/>
<circle class="k0" cx="269.5" cy="97.6" r="1.9"/>
<circle class="k1" cx="267.9" cy="86.7" r="1.9"/>
<circle class="k38" cx="349.9" cy="92.0" r="1.9"/>
<circle class="k39" cx="328.1" cy="93.6" r="1.9"/>
<circle class="k20" cx="287.6" cy="93.8" r="1.9"/>
<circle class="k38" cx="368.4" cy="93.4" r="1.9"/>
<circle class="k13" cx="273.3" cy="89.2" r="1.9"/>
<circle class="k37" cx="314.0" cy="91.8" r="1.9"/>
<circle class="k38" cx="336.8" cy="91.9" r="1.9"/>
<circle class="k18" cx="280.8" cy="91.7" r="1.9"/>
<circle class="k15" cx="274.9" cy="94.8" r="1.9"/>
<circle class="k26" cx="294.8" cy="93.5" r="1.9"/>
<circle class="k32" cx="301.7" cy="93.8" r="1.9"/>
<circle class="k13" cx="272.2" cy="101.3" r="1.9"/>
<circle class="k1" cx="270.5" cy="103.4" r="1.9"/>
<circle class="k1" cx="267.1" cy="89.1" r="1.9"/>
<circle class="k16" cx="279.4" cy="92.1" r="1.9"/>
<circle class="k39" cx="314.7" cy="92.2" r="1.9"/>
<circle class="k12" cx="272.3" cy="96.9" r="1.9"/>
<circle class="k13" cx="274.5" cy="98.0" r="1.9"/>
<circle class="k35" cx="303.6" cy="92.2" r="1.9"/>
<circle class="k39" cx="341.3" cy="91.9" r="1.9"/>
<circle class="k28" cx="296.4" cy="93.3" r="1.9"/>
<circle class="k16" cx="273.2" cy="87.6" r="1.9"/>
<circle class="k16" cx="274.7" cy="99.2" r="1.9"/>
<circle class="k13" cx="273.9" cy="88.5" r="1.9"/>
<circle class="k39" cx="334.0" cy="93.3" r="1.9"/>
<circle class="k37" cx="359.8" cy="93.5" r="1.9"/>
<circle class="k38" cx="312.3" cy="93.4" r="1.9"/>
<circle class="k1" cx="269.5" cy="85.7" r="1.9"/>
<circle class="k19" cx="279.7" cy="93.6" r="1.9"/>
<circle class="k12" cx="273.7" cy="95.1" r="1.9"/>
<circle class="k32" cx="300.1" cy="93.4" r="1.9"/>
<circle class="k21" cx="288.4" cy="92.9" r="1.9"/>
<circle class="k39" cx="335.0" cy="92.2" r="1.9"/>
<circle class="k39" cx="365.4" cy="93.1" r="1.9"/>
<circle class="k11" cx="272.7" cy="86.4" r="1.9"/>
<circle class="k27" cx="296.5" cy="92.1" r="1.9"/>
<circle class="k12" cx="271.7" cy="98.7" r="1.9"/>
<circle class="k1" cx="261.2" cy="92.7" r="1.9"/>
<circle class="k38" cx="345.3" cy="93.1" r="1.9"/>
<circle class="k14" cx="273.8" cy="98.2" r="1.9"/>
<circle class="k14" cx="274.0" cy="87.3" r="1.9"/>
<circle class="k13" cx="272.7" cy="98.9" r="1.9"/>
<circle class="k39" cx="335.5" cy="93.4" r="1.9"/>
<circle class="k39" cx="342.4" cy="93.3" r="1.9"/>
<circle class="k1" cx="269.4" cy="90.2" r="1.9"/>
<circle class="k11" cx="272.8" cy="83.1" r="1.9"/>
<circle class="k18" cx="277.9" cy="91.9" r="1.9"/>
<circle class="k0" cx="270.0" cy="99.9" r="1.9"/>
<circle class="k21" cx="288.8" cy="91.7" r="1.9"/>
<circle class="k39" cx="314.7" cy="93.7" r="1.9"/>
<circle class="k6" cx="271.1" cy="92.2" r="1.9"/>
<circle class="k38" cx="322.1" cy="92.2" r="1.9"/>
<circle class="k39" cx="330.5" cy="93.5" r="1.9"/>
<circle class="k16" cx="276.5" cy="94.0" r="1.9"/>
<circle class="k1" cx="269.8" cy="93.4" r="1.9"/>
<circle class="k38" cx="317.0" cy="92.0" r="1.9"/>
<circle class="k11" cx="272.3" cy="82.2" r="1.9"/>
<circle class="k15" cx="273.0" cy="83.7" r="1.9"/>
<circle class="k12" cx="271.7" cy="103.2" r="1.9"/>
<circle class="k22" cx="282.2" cy="94.0" r="1.9"/>
<circle class="k39" cx="310.4" cy="92.0" r="1.9"/>
<circle class="k1" cx="266.0" cy="95.0" r="1.9"/>
<circle class="k13" cx="274.7" cy="86.2" r="1.9"/>
<circle class="k1" cx="265.7" cy="88.1" r="1.9"/>
<circle class="k31" cx="306.0" cy="93.7" r="1.9"/>
<circle class="k1" cx="268.1" cy="98.7" r="1.9"/>
<circle class="k1" cx="266.1" cy="97.2" r="1.9"/>
<circle class="k34" cx="303.4" cy="93.7" r="1.9"/>
<circle class="k14" cx="273.5" cy="98.4" r="1.9"/>
<circle class="k11" cx="272.3" cy="91.2" r="1.9"/>
<circle class="k12" cx="271.6" cy="86.4" r="1.9"/>
<circle class="k16" cx="283.0" cy="92.7" r="1.9"/>
<circle class="k39" cx="355.2" cy="93.3" r="1.9"/>
<circle class="k39" cx="311.1" cy="92.1" r="1.9"/>
<circle class="k0" cx="267.7" cy="92.8" r="1.9"/>
<circle class="k39" cx="333.5" cy="91.8" r="1.9"/>
<circle class="k15" cx="274.0" cy="95.8" r="1.9"/>
<circle class="k39" cx="315.1" cy="93.3" r="1.9"/>
<circle class="k13" cx="272.9" cy="99.9" r="1.9"/>
<circle class="k38" cx="316.8" cy="92.2" r="1.9"/>
<circle class="k33" cx="304.5" cy="93.4" r="1.9"/>
<circle class="k37" cx="309.4" cy="93.7" r="1.9"/>
<circle class="k1" cx="265.6" cy="95.0" r="1.9"/>
<circle class="k11" cx="273.3" cy="101.7" r="1.9"/>
<circle class="k15" cx="274.7" cy="87.2" r="1.9"/>
<circle class="k12" cx="272.7" cy="103.6" r="1.9"/>
<circle class="k39" cx="344.5" cy="92.3" r="1.9"/>
<circle class="k39" cx="319.2" cy="91.7" r="1.9"/>
<circle class="k39" cx="364.8" cy="93.2" r="1.9"/>
<circle class="k14" cx="276.1" cy="86.3" r="1.9"/>
<circle class="k19" cx="278.1" cy="94.8" r="1.9"/>
<circle class="k3" cx="271.0" cy="95.3" r="1.9"/>
<circle class="k39" cx="350.8" cy="92.1" r="1.9"/>
<circle class="k17" cx="277.8" cy="96.1" r="1.9"/>
<circle class="k13" cx="272.0" cy="92.3" r="1.9"/>
<circle class="k36" cx="308.1" cy="92.1" r="1.9"/>
<circle class="k39" cx="328.3" cy="92.2" r="1.9"/>
<circle class="k1" cx="268.3" cy="97.4" r="1.9"/>
<circle class="k16" cx="276.6" cy="95.9" r="1.9"/>
<circle class="k39" cx="356.8" cy="93.1" r="1.9"/>
<circle class="k0" cx="267.8" cy="98.4" r="1.9"/>
<circle class="k36" cx="307.0" cy="92.0" r="1.9"/>
<circle class="k12" cx="273.0" cy="97.8" r="1.9"/>
<circle class="k1" cx="266.9" cy="88.2" r="1.9"/>
<circle class="k7" cx="271.0" cy="96.7" r="1.9"/>
<circle class="k39" cx="328.5" cy="93.2" r="1.9"/>
<circle class="k39" cx="361.3" cy="93.6" r="1.9"/>
<circle class="k39" cx="322.2" cy="93.4" r="1.9"/>
<circle class="k39" cx="337.0" cy="93.1" r="1.9"/>
<circle class="k9" cx="273.9" cy="99.6" r="1.9"/>
<circle class="k0" cx="270.3" cy="98.7" r="1.9"/>
<circle class="k3" cx="271.0" cy="102.3" r="1.9"/>
<circle class="k19" cx="282.3" cy="92.5" r="1.9"/>
<circle class="k28" cx="297.6" cy="92.2" r="1.9"/>
<circle class="k1" cx="270.5" cy="90.1" r="1.9"/>
<circle class="k30" cx="299.9" cy="92.1" r="1.9"/>
<circle class="k39" cx="354.8" cy="92.3" r="1.9"/>
<circle class="k17" cx="275.9" cy="93.3" r="1.9"/>
<circle class="k39" cx="337.5" cy="93.7" r="1.9"/>
<circle class="k39" cx="337.5" cy="91.8" r="1.9"/>
<circle class="k39" cx="329.1" cy="93.4" r="1.9"/>
<circle class="k12" cx="271.7" cy="96.9" r="1.9"/>
<circle class="k0" cx="271.1" cy="94.3" r="1.9"/>
<circle class="k38" cx="315.7" cy="93.2" r="1.9"/>
<circle class="k20" cx="282.0" cy="91.6" r="1.9"/>
<circle class="k39" cx="351.5" cy="91.9" r="1.9"/>
<circle class="k1" cx="266.3" cy="98.1" r="1.9"/>
<circle class="k1" cx="269.1" cy="96.6" r="1.9"/>
<circle class="k39" cx="359.0" cy="93.5" r="1.9"/>
<circle class="k39" cx="362.9" cy="92.3" r="1.9"/>
<circle class="k39" cx="369.2" cy="92.3" r="1.9"/>
<circle class="k2" cx="264.6" cy="92.8" r="1.9"/>
<circle class="k17" cx="280.5" cy="95.3" r="1.9"/>
<circle class="k23" cx="292.3" cy="93.5" r="1.9"/>
<circle class="k18" cx="277.7" cy="96.2" r="1.9"/>
<circle class="k14" cx="287.2" cy="91.7" r="1.9"/>
<circle class="k22" cx="286.0" cy="91.7" r="1.9"/>
<circle class="k16" cx="277.6" cy="95.2" r="1.9"/>
<circle class="k39" cx="327.5" cy="92.0" r="1.9"/>
<circle class="k39" cx="315.0" cy="92.1" r="1.9"/>
<circle class="k14" cx="275.4" cy="93.5" r="1.9"/>
<circle class="k28" cx="298.0" cy="93.3" r="1.9"/>
<circle class="k1" cx="266.8" cy="94.1" r="1.9"/>
<circle class="k1" cx="269.9" cy="87.8" r="1.9"/>
<circle class="k39" cx="333.7" cy="93.5" r="1.9"/>
<circle class="k39" cx="326.9" cy="92.0" r="1.9"/>
<circle class="k39" cx="341.8" cy="92.3" r="1.9"/>
<circle class="k39" cx="342.4" cy="92.0" r="1.9"/>
<circle class="k1" cx="264.0" cy="93.1" r="1.9"/>
<circle class="k1" cx="267.8" cy="91.8" r="1.9"/>
<circle class="k1" cx="270.6" cy="89.0" r="1.9"/>
<circle class="k39" cx="311.8" cy="93.5" r="1.9"/>
<circle class="k39" cx="363.5" cy="93.4" r="1.9"/>
<circle class="k39" cx="351.5" cy="93.3" r="1.9"/>
<circle class="k36" cx="304.7" cy="91.9" r="1.9"/>
<circle class="k18" cx="277.6" cy="92.8" r="1.9"/>
<circle class="k14" cx="276.5" cy="88.4" r="1.9"/>
<circle class="k24" cx="292.8" cy="93.6" r="1.9"/>
<circle class="k39" cx="329.0" cy="91.8" r="1.9"/>
<circle class="k17" cx="276.6" cy="97.4" r="1.9"/>
<circle class="k2" cx="270.9" cy="88.0" r="1.9"/>
<circle class="k12" cx="274.6" cy="97.0" r="1.9"/>
<circle class="k1" cx="270.2" cy="97.6" r="1.9"/>
<circle class="k1" cx="269.9" cy="92.4" r="1.9"/>
<circle class="k39" cx="367.5" cy="92.4" r="1.9"/>
<circle class="k17" cx="280.7" cy="92.6" r="1.9"/>
<circle class="k38" cx="310.7" cy="93.5" r="1.9"/>
<circle class="k18" cx="278.0" cy="93.6" r="1.9"/>
<circle class="k19" cx="281.5" cy="92.8" r="1.9"/>
<circle class="k1" cx="268.5" cy="89.3" r="1.9"/>
<circle class="k1" cx="266.1" cy="88.0" r="1.9"/>
<circle class="k9" cx="271.8" cy="93.2" r="1.9"/>
<circle class="k39" cx="343.2" cy="93.5" r="1.9"/>
<circle class="k39" cx="341.1" cy="93.1" r="1.9"/>
<circle class="k0" cx="266.4" cy="93.9" r="1.9"/>
<circle class="k1" cx="265.2" cy="93.6" r="1.9"/>
<circle class="k26" cx="297.0" cy="93.6" r="1.9"/>
<circle class="k22" cx="291.3" cy="91.8" r="1.9"/>
<circle class="k9" cx="272.0" cy="89.8" r="1.9"/>
<circle class="k16" cx="275.3" cy="91.7" r="1.9"/>
<circle class="k39" cx="316.3" cy="93.3" r="1.9"/>
<circle class="k24" cx="290.6" cy="93.3" r="1.9"/>
<circle class="k21" cx="286.5" cy="92.5" r="1.9"/>
<circle class="k6" cx="270.8" cy="93.4" r="1.9"/>
<circle class="k11" cx="272.7" cy="87.8" r="1.9"/>
<circle class="k38" cx="345.8" cy="93.2" r="1.9"/>
<circle class="k39" cx="339.6" cy="92.4" r="1.9"/>
<circle class="k3" cx="270.0" cy="86.5" r="1.9"/>
<circle class="k11" cx="273.2" cy="91.0" r="1.9"/>
<circle class="k39" cx="348.7" cy="92.2" r="1.9"/>
<circle class="k20" cx="284.1" cy="93.5" r="1.9"/>
<circle class="k39" cx="362.0" cy="92.3" r="1.9"/>
<circle class="k0" cx="263.1" cy="92.4" r="1.9"/>
<circle class="k39" cx="331.7" cy="93.3" r="1.9"/>
<circle class="k19" cx="277.5" cy="93.7" r="1.9"/>
<circle class="k38" cx="357.2" cy="92.2" r="1.9"/>
<circle class="k0" cx="268.1" cy="95.3" r="1.9"/>
<circle class="k0" cx="263.9" cy="92.8" r="1.9"/>
<circle class="k0" cx="260.8" cy="92.7" r="1.9"/>
<circle class="k0" cx="268.9" cy="92.3" r="1.9"/>
<circle class="k1" cx="267.0" cy="94.9" r="1.9"/>
<circle class="k14" cx="274.7" cy="88.6" r="1.9"/>
<circle class="k38" cx="345.3" cy="91.8" r="1.9"/>
<circle class="k39" cx="331.1" cy="91.9" r="1.9"/>
<circle class="k13" cx="275.3" cy="97.8" r="1.9"/>
<circle class="k23" cx="285.1" cy="91.7" r="1.9"/>
<circle class="k39" cx="325.6" cy="93.5" r="1.9"/>
<circle class="k39" cx="343.8" cy="92.3" r="1.9"/>
<circle class="k39" cx="320.7" cy="93.4" r="1.9"/>
<circle class="k39" cx="362.2" cy="93.3" r="1.9"/>
<circle class="k2" cx="270.3" cy="83.1" r="1.9"/>
<circle class="k14" cx="273.9" cy="93.9" r="1.9"/>
<circle class="k2" cx="268.7" cy="120.4" r="1.9"/>
<circle class="k10" cx="271.5" cy="130.8" r="1.9"/>
<circle class="k39" cx="283.5" cy="128.3" r="1.9"/>
<circle class="k1" cx="259.6" cy="119.8" r="1.9"/>
<circle class="k39" cx="288.4" cy="117.7" r="1.9"/>
<circle class="k1" cx="262.3" cy="122.8" r="1.9"/>
<circle class="k14" cx="273.2" cy="125.2" r="1.9"/>
<circle class="k1" cx="270.5" cy="125.5" r="1.9"/>
<circle class="k22" cx="276.8" cy="120.0" r="1.9"/>
<circle class="k1" cx="255.6" cy="121.4" r="1.9"/>
<circle class="k13" cx="272.9" cy="114.8" r="1.9"/>
<circle class="k7" cx="271.7" cy="118.8" r="1.9"/>
<circle class="k13" cx="273.2" cy="128.4" r="1.9"/>
<circle class="k1" cx="262.7" cy="119.7" r="1.9"/>
<circle class="k2" cx="268.7" cy="116.1" r="1.9"/>
<circle class="k0" cx="270.1" cy="122.0" r="1.9"/>
<circle class="k39" cx="292.4" cy="119.1" r="1.9"/>
<circle class="k36" cx="282.9" cy="115.1" r="1.9"/>
<circle class="k7" cx="272.1" cy="111.3" r="1.9"/>
<circle class="k14" cx="272.3" cy="123.3" r="1.9"/>
<circle class="k35" cx="280.6" cy="115.0" r="1.9"/>
<circle class="k0" cx="252.7" cy="120.8" r="1.9"/>
<circle class="k20" cx="274.9" cy="119.1" r="1.9"/>
<circle class="k37" cx="283.5" cy="125.7" r="1.9"/>
<circle class="k38" cx="280.0" cy="124.9" r="1.9"/>
<circle class="k21" cx="274.5" cy="121.0" r="1.9"/>
<circle class="k1" cx="268.0" cy="123.9" r="1.9"/>
<circle class="k0" cx="262.5" cy="121.6" r="1.9"/>
<circle class="k39" cx="295.0" cy="121.9" r="1.9"/>
<circle class="k0" cx="253.6" cy="120.5" r="1.9"/>
<circle class="k13" cx="272.2" cy="120.9" r="1.9"/>
<circle class="k37" cx="281.2" cy="123.6" r="1.9"/>
<circle class="k17" cx="275.0" cy="113.6" r="1.9"/>
<circle class="k1" cx="270.1" cy="132.0" r="1.9"/>
<circle class="k13" cx="273.6" cy="125.1" r="1.9"/>
<circle class="k38" cx="290.5" cy="124.2" r="1.9"/>
<circle class="k1" cx="261.6" cy="123.3" r="1.9"/>
<circle class="k0" cx="257.1" cy="121.3" r="1.9"/>
<circle class="k39" cx="286.4" cy="117.6" r="1.9"/>
<circle class="k2" cx="270.7" cy="118.6" r="1.9"/>
<circle class="k38" cx="285.5" cy="122.8" r="1.9"/>
<circle class="k37" cx="281.7" cy="119.6" r="1.9"/>
<circle class="k13" cx="272.3" cy="128.9" r="1.9"/>
<circle class="k14" cx="273.0" cy="130.8" r="1.9"/>
<circle class="k12" cx="273.3" cy="111.3" r="1.9"/>
<circle class="k39" cx="281.6" cy="114.0" r="1.9"/>
<circle class="k37" cx="284.3" cy="122.3" r="1.9"/>
<circle class="k39" cx="279.4" cy="124.8" r="1.9"/>
<circle class="k1" cx="262.2" cy="123.3" r="1.9"/>
<circle class="k39" cx="281.0" cy="120.5" r="1.9"/>
<circle class="k0" cx="270.0" cy="128.5" r="1.9"/>
<circle class="k21" cx="276.4" cy="120.8" r="1.9"/>
<circle class="k37" cx="286.5" cy="122.0" r="1.9"/>
<circle class="k1" cx="264.1" cy="122.6" r="1.9"/>
<circle class="k1" cx="270.0" cy="124.3" r="1.9"/>
<circle class="k20" cx="275.7" cy="114.8" r="1.9"/>
<circle class="k39" cx="291.4" cy="121.4" r="1.9"/>
<circle class="k34" cx="279.6" cy="117.3" r="1.9"/>
<circle class="k15" cx="274.3" cy="119.1" r="1.9"/>
<circle class="k1" cx="261.2" cy="123.6" r="1.9"/>
<circle class="k1" cx="266.7" cy="120.3" r="1.9"/>
<circle class="k13" cx="273.5" cy="128.5" r="1.9"/>
<circle class="k38" cx="289.0" cy="119.3" r="1.9"/>
<circle class="k0" cx="259.4" cy="121.0" r="1.9"/>
<circle class="k34" cx="278.8" cy="121.3" r="1.9"/>
<circle class="k37" cx="287.6" cy="123.4" r="1.9"/>
<circle class="k14" cx="272.9" cy="117.9" r="1.9"/>
<circle class="k38" cx="281.0" cy="122.5" r="1.9"/>
<circle class="k0" cx="266.5" cy="117.0" r="1.9"/>
<circle class="k36" cx="284.1" cy="121.0" r="1.9"/>
<circle class="k39" cx="293.8" cy="122.7" r="1.9"/>
<circle class="k0" cx="267.4" cy="126.1" r="1.9"/>
<circle class="k21" cx="275.9" cy="118.5" r="1.9"/>
<circle class="k1" cx="248.4" cy="121.0" r="1.9"/>
<circle class="k6" cx="271.6" cy="131.7" r="1.9"/>
<circle class="k38" cx="291.1" cy="118.1" r="1.9"/>
<circle class="k1" cx="264.7" cy="120.5" r="1.9"/>
<circle class="k29" cx="277.6" cy="121.3" r="1.9"/>
<circle class="k39" cx="283.1" cy="122.7" r="1.9"/>
<circle class="k12" cx="273.0" cy="123.8" r="1.9"/>
<circle class="k39" cx="285.7" cy="115.1" r="1.9"/>
<circle class="k36" cx="282.0" cy="120.5" r="1.9"/>
<circle class="k0" cx="268.3" cy="125.9" r="1.9"/>
<circle class="k37" cx="279.1" cy="122.1" r="1.9"/>
<circle class="k37" cx="285.8" cy="121.8" r="1.9"/>
<circle class="k22" cx="276.3" cy="124.4" r="1.9"/>
<circle class="k1" cx="256.8" cy="120.3" r="1.9"/>
<circle class="k1" cx="270.0" cy="123.3" r="1.9"/>
<circle class="k22" cx="276.6" cy="123.3" r="1.9"/>
<circle class="k38" cx="287.8" cy="122.0" r="1.9"/>
<circle class="k10" cx="271.4" cy="128.7" r="1.9"/>
<circle class="k39" cx="294.3" cy="120.6" r="1.9"/>
<circle class="k33" cx="278.4" cy="124.8" r="1.9"/>
<circle class="k2" cx="265.0" cy="124.8" r="1.9"/>
<circle class="k16" cx="274.7" cy="128.3" r="1.9"/>
<circle class="k11" cx="273.1" cy="129.5" r="1.9"/>
<circle class="k39" cx="293.4" cy="122.4" r="1.9"/>
<circle class="k36" cx="279.5" cy="123.4" r="1.9"/>
<circle class="k15" cx="275.1" cy="115.9" r="1.9"/>
<circle class="k1" cx="268.2" cy="118.1" r="1.9"/>
<circle class="k32" cx="282.0" cy="115.1" r="1.9"/>
<circle class="k39" cx="282.7" cy="128.3" r="1.9"/>
<circle class="k35" cx="283.3" cy="115.1" r="1.9"/>
<circle class="k8" cx="271.4" cy="117.7" r="1.9"/>
<circle class="k2" cx="269.4" cy="132.0" r="1.9"/>
<circle class="k11" cx="272.6" cy="116.5" r="1.9"/>
<circle class="k1" cx="262.3" cy="118.2" r="1.9"/>
<circle class="k5" cx="270.8" cy="128.6" r="1.9"/>
<circle class="k1" cx="268.3" cy="116.0" r="1.9"/>
<circle class="k0" cx="247.4" cy="121.0" r="1.9"/>
<circle class="k25" cx="276.9" cy="120.7" r="1.9"/>
<circle class="k35" cx="278.3" cy="120.0" r="1.9"/>
<circle class="k39" cx="284.7" cy="120.3" r="1.9"/>
<circle class="k38" cx="291.9" cy="118.7" r="1.9"/>
<circle class="k1" cx="269.0" cy="124.8" r="1.9"/>
<circle class="k1" cx="269.0" cy="121.4" r="1.9"/>
<circle class="k0" cx="256.0" cy="120.8" r="1.9"/>
<circle class="k18" cx="274.7" cy="125.4" r="1.9"/>
<circle class="k2" cx="270.0" cy="110.1" r="1.9"/>
<circle class="k38" cx="282.5" cy="114.1" r="1.9"/>
<circle class="k1" cx="251.5" cy="121.0" r="1.9"/>
<circle class="k38" cx="282.3" cy="127.9" r="1.9"/>
<circle class="k37" cx="279.4" cy="118.6" r="1.9"/>
<circle class="k35" cx="283.4" cy="122.9" r="1.9"/>
<circle class="k1" cx="269.5" cy="112.1" r="1.9"/>
<circle class="k39" cx="293.1" cy="119.6" r="1.9"/>
<circle class="k17" cx="274.8" cy="126.1" r="1.9"/>
<circle class="k0" cx="248.9" cy="121.0" r="1.9"/>
<circle class="k38" cx="282.1" cy="124.8" r="1.9"/>
<circle class="k39" cx="286.3" cy="116.9" r="1.9"/>
<circle class="k1" cx="271.5" cy="116.7" r="1.9"/>
<circle class="k39" cx="280.0" cy="121.9" r="1.9"/>
<circle class="k1" cx="271.0" cy="114.5" r="1.9"/>
<circle class="k4" cx="270.6" cy="130.6" r="1.9"/>
<circle class="k14" cx="274.4" cy="119.7" r="1.9"/>
<circle class="k32" cx="278.7" cy="122.4" r="1.9"/>
<circle class="k16" cx="273.7" cy="120.7" r="1.9"/>
<circle class="k14" cx="272.9" cy="125.8" r="1.9"/>
<circle class="k0" cx="259.3" cy="121.4" r="1.9"/>
<circle class="k35" cx="288.2" cy="124.2" r="1.9"/>
<circle class="k38" cx="286.5" cy="126.2" r="1.9"/>
<circle class="k10" cx="272.1" cy="127.3" r="1.9"/>
<circle class="k38" cx="292.7" cy="123.2" r="1.9"/>
<circle class="k16" cx="274.2" cy="115.8" r="1.9"/>
<circle class="k24" cx="277.0" cy="124.6" r="1.9"/>
<circle class="k36" cx="289.0" cy="121.7" r="1.9"/>
<circle class="k38" cx="285.8" cy="123.5" r="1.9"/>
<circle class="k12" cx="272.9" cy="122.8" r="1.9"/>
<circle class="k1" cx="267.7" cy="121.7" r="1.9"/>
<circle class="k1" cx="261.7" cy="120.7" r="1.9"/>
<circle class="k38" cx="289.0" cy="124.0" r="1.9"/>
<circle class="k4" cx="270.9" cy="122.9" r="1.9"/>
<circle class="k29" cx="278.1" cy="117.4" r="1.9"/>
<circle class="k1" cx="263.3" cy="119.5" r="1.9"/>
<circle class="k37" cx="291.2" cy="122.5" r="1.9"/>
<circle class="k38" cx="282.3" cy="123.7" r="1.9"/>
<circle class="k15" cx="273.4" cy="115.4" r="1.9"/>
<circle class="k35" cx="278.5" cy="123.1" r="1.9"/>
<circle class="k36" cx="280.3" cy="122.8" r="1.9"/>
<circle class="k37" cx="278.7" cy="118.5" r="1.9"/>
<circle class="k15" cx="274.3" cy="126.6" r="1.9"/>
<circle class="k1" cx="261.1" cy="119.5" r="1.9"/>
<circle class="k39" cx="289.1" cy="118.2" r="1.9"/>
<circle class="k0" cx="271.1" cy="110.0" r="1.9"/>
<circle class="k1" cx="265.2" cy="123.4" r="1.9"/>
<circle class="k38" cx="281.4" cy="126.0" r="1.9"/>
<circle class="k1" cx="269.3" cy="113.4" r="1.9"/>
<circle class="k0" cx="267.6" cy="125.1" r="1.9"/>
<circle class="k39" cx="286.0" cy="125.7" r="1.9"/>
<circle class="k2" cx="271.1" cy="113.4" r="1.9"/>
<circle class="k22" cx="277.4" cy="123.1" r="1.9"/>
<circle class="k38" cx="286.1" cy="123.3" r="1.9"/>
<circle class="k38" cx="283.0" cy="116.0" r="1.9"/>
<circle class="k11" cx="272.2" cy="118.7" r="1.9"/>
<circle class="k39" cx="285.0" cy="126.4" r="1.9"/>
<circle class="k17" cx="274.9" cy="120.2" r="1.9"/>
<circle class="k1" cx="266.6" cy="125.7" r="1.9"/>
<circle class="k39" cx="290.0" cy="121.2" r="1.9"/>
<circle class="k38" cx="285.4" cy="119.6" r="1.9"/>
<circle class="k15" cx="274.6" cy="117.9" r="1.9"/>
<circle class="k39" cx="289.8" cy="123.4" r="1.9"/>
<circle class="k36" cx="285.5" cy="115.9" r="1.9"/>
<circle class="k37" cx="289.3" cy="120.2" r="1.9"/>
<circle class="k35" cx="284.3" cy="114.3" r="1.9"/>
<circle class="k0" cx="270.2" cy="120.9" r="1.9"/>
<circle class="k2" cx="265.8" cy="120.7" r="1.9"/>
<circle class="k0" cx="260.3" cy="120.9" r="1.9"/>
<circle class="k22" cx="276.0" cy="126.2" r="1.9"/>
<circle class="k1" cx="270.4" cy="115.7" r="1.9"/>
<circle class="k2" cx="271.1" cy="111.4" r="1.9"/>
<circle class="k37" cx="287.0" cy="125.0" r="1.9"/>
<circle class="k37" cx="285.0" cy="118.3" r="1.9"/>
<circle class="k0" cx="266.0" cy="126.0" r="1.9"/>
<circle class="k1" cx="271.1" cy="122.0" r="1.9"/>
<circle class="k39" cx="291.2" cy="119.2" r="1.9"/>
<circle class="k15" cx="273.8" cy="118.7" r="1.9"/>
<circle class="k18" cx="276.0" cy="126.9" r="1.9"/>
<circle class="k37" cx="290.4" cy="122.1" r="1.9"/>
<circle class="k37" cx="280.9" cy="117.3" r="1.9"/>
<circle class="k34" cx="285.7" cy="117.0" r="1.9"/>
<circle class="k39" cx="284.9" cy="119.2" r="1.9"/>
<circle class="k36" cx="286.9" cy="118.0" r="1.9"/>
<circle class="k36" cx="282.0" cy="115.9" r="1.9"/>
<circle class="k2" cx="270.2" cy="114.6" r="1.9"/>
<circle class="k39" cx="284.9" cy="114.6" r="1.9"/>
<circle class="k31" cx="277.7" cy="119.8" r="1.9"/>
<circle class="k39" cx="287.8" cy="121.2" r="1.9"/>
<circle class="k36" cx="280.5" cy="126.1" r="1.9"/>
<circle class="k37" cx="281.8" cy="117.4" r="1.9"/>
<circle class="k39" cx="288.3" cy="123.4" r="1.9"/>
<circle class="k7" cx="271.5" cy="120.9" r="1.9"/>
<circle class="k16" cx="274.0" cy="123.1" r="1.9"/>
<circle class="k0" cx="261.7" cy="121.7" r="1.9"/>
<circle class="k38" cx="281.0" cy="128.4" r="1.9"/>
<circle class="k39" cx="284.4" cy="116.8" r="1.9"/>
<circle class="k36" cx="283.5" cy="126.8" r="1.9"/>
<circle class="k38" cx="281.7" cy="117.4" r="1.9"/>
<circle class="k1" cx="269.5" cy="114.6" r="1.9"/>
<circle class="k1" cx="265.2" cy="116.5" r="1.9"/>
<circle class="k2" cx="265.4" cy="120.8" r="1.9"/>
<circle class="k0" cx="269.0" cy="117.3" r="1.9"/>
<circle class="k24" cx="277.5" cy="117.6" r="1.9"/>
<circle class="k11" cx="273.3" cy="112.8" r="1.9"/>
<circle class="k15" cx="274.6" cy="114.7" r="1.9"/>
<circle class="k36" cx="289.3" cy="117.3" r="1.9"/>
<circle class="k38" cx="294.2" cy="119.8" r="1.9"/>
<circle class="k11" cx="272.7" cy="121.4" r="1.9"/>
<circle class="k1" cx="255.1" cy="121.0" r="1.9"/>
<circle class="k1" cx="269.6" cy="125.5" r="1.9"/>
<circle class="k1" cx="270.3" cy="118.9" r="1.9"/>
<circle class="k39" cx="290.4" cy="120.2" r="1.9"/>
<circle class="k38" cx="281.4" cy="121.4" r="1.9"/>
<circle class="k38" cx="280.5" cy="121.7" r="1.9"/>
<circle class="k1" cx="261.2" cy="120.9" r="1.9"/>
<circle class="k38" cx="293.1" cy="120.3" r="1.9"/>
<circle class="k0" cx="268.0" cy="122.4" r="1.9"/>
<circle class="k34" cx="286.8" cy="117.0" r="1.9"/>
<circle class="k9" cx="272.0" cy="125.2" r="1.9"/>
<circle class="k39" cx="284.3" cy="123.4" r="1.9"/>
<circle class="k0" cx="252.4" cy="121.3" r="1.9"/>
<circle class="k1" cx="266.6" cy="118.1" r="1.9"/>
<circle class="k39" cx="284.9" cy="124.8" r="1.9"/>
<circle class="k1" cx="266.9" cy="124.5" r="1.9"/>
<circle class="k36" cx="282.8" cy="125.7" r="1.9"/>
<circle class="k19" cx="275.6" cy="120.3" r="1.9"/>
<circle class="k21" cx="275.9" cy="124.9" r="1.9"/>
<circle class="k36" cx="283.7" cy="118.6" r="1.9"/>
<circle class="k0" cx="269.3" cy="120.9" r="1.9"/>
<circle class="k14" cx="273.9" cy="116.9" r="1.9"/>
<circle class="k0" cx="268.6" cy="118.1" r="1.9"/>
<circle class="k13" cx="272.4" cy="109.9" r="1.9"/>
<circle class="k39" cx="283.7" cy="119.3" r="1.9"/>
<circle class="k0" cx="267.2" cy="116.0" r="1.9"/>
<circle class="k9" cx="272.3" cy="119.7" r="1.9"/>
<circle class="k0" cx="254.6" cy="121.2" r="1.9"/>
<circle class="k1" cx="269.5" cy="116.7" r="1.9"/>
<circle class="k11" cx="272.2" cy="129.6" r="1.9"/>
<circle class="k1" cx="261.2" cy="118.7" r="1.9"/>
<circle class="k38" cx="281.7" cy="118.1" r="1.9"/>
<circle class="k36" cx="284.2" cy="119.9" r="1.9"/>
<circle class="k39" cx="287.0" cy="116.1" r="1.9"/>
<circle class="k1" cx="268.0" cy="125.1" r="1.9"/>
<circle class="k37" cx="282.9" cy="117.3" r="1.9"/>
<circle class="k38" cx="282.7" cy="120.2" r="1.9"/>
<circle class="k0" cx="265.2" cy="122.3" r="1.9"/>
<circle class="k20" cx="276.0" cy="116.2" r="1.9"/>
<circle class="k37" cx="280.7" cy="114.2" r="1.9"/>
<circle class="k14" cx="273.7" cy="119.9" r="1.9"/>
<circle class="k0" cx="260.0" cy="122.2" r="1.9"/>
<circle class="k15" cx="274.0" cy="122.0" r="1.9"/>
<circle class="k38" cx="285.0" cy="122.9" r="1.9"/>
<circle class="k26" cx="278.1" cy="124.5" r="1.9"/>
<circle class="k34" cx="280.4" cy="115.8" r="1.9"/>
<circle class="k1" cx="263.3" cy="118.3" r="1.9"/>
<circle class="k24" cx="276.9" cy="120.1" r="1.9"/>
<circle class="k20" cx="275.6" cy="123.7" r="1.9"/>
<circle class="k16" cx="274.6" cy="123.2" r="1.9"/>
<circle class="k5" cx="271.7" cy="125.2" r="1.9"/>
<circle class="k0" cx="267.2" cy="119.6" r="1.9"/>
<circle class="k37" cx="286.7" cy="119.1" r="1.9"/>
<circle class="k36" cx="283.4" cy="116.0" r="1.9"/>
<circle class="k1" cx="252.0" cy="121.0" r="1.9"/>
<circle class="k37" cx="280.2" cy="120.5" r="1.9"/>
<circle class="k31" cx="278.1" cy="122.4" r="1.9"/>
<circle class="k0" cx="254.0" cy="121.6" r="1.9"/>
<circle class="k1" cx="270.3" cy="130.0" r="1.9"/>
<circle class="k39" cx="287.7" cy="116.2" r="1.9"/>
<circle class="k0" cx="266.9" cy="116.0" r="1.9"/>
<circle class="k0" cx="257.4" cy="120.8" r="1.9"/>
<circle class="k2" cx="269.3" cy="110.1" r="1.9"/>
<circle class="k30" cx="278.0" cy="123.6" r="1.9"/>
<circle class="k18" cx="274.1" cy="116.8" r="1.9"/>
<circle class="k2" cx="267.2" cy="117.5" r="1.9"/>
<circle class="k16" cx="274.6" cy="113.3" r="1.9"/>
<circle class="k8" cx="271.6" cy="114.3" r="1.9"/>
<circle class="k1" cx="253.1" cy="121.3" r="1.9"/>
<circle class="k38" cx="282.1" cy="118.1" r="1.9"/>
<circle class="k0" cx="256.5" cy="121.2" r="1.9"/>
<circle class="k0" cx="267.1" cy="123.5" r="1.9"/>
<circle class="k0" cx="271.2" cy="131.8" r="1.9"/>
<circle class="k38" cx="281.6" cy="126.7" r="1.9"/>
<circle class="k37" cx="286.2" cy="124.2" r="1.9"/>
<circle class="k2" cx="247.7" cy="121.0" r="1.9"/>
<circle class="k38" cx="286.8" cy="126.0" r="1.9"/>
<circle class="k1" cx="268.0" cy="120.5" r="1.9"/>
<circle class="k39" cx="282.2" cy="126.1" r="1.9"/>
<circle class="k0" cx="270.0" cy="117.0" r="1.9"/>
<circle class="k1" cx="263.6" cy="119.4" r="1.9"/>
<circle class="k24" cx="276.8" cy="122.2" r="1.9"/>
<circle class="k8" cx="271.7" cy="123.0" r="1.9"/>
<circle class="k1" cx="259.1" cy="120.5" r="1.9"/>
<circle class="k16" cx="274.5" cy="124.4" r="1.9"/>
<circle class="k2" cx="263.4" cy="122.6" r="1.9"/>
<circle class="k39" cx="287.2" cy="120.5" r="1.9"/>
<circle class="k38" cx="291.2" cy="120.4" r="1.9"/>
<circle class="k2" cx="271.1" cy="115.8" r="1.9"/>
<circle class="k38" cx="290.5" cy="118.7" r="1.9"/>
<circle class="k7" cx="271.7" cy="115.7" r="1.9"/>
<circle class="k36" cx="280.5" cy="126.9" r="1.9"/>
<circle class="k36" cx="283.3" cy="113.7" r="1.9"/>
<circle class="k39" cx="290.0" cy="117.4" r="1.9"/>
<circle class="k38" cx="279.2" cy="119.6" r="1.9"/>
<circle class="k12" cx="273.8" cy="127.6" r="1.9"/>
<circle class="k1" cx="263.9" cy="123.7" r="1.9"/>
<circle class="k1" cx="266.5" cy="123.4" r="1.9"/>
<circle class="k23" cx="276.4" cy="118.5" r="1.9"/>
<circle class="k38" cx="284.2" cy="117.9" r="1.9"/>
<circle class="k13" cx="273.2" cy="115.8" r="1.9"/>
<circle class="k2" cx="264.6" cy="118.0" r="1.9"/>
<circle class="k0" cx="264.8" cy="121.4" r="1.9"/>
<circle class="k1" cx="270.0" cy="130.8" r="1.9"/>
<circle class="k7" cx="271.3" cy="111.3" r="1.9"/>
<circle class="k39" cx="284.7" cy="123.8" r="1.9"/>
<circle class="k39" cx="292.4" cy="121.0" r="1.9"/>
<circle class="k1" cx="264.3" cy="122.6" r="1.9"/>
<circle class="k11" cx="272.5" cy="126.6" r="1.9"/>
<circle class="k20" cx="276.0" cy="119.3" r="1.9"/>
<circle class="k38" cx="290.1" cy="119.9" r="1.9"/>
<circle class="k38" cx="279.8" cy="117.1" r="1.9"/>
<circle class="k24" cx="277.1" cy="118.8" r="1.9"/>
<circle class="k38" cx="288.9" cy="125.1" r="1.9"/>
<circle class="k18" cx="275.0" cy="118.4" r="1.9"/>
<circle class="k0" cx="270.4" cy="126.2" r="1.9"/>
<circle class="k1" cx="263.8" cy="118.1" r="1.9"/>
<circle class="k20" cx="275.7" cy="121.5" r="1.9"/>
<circle class="k19" cx="275.3" cy="128.4" r="1.9"/>
<circle class="k37" cx="284.0" cy="126.8" r="1.9"/>
<circle class="k16" cx="274.1" cy="122.2" r="1.9"/>
<circle class="k37" cx="292.4" cy="121.8" r="1.9"/>
<circle class="k38" cx="285.6" cy="124.5" r="1.9"/>
<circle class="k1" cx="269.3" cy="128.8" r="1.9"/>
<circle class="k36" cx="281.9" cy="113.9" r="1.9"/>
<circle class="k16" cx="274.9" cy="123.6" r="1.9"/>
<circle class="k37" cx="280.8" cy="124.7" r="1.9"/>
<circle class="k23" cx="275.7" cy="117.4" r="1.9"/>
<circle class="k38" cx="282.5" cy="124.9" r="1.9"/>
<circle class="k1" cx="263.4" cy="121.5" r="1.9"/>
<circle class="k1" cx="265.4" cy="117.5" r="1.9"/>
<circle class="k38" cx="287.8" cy="125.7" r="1.9"/>
<circle class="k1" cx="270.9" cy="116.6" r="1.9"/>
<circle class="k0" cx="270.3" cy="112.1" r="1.9"/>
<circle class="k38" cx="292.0" cy="119.9" r="1.9"/>
<circle class="k16" cx="274.9" cy="127.1" r="1.9"/>
<circle class="k39" cx="286.1" cy="120.0" r="1.9"/>
<circle class="k38" cx="293.8" cy="121.4" r="1.9"/>
<circle class="k1" cx="270.4" cy="127.2" r="1.9"/>
<circle class="k20" cx="275.2" cy="122.9" r="1.9"/>
<circle class="k36" cx="281.2" cy="128.2" r="1.9"/>
<circle class="k0" cx="258.1" cy="120.8" r="1.9"/>
<circle class="k0" cx="255.4" cy="120.9" r="1.9"/>
<circle class="k39" cx="285.1" cy="116.1" r="1.9"/>
<circle class="k8" cx="272.5" cy="114.4" r="1.9"/>
<circle class="k3" cx="271.0" cy="120.8" r="1.9"/>
<circle class="k39" cx="284.2" cy="127.6" r="1.9"/>
<circle class="k35" cx="285.6" cy="120.5" r="1.9"/>
<circle class="k0" cx="262.1" cy="119.7" r="1.9"/>
<circle class="k1" cx="265.7" cy="121.7" r="1.9"/>
<circle class="k11" cx="273.2" cy="127.1" r="1.9"/>
<circle class="k1" cx="270.1" cy="111.3" r="1.9"/>
<circle class="k36" cx="280.9" cy="123.9" r="1.9"/>
<circle class="k1" cx="267.6" cy="122.7" r="1.9"/>
<circle class="k35" cx="281.2" cy="124.6" r="1.9"/>
<circle class="k6" cx="271.8" cy="113.3" r="1.9"/>
<circle class="k37" cx="288.3" cy="118.7" r="1.9"/>
<circle class="k7" cx="271.5" cy="122.0" r="1.9"/>
<circle class="k38" cx="287.1" cy="123.7" r="1.9"/>
<circle class="k1" cx="261.3" cy="122.3" r="1.9"/>
<circle class="k1" cx="269.3" cy="130.6" r="1.9"/>
<circle class="k36" cx="284.2" cy="115.2" r="1.9"/>
<circle class="k19" cx="273.7" cy="113.6" r="1.9"/>
<circle class="k10" cx="272.2" cy="112.5" r="1.9"/>
<circle class="k37" cx="290.3" cy="123.1" r="1.9"/>
<circle class="k38" cx="288.1" cy="122.3" r="1.9"/>
<circle class="k38" cx="281.1" cy="115.1" r="1.9"/>
<circle class="k15" cx="274.4" cy="127.5" r="1.9"/>
<circle class="k1" cx="269.7" cy="122.9" r="1.9"/>
<circle class="k1" cx="270.8" cy="120.0" r="1.9"/>
<circle class="k36" cx="291.0" cy="123.5" r="1.9"/>
<circle class="k0" cx="262.0" cy="118.7" r="1.9"/>
<circle class="k38" cx="291.7" cy="123.5" r="1.9"/>
<circle class="k1" cx="266.6" cy="122.6" r="1.9"/>
<circle class="k1" cx="265.5" cy="119.2" r="1.9"/>
<circle class="k39" cx="283.4" cy="117.1" r="1.9"/>
<circle class="k1" cx="269.5" cy="127.7" r="1.9"/>
<circle class="k37" cx="285.4" cy="127.2" r="1.9"/>
<circle class="k36" cx="290.5" cy="120.8" r="1.9"/>
<circle class="k39" cx="289.9" cy="124.3" r="1.9"/>
<circle class="k1" cx="263.7" cy="121.4" r="1.9"/>
<circle class="k37" cx="280.8" cy="118.1" r="1.9"/>
<circle class="k2" cx="269.7" cy="115.7" r="1.9"/>
<circle class="k6" cx="271.0" cy="125.6" r="1.9"/>
<circle class="k18" cx="275.1" cy="121.4" r="1.9"/>
<circle class="k1" cx="266.1" cy="116.1" r="1.9"/>
<circle class="k35" cx="288.5" cy="125.3" r="1.9"/>
<circle class="k0" cx="268.5" cy="119.6" r="1.9"/>
<circle class="k0" cx="263.2" cy="120.5" r="1.9"/>
<circle class="k1" cx="267.2" cy="118.4" r="1.9"/>
<circle class="k1" cx="263.4" cy="123.4" r="1.9"/>
<circle class="k2" cx="266.0" cy="122.4" r="1.9"/>
<circle class="k38" cx="280.7" cy="119.5" r="1.9"/>
<circle class="k39" cx="288.5" cy="116.6" r="1.9"/>
<circle class="k37" cx="287.2" cy="122.9" r="1.9"/>
<circle class="k7" cx="272.3" cy="113.3" r="1.9"/>
<circle class="k1" cx="262.4" cy="120.5" r="1.9"/>
<circle class="k1" cx="264.3" cy="119.5" r="1.9"/>
<circle class="k1" cx="270.0" cy="113.2" r="1.9"/>
<circle class="k36" cx="280.3" cy="123.7" r="1.9"/>
<circle class="k0" cx="260.6" cy="120.0" r="1.9"/>
<circle class="k29" cx="277.6" cy="118.7" r="1.9"/>
<circle class="k37" cx="282.2" cy="121.3" r="1.9"/>
<circle class="k0" cx="254.2" cy="120.6" r="1.9"/>
<circle class="k1" cx="260.3" cy="122.4" r="1.9"/>
<circle class="k1" cx="266.0" cy="124.9" r="1.9"/>
<circle class="k39" cx="286.4" cy="120.9" r="1.9"/>
<circle class="k38" cx="281.2" cy="116.1" r="1.9"/>
<circle class="k35" cx="282.8" cy="119.3" r="1.9"/>
<circle class="k10" cx="272.5" cy="131.9" r="1.9"/>
<circle class="k37" cx="279.8" cy="119.0" r="1.9"/>
<circle class="k35" cx="282.7" cy="118.4" r="1.9"/>
<circle class="k13" cx="272.2" cy="131.0" r="1.9"/>
<circle class="k1" cx="246.4" cy="121.0" r="1.9"/>
<circle class="k1" cx="269.6" cy="117.5" r="1.9"/>
<circle class="k1" cx="267.0" cy="121.7" r="1.9"/>
<circle class="k37" cx="279.3" cy="120.9" r="1.9"/>
<circle class="k0" cx="269.7" cy="129.7" r="1.9"/>
<circle class="k39" cx="287.8" cy="124.8" r="1.9"/>
<circle class="k1" cx="265.3" cy="118.6" r="1.9"/>
<circle class="k37" cx="279.8" cy="118.3" r="1.9"/>
<circle class="k1" cx="265.8" cy="118.2" r="1.9"/>
<circle class="k35" cx="288.9" cy="122.9" r="1.9"/>
<circle class="k9" cx="272.2" cy="117.6" r="1.9"/>
<circle class="k7" cx="271.3" cy="124.1" r="1.9"/>
<circle class="k7" cx="271.6" cy="119.9" r="1.9"/>
<circle class="k37" cx="286.2" cy="115.3" r="1.9"/>
<circle class="k1" cx="264.4" cy="123.8" r="1.9"/>
<circle class="k39" cx="289.8" cy="118.8" r="1.9"/>
<circle class="k39" cx="291.6" cy="121.3" r="1.9"/>
<circle class="k7" cx="271.8" cy="110.0" r="1.9"/>
<circle class="k11" cx="272.7" cy="120.2" r="1.9"/>
<circle class="k0" cx="269.9" cy="117.6" r="1.9"/>
<circle class="k10" cx="272.1" cy="115.7" r="1.9"/>
<circle class="k1" cx="269.0" cy="126.2" r="1.9"/>
<circle class="k2" cx="270.1" cy="120.0" r="1.9"/>
<circle class="k37" cx="283.6" cy="124.0" r="1.9"/>
<circle class="k16" cx="275.3" cy="114.7" r="1.9"/>
<circle class="k36" cx="284.1" cy="118.9" r="1.9"/>
<circle class="k3" cx="270.9" cy="129.6" r="1.9"/>
<circle class="k7" cx="271.7" cy="126.4" r="1.9"/>
<circle class="k38" cx="293.1" cy="121.4" r="1.9"/>
<circle class="k0" cx="266.6" cy="119.2" r="1.9"/>
<circle class="k1" cx="268.7" cy="123.5" r="1.9"/>
<circle class="k37" cx="286.7" cy="121.5" r="1.9"/>
<circle class="k0" cx="263.9" cy="120.3" r="1.9"/>
<circle class="k16" cx="273.9" cy="126.5" r="1.9"/>
<circle class="k9" cx="271.7" cy="112.2" r="1.9"/>
<circle class="k1" cx="257.7" cy="121.4" r="1.9"/>
<circle class="k39" cx="288.7" cy="120.2" r="1.9"/>
<circle class="k39" cx="287.6" cy="117.5" r="1.9"/>
<circle class="k0" cx="260.3" cy="118.5" r="1.9"/>
<circle class="k37" cx="290.5" cy="118.1" r="1.9"/>
<circle class="k1" cx="268.9" cy="122.4" r="1.9"/>
<circle class="k1" cx="267.6" cy="120.5" r="1.9"/>
<circle class="k2" cx="271.1" cy="112.3" r="1.9"/>
<circle class="k39" cx="294.8" cy="120.0" r="1.9"/>
<circle class="k39" cx="284.0" cy="124.3" r="1.9"/>
<circle class="k0" cx="269.5" cy="120.1" r="1.9"/>
<circle class="k39" cx="281.3" cy="122.5" r="1.9"/>
<circle class="k7" cx="271.8" cy="127.3" r="1.9"/>
<circle class="k10" cx="272.1" cy="121.9" r="1.9"/>
<circle class="k34" cx="282.2" cy="127.0" r="1.9"/>
<circle class="k1" cx="269.4" cy="122.2" r="1.9"/>
<circle class="k1" cx="261.8" cy="122.6" r="1.9"/>
<circle class="k0" cx="266.2" cy="117.1" r="1.9"/>
<circle class="k1" cx="265.3" cy="125.6" r="1.9"/>
<circle class="k2" cx="270.9" cy="127.6" r="1.9"/>
<circle class="k38" cx="284.9" cy="127.5" r="1.9"/>
<circle class="k0" cx="260.4" cy="123.5" r="1.9"/>
<circle class="k15" cx="273.9" cy="124.2" r="1.9"/>
<circle class="k0" cx="268.3" cy="117.3" r="1.9"/>
<circle class="k37" cx="283.6" cy="120.8" r="1.9"/>
<circle class="k1" cx="269.7" cy="111.4" r="1.9"/>
<circle class="k0" cx="249.8" cy="121.0" r="1.9"/>
<circle class="k37" cx="282.0" cy="122.7" r="1.9"/>
<circle class="k37" cx="287.6" cy="119.9" r="1.9"/>
<circle class="k0" cx="268.0" cy="121.5" r="1.9"/>
<circle class="k1" cx="269.4" cy="124.4" r="1.9"/>
<circle class="k37" cx="285.6" cy="118.3" r="1.9"/>
<circle class="k13" cx="273.6" cy="117.6" r="1.9"/>
<circle class="k13" cx="272.2" cy="124.5" r="1.9"/>
<circle class="k13" cx="273.0" cy="113.8" r="1.9"/>
<circle class="k38" cx="282.7" cy="121.3" r="1.9"/>
<circle class="k3" cx="271.1" cy="124.5" r="1.9"/>
<circle class="k21" cx="275.6" cy="122.5" r="1.9"/>
<circle class="k39" cx="283.2" cy="121.6" r="1.9"/>
<circle class="k35" cx="282.9" cy="126.7" r="1.9"/>
<circle class="k19" cx="275.1" cy="125.3" r="1.9"/>
<circle class="k13" cx="272.8" cy="117.0" r="1.9"/>
<circle class="k1" cx="269.3" cy="126.5" r="1.9"/>
<circle class="k22" cx="276.8" cy="117.6" r="1.9"/>
<circle class="k39" cx="282.5" cy="123.8" r="1.9"/>
<circle class="k18" cx="275.0" cy="116.7" r="1.9"/>
<circle class="k2" cx="258.2" cy="121.6" r="1.9"/>
<circle class="k5" cx="270.8" cy="117.5" r="1.9"/>
<circle class="k38" cx="285.0" cy="117.3" r="1.9"/>
<circle class="k35" cx="278.9" cy="117.3" r="1.9"/>
<circle class="k37" cx="285.1" cy="121.9" r="1.9"/>
<circle class="k38" cx="292.5" cy="120.3" r="1.9"/>
<circle class="k38" cx="283.4" cy="125.0" r="1.9"/>
<circle class="k0" cx="269.2" cy="118.9" r="1.9"/>
<circle class="k0" cx="267.8" cy="119.3" r="1.9"/>
<circle class="k1" cx="266.3" cy="119.7" r="1.9"/>
<circle class="k6" cx="271.7" cy="129.9" r="1.9"/>
<circle class="k39" cx="294.9" cy="121.2" r="1.9"/>
<circle class="k39" cx="292.2" cy="122.0" r="1.9"/>
<circle class="k4" cx="270.9" cy="126.7" r="1.9"/>
<circle class="k38" cx="288.3" cy="121.0" r="1.9"/>
<circle class="k12" cx="273.1" cy="119.4" r="1.9"/>
<circle class="k39" cx="284.4" cy="125.2" r="1.9"/>
<circle class="k1" cx="266.1" cy="123.5" r="1.9"/>
<circle class="k37" cx="282.1" cy="119.5" r="1.9"/>
<circle class="k39" cx="285.4" cy="125.8" r="1.9"/>
<circle class="k1" cx="265.5" cy="121.6" r="1.9"/>
<circle class="k37" cx="286.2" cy="118.6" r="1.9"/>
<circle class="k22" cx="277.3" cy="122.0" r="1.9"/>
<circle class="k14" cx="273.8" cy="114.5" r="1.9"/>
<circle class="k1" cx="250.8" cy="121.0" r="1.9"/>
<circle class="k37" cx="290.1" cy="122.0" r="1.9"/>
<circle class="k35" cx="287.7" cy="118.6" r="1.9"/>
<circle class="k37" cx="281.2" cy="120.5" r="1.9"/>
<circle class="k21" cx="249.2" cy="149.3" r="1.9"/>
<circle class="k21" cx="254.2" cy="149.3" r="1.9"/>
<circle class="k18" cx="276.5" cy="142.9" r="1.9"/>
<circle class="k20" cx="275.0" cy="157.3" r="1.9"/>
<circle class="k2" cx="275.2" cy="153.6" r="1.9"/>
<circle class="k4" cx="276.5" cy="147.7" r="1.9"/>
<circle class="k2" cx="273.8" cy="156.5" r="1.9"/>
<circle class="k19" cx="275.2" cy="146.5" r="1.9"/>
<circle class="k2" cx="273.7" cy="152.0" r="1.9"/>
<circle class="k4" cx="273.8" cy="147.2" r="1.9"/>
<circle class="k0" cx="273.7" cy="146.9" r="1.9"/>
<circle class="k5" cx="276.3" cy="145.9" r="1.9"/>
<circle class="k2" cx="275.2" cy="144.9" r="1.9"/>
<circle class="k7" cx="275.2" cy="152.8" r="1.9"/>
<circle class="k3" cx="273.6" cy="142.0" r="1.9"/>
<circle class="k2" cx="273.6" cy="145.6" r="1.9"/>
<circle class="k3" cx="273.7" cy="140.0" r="1.9"/>
<circle class="k3" cx="273.8" cy="155.7" r="1.9"/>
<circle class="k0" cx="276.3" cy="151.2" r="1.9"/>
<circle class="k4" cx="276.3" cy="152.2" r="1.9"/>
<circle class="k1" cx="273.8" cy="141.0" r="1.9"/>
<circle class="k2" cx="276.5" cy="146.8" r="1.9"/>
<circle class="k0" cx="273.7" cy="143.1" r="1.9"/>
<circle class="k1" cx="276.4" cy="142.2" r="1.9"/>
<circle class="k0" cx="276.3" cy="140.2" r="1.9"/>
<circle class="k4" cx="275.0" cy="138.6" r="1.9"/>
<circle class="k3" cx="275.1" cy="159.0" r="1.9"/>
<circle class="k1" cx="276.0" cy="159.0" r="1.9"/>
<circle class="k6" cx="275.0" cy="150.8" r="1.9"/>
<circle class="k1" cx="275.1" cy="142.2" r="1.9"/>
<circle class="k0" cx="274.0" cy="139.6" r="1.9"/>
<circle class="k2" cx="275.0" cy="141.4" r="1.9"/>
<circle class="k3" cx="274.5" cy="138.3" r="1.9"/>
<circle class="k3" cx="276.3" cy="145.0" r="1.9"/>
<circle class="k6" cx="274.2" cy="159.4" r="1.9"/>
<circle class="k5" cx="276.5" cy="150.4" r="1.9"/>
<circle class="k2" cx="275.1" cy="145.8" r="1.9"/>
<circle class="k16" cx="276.5" cy="155.0" r="1.9"/>
<circle class="k4" cx="275.0" cy="154.8" r="1.9"/>
<circle class="k1" cx="273.8" cy="153.5" r="1.9"/>
<circle class="k19" cx="275.1" cy="139.5" r="1.9"/>
<circle class="k4" cx="276.4" cy="141.1" r="1.9"/>
<circle class="k5" cx="275.1" cy="150.0" r="1.9"/>
<circle class="k0" cx="276.5" cy="157.3" r="1.9"/>
<circle class="k6" cx="273.6" cy="149.2" r="1.9"/>
<circle class="k2" cx="276.4" cy="155.6" r="1.9"/>
<circle class="k3" cx="273.7" cy="154.9" r="1.9"/>
<circle class="k3" cx="275.1" cy="151.7" r="1.9"/>
<circle class="k3" cx="275.0" cy="143.6" r="1.9"/>
<circle class="k3" cx="276.5" cy="149.3" r="1.9"/>
<circle class="k4" cx="275.0" cy="156.7" r="1.9"/>
<circle class="k0" cx="275.1" cy="158.0" r="1.9"/>
<circle class="k19" cx="273.8" cy="150.2" r="1.9"/>
<circle class="k21" cx="275.1" cy="155.6" r="1.9"/>
<circle class="k1" cx="275.1" cy="140.5" r="1.9"/>
<circle class="k3" cx="273.7" cy="143.7" r="1.9"/>
<circle class="k3" cx="276.5" cy="152.6" r="1.9"/>
<circle class="k0" cx="275.1" cy="148.3" r="1.9"/>
<circle class="k1" cx="276.2" cy="139.6" r="1.9"/>
<circle class="k2" cx="273.8" cy="157.2" r="1.9"/>
<circle class="k5" cx="276.4" cy="143.9" r="1.9"/>
<circle class="k1" cx="273.8" cy="144.9" r="1.9"/>
<circle class="k3" cx="273.7" cy="151.3" r="1.9"/>
<circle class="k20" cx="276.4" cy="154.1" r="1.9"/>
<circle class="k4" cx="276.3" cy="148.5" r="1.9"/>
<circle class="k5" cx="275.1" cy="149.2" r="1.9"/>
<circle class="k0" cx="273.6" cy="158.0" r="1.9"/>
<circle class="k2" cx="273.8" cy="152.6" r="1.9"/>
<circle class="k1" cx="275.0" cy="143.2" r="1.9"/>
<circle class="k7" cx="275.7" cy="138.6" r="1.9"/>
<circle class="k3" cx="276.4" cy="156.5" r="1.9"/>
<circle class="k4" cx="275.1" cy="147.3" r="1.9"/>
<circle class="k1" cx="273.7" cy="148.5" r="1.9"/>
<circle class="k7" cx="276.3" cy="158.6" r="1.9"/>
<circle class="k1" cx="267.5" cy="149.7" r="1.9"/>
<circle class="k38" cx="280.3" cy="149.7" r="1.9"/>
<circle class="k38" cx="285.9" cy="148.8" r="1.9"/>
<circle class="k39" cx="277.1" cy="148.8" r="1.9"/>
<circle class="k24" cx="271.5" cy="149.7" r="1.9"/>
<circle class="k39" cx="289.9" cy="149.7" r="1.9"/>
<circle class="k34" cx="275.5" cy="149.7" r="1.9"/>
<circle class="k39" cx="293.9" cy="148.8" r="1.9"/>
<circle class="k39" cx="287.5" cy="148.8" r="1.9"/>
<circle class="k39" cx="286.7" cy="149.7" r="1.9"/>
<circle class="k38" cx="295.5" cy="148.8" r="1.9"/>
<circle class="k39" cx="287.5" cy="149.7" r="1.9"/>
<circle class="k37" cx="282.7" cy="148.8" r="1.9"/>
<circle class="k18" cx="268.3" cy="149.7" r="1.9"/>
<circle class="k23" cx="269.1" cy="149.7" r="1.9"/>
<circle class="k39" cx="291.5" cy="149.7" r="1.9"/>
<circle class="k39" cx="296.3" cy="149.7" r="1.9"/>
<circle class="k39" cx="289.9" cy="148.8" r="1.9"/>
<circle class="k0" cx="267.5" cy="148.8" r="1.9"/>
<circle class="k31" cx="273.9" cy="149.7" r="1.9"/>
<circle class="k38" cx="298.7" cy="149.7" r="1.9"/>
<circle class="k1" cx="263.5" cy="148.8" r="1.9"/>
<circle class="k2" cx="266.7" cy="149.7" r="1.9"/>
<circle class="k39" cx="298.7" cy="148.8" r="1.9"/>
<circle class="k37" cx="305.1" cy="148.8" r="1.9"/>
<circle class="k37" cx="280.3" cy="148.8" r="1.9"/>
<circle class="k39" cx="295.5" cy="149.7" r="1.9"/>
<circle class="k26" cx="273.1" cy="149.7" r="1.9"/>
<circle class="k39" cx="274.7" cy="149.7" r="1.9"/>
<circle class="k39" cx="282.7" cy="149.7" r="1.9"/>
<circle class="k37" cx="276.3" cy="148.8" r="1.9"/>
<circle class="k39" cx="301.1" cy="149.7" r="1.9"/>
<circle class="k38" cx="276.3" cy="149.7" r="1.9"/>
<circle class="k0" cx="265.1" cy="149.7" r="1.9"/>
<circle class="k39" cx="294.7" cy="149.7" r="1.9"/>
<circle class="k39" cx="281.1" cy="149.7" r="1.9"/>
<circle class="k39" cx="297.1" cy="148.8" r="1.9"/>
<circle class="k39" cx="297.9" cy="148.8" r="1.9"/>
<circle class="k39" cx="305.1" cy="149.7" r="1.9"/>
<circle class="k39" cx="290.7" cy="149.7" r="1.9"/>
<circle class="k39" cx="296.3" cy="148.8" r="1.9"/>
<circle class="k38" cx="300.3" cy="149.7" r="1.9"/>
<circle class="k16" cx="268.3" cy="148.8" r="1.9"/>
<circle class="k39" cx="277.9" cy="148.8" r="1.9"/>
<circle class="k39" cx="283.5" cy="149.7" r="1.9"/>
<circle class="k39" cx="289.1" cy="148.8" r="1.9"/>
<circle class="k38" cx="284.3" cy="149.7" r="1.9"/>
<circle class="k21" cx="272.3" cy="149.7" r="1.9"/>
<circle class="k36" cx="294.7" cy="148.8" r="1.9"/>
<circle class="k38" cx="301.1" cy="148.8" r="1.9"/>
<circle class="k39" cx="303.5" cy="148.8" r="1.9"/>
<circle class="k39" cx="277.1" cy="149.7" r="1.9"/>
<circle class="k21" cx="271.5" cy="148.8" r="1.9"/>
<circle class="k39" cx="275.5" cy="148.8" r="1.9"/>
<circle class="k37" cx="293.1" cy="148.8" r="1.9"/>
<circle class="k22" cx="270.7" cy="149.7" r="1.9"/>
<circle class="k39" cx="284.3" cy="148.8" r="1.9"/>
<circle class="k0" cx="266.7" cy="148.8" r="1.9"/>
<circle class="k39" cx="278.7" cy="149.7" r="1.9"/>
<circle class="k39" cx="300.3" cy="148.8" r="1.9"/>
<circle class="k38" cx="302.7" cy="148.8" r="1.9"/>
<circle class="k39" cx="293.9" cy="149.7" r="1.9"/>
<circle class="k39" cx="288.3" cy="149.7" r="1.9"/>
<circle class="k39" cx="289.1" cy="149.7" r="1.9"/>
<circle class="k39" cx="291.5" cy="148.8" r="1.9"/>
<circle class="k37" cx="285.9" cy="149.7" r="1.9"/>
<circle class="k36" cx="273.9" cy="148.8" r="1.9"/>
<circle class="k1" cx="265.9" cy="149.7" r="1.9"/>
<circle class="k38" cx="286.7" cy="148.8" r="1.9"/>
<circle class="k38" cx="277.9" cy="149.7" r="1.9"/>
<circle class="k20" cx="270.7" cy="148.8" r="1.9"/>
<circle class="k21" cx="269.1" cy="148.8" r="1.9"/>
<circle class="k2" cx="263.5" cy="149.7" r="1.9"/>
<circle class="k39" cx="301.9" cy="148.8" r="1.9"/>
<circle class="k20" cx="272.3" cy="148.8" r="1.9"/>
<circle class="k39" cx="285.1" cy="148.8" r="1.9"/>
<circle class="k39" cx="302.7" cy="149.7" r="1.9"/>
<circle class="k38" cx="305.9" cy="148.8" r="1.9"/>
<circle class="k1" cx="264.3" cy="148.8" r="1.9"/>
<circle class="k39" cx="303.5" cy="149.7" r="1.9"/>
<circle class="k39" cx="288.3" cy="148.8" r="1.9"/>
<circle class="k0" cx="264.3" cy="149.7" r="1.9"/>
<circle class="k19" cx="269.9" cy="149.7" r="1.9"/>
<circle class="k39" cx="283.5" cy="148.8" r="1.9"/>
<circle class="k36" cx="281.9" cy="149.7" r="1.9"/>
<circle class="k39" cx="305.9" cy="149.7" r="1.9"/>
<circle class="k39" cx="304.3" cy="149.7" r="1.9"/>
<circle class="k39" cx="285.1" cy="149.7" r="1.9"/>
<circle class="k31" cx="274.7" cy="148.8" r="1.9"/>
<circle class="k39" cx="281.1" cy="148.8" r="1.9"/>
<circle class="k0" cx="265.9" cy="148.8" r="1.9"/>
<circle class="k39" cx="279.5" cy="148.8" r="1.9"/>
<circle class="k26" cx="273.1" cy="148.8" r="1.9"/>
<circle class="k39" cx="281.9" cy="148.8" r="1.9"/>
<circle class="k22" cx="269.9" cy="148.8" r="1.9"/>
<circle class="k39" cx="292.3" cy="148.8" r="1.9"/>
<circle class="k38" cx="278.7" cy="148.8" r="1.9"/>
<circle class="k38" cx="304.3" cy="148.8" r="1.9"/>
<circle class="k39" cx="301.9" cy="149.7" r="1.9"/>
<circle class="k39" cx="297.1" cy="149.7" r="1.9"/>
<circle class="k38" cx="290.7" cy="148.8" r="1.9"/>
<circle class="k39" cx="299.5" cy="148.8" r="1.9"/>
<circle class="k38" cx="299.5" cy="149.7" r="1.9"/>
<circle class="k38" cx="292.3" cy="149.7" r="1.9"/>
<circle class="k39" cx="279.5" cy="149.7" r="1.9"/>
<circle class="k0" cx="265.1" cy="148.8" r="1.9"/>
<circle class="k2" cx="262.7" cy="148.8" r="1.9"/>
<circle class="k1" cx="262.7" cy="149.7" r="1.9"/>
<circle class="k39" cx="297.9" cy="149.7" r="1.9"/>
<circle class="k39" cx="293.1" cy="149.7" r="1.9"/>
<circle class="k5" cx="277.2" cy="169.2" r="1.9"/>
<circle class="k2" cx="276.4" cy="176.8" r="1.9"/>
<circle class="k36" cx="278.4" cy="177.7" r="1.9"/>
<circle class="k0" cx="277.6" cy="167.5" r="1.9"/>
<circle class="k4" cx="274.5" cy="176.0" r="1.9"/>
<circle class="k1" cx="278.2" cy="177.0" r="1.9"/>
<circle class="k26" cx="278.4" cy="179.6" r="1.9"/>
<circle class="k30" cx="274.5" cy="175.2" r="1.9"/>
<circle class="k14" cx="274.7" cy="176.9" r="1.9"/>
<circle class="k4" cx="277.8" cy="171.0" r="1.9"/>
<circle class="k2" cx="277.4" cy="172.4" r="1.9"/>
<circle class="k4" cx="277.4" cy="173.1" r="1.9"/>
<circle class="k10" cx="274.7" cy="184.6" r="1.9"/>
<circle class="k4" cx="277.4" cy="171.5" r="1.9"/>
<circle class="k0" cx="278.6" cy="173.8" r="1.9"/>
<circle class="k2" cx="278.3" cy="167.5" r="1.9"/>
<circle class="k3" cx="278.0" cy="174.1" r="1.9"/>
<circle class="k23" cx="278.4" cy="175.9" r="1.9"/>
<circle class="k17" cx="277.9" cy="185.5" r="1.9"/>
<circle class="k17" cx="274.5" cy="177.5" r="1.9"/>
<circle class="k7" cx="275.0" cy="185.8" r="1.9"/>
<circle class="k27" cx="276.5" cy="184.9" r="1.9"/>
<circle class="k14" cx="276.6" cy="181.0" r="1.9"/>
<circle class="k25" cx="274.7" cy="178.8" r="1.9"/>
<circle class="k0" cx="278.0" cy="168.9" r="1.9"/>
<circle class="k39" cx="278.3" cy="181.2" r="1.9"/>
<circle class="k0" cx="274.7" cy="182.3" r="1.9"/>
<circle class="k37" cx="278.4" cy="184.0" r="1.9"/>
<circle class="k3" cx="278.0" cy="170.5" r="1.9"/>
<circle class="k13" cx="276.4" cy="185.5" r="1.9"/>
<circle class="k34" cx="278.4" cy="182.9" r="1.9"/>
<circle class="k7" cx="278.0" cy="167.7" r="1.9"/>
<circle class="k12" cx="274.7" cy="183.1" r="1.9"/>
<circle class="k0" cx="277.8" cy="169.8" r="1.9"/>
<circle class="k0" cx="277.4" cy="170.3" r="1.9"/>
<circle class="k4" cx="278.5" cy="172.1" r="1.9"/>
<circle class="k6" cx="274.5" cy="179.2" r="1.9"/>
<circle class="k2" cx="277.3" cy="174.1" r="1.9"/>
<circle class="k30" cx="276.5" cy="177.4" r="1.9"/>
<circle class="k4" cx="277.5" cy="186.8" r="1.9"/>
<circle class="k20" cx="276.5" cy="183.8" r="1.9"/>
<circle class="k4" cx="278.3" cy="174.8" r="1.9"/>
<circle class="k34" cx="274.5" cy="180.9" r="1.9"/>
<circle class="k22" cx="274.5" cy="180.5" r="1.9"/>
<circle class="k6" cx="276.6" cy="175.2" r="1.9"/>
<circle class="k3" cx="277.3" cy="168.8" r="1.9"/>
<circle class="k3" cx="275.6" cy="186.4" r="1.9"/>
<circle class="k24" cx="276.3" cy="181.9" r="1.9"/>
<circle class="k2" cx="276.5" cy="175.7" r="1.9"/>
<circle class="k21" cx="276.4" cy="182.8" r="1.9"/>
<circle class="k30" cx="276.6" cy="179.2" r="1.9"/>
<circle class="k4" cx="278.7" cy="171.5" r="1.9"/>
<circle class="k3" cx="276.3" cy="186.5" r="1.9"/>
<circle class="k2" cx="278.1" cy="172.8" r="1.9"/>
<circle class="k0" cx="278.6" cy="170.7" r="1.9"/>
<circle class="k0" cx="278.4" cy="168.7" r="1.9"/>
<circle class="k0" cx="278.0" cy="172.1" r="1.9"/>
<circle class="k11" cx="278.3" cy="180.1" r="1.9"/>
<circle class="k32" cx="278.2" cy="184.8" r="1.9"/>
<circle class="k4" cx="278.6" cy="169.2" r="1.9"/>
<circle class="k18" cx="276.5" cy="178.5" r="1.9"/>
<circle class="k19" cx="274.5" cy="184.1" r="1.9"/>
<circle class="k5" cx="278.3" cy="178.5" r="1.9"/>
<circle class="k2" cx="276.4" cy="180.4" r="1.9"/>
<circle class="k0" cx="278.7" cy="173.2" r="1.9"/>
<circle class="k29" cx="278.4" cy="182.2" r="1.9"/>
<circle class="k2" cx="281.4" cy="177.1" r="1.9"/>
<circle class="k3" cx="280.6" cy="177.1" r="1.9"/>
<circle class="k21" cx="275.8" cy="178.0" r="1.9"/>
<circle class="k2" cx="288.6" cy="177.1" r="1.9"/>
<circle class="k0" cx="280.6" cy="178.0" r="1.9"/>
<circle class="k0" cx="291.8" cy="177.1" r="1.9"/>
<circle class="k39" cx="268.6" cy="177.1" r="1.9"/>
<circle class="k1" cx="291.8" cy="178.0" r="1.9"/>
<circle class="k36" cx="267.8" cy="177.1" r="1.9"/>
<circle class="k1" cx="279.8" cy="178.0" r="1.9"/>
<circle class="k9" cx="279.0" cy="178.0" r="1.9"/>
<circle class="k39" cx="271.8" cy="178.0" r="1.9"/>
<circle class="k21" cx="276.6" cy="177.1" r="1.9"/>
<circle class="k0" cx="290.2" cy="178.0" r="1.9"/>
<circle class="k0" cx="288.6" cy="178.0" r="1.9"/>
<circle class="k0" cx="287.8" cy="177.1" r="1.9"/>
<circle class="k39" cx="263.8" cy="177.1" r="1.9"/>
<circle class="k0" cx="284.6" cy="177.1" r="1.9"/>
<circle class="k39" cx="269.4" cy="178.0" r="1.9"/>
<circle class="k19" cx="275.0" cy="177.1" r="1.9"/>
<circle class="k0" cx="285.4" cy="177.1" r="1.9"/>
<circle class="k31" cx="274.2" cy="177.1" r="1.9"/>
<circle class="k32" cx="274.2" cy="178.0" r="1.9"/>
<circle class="k38" cx="267.8" cy="178.0" r="1.9"/>
<circle class="k21" cx="277.4" cy="178.0" r="1.9"/>
<circle class="k0" cx="284.6" cy="178.0" r="1.9"/>
<circle class="k0" cx="283.0" cy="177.1" r="1.9"/>
<circle class="k38" cx="264.6" cy="178.0" r="1.9"/>
<circle class="k38" cx="265.4" cy="178.0" r="1.9"/>
<circle class="k14" cx="278.2" cy="177.1" r="1.9"/>
<circle class="k0" cx="283.0" cy="178.0" r="1.9"/>
<circle class="k21" cx="275.0" cy="178.0" r="1.9"/>
<circle class="k39" cx="267.0" cy="177.1" r="1.9"/>
<circle class="k1" cx="289.4" cy="178.0" r="1.9"/>
<circle class="k4" cx="283.8" cy="177.1" r="1.9"/>
<circle class="k24" cx="275.8" cy="177.1" r="1.9"/>
<circle class="k39" cx="263.8" cy="178.0" r="1.9"/>
<circle class="k2" cx="287.0" cy="177.1" r="1.9"/>
<circle class="k39" cx="271.0" cy="178.0" r="1.9"/>
<circle class="k0" cx="286.2" cy="177.1" r="1.9"/>
<circle class="k18" cx="278.2" cy="178.0" r="1.9"/>
<circle class="k0" cx="289.4" cy="177.1" r="1.9"/>
<circle class="k1" cx="290.2" cy="177.1" r="1.9"/>
<circle class="k39" cx="264.6" cy="177.1" r="1.9"/>
<circle class="k32" cx="273.4" cy="178.0" r="1.9"/>
<circle class="k0" cx="291.0" cy="177.1" r="1.9"/>
<circle class="k38" cx="270.2" cy="177.1" r="1.9"/>
<circle class="k11" cx="279.0" cy="177.1" r="1.9"/>
<circle class="k0" cx="281.4" cy="178.0" r="1.9"/>
<circle class="k39" cx="266.2" cy="178.0" r="1.9"/>
<circle class="k39" cx="268.6" cy="178.0" r="1.9"/>
<circle class="k1" cx="285.4" cy="178.0" r="1.9"/>
<circle class="k37" cx="271.8" cy="177.1" r="1.9"/>
<circle class="k29" cx="276.6" cy="178.0" r="1.9"/>
<circle class="k0" cx="282.2" cy="177.1" r="1.9"/>
<circle class="k39" cx="270.2" cy="178.0" r="1.9"/>
<circle class="k24" cx="277.4" cy="177.1" r="1.9"/>
<circle class="k39" cx="266.2" cy="177.1" r="1.9"/>
<circle class="k1" cx="287.8" cy="178.0" r="1.9"/>
<circle class="k37" cx="271.0" cy="177.1" r="1.9"/>
<circle class="k34" cx="273.4" cy="177.1" r="1.9"/>
<circle class="k0" cx="282.2" cy="178.0" r="1.9"/>
<circle class="k2" cx="283.8" cy="178.0" r="1.9"/>
<circle class="k0" cx="291.0" cy="178.0" r="1.9"/>
<circle class="k33" cx="272.6" cy="177.1" r="1.9"/>
<circle class="k37" cx="272.6" cy="178.0" r="1.9"/>
<circle class="k39" cx="267.0" cy="178.0" r="1.9"/>
<circle class="k39" cx="265.4" cy="177.1" r="1.9"/>
<circle class="k0" cx="287.0" cy="178.0" r="1.9"/>
<circle class="k39" cx="269.4" cy="177.1" r="1.9"/>
<circle class="k5" cx="279.8" cy="177.1" r="1.9"/>
<circle class="k0" cx="286.2" cy="178.0" r="1.9"/>
<circle class="k25" cx="278.2" cy="197.6" r="1.9"/>
<circle class="k19" cx="278.0" cy="205.8" r="1.9"/>
<circle class="k29" cx="274.6" cy="197.6" r="1.9"/>
<circle class="k27" cx="274.6" cy="212.3" r="1.9"/>
<circle class="k5" cx="274.9" cy="215.0" r="1.9"/>
<circle class="k14" cx="278.0" cy="212.6" r="1.9"/>
<circle class="k4" cx="278.0" cy="206.9" r="1.9"/>
<circle class="k5" cx="278.2" cy="198.5" r="1.9"/>
<circle class="k26" cx="274.6" cy="202.9" r="1.9"/>
<circle class="k21" cx="276.4" cy="214.6" r="1.9"/>
<circle class="k18" cx="277.8" cy="195.7" r="1.9"/>
<circle class="k2" cx="278.2" cy="211.9" r="1.9"/>
<circle class="k7" cx="276.4" cy="213.1" r="1.9"/>
<circle class="k19" cx="274.7" cy="203.7" r="1.9"/>
<circle class="k13" cx="278.0" cy="210.3" r="1.9"/>
<circle class="k4" cx="278.1" cy="214.1" r="1.9"/>
<circle class="k20" cx="276.4" cy="200.5" r="1.9"/>
<circle class="k27" cx="274.5" cy="206.5" r="1.9"/>
<circle class="k19" cx="274.6" cy="198.4" r="1.9"/>
<circle class="k11" cx="277.1" cy="194.8" r="1.9"/>
<circle class="k26" cx="276.5" cy="214.1" r="1.9"/>
<circle class="k22" cx="278.2" cy="207.5" r="1.9"/>
<circle class="k12" cx="274.5" cy="200.2" r="1.9"/>
<circle class="k8" cx="276.5" cy="204.7" r="1.9"/>
<circle class="k14" cx="276.2" cy="203.9" r="1.9"/>
<circle class="k7" cx="278.1" cy="204.8" r="1.9"/>
<circle class="k6" cx="278.1" cy="209.3" r="1.9"/>
<circle class="k19" cx="276.3" cy="208.5" r="1.9"/>
<circle class="k24" cx="274.7" cy="202.3" r="1.9"/>
<circle class="k2" cx="276.4" cy="199.1" r="1.9"/>
<circle class="k20" cx="276.2" cy="206.6" r="1.9"/>
<circle class="k14" cx="274.9" cy="195.6" r="1.9"/>
<circle class="k28" cx="278.1" cy="199.4" r="1.9"/>
<circle class="k3" cx="276.5" cy="210.1" r="1.9"/>
<circle class="k13" cx="276.3" cy="196.1" r="1.9"/>
<circle class="k17" cx="278.0" cy="203.7" r="1.9"/>
<circle class="k16" cx="276.2" cy="197.0" r="1.9"/>
<circle class="k5" cx="278.1" cy="211.1" r="1.9"/>
<circle class="k21" cx="276.3" cy="202.0" r="1.9"/>
<circle class="k7" cx="276.5" cy="195.0" r="1.9"/>
<circle class="k14" cx="278.2" cy="197.0" r="1.9"/>
<circle class="k20" cx="278.1" cy="200.1" r="1.9"/>
<circle class="k8" cx="278.1" cy="202.3" r="1.9"/>
<circle class="k3" cx="274.7" cy="196.6" r="1.9"/>
<circle class="k29" cx="274.6" cy="207.5" r="1.9"/>
<circle class="k7" cx="278.1" cy="201.2" r="1.9"/>
<circle class="k23" cx="275.4" cy="195.1" r="1.9"/>
<circle class="k12" cx="276.4" cy="197.4" r="1.9"/>
<circle class="k7" cx="278.2" cy="203.1" r="1.9"/>
<circle class="k4" cx="276.5" cy="212.1" r="1.9"/>
<circle class="k25" cx="277.6" cy="215.0" r="1.9"/>
<circle class="k21" cx="274.7" cy="199.6" r="1.9"/>
<circle class="k7" cx="274.5" cy="212.7" r="1.9"/>
<circle class="k5" cx="274.7" cy="210.1" r="1.9"/>
<circle class="k21" cx="276.4" cy="203.0" r="1.9"/>
<circle class="k22" cx="274.7" cy="205.6" r="1.9"/>
<circle class="k12" cx="274.6" cy="208.5" r="1.9"/>
<circle class="k22" cx="276.4" cy="198.6" r="1.9"/>
<circle class="k7" cx="274.5" cy="201.4" r="1.9"/>
<circle class="k22" cx="274.6" cy="209.5" r="1.9"/>
<circle class="k17" cx="274.7" cy="204.7" r="1.9"/>
<circle class="k20" cx="276.4" cy="207.5" r="1.9"/>
<circle class="k19" cx="276.2" cy="201.5" r="1.9"/>
<circle class="k19" cx="274.5" cy="211.4" r="1.9"/>
<circle class="k15" cx="276.4" cy="206.0" r="1.9"/>
<circle class="k26" cx="274.7" cy="213.6" r="1.9"/>
<circle class="k18" cx="278.0" cy="208.6" r="1.9"/>
<circle class="k17" cx="276.3" cy="211.4" r="1.9"/>
<circle class="k0" cx="276.4" cy="209.6" r="1.9"/>
<circle class="k1" cx="286.3" cy="206.3" r="1.9"/>
<circle class="k0" cx="286.3" cy="205.4" r="1.9"/>
<circle class="k25" cx="272.7" cy="206.3" r="1.9"/>
<circle class="k35" cx="259.9" cy="205.4" r="1.9"/>
<circle class="k12" cx="277.5" cy="206.3" r="1.9"/>
<circle class="k39" cx="263.9" cy="205.4" r="1.9"/>
<circle class="k9" cx="278.3" cy="205.4" r="1.9"/>
<circle class="k38" cx="263.9" cy="206.3" r="1.9"/>
<circle class="k27" cx="274.3" cy="205.4" r="1.9"/>
<circle class="k38" cx="268.7" cy="205.4" r="1.9"/>
<circle class="k11" cx="279.1" cy="205.4" r="1.9"/>
<circle class="k18" cx="277.5" cy="205.4" r="1.9"/>
<circle class="k38" cx="268.7" cy="206.3" r="1.9"/>
<circle class="k37" cx="264.7" cy="205.4" r="1.9"/>
<circle class="k39" cx="266.3" cy="206.3" r="1.9"/>
<circle class="k2" cx="283.1" cy="205.4" r="1.9"/>
<circle class="k26" cx="272.7" cy="205.4" r="1.9"/>
<circle class="k0" cx="281.5" cy="206.3" r="1.9"/>
<circle class="k2" cx="283.1" cy="206.3" r="1.9"/>
<circle class="k30" cx="271.9" cy="206.3" r="1.9"/>
<circle class="k37" cx="267.1" cy="205.4" r="1.9"/>
<circle class="k23" cx="274.3" cy="206.3" r="1.9"/>
<circle class="k39" cx="265.5" cy="206.3" r="1.9"/>
<circle class="k39" cx="264.7" cy="206.3" r="1.9"/>
<circle class="k6" cx="280.7" cy="205.4" r="1.9"/>
<circle class="k39" cx="259.9" cy="206.3" r="1.9"/>
<circle class="k39" cx="261.5" cy="205.4" r="1.9"/>
<circle class="k18" cx="276.7" cy="206.3" r="1.9"/>
<circle class="k39" cx="263.1" cy="206.3" r="1.9"/>
<circle class="k25" cx="275.1" cy="205.4" r="1.9"/>
<circle class="k13" cx="278.3" cy="206.3" r="1.9"/>
<circle class="k39" cx="267.9" cy="205.4" r="1.9"/>
<circle class="k9" cx="279.9" cy="205.4" r="1.9"/>
<circle class="k0" cx="284.7" cy="205.4" r="1.9"/>
<circle class="k17" cx="275.9" cy="206.3" r="1.9"/>
<circle class="k0" cx="285.5" cy="206.3" r="1.9"/>
<circle class="k39" cx="257.5" cy="205.4" r="1.9"/>
<circle class="k21" cx="275.1" cy="206.3" r="1.9"/>
<circle class="k1" cx="283.9" cy="205.4" r="1.9"/>
<circle class="k38" cx="270.3" cy="205.4" r="1.9"/>
<circle class="k37" cx="258.3" cy="205.4" r="1.9"/>
<circle class="k20" cx="275.9" cy="205.4" r="1.9"/>
<circle class="k33" cx="271.1" cy="206.3" r="1.9"/>
<circle class="k30" cx="271.9" cy="205.4" r="1.9"/>
<circle class="k38" cx="261.5" cy="206.3" r="1.9"/>
<circle class="k38" cx="269.5" cy="206.3" r="1.9"/>
<circle class="k38" cx="262.3" cy="205.4" r="1.9"/>
<circle class="k39" cx="260.7" cy="206.3" r="1.9"/>
<circle class="k38" cx="259.1" cy="206.3" r="1.9"/>
<circle class="k39" cx="260.7" cy="205.4" r="1.9"/>
<circle class="k39" cx="258.3" cy="206.3" r="1.9"/>
<circle class="k16" cx="276.7" cy="205.4" r="1.9"/>
<circle class="k4" cx="280.7" cy="206.3" r="1.9"/>
<circle class="k4" cx="282.3" cy="205.4" r="1.9"/>
<circle class="k0" cx="285.5" cy="205.4" r="1.9"/>
<circle class="k23" cx="273.5" cy="206.3" r="1.9"/>
<circle class="k37" cx="270.3" cy="206.3" r="1.9"/>
<circle class="k38" cx="267.9" cy="206.3" r="1.9"/>
<circle class="k0" cx="284.7" cy="206.3" r="1.9"/>
<circle class="k39" cx="263.1" cy="205.4" r="1.9"/>
<circle class="k38" cx="262.3" cy="206.3" r="1.9"/>
<circle class="k38" cx="267.1" cy="206.3" r="1.9"/>
<circle class="k39" cx="269.5" cy="205.4" r="1.9"/>
<circle class="k38" cx="266.3" cy="205.4" r="1.9"/>
<circle class="k39" cx="265.5" cy="205.4" r="1.9"/>
<circle class="k2" cx="281.5" cy="205.4" r="1.9"/>
<circle class="k36" cx="271.1" cy="205.4" r="1.9"/>
<circle class="k7" cx="279.9" cy="206.3" r="1.9"/>
<circle class="k37" cx="259.1" cy="205.4" r="1.9"/>
<circle class="k4" cx="282.3" cy="206.3" r="1.9"/>
<circle class="k0" cx="283.9" cy="206.3" r="1.9"/>
<circle class="k12" cx="279.1" cy="206.3" r="1.9"/>
<circle class="k39" cx="257.5" cy="206.3" r="1.9"/>
<circle class="k21" cx="273.5" cy="205.4" r="1.9"/>
<circle class="k23" cx="274.5" cy="237.2" r="1.9"/>
<circle class="k2" cx="277.4" cy="234.2" r="1.9"/>
<circle class="k5" cx="274.6" cy="240.2" r="1.9"/>
<circle class="k21" cx="274.5" cy="238.4" r="1.9"/>
<circle class="k5" cx="277.6" cy="242.6" r="1.9"/>
<circle class="k2" cx="274.5" cy="239.5" r="1.9"/>
<circle class="k3" cx="277.6" cy="235.6" r="1.9"/>
<circle class="k24" cx="275.5" cy="244.7" r="1.9"/>
<circle class="k5" cx="274.7" cy="229.3" r="1.9"/>
<circle class="k6" cx="276.0" cy="230.3" r="1.9"/>
<circle class="k20" cx="277.3" cy="223.8" r="1.9"/>
<circle class="k22" cx="274.7" cy="240.8" r="1.9"/>
<circle class="k2" cx="277.5" cy="231.1" r="1.9"/>
<circle class="k22" cx="274.6" cy="230.0" r="1.9"/>
<circle class="k2" cx="277.4" cy="234.6" r="1.9"/>
<circle class="k5" cx="277.5" cy="226.9" r="1.9"/>
<circle class="k0" cx="274.6" cy="228.5" r="1.9"/>
<circle class="k3" cx="276.1" cy="223.8" r="1.9"/>
<circle class="k37" cx="276.0" cy="232.2" r="1.9"/>
<circle class="k1" cx="276.0" cy="237.5" r="1.9"/>
<circle class="k4" cx="276.2" cy="223.2" r="1.9"/>
<circle class="k3" cx="277.5" cy="241.4" r="1.9"/>
<circle class="k2" cx="276.0" cy="241.9" r="1.9"/>
<circle class="k2" cx="274.6" cy="227.7" r="1.9"/>
<circle class="k7" cx="274.8" cy="243.6" r="1.9"/>
<circle class="k3" cx="276.2" cy="239.1" r="1.9"/>
<circle class="k2" cx="276.1" cy="228.4" r="1.9"/>
<circle class="k2" cx="276.1" cy="234.1" r="1.9"/>
<circle class="k2" cx="277.4" cy="240.0" r="1.9"/>
<circle class="k4" cx="274.7" cy="235.0" r="1.9"/>
<circle class="k3" cx="276.1" cy="243.9" r="1.9"/>
<circle class="k6" cx="277.3" cy="243.8" r="1.9"/>
<circle class="k6" cx="276.8" cy="223.2" r="1.9"/>
<circle class="k4" cx="275.9" cy="229.7" r="1.9"/>
<circle class="k3" cx="277.5" cy="228.2" r="1.9"/>
<circle class="k4" cx="276.0" cy="224.7" r="1.9"/>
<circle class="k4" cx="274.5" cy="232.0" r="1.9"/>
<circle class="k2" cx="276.2" cy="238.3" r="1.9"/>
<circle class="k5" cx="274.7" cy="233.7" r="1.9"/>
<circle class="k2" cx="274.6" cy="243.0" r="1.9"/>
<circle class="k2" cx="276.1" cy="226.1" r="1.9"/>
<circle class="k1" cx="274.5" cy="236.9" r="1.9"/>
<circle class="k3" cx="277.6" cy="227.5" r="1.9"/>
<circle class="k2" cx="274.6" cy="226.7" r="1.9"/>
<circle class="k18" cx="274.7" cy="225.8" r="1.9"/>
<circle class="k6" cx="274.5" cy="231.1" r="1.9"/>
<circle class="k21" cx="276.1" cy="240.0" r="1.9"/>
<circle class="k26" cx="275.9" cy="231.5" r="1.9"/>
<circle class="k36" cx="277.6" cy="231.9" r="1.9"/>
<circle class="k25" cx="274.7" cy="242.1" r="1.9"/>
<circle class="k5" cx="277.5" cy="236.5" r="1.9"/>
<circle class="k36" cx="275.9" cy="227.5" r="1.9"/>
<circle class="k2" cx="276.2" cy="236.0" r="1.9"/>
<circle class="k6" cx="275.3" cy="222.9" r="1.9"/>
<circle class="k36" cx="277.6" cy="224.9" r="1.9"/>
<circle class="k7" cx="277.4" cy="237.5" r="1.9"/>
<circle class="k0" cx="274.6" cy="236.0" r="1.9"/>
<circle class="k5" cx="277.5" cy="229.4" r="1.9"/>
<circle class="k5" cx="276.2" cy="236.4" r="1.9"/>
<circle class="k5" cx="277.5" cy="239.4" r="1.9"/>
<circle class="k5" cx="274.7" cy="233.1" r="1.9"/>
<circle class="k9" cx="277.6" cy="241.8" r="1.9"/>
<circle class="k5" cx="276.2" cy="244.6" r="1.9"/>
<circle class="k4" cx="276.0" cy="232.7" r="1.9"/>
<circle class="k1" cx="274.9" cy="223.8" r="1.9"/>
<circle class="k1" cx="275.9" cy="235.0" r="1.9"/>
<circle class="k2" cx="276.7" cy="244.5" r="1.9"/>
<circle class="k0" cx="277.6" cy="238.3" r="1.9"/>
<circle class="k1" cx="276.0" cy="226.5" r="1.9"/>
<circle class="k5" cx="277.5" cy="233.2" r="1.9"/>
<circle class="k3" cx="274.7" cy="224.7" r="1.9"/>
<circle class="k4" cx="276.0" cy="240.8" r="1.9"/>
<circle class="k7" cx="277.5" cy="230.3" r="1.9"/>
<circle class="k8" cx="275.9" cy="243.0" r="1.9"/>
<circle class="k7" cx="277.4" cy="225.9" r="1.9"/>
<circle class="k33" cx="272.0" cy="233.6" r="1.9"/>
<circle class="k18" cx="279.2" cy="233.6" r="1.9"/>
<circle class="k6" cx="277.6" cy="234.5" r="1.9"/>
<circle class="k4" cx="274.4" cy="234.5" r="1.9"/>
<circle class="k15" cx="273.6" cy="233.6" r="1.9"/>
<circle class="k25" cx="272.8" cy="233.6" r="1.9"/>
<circle class="k10" cx="275.2" cy="234.5" r="1.9"/>
<circle class="k17" cx="279.2" cy="234.5" r="1.9"/>
<circle class="k9" cx="275.2" cy="233.6" r="1.9"/>
<circle class="k37" cx="281.6" cy="234.5" r="1.9"/>
<circle class="k12" cx="278.4" cy="234.5" r="1.9"/>
<circle class="k35" cx="270.4" cy="233.6" r="1.9"/>
<circle class="k12" cx="278.4" cy="233.6" r="1.9"/>
<circle class="k37" cx="272.0" cy="234.5" r="1.9"/>
<circle class="k7" cx="276.0" cy="234.5" r="1.9"/>
<circle class="k16" cx="273.6" cy="234.5" r="1.9"/>
<circle class="k37" cx="280.0" cy="233.6" r="1.9"/>
<circle class="k27" cx="272.8" cy="234.5" r="1.9"/>
<circle class="k37" cx="270.4" cy="234.5" r="1.9"/>
<circle class="k37" cx="280.8" cy="233.6" r="1.9"/>
<circle class="k15" cx="276.8" cy="233.6" r="1.9"/>
<circle class="k11" cx="276.8" cy="234.5" r="1.9"/>
<circle class="k12" cx="274.4" cy="233.6" r="1.9"/>
<circle class="k36" cx="271.2" cy="234.5" r="1.9"/>
<circle class="k37" cx="281.6" cy="233.6" r="1.9"/>
<circle class="k38" cx="280.8" cy="234.5" r="1.9"/>
<circle class="k11" cx="277.6" cy="233.6" r="1.9"/>
<circle class="k37" cx="280.0" cy="234.5" r="1.9"/>
<circle class="k11" cx="276.0" cy="233.6" r="1.9"/>
<circle class="k38" cx="271.2" cy="233.6" r="1.9"/>
<circle class="k39" cx="257.6" cy="234.1" r="1.9"/>
<circle class="k39" cx="260.4" cy="234.1" r="1.9"/>
<circle class="k39" cx="263.2" cy="234.1" r="1.9"/>
<circle class="k39" cx="266.0" cy="234.1" r="1.9"/>
<circle class="k39" cx="268.4" cy="234.1" r="1.9"/>
<circle class="k39" cx="275.6" cy="253.3" r="1.9"/>
<circle class="k37" cx="275.6" cy="261.6" r="1.9"/>
<circle class="k24" cx="275.4" cy="271.7" r="1.9"/>
<circle class="k5" cx="276.5" cy="262.4" r="1.9"/>
<circle class="k35" cx="277.2" cy="260.9" r="1.9"/>
<circle class="k11" cx="275.4" cy="268.8" r="1.9"/>
<circle class="k36" cx="275.4" cy="255.5" r="1.9"/>
<circle class="k13" cx="276.3" cy="268.1" r="1.9"/>
<circle class="k10" cx="275.5" cy="270.5" r="1.9"/>
<circle class="k1" cx="275.4" cy="259.9" r="1.9"/>
<circle class="k37" cx="277.2" cy="251.5" r="1.9"/>
<circle class="k39" cx="277.2" cy="254.3" r="1.9"/>
<circle class="k25" cx="276.5" cy="271.6" r="1.9"/>
<circle class="k10" cx="277.2" cy="266.2" r="1.9"/>
<circle class="k38" cx="276.5" cy="253.3" r="1.9"/>
<circle class="k3" cx="275.4" cy="260.4" r="1.9"/>
<circle class="k38" cx="276.4" cy="254.1" r="1.9"/>
<circle class="k34" cx="277.4" cy="264.3" r="1.9"/>
<circle class="k39" cx="276.0" cy="249.9" r="1.9"/>
<circle class="k38" cx="275.5" cy="273.3" r="1.9"/>
<circle class="k39" cx="275.4" cy="272.6" r="1.9"/>
<circle class="k33" cx="277.2" cy="269.9" r="1.9"/>
<circle class="k24" cx="276.3" cy="252.9" r="1.9"/>
<circle class="k18" cx="277.2" cy="268.0" r="1.9"/>
<circle class="k23" cx="277.3" cy="252.5" r="1.9"/>
<circle class="k20" cx="277.2" cy="265.4" r="1.9"/>
<circle class="k17" cx="275.4" cy="266.7" r="1.9"/>
<circle class="k25" cx="276.3" cy="267.1" r="1.9"/>
<circle class="k36" cx="276.3" cy="273.3" r="1.9"/>
<circle class="k5" cx="275.5" cy="259.1" r="1.9"/>
<circle class="k5" cx="276.4" cy="259.9" r="1.9"/>
<circle class="k37" cx="277.3" cy="257.3" r="1.9"/>
<circle class="k20" cx="275.6" cy="263.2" r="1.9"/>
<circle class="k7" cx="276.3" cy="270.5" r="1.9"/>
<circle class="k33" cx="276.9" cy="274.2" r="1.9"/>
<circle class="k38" cx="277.0" cy="250.7" r="1.9"/>
<circle class="k35" cx="276.3" cy="259.2" r="1.9"/>
<circle class="k39" cx="275.4" cy="252.0" r="1.9"/>
<circle class="k39" cx="275.6" cy="250.5" r="1.9"/>
<circle class="k35" cx="276.3" cy="274.0" r="1.9"/>
<circle class="k34" cx="275.5" cy="262.8" r="1.9"/>
<circle class="k3" cx="276.3" cy="264.5" r="1.9"/>
<circle class="k20" cx="275.5" cy="265.4" r="1.9"/>
<circle class="k38" cx="277.4" cy="256.2" r="1.9"/>
<circle class="k35" cx="276.3" cy="255.3" r="1.9"/>
<circle class="k39" cx="275.6" cy="256.4" r="1.9"/>
<circle class="k37" cx="277.2" cy="267.2" r="1.9"/>
<circle class="k34" cx="275.6" cy="257.2" r="1.9"/>
<circle class="k37" cx="277.3" cy="253.5" r="1.9"/>
<circle class="k37" cx="277.2" cy="255.0" r="1.9"/>
<circle class="k24" cx="275.4" cy="252.4" r="1.9"/>
<circle class="k34" cx="277.4" cy="268.7" r="1.9"/>
<circle class="k23" cx="276.3" cy="251.8" r="1.9"/>
<circle class="k39" cx="276.4" cy="272.2" r="1.9"/>
<circle class="k27" cx="276.3" cy="258.3" r="1.9"/>
<circle class="k36" cx="276.4" cy="256.0" r="1.9"/>
<circle class="k5" cx="277.2" cy="259.9" r="1.9"/>
<circle class="k26" cx="276.5" cy="268.8" r="1.9"/>
<circle class="k38" cx="276.3" cy="265.4" r="1.9"/>
<circle class="k21" cx="275.6" cy="266.4" r="1.9"/>
<circle class="k27" cx="277.3" cy="272.3" r="1.9"/>
<circle class="k35" cx="276.7" cy="249.8" r="1.9"/>
<circle class="k36" cx="276.0" cy="274.1" r="1.9"/>
<circle class="k1" cx="277.4" cy="262.6" r="1.9"/>
<circle class="k4" cx="277.3" cy="259.1" r="1.9"/>
<circle class="k23" cx="277.3" cy="271.5" r="1.9"/>
<circle class="k37" cx="277.4" cy="270.3" r="1.9"/>
<circle class="k36" cx="275.5" cy="264.5" r="1.9"/>
<circle class="k17" cx="276.5" cy="266.4" r="1.9"/>
<circle class="k35" cx="277.4" cy="263.4" r="1.9"/>
<circle class="k32" cx="276.3" cy="260.9" r="1.9"/>
<circle class="k28" cx="275.5" cy="254.2" r="1.9"/>
<circle class="k1" cx="276.4" cy="263.4" r="1.9"/>
<circle class="k7" cx="276.4" cy="269.8" r="1.9"/>
<circle class="k37" cx="277.2" cy="257.8" r="1.9"/>
<circle class="k37" cx="276.3" cy="250.8" r="1.9"/>
<circle class="k5" cx="275.6" cy="267.7" r="1.9"/>
<circle class="k37" cx="277.4" cy="273.2" r="1.9"/>
<circle class="k39" cx="276.3" cy="257.1" r="1.9"/>
<circle class="k32" cx="277.2" cy="261.7" r="1.9"/>
<circle class="k2" cx="276.4" cy="261.9" r="1.9"/>
<circle class="k25" cx="275.5" cy="269.8" r="1.9"/>
<circle class="k38" cx="275.6" cy="258.2" r="1.9"/>
<circle class="k38" cx="276.4" cy="249.8" r="1.9"/>
<circle class="k1" cx="280.0" cy="261.9" r="1.9"/>
<circle class="k17" cx="277.6" cy="262.8" r="1.9"/>
<circle class="k2" cx="272.0" cy="262.8" r="1.9"/>
<circle class="k35" cx="275.2" cy="262.8" r="1.9"/>
<circle class="k1" cx="271.2" cy="262.8" r="1.9"/>
<circle class="k2" cx="271.2" cy="261.9" r="1.9"/>
<circle class="k30" cx="276.8" cy="261.9" r="1.9"/>
<circle class="k0" cx="272.0" cy="261.9" r="1.9"/>
<circle class="k38" cx="275.2" cy="261.9" r="1.9"/>
<circle class="k0" cx="279.2" cy="262.8" r="1.9"/>
<circle class="k2" cx="278.4" cy="262.8" r="1.9"/>
<circle class="k0" cx="273.6" cy="262.8" r="1.9"/>
<circle class="k0" cx="272.8" cy="261.9" r="1.9"/>
<circle class="k3" cx="278.4" cy="261.9" r="1.9"/>
<circle class="k34" cx="276.0" cy="261.9" r="1.9"/>
<circle class="k17" cx="277.6" cy="261.9" r="1.9"/>
<circle class="k1" cx="280.0" cy="262.8" r="1.9"/>
<circle class="k28" cx="274.4" cy="262.8" r="1.9"/>
<circle class="k36" cx="276.0" cy="262.8" r="1.9"/>
<circle class="k2" cx="279.2" cy="261.9" r="1.9"/>
<circle class="k3" cx="273.6" cy="261.9" r="1.9"/>
<circle class="k1" cx="272.8" cy="262.8" r="1.9"/>
<circle class="k31" cx="276.8" cy="262.8" r="1.9"/>
<circle class="k27" cx="274.4" cy="261.9" r="1.9"/>
<circle class="k25" cx="276.4" cy="299.6" r="1.9"/>
<circle class="k36" cx="274.6" cy="284.8" r="1.9"/>
<circle class="k1" cx="276.5" cy="293.3" r="1.9"/>
<circle class="k36" cx="274.5" cy="283.2" r="1.9"/>
<circle class="k28" cx="276.6" cy="297.0" r="1.9"/>
<circle class="k3" cx="276.4" cy="289.7" r="1.9"/>
<circle class="k25" cx="274.4" cy="298.5" r="1.9"/>
<circle class="k35" cx="275.5" cy="295.7" r="1.9"/>
<circle class="k2" cx="275.5" cy="293.5" r="1.9"/>
<circle class="k0" cx="275.5" cy="287.6" r="1.9"/>
<circle class="k22" cx="276.1" cy="300.5" r="1.9"/>
<circle class="k23" cx="276.4" cy="296.2" r="1.9"/>
<circle class="k39" cx="276.4" cy="281.2" r="1.9"/>
<circle class="k23" cx="275.6" cy="297.8" r="1.9"/>
<circle class="k37" cx="275.4" cy="286.6" r="1.9"/>
<circle class="k20" cx="274.4" cy="291.4" r="1.9"/>
<circle class="k37" cx="274.6" cy="295.8" r="1.9"/>
<circle class="k36" cx="274.5" cy="298.0" r="1.9"/>
<circle class="k2" cx="276.6" cy="292.2" r="1.9"/>
<circle class="k39" cx="275.6" cy="279.4" r="1.9"/>
<circle class="k39" cx="275.4" cy="296.8" r="1.9"/>
<circle class="k34" cx="276.6" cy="283.5" r="1.9"/>
<circle class="k21" cx="274.5" cy="288.8" r="1.9"/>
<circle class="k38" cx="274.6" cy="286.3" r="1.9"/>
<circle class="k3" cx="274.5" cy="292.4" r="1.9"/>
<circle class="k29" cx="274.4" cy="299.5" r="1.9"/>
<circle class="k36" cx="276.4" cy="285.8" r="1.9"/>
<circle class="k35" cx="276.0" cy="279.7" r="1.9"/>
<circle class="k39" cx="275.4" cy="281.4" r="1.9"/>
<circle class="k39" cx="276.5" cy="285.3" r="1.9"/>
<circle class="k39" cx="276.4" cy="280.7" r="1.9"/>
<circle class="k37" cx="276.5" cy="290.5" r="1.9"/>
<circle class="k39" cx="275.4" cy="284.0" r="1.9"/>
<circle class="k24" cx="276.5" cy="297.5" r="1.9"/>
<circle class="k39" cx="275.4" cy="286.1" r="1.9"/>
<circle class="k26" cx="274.4" cy="294.9" r="1.9"/>
<circle class="k39" cx="275.6" cy="283.3" r="1.9"/>
<circle class="k4" cx="274.4" cy="289.4" r="1.9"/>
<circle class="k35" cx="276.6" cy="293.8" r="1.9"/>
<circle class="k39" cx="274.5" cy="281.5" r="1.9"/>
<circle class="k1" cx="274.5" cy="290.6" r="1.9"/>
<circle class="k39" cx="274.7" cy="300.3" r="1.9"/>
<circle class="k23" cx="274.4" cy="296.5" r="1.9"/>
<circle class="k36" cx="275.6" cy="284.8" r="1.9"/>
<circle class="k39" cx="276.4" cy="295.1" r="1.9"/>
<circle class="k35" cx="274.7" cy="280.3" r="1.9"/>
<circle class="k30" cx="275.4" cy="298.3" r="1.9"/>
<circle class="k1" cx="274.4" cy="293.9" r="1.9"/>
<circle class="k35" cx="274.4" cy="286.7" r="1.9"/>
<circle class="k35" cx="276.6" cy="286.7" r="1.9"/>
<circle class="k22" cx="275.4" cy="299.7" r="1.9"/>
<circle class="k21" cx="276.5" cy="298.7" r="1.9"/>
<circle class="k39" cx="275.1" cy="279.5" r="1.9"/>
<circle class="k34" cx="274.4" cy="284.0" r="1.9"/>
<circle class="k39" cx="275.5" cy="282.2" r="1.9"/>
<circle class="k39" cx="275.5" cy="295.2" r="1.9"/>
<circle class="k2" cx="276.6" cy="291.7" r="1.9"/>
<circle class="k33" cx="274.5" cy="282.1" r="1.9"/>
<circle class="k33" cx="275.4" cy="290.6" r="1.9"/>
<circle class="k37" cx="275.6" cy="289.7" r="1.9"/>
<circle class="k1" cx="274.5" cy="293.4" r="1.9"/>
<circle class="k2" cx="275.5" cy="293.8" r="1.9"/>
<circle class="k21" cx="275.4" cy="292.5" r="1.9"/>
<circle class="k34" cx="275.5" cy="291.1" r="1.9"/>
<circle class="k19" cx="275.4" cy="288.6" r="1.9"/>
<circle class="k33" cx="276.6" cy="288.8" r="1.9"/>
<circle class="k39" cx="275.4" cy="280.4" r="1.9"/>
<circle class="k39" cx="276.6" cy="284.2" r="1.9"/>
<circle class="k3" cx="274.4" cy="287.6" r="1.9"/>
<circle class="k32" cx="276.6" cy="282.5" r="1.9"/>
<circle class="k19" cx="276.4" cy="287.7" r="1.9"/>
<circle class="k39" cx="275.5" cy="300.6" r="1.9"/>
<circle class="k8" cx="273.2" cy="290.2" r="1.9"/>
<circle class="k0" cx="275.6" cy="291.1" r="1.9"/>
<circle class="k0" cx="274.0" cy="291.1" r="1.9"/>
<circle class="k15" cx="272.4" cy="291.1" r="1.9"/>
<circle class="k8" cx="277.2" cy="291.1" r="1.9"/>
<circle class="k0" cx="274.0" cy="290.2" r="1.9"/>
<circle class="k10" cx="277.2" cy="290.2" r="1.9"/>
<circle class="k0" cx="275.6" cy="290.2" r="1.9"/>
<circle class="k36" cx="278.0" cy="290.2" r="1.9"/>
<circle class="k0" cx="276.4" cy="291.1" r="1.9"/>
<circle class="k35" cx="278.0" cy="291.1" r="1.9"/>
<circle class="k0" cx="274.8" cy="290.2" r="1.9"/>
<circle class="k19" cx="272.4" cy="290.2" r="1.9"/>
<circle class="k0" cx="276.4" cy="290.2" r="1.9"/>
<circle class="k2" cx="274.8" cy="291.1" r="1.9"/>
<circle class="k6" cx="273.2" cy="291.1" r="1.9"/>
</g>
<line x1="128.6" y1="319.5" x2="482.4" y2="319.5" stroke="#333" stroke-width="0.9"/>
<line x1="139.4" y1="319.5" x2="139.4" y2="323" stroke="#333" stroke-width="0.8"/>
<text class="xt" x="139.4" y="334.5">-4</text>
<line x1="207.9" y1="319.5" x2="207.9" y2="323" stroke="#333" stroke-width="0.8"/>
<text class="xt" x="207.9" y="334.5">-2</text>
<line x1="276.3" y1="319.5" x2="276.3" y2="323" stroke="#333" stroke-width="0.8"/>
<text class="xt" x="276.3" y="334.5">0</text>
<line x1="344.7" y1="319.5" x2="344.7" y2="323" stroke="#333" stroke-width="0.8"/>
<text class="xt" x="344.7" y="334.5">2</text>
<line x1="413.2" y1="319.5" x2="413.2" y2="323" stroke="#333" stroke-width="0.8"/>
<text class="xt" x="413.2" y="334.5">4</text>
<line x1="481.6" y1="319.5" x2="481.6" y2="323" stroke="#333" stroke-width="0.8"/>
<text class="xt" x="481.6" y="334.5">6</text>
<text class="xl" x="305.1" y="351.4">SHAP value (impact on model output)</text>
<text class="yl" x="104.4" y="41.3">M1</text>
<text class="yl" x="104.4" y="71.5">delta_T</text>
<text class="yl" x="104.4" y="98.7">area</text>
<text class="yl" x="104.4" y="126.7">T1</text>
<text class="yl" x="104.4" y="154.7">M2</text>
<text class="yl" x="104.4" y="182.7">T2</text>
<text class="yl" x="104.4" y="210.9">temp</text>
<text class="yl" x="104.4" y="240.9">delta_M</text>
<text class="yl" x="104.4" y="268.4">age_of_building</text>
<text class="yl" x="104.4" y="296.3">walls material</text>
<rect x="504.4" y="8" width="4.4" height="310.8" fill="url(#g)"/>
<text class="cb" x="512.6" y="12">High</text>
<text class="cb" x="512.6" y="323">Low</text>
<text class="fv" transform="translate(546.7,164.4) rotate(-90)">Feature value</text>
</svg></body></html>
